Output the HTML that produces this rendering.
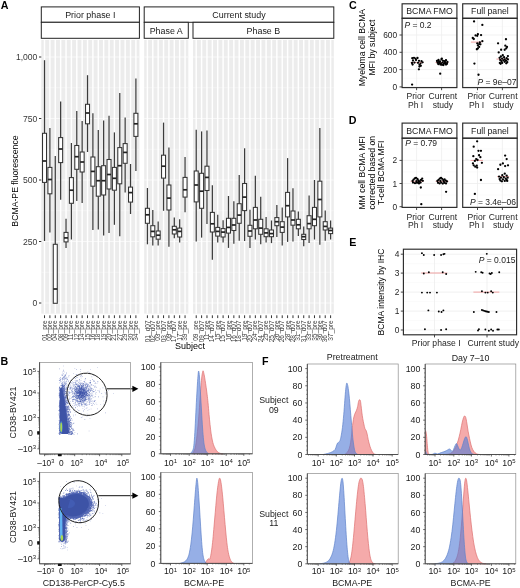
<!DOCTYPE html>
<html lang="en"><head><meta charset="utf-8"><title>Figure</title>
<style>
html,body{margin:0;padding:0;background:#fff;}
svg{display:block;font-family:"Liberation Sans", sans-serif;}
</style></head><body>
<svg width="520" height="588" viewBox="0 0 520 588">
<rect x="0" y="0" width="520" height="588" fill="#fff"/>
<rect x="41.3" y="40" width="98.1" height="273.6" fill="#ececec" stroke="none" stroke-width="1" />
<line x1="41.3" y1="272.25" x2="139.4" y2="272.25" stroke="#f5f5f5" stroke-width="0.8" />
<line x1="41.3" y1="210.75" x2="139.4" y2="210.75" stroke="#f5f5f5" stroke-width="0.8" />
<line x1="41.3" y1="149.25" x2="139.4" y2="149.25" stroke="#f5f5f5" stroke-width="0.8" />
<line x1="41.3" y1="87.75" x2="139.4" y2="87.75" stroke="#f5f5f5" stroke-width="0.8" />
<line x1="41.3" y1="303" x2="139.4" y2="303" stroke="#fafafa" stroke-width="0.85" />
<line x1="41.3" y1="241.5" x2="139.4" y2="241.5" stroke="#fafafa" stroke-width="0.85" />
<line x1="41.3" y1="180" x2="139.4" y2="180" stroke="#fafafa" stroke-width="0.85" />
<line x1="41.3" y1="118.5" x2="139.4" y2="118.5" stroke="#fafafa" stroke-width="0.85" />
<line x1="41.3" y1="57" x2="139.4" y2="57" stroke="#fafafa" stroke-width="0.85" />
<line x1="44.52" y1="40" x2="44.52" y2="313.6" stroke="#ffffff" stroke-width="1.45" />
<line x1="44.52" y1="315.3" x2="44.52" y2="318.1" stroke="#333" stroke-width="1" />
<line x1="49.9" y1="40" x2="49.9" y2="313.6" stroke="#ffffff" stroke-width="1.45" />
<line x1="49.9" y1="315.3" x2="49.9" y2="318.1" stroke="#333" stroke-width="1" />
<line x1="55.27" y1="40" x2="55.27" y2="313.6" stroke="#ffffff" stroke-width="1.45" />
<line x1="55.27" y1="315.3" x2="55.27" y2="318.1" stroke="#333" stroke-width="1" />
<line x1="60.65" y1="40" x2="60.65" y2="313.6" stroke="#ffffff" stroke-width="1.45" />
<line x1="60.65" y1="315.3" x2="60.65" y2="318.1" stroke="#333" stroke-width="1" />
<line x1="66.03" y1="40" x2="66.03" y2="313.6" stroke="#ffffff" stroke-width="1.45" />
<line x1="66.03" y1="315.3" x2="66.03" y2="318.1" stroke="#333" stroke-width="1" />
<line x1="71.4" y1="40" x2="71.4" y2="313.6" stroke="#ffffff" stroke-width="1.45" />
<line x1="71.4" y1="315.3" x2="71.4" y2="318.1" stroke="#333" stroke-width="1" />
<line x1="76.78" y1="40" x2="76.78" y2="313.6" stroke="#ffffff" stroke-width="1.45" />
<line x1="76.78" y1="315.3" x2="76.78" y2="318.1" stroke="#333" stroke-width="1" />
<line x1="82.15" y1="40" x2="82.15" y2="313.6" stroke="#ffffff" stroke-width="1.45" />
<line x1="82.15" y1="315.3" x2="82.15" y2="318.1" stroke="#333" stroke-width="1" />
<line x1="87.53" y1="40" x2="87.53" y2="313.6" stroke="#ffffff" stroke-width="1.45" />
<line x1="87.53" y1="315.3" x2="87.53" y2="318.1" stroke="#333" stroke-width="1" />
<line x1="92.9" y1="40" x2="92.9" y2="313.6" stroke="#ffffff" stroke-width="1.45" />
<line x1="92.9" y1="315.3" x2="92.9" y2="318.1" stroke="#333" stroke-width="1" />
<line x1="98.28" y1="40" x2="98.28" y2="313.6" stroke="#ffffff" stroke-width="1.45" />
<line x1="98.28" y1="315.3" x2="98.28" y2="318.1" stroke="#333" stroke-width="1" />
<line x1="103.65" y1="40" x2="103.65" y2="313.6" stroke="#ffffff" stroke-width="1.45" />
<line x1="103.65" y1="315.3" x2="103.65" y2="318.1" stroke="#333" stroke-width="1" />
<line x1="109.03" y1="40" x2="109.03" y2="313.6" stroke="#ffffff" stroke-width="1.45" />
<line x1="109.03" y1="315.3" x2="109.03" y2="318.1" stroke="#333" stroke-width="1" />
<line x1="114.4" y1="40" x2="114.4" y2="313.6" stroke="#ffffff" stroke-width="1.45" />
<line x1="114.4" y1="315.3" x2="114.4" y2="318.1" stroke="#333" stroke-width="1" />
<line x1="119.78" y1="40" x2="119.78" y2="313.6" stroke="#ffffff" stroke-width="1.45" />
<line x1="119.78" y1="315.3" x2="119.78" y2="318.1" stroke="#333" stroke-width="1" />
<line x1="125.15" y1="40" x2="125.15" y2="313.6" stroke="#ffffff" stroke-width="1.45" />
<line x1="125.15" y1="315.3" x2="125.15" y2="318.1" stroke="#333" stroke-width="1" />
<line x1="130.53" y1="40" x2="130.53" y2="313.6" stroke="#ffffff" stroke-width="1.45" />
<line x1="130.53" y1="315.3" x2="130.53" y2="318.1" stroke="#333" stroke-width="1" />
<line x1="135.9" y1="40" x2="135.9" y2="313.6" stroke="#ffffff" stroke-width="1.45" />
<line x1="135.9" y1="315.3" x2="135.9" y2="318.1" stroke="#333" stroke-width="1" />
<rect x="144.2" y="40" width="44.1" height="273.6" fill="#ececec" stroke="none" stroke-width="1" />
<line x1="144.2" y1="272.25" x2="188.3" y2="272.25" stroke="#f5f5f5" stroke-width="0.8" />
<line x1="144.2" y1="210.75" x2="188.3" y2="210.75" stroke="#f5f5f5" stroke-width="0.8" />
<line x1="144.2" y1="149.25" x2="188.3" y2="149.25" stroke="#f5f5f5" stroke-width="0.8" />
<line x1="144.2" y1="87.75" x2="188.3" y2="87.75" stroke="#f5f5f5" stroke-width="0.8" />
<line x1="144.2" y1="303" x2="188.3" y2="303" stroke="#fafafa" stroke-width="0.85" />
<line x1="144.2" y1="241.5" x2="188.3" y2="241.5" stroke="#fafafa" stroke-width="0.85" />
<line x1="144.2" y1="180" x2="188.3" y2="180" stroke="#fafafa" stroke-width="0.85" />
<line x1="144.2" y1="118.5" x2="188.3" y2="118.5" stroke="#fafafa" stroke-width="0.85" />
<line x1="144.2" y1="57" x2="188.3" y2="57" stroke="#fafafa" stroke-width="0.85" />
<line x1="147.42" y1="40" x2="147.42" y2="313.6" stroke="#ffffff" stroke-width="1.45" />
<line x1="147.42" y1="315.3" x2="147.42" y2="318.1" stroke="#333" stroke-width="1" />
<line x1="152.8" y1="40" x2="152.8" y2="313.6" stroke="#ffffff" stroke-width="1.45" />
<line x1="152.8" y1="315.3" x2="152.8" y2="318.1" stroke="#333" stroke-width="1" />
<line x1="158.17" y1="40" x2="158.17" y2="313.6" stroke="#ffffff" stroke-width="1.45" />
<line x1="158.17" y1="315.3" x2="158.17" y2="318.1" stroke="#333" stroke-width="1" />
<line x1="163.55" y1="40" x2="163.55" y2="313.6" stroke="#ffffff" stroke-width="1.45" />
<line x1="163.55" y1="315.3" x2="163.55" y2="318.1" stroke="#333" stroke-width="1" />
<line x1="168.92" y1="40" x2="168.92" y2="313.6" stroke="#ffffff" stroke-width="1.45" />
<line x1="168.92" y1="315.3" x2="168.92" y2="318.1" stroke="#333" stroke-width="1" />
<line x1="174.3" y1="40" x2="174.3" y2="313.6" stroke="#ffffff" stroke-width="1.45" />
<line x1="174.3" y1="315.3" x2="174.3" y2="318.1" stroke="#333" stroke-width="1" />
<line x1="179.67" y1="40" x2="179.67" y2="313.6" stroke="#ffffff" stroke-width="1.45" />
<line x1="179.67" y1="315.3" x2="179.67" y2="318.1" stroke="#333" stroke-width="1" />
<line x1="185.05" y1="40" x2="185.05" y2="313.6" stroke="#ffffff" stroke-width="1.45" />
<line x1="185.05" y1="315.3" x2="185.05" y2="318.1" stroke="#333" stroke-width="1" />
<rect x="193" y="40" width="140.8" height="273.6" fill="#ececec" stroke="none" stroke-width="1" />
<line x1="193" y1="272.25" x2="333.8" y2="272.25" stroke="#f5f5f5" stroke-width="0.8" />
<line x1="193" y1="210.75" x2="333.8" y2="210.75" stroke="#f5f5f5" stroke-width="0.8" />
<line x1="193" y1="149.25" x2="333.8" y2="149.25" stroke="#f5f5f5" stroke-width="0.8" />
<line x1="193" y1="87.75" x2="333.8" y2="87.75" stroke="#f5f5f5" stroke-width="0.8" />
<line x1="193" y1="303" x2="333.8" y2="303" stroke="#fafafa" stroke-width="0.85" />
<line x1="193" y1="241.5" x2="333.8" y2="241.5" stroke="#fafafa" stroke-width="0.85" />
<line x1="193" y1="180" x2="333.8" y2="180" stroke="#fafafa" stroke-width="0.85" />
<line x1="193" y1="118.5" x2="333.8" y2="118.5" stroke="#fafafa" stroke-width="0.85" />
<line x1="193" y1="57" x2="333.8" y2="57" stroke="#fafafa" stroke-width="0.85" />
<line x1="196.22" y1="40" x2="196.22" y2="313.6" stroke="#ffffff" stroke-width="1.45" />
<line x1="196.22" y1="315.3" x2="196.22" y2="318.1" stroke="#333" stroke-width="1" />
<line x1="201.6" y1="40" x2="201.6" y2="313.6" stroke="#ffffff" stroke-width="1.45" />
<line x1="201.6" y1="315.3" x2="201.6" y2="318.1" stroke="#333" stroke-width="1" />
<line x1="206.97" y1="40" x2="206.97" y2="313.6" stroke="#ffffff" stroke-width="1.45" />
<line x1="206.97" y1="315.3" x2="206.97" y2="318.1" stroke="#333" stroke-width="1" />
<line x1="212.35" y1="40" x2="212.35" y2="313.6" stroke="#ffffff" stroke-width="1.45" />
<line x1="212.35" y1="315.3" x2="212.35" y2="318.1" stroke="#333" stroke-width="1" />
<line x1="217.72" y1="40" x2="217.72" y2="313.6" stroke="#ffffff" stroke-width="1.45" />
<line x1="217.72" y1="315.3" x2="217.72" y2="318.1" stroke="#333" stroke-width="1" />
<line x1="223.1" y1="40" x2="223.1" y2="313.6" stroke="#ffffff" stroke-width="1.45" />
<line x1="223.1" y1="315.3" x2="223.1" y2="318.1" stroke="#333" stroke-width="1" />
<line x1="228.47" y1="40" x2="228.47" y2="313.6" stroke="#ffffff" stroke-width="1.45" />
<line x1="228.47" y1="315.3" x2="228.47" y2="318.1" stroke="#333" stroke-width="1" />
<line x1="233.85" y1="40" x2="233.85" y2="313.6" stroke="#ffffff" stroke-width="1.45" />
<line x1="233.85" y1="315.3" x2="233.85" y2="318.1" stroke="#333" stroke-width="1" />
<line x1="239.22" y1="40" x2="239.22" y2="313.6" stroke="#ffffff" stroke-width="1.45" />
<line x1="239.22" y1="315.3" x2="239.22" y2="318.1" stroke="#333" stroke-width="1" />
<line x1="244.6" y1="40" x2="244.6" y2="313.6" stroke="#ffffff" stroke-width="1.45" />
<line x1="244.6" y1="315.3" x2="244.6" y2="318.1" stroke="#333" stroke-width="1" />
<line x1="249.97" y1="40" x2="249.97" y2="313.6" stroke="#ffffff" stroke-width="1.45" />
<line x1="249.97" y1="315.3" x2="249.97" y2="318.1" stroke="#333" stroke-width="1" />
<line x1="255.35" y1="40" x2="255.35" y2="313.6" stroke="#ffffff" stroke-width="1.45" />
<line x1="255.35" y1="315.3" x2="255.35" y2="318.1" stroke="#333" stroke-width="1" />
<line x1="260.73" y1="40" x2="260.73" y2="313.6" stroke="#ffffff" stroke-width="1.45" />
<line x1="260.73" y1="315.3" x2="260.73" y2="318.1" stroke="#333" stroke-width="1" />
<line x1="266.1" y1="40" x2="266.1" y2="313.6" stroke="#ffffff" stroke-width="1.45" />
<line x1="266.1" y1="315.3" x2="266.1" y2="318.1" stroke="#333" stroke-width="1" />
<line x1="271.48" y1="40" x2="271.48" y2="313.6" stroke="#ffffff" stroke-width="1.45" />
<line x1="271.48" y1="315.3" x2="271.48" y2="318.1" stroke="#333" stroke-width="1" />
<line x1="276.85" y1="40" x2="276.85" y2="313.6" stroke="#ffffff" stroke-width="1.45" />
<line x1="276.85" y1="315.3" x2="276.85" y2="318.1" stroke="#333" stroke-width="1" />
<line x1="282.23" y1="40" x2="282.23" y2="313.6" stroke="#ffffff" stroke-width="1.45" />
<line x1="282.23" y1="315.3" x2="282.23" y2="318.1" stroke="#333" stroke-width="1" />
<line x1="287.6" y1="40" x2="287.6" y2="313.6" stroke="#ffffff" stroke-width="1.45" />
<line x1="287.6" y1="315.3" x2="287.6" y2="318.1" stroke="#333" stroke-width="1" />
<line x1="292.98" y1="40" x2="292.98" y2="313.6" stroke="#ffffff" stroke-width="1.45" />
<line x1="292.98" y1="315.3" x2="292.98" y2="318.1" stroke="#333" stroke-width="1" />
<line x1="298.35" y1="40" x2="298.35" y2="313.6" stroke="#ffffff" stroke-width="1.45" />
<line x1="298.35" y1="315.3" x2="298.35" y2="318.1" stroke="#333" stroke-width="1" />
<line x1="303.73" y1="40" x2="303.73" y2="313.6" stroke="#ffffff" stroke-width="1.45" />
<line x1="303.73" y1="315.3" x2="303.73" y2="318.1" stroke="#333" stroke-width="1" />
<line x1="309.1" y1="40" x2="309.1" y2="313.6" stroke="#ffffff" stroke-width="1.45" />
<line x1="309.1" y1="315.3" x2="309.1" y2="318.1" stroke="#333" stroke-width="1" />
<line x1="314.48" y1="40" x2="314.48" y2="313.6" stroke="#ffffff" stroke-width="1.45" />
<line x1="314.48" y1="315.3" x2="314.48" y2="318.1" stroke="#333" stroke-width="1" />
<line x1="319.85" y1="40" x2="319.85" y2="313.6" stroke="#ffffff" stroke-width="1.45" />
<line x1="319.85" y1="315.3" x2="319.85" y2="318.1" stroke="#333" stroke-width="1" />
<line x1="325.23" y1="40" x2="325.23" y2="313.6" stroke="#ffffff" stroke-width="1.45" />
<line x1="325.23" y1="315.3" x2="325.23" y2="318.1" stroke="#333" stroke-width="1" />
<line x1="330.6" y1="40" x2="330.6" y2="313.6" stroke="#ffffff" stroke-width="1.45" />
<line x1="330.6" y1="315.3" x2="330.6" y2="318.1" stroke="#333" stroke-width="1" />
<rect x="41.3" y="6.9" width="98.1" height="15.4" fill="#fff" stroke="#222" stroke-width="1" />
<rect x="41.3" y="22.3" width="98.1" height="16" fill="#fff" stroke="#222" stroke-width="1" />
<rect x="144.2" y="6.9" width="189.6" height="15.4" fill="#fff" stroke="#222" stroke-width="1" />
<rect x="144.2" y="22.3" width="44.1" height="16" fill="#fff" stroke="#222" stroke-width="1" />
<rect x="193" y="22.3" width="140.8" height="16" fill="#fff" stroke="#222" stroke-width="1" />
<text x="90.3" y="18.2" font-size="8.9" text-anchor="middle" fill="#1a1a1a">Prior phase I</text>
<text x="239" y="18.2" font-size="8.9" text-anchor="middle" fill="#1a1a1a">Current study</text>
<text x="166.2" y="33.8" font-size="8.9" text-anchor="middle" fill="#1a1a1a">Phase A</text>
<text x="263.4" y="33.8" font-size="8.9" text-anchor="middle" fill="#1a1a1a">Phase B</text>
<line x1="39" y1="303" x2="41.3" y2="303" stroke="#333" stroke-width="1" />
<text x="37.4" y="306" font-size="8.6" text-anchor="end" fill="#383838">0</text>
<line x1="39" y1="241.5" x2="41.3" y2="241.5" stroke="#333" stroke-width="1" />
<text x="37.4" y="244.5" font-size="8.6" text-anchor="end" fill="#383838">250</text>
<line x1="39" y1="180" x2="41.3" y2="180" stroke="#333" stroke-width="1" />
<text x="37.4" y="183" font-size="8.6" text-anchor="end" fill="#383838">500</text>
<line x1="39" y1="118.5" x2="41.3" y2="118.5" stroke="#333" stroke-width="1" />
<text x="37.4" y="121.5" font-size="8.6" text-anchor="end" fill="#383838">750</text>
<line x1="39" y1="57" x2="41.3" y2="57" stroke="#333" stroke-width="1" />
<text x="37.4" y="60" font-size="8.6" text-anchor="end" fill="#383838">1,000</text>
<text x="17.8" y="181" font-size="8.7" text-anchor="middle" fill="#000" transform="rotate(-90 17.8 181)">BCMA-PE fluorescence</text>
<text x="190" y="349.2" font-size="9" text-anchor="middle" fill="#000">Subject</text>
<line x1="44.52" y1="60.2" x2="44.52" y2="133.3" stroke="#3c3c3c" stroke-width="1.25" />
<line x1="44.52" y1="182.4" x2="44.52" y2="241" stroke="#3c3c3c" stroke-width="1.25" />
<rect x="42.52" y="133.3" width="4" height="49.1" fill="#fff" stroke="#333" stroke-width="1.05" />
<line x1="42.52" y1="161" x2="46.52" y2="161" stroke="#222" stroke-width="1.7" />
<text x="46.62" y="320.3" font-size="6.6" text-anchor="end" fill="#3a3a3a" transform="rotate(-90 46.62 320.3)">01_pre</text>
<line x1="49.9" y1="128" x2="49.9" y2="167.4" stroke="#3c3c3c" stroke-width="1.25" />
<line x1="49.9" y1="193.8" x2="49.9" y2="232.4" stroke="#3c3c3c" stroke-width="1.25" />
<rect x="47.9" y="167.4" width="4" height="26.4" fill="#fff" stroke="#333" stroke-width="1.05" />
<line x1="47.9" y1="179.5" x2="51.9" y2="179.5" stroke="#222" stroke-width="1.7" />
<text x="52" y="320.3" font-size="6.6" text-anchor="end" fill="#3a3a3a" transform="rotate(-90 52 320.3)">02_pre</text>
<line x1="55.27" y1="156" x2="55.27" y2="244.3" stroke="#3c3c3c" stroke-width="1.25" />
<line x1="55.27" y1="303.3" x2="55.27" y2="303.3" stroke="#3c3c3c" stroke-width="1.25" />
<rect x="53.27" y="244.3" width="4" height="59" fill="#fff" stroke="#333" stroke-width="1.05" />
<line x1="53.27" y1="289" x2="57.27" y2="289" stroke="#222" stroke-width="1.7" />
<text x="57.38" y="320.3" font-size="6.6" text-anchor="end" fill="#3a3a3a" transform="rotate(-90 57.38 320.3)">04_pre</text>
<line x1="60.65" y1="101.4" x2="60.65" y2="137.6" stroke="#3c3c3c" stroke-width="1.25" />
<line x1="60.65" y1="162.6" x2="60.65" y2="199.8" stroke="#3c3c3c" stroke-width="1.25" />
<rect x="58.65" y="137.6" width="4" height="25" fill="#fff" stroke="#333" stroke-width="1.05" />
<line x1="58.65" y1="149" x2="62.65" y2="149" stroke="#222" stroke-width="1.7" />
<text x="62.75" y="320.3" font-size="6.6" text-anchor="end" fill="#3a3a3a" transform="rotate(-90 62.75 320.3)">08_pre</text>
<line x1="66.03" y1="218.8" x2="66.03" y2="232.4" stroke="#3c3c3c" stroke-width="1.25" />
<line x1="66.03" y1="241.9" x2="66.03" y2="248" stroke="#3c3c3c" stroke-width="1.25" />
<rect x="64.03" y="232.4" width="4" height="9.5" fill="#fff" stroke="#333" stroke-width="1.05" />
<line x1="64.03" y1="237.9" x2="68.03" y2="237.9" stroke="#222" stroke-width="1.7" />
<text x="68.12" y="320.3" font-size="6.6" text-anchor="end" fill="#3a3a3a" transform="rotate(-90 68.12 320.3)">09_pre</text>
<line x1="71.4" y1="143" x2="71.4" y2="177.6" stroke="#3c3c3c" stroke-width="1.25" />
<line x1="71.4" y1="203.3" x2="71.4" y2="239.5" stroke="#3c3c3c" stroke-width="1.25" />
<rect x="69.4" y="177.6" width="4" height="25.7" fill="#fff" stroke="#333" stroke-width="1.05" />
<line x1="69.4" y1="190.2" x2="73.4" y2="190.2" stroke="#222" stroke-width="1.7" />
<text x="73.5" y="320.3" font-size="6.6" text-anchor="end" fill="#3a3a3a" transform="rotate(-90 73.5 320.3)">11_pre</text>
<line x1="76.78" y1="111" x2="76.78" y2="145.5" stroke="#3c3c3c" stroke-width="1.25" />
<line x1="76.78" y1="169.3" x2="76.78" y2="201" stroke="#3c3c3c" stroke-width="1.25" />
<rect x="74.78" y="145.5" width="4" height="23.8" fill="#fff" stroke="#333" stroke-width="1.05" />
<line x1="74.78" y1="156.7" x2="78.78" y2="156.7" stroke="#222" stroke-width="1.7" />
<text x="78.88" y="320.3" font-size="6.6" text-anchor="end" fill="#3a3a3a" transform="rotate(-90 78.88 320.3)">12_pre</text>
<line x1="82.15" y1="121" x2="82.15" y2="152" stroke="#3c3c3c" stroke-width="1.25" />
<line x1="82.15" y1="172" x2="82.15" y2="202.9" stroke="#3c3c3c" stroke-width="1.25" />
<rect x="80.15" y="152" width="4" height="20" fill="#fff" stroke="#333" stroke-width="1.05" />
<line x1="80.15" y1="162" x2="84.15" y2="162" stroke="#222" stroke-width="1.7" />
<text x="84.25" y="320.3" font-size="6.6" text-anchor="end" fill="#3a3a3a" transform="rotate(-90 84.25 320.3)">14_pre</text>
<line x1="87.53" y1="75.2" x2="87.53" y2="104.3" stroke="#3c3c3c" stroke-width="1.25" />
<line x1="87.53" y1="123.8" x2="87.53" y2="152" stroke="#3c3c3c" stroke-width="1.25" />
<rect x="85.53" y="104.3" width="4" height="19.5" fill="#fff" stroke="#333" stroke-width="1.05" />
<line x1="85.53" y1="113" x2="89.53" y2="113" stroke="#222" stroke-width="1.7" />
<text x="89.62" y="320.3" font-size="6.6" text-anchor="end" fill="#3a3a3a" transform="rotate(-90 89.62 320.3)">15_pre</text>
<line x1="92.9" y1="113.3" x2="92.9" y2="157" stroke="#3c3c3c" stroke-width="1.25" />
<line x1="92.9" y1="186.2" x2="92.9" y2="230" stroke="#3c3c3c" stroke-width="1.25" />
<rect x="90.9" y="157" width="4" height="29.2" fill="#fff" stroke="#333" stroke-width="1.05" />
<line x1="90.9" y1="171.4" x2="94.9" y2="171.4" stroke="#222" stroke-width="1.7" />
<text x="95" y="320.3" font-size="6.6" text-anchor="end" fill="#3a3a3a" transform="rotate(-90 95 320.3)">16_pre</text>
<line x1="98.28" y1="130" x2="98.28" y2="166.7" stroke="#3c3c3c" stroke-width="1.25" />
<line x1="98.28" y1="196.2" x2="98.28" y2="229.5" stroke="#3c3c3c" stroke-width="1.25" />
<rect x="96.28" y="166.7" width="4" height="29.5" fill="#fff" stroke="#333" stroke-width="1.05" />
<line x1="96.28" y1="180.7" x2="100.28" y2="180.7" stroke="#222" stroke-width="1.7" />
<text x="100.38" y="320.3" font-size="6.6" text-anchor="end" fill="#3a3a3a" transform="rotate(-90 100.38 320.3)">18_pre</text>
<line x1="103.65" y1="120.5" x2="103.65" y2="165.7" stroke="#3c3c3c" stroke-width="1.25" />
<line x1="103.65" y1="195" x2="103.65" y2="235.5" stroke="#3c3c3c" stroke-width="1.25" />
<rect x="101.65" y="165.7" width="4" height="29.3" fill="#fff" stroke="#333" stroke-width="1.05" />
<line x1="101.65" y1="180.7" x2="105.65" y2="180.7" stroke="#222" stroke-width="1.7" />
<text x="105.75" y="320.3" font-size="6.6" text-anchor="end" fill="#3a3a3a" transform="rotate(-90 105.75 320.3)">19_pre</text>
<line x1="109.03" y1="115.7" x2="109.03" y2="159.5" stroke="#3c3c3c" stroke-width="1.25" />
<line x1="109.03" y1="189" x2="109.03" y2="233" stroke="#3c3c3c" stroke-width="1.25" />
<rect x="107.03" y="159.5" width="4" height="29.5" fill="#fff" stroke="#333" stroke-width="1.05" />
<line x1="107.03" y1="174.5" x2="111.03" y2="174.5" stroke="#222" stroke-width="1.7" />
<text x="111.12" y="320.3" font-size="6.6" text-anchor="end" fill="#3a3a3a" transform="rotate(-90 111.12 320.3)">20_pre</text>
<line x1="114.4" y1="132.4" x2="114.4" y2="167.4" stroke="#3c3c3c" stroke-width="1.25" />
<line x1="114.4" y1="190.2" x2="114.4" y2="224.8" stroke="#3c3c3c" stroke-width="1.25" />
<rect x="112.4" y="167.4" width="4" height="22.8" fill="#fff" stroke="#333" stroke-width="1.05" />
<line x1="112.4" y1="178.3" x2="116.4" y2="178.3" stroke="#222" stroke-width="1.7" />
<text x="116.5" y="320.3" font-size="6.6" text-anchor="end" fill="#3a3a3a" transform="rotate(-90 116.5 320.3)">21_pre</text>
<line x1="119.78" y1="92.9" x2="119.78" y2="147.6" stroke="#3c3c3c" stroke-width="1.25" />
<line x1="119.78" y1="183.8" x2="119.78" y2="236.2" stroke="#3c3c3c" stroke-width="1.25" />
<rect x="117.78" y="147.6" width="4" height="36.2" fill="#fff" stroke="#333" stroke-width="1.05" />
<line x1="117.78" y1="165.7" x2="121.78" y2="165.7" stroke="#222" stroke-width="1.7" />
<text x="121.88" y="320.3" font-size="6.6" text-anchor="end" fill="#3a3a3a" transform="rotate(-90 121.88 320.3)">27_pre</text>
<line x1="125.15" y1="117.4" x2="125.15" y2="143.6" stroke="#3c3c3c" stroke-width="1.25" />
<line x1="125.15" y1="163.3" x2="125.15" y2="192.6" stroke="#3c3c3c" stroke-width="1.25" />
<rect x="123.15" y="143.6" width="4" height="19.7" fill="#fff" stroke="#333" stroke-width="1.05" />
<line x1="123.15" y1="152.4" x2="127.15" y2="152.4" stroke="#222" stroke-width="1.7" />
<text x="127.25" y="320.3" font-size="6.6" text-anchor="end" fill="#3a3a3a" transform="rotate(-90 127.25 320.3)">29_pre</text>
<line x1="130.53" y1="164" x2="130.53" y2="187.1" stroke="#3c3c3c" stroke-width="1.25" />
<line x1="130.53" y1="202.1" x2="130.53" y2="214" stroke="#3c3c3c" stroke-width="1.25" />
<rect x="128.53" y="187.1" width="4" height="15" fill="#fff" stroke="#333" stroke-width="1.05" />
<line x1="128.53" y1="192.6" x2="132.53" y2="192.6" stroke="#222" stroke-width="1.7" />
<text x="132.62" y="320.3" font-size="6.6" text-anchor="end" fill="#3a3a3a" transform="rotate(-90 132.62 320.3)">30_pre</text>
<line x1="135.9" y1="78.6" x2="135.9" y2="113.3" stroke="#3c3c3c" stroke-width="1.25" />
<line x1="135.9" y1="136.4" x2="135.9" y2="171" stroke="#3c3c3c" stroke-width="1.25" />
<rect x="133.9" y="113.3" width="4" height="23.1" fill="#fff" stroke="#333" stroke-width="1.05" />
<line x1="133.9" y1="123.8" x2="137.9" y2="123.8" stroke="#222" stroke-width="1.7" />
<text x="138" y="320.3" font-size="6.6" text-anchor="end" fill="#3a3a3a" transform="rotate(-90 138 320.3)">34_pre</text>
<line x1="147.42" y1="188" x2="147.42" y2="208.3" stroke="#3c3c3c" stroke-width="1.25" />
<line x1="147.42" y1="223.3" x2="147.42" y2="244.3" stroke="#3c3c3c" stroke-width="1.25" />
<rect x="145.42" y="208.3" width="4" height="15" fill="#fff" stroke="#333" stroke-width="1.05" />
<line x1="145.42" y1="214.8" x2="149.42" y2="214.8" stroke="#222" stroke-width="1.7" />
<text x="149.52" y="320.3" font-size="6.6" text-anchor="end" fill="#3a3a3a" transform="rotate(-90 149.52 320.3)">01_d07</text>
<line x1="152.8" y1="210" x2="152.8" y2="225.7" stroke="#3c3c3c" stroke-width="1.25" />
<line x1="152.8" y1="236.8" x2="152.8" y2="245.5" stroke="#3c3c3c" stroke-width="1.25" />
<rect x="150.8" y="225.7" width="4" height="11.1" fill="#fff" stroke="#333" stroke-width="1.05" />
<line x1="150.8" y1="231.4" x2="154.8" y2="231.4" stroke="#222" stroke-width="1.7" />
<text x="154.9" y="320.3" font-size="6.6" text-anchor="end" fill="#3a3a3a" transform="rotate(-90 154.9 320.3)">02_d07</text>
<line x1="158.17" y1="221.4" x2="158.17" y2="231" stroke="#3c3c3c" stroke-width="1.25" />
<line x1="158.17" y1="239.2" x2="158.17" y2="245.5" stroke="#3c3c3c" stroke-width="1.25" />
<rect x="156.17" y="231" width="4" height="8.2" fill="#fff" stroke="#333" stroke-width="1.05" />
<line x1="156.17" y1="235.2" x2="160.17" y2="235.2" stroke="#222" stroke-width="1.7" />
<text x="160.27" y="320.3" font-size="6.6" text-anchor="end" fill="#3a3a3a" transform="rotate(-90 160.27 320.3)">03_pre</text>
<line x1="163.55" y1="122.6" x2="163.55" y2="155.2" stroke="#3c3c3c" stroke-width="1.25" />
<line x1="163.55" y1="178.1" x2="163.55" y2="210.8" stroke="#3c3c3c" stroke-width="1.25" />
<rect x="161.55" y="155.2" width="4" height="22.9" fill="#fff" stroke="#333" stroke-width="1.05" />
<line x1="161.55" y1="166.2" x2="165.55" y2="166.2" stroke="#222" stroke-width="1.7" />
<text x="165.65" y="320.3" font-size="6.6" text-anchor="end" fill="#3a3a3a" transform="rotate(-90 165.65 320.3)">03_d07</text>
<line x1="168.92" y1="147.6" x2="168.92" y2="185" stroke="#3c3c3c" stroke-width="1.25" />
<line x1="168.92" y1="210" x2="168.92" y2="246.7" stroke="#3c3c3c" stroke-width="1.25" />
<rect x="166.92" y="185" width="4" height="25" fill="#fff" stroke="#333" stroke-width="1.05" />
<line x1="166.92" y1="198.1" x2="170.92" y2="198.1" stroke="#222" stroke-width="1.7" />
<text x="171.02" y="320.3" font-size="6.6" text-anchor="end" fill="#3a3a3a" transform="rotate(-90 171.02 320.3)">09_pre</text>
<line x1="174.3" y1="217.4" x2="174.3" y2="226.3" stroke="#3c3c3c" stroke-width="1.25" />
<line x1="174.3" y1="234" x2="174.3" y2="238.2" stroke="#3c3c3c" stroke-width="1.25" />
<rect x="172.3" y="226.3" width="4" height="7.7" fill="#fff" stroke="#333" stroke-width="1.05" />
<line x1="172.3" y1="229.8" x2="176.3" y2="229.8" stroke="#222" stroke-width="1.7" />
<text x="176.4" y="320.3" font-size="6.6" text-anchor="end" fill="#3a3a3a" transform="rotate(-90 176.4 320.3)">17_d07</text>
<line x1="179.67" y1="219.2" x2="179.67" y2="228.1" stroke="#3c3c3c" stroke-width="1.25" />
<line x1="179.67" y1="237" x2="179.67" y2="242.4" stroke="#3c3c3c" stroke-width="1.25" />
<rect x="177.67" y="228.1" width="4" height="8.9" fill="#fff" stroke="#333" stroke-width="1.05" />
<line x1="177.67" y1="231.4" x2="181.67" y2="231.4" stroke="#222" stroke-width="1.7" />
<text x="181.77" y="320.3" font-size="6.6" text-anchor="end" fill="#3a3a3a" transform="rotate(-90 181.77 320.3)">17_pre</text>
<line x1="185.05" y1="157.1" x2="185.05" y2="177.4" stroke="#3c3c3c" stroke-width="1.25" />
<line x1="185.05" y1="197.1" x2="185.05" y2="212.2" stroke="#3c3c3c" stroke-width="1.25" />
<rect x="183.05" y="177.4" width="4" height="19.7" fill="#fff" stroke="#333" stroke-width="1.05" />
<line x1="183.05" y1="189.8" x2="187.05" y2="189.8" stroke="#222" stroke-width="1.7" />
<text x="187.15" y="320.3" font-size="6.6" text-anchor="end" fill="#3a3a3a" transform="rotate(-90 187.15 320.3)">39_pre</text>
<line x1="196.22" y1="129.8" x2="196.22" y2="171" stroke="#3c3c3c" stroke-width="1.25" />
<line x1="196.22" y1="201.9" x2="196.22" y2="241.4" stroke="#3c3c3c" stroke-width="1.25" />
<rect x="194.22" y="171" width="4" height="30.9" fill="#fff" stroke="#333" stroke-width="1.05" />
<line x1="194.22" y1="185" x2="198.22" y2="185" stroke="#222" stroke-width="1.7" />
<text x="198.32" y="320.3" font-size="6.6" text-anchor="end" fill="#3a3a3a" transform="rotate(-90 198.32 320.3)">09_pre</text>
<line x1="201.6" y1="131.4" x2="201.6" y2="173.3" stroke="#3c3c3c" stroke-width="1.25" />
<line x1="201.6" y1="208.3" x2="201.6" y2="237.6" stroke="#3c3c3c" stroke-width="1.25" />
<rect x="199.6" y="173.3" width="4" height="35" fill="#fff" stroke="#333" stroke-width="1.05" />
<line x1="199.6" y1="191.2" x2="203.6" y2="191.2" stroke="#222" stroke-width="1.7" />
<text x="203.7" y="320.3" font-size="6.6" text-anchor="end" fill="#3a3a3a" transform="rotate(-90 203.7 320.3)">09_d07</text>
<line x1="206.97" y1="130.5" x2="206.97" y2="166.2" stroke="#3c3c3c" stroke-width="1.25" />
<line x1="206.97" y1="190.5" x2="206.97" y2="224" stroke="#3c3c3c" stroke-width="1.25" />
<rect x="204.97" y="166.2" width="4" height="24.3" fill="#fff" stroke="#333" stroke-width="1.05" />
<line x1="204.97" y1="177.4" x2="208.97" y2="177.4" stroke="#222" stroke-width="1.7" />
<text x="209.07" y="320.3" font-size="6.6" text-anchor="end" fill="#3a3a3a" transform="rotate(-90 209.07 320.3)">11_pre</text>
<line x1="212.35" y1="185.2" x2="212.35" y2="212.4" stroke="#3c3c3c" stroke-width="1.25" />
<line x1="212.35" y1="232" x2="212.35" y2="259.8" stroke="#3c3c3c" stroke-width="1.25" />
<rect x="210.35" y="212.4" width="4" height="19.6" fill="#fff" stroke="#333" stroke-width="1.05" />
<line x1="210.35" y1="223.8" x2="214.35" y2="223.8" stroke="#222" stroke-width="1.7" />
<text x="214.45" y="320.3" font-size="6.6" text-anchor="end" fill="#3a3a3a" transform="rotate(-90 214.45 320.3)">14_d07</text>
<line x1="217.72" y1="214.8" x2="217.72" y2="227.4" stroke="#3c3c3c" stroke-width="1.25" />
<line x1="217.72" y1="236.1" x2="217.72" y2="242.4" stroke="#3c3c3c" stroke-width="1.25" />
<rect x="215.72" y="227.4" width="4" height="8.7" fill="#fff" stroke="#333" stroke-width="1.05" />
<line x1="215.72" y1="231.4" x2="219.72" y2="231.4" stroke="#222" stroke-width="1.7" />
<text x="219.82" y="320.3" font-size="6.6" text-anchor="end" fill="#3a3a3a" transform="rotate(-90 219.82 320.3)">15_pre</text>
<line x1="223.1" y1="220.3" x2="223.1" y2="228.6" stroke="#3c3c3c" stroke-width="1.25" />
<line x1="223.1" y1="237" x2="223.1" y2="242.4" stroke="#3c3c3c" stroke-width="1.25" />
<rect x="221.1" y="228.6" width="4" height="8.4" fill="#fff" stroke="#333" stroke-width="1.05" />
<line x1="221.1" y1="232.1" x2="225.1" y2="232.1" stroke="#222" stroke-width="1.7" />
<text x="225.2" y="320.3" font-size="6.6" text-anchor="end" fill="#3a3a3a" transform="rotate(-90 225.2 320.3)">15_d07</text>
<line x1="228.47" y1="196" x2="228.47" y2="218.3" stroke="#3c3c3c" stroke-width="1.25" />
<line x1="228.47" y1="233.1" x2="228.47" y2="247.9" stroke="#3c3c3c" stroke-width="1.25" />
<rect x="226.47" y="218.3" width="4" height="14.8" fill="#fff" stroke="#333" stroke-width="1.05" />
<line x1="226.47" y1="227.4" x2="230.47" y2="227.4" stroke="#222" stroke-width="1.7" />
<text x="230.57" y="320.3" font-size="6.6" text-anchor="end" fill="#3a3a3a" transform="rotate(-90 230.57 320.3)">16_pre</text>
<line x1="233.85" y1="201.3" x2="233.85" y2="218.3" stroke="#3c3c3c" stroke-width="1.25" />
<line x1="233.85" y1="230.5" x2="233.85" y2="243.8" stroke="#3c3c3c" stroke-width="1.25" />
<rect x="231.85" y="218.3" width="4" height="12.2" fill="#fff" stroke="#333" stroke-width="1.05" />
<line x1="231.85" y1="225" x2="235.85" y2="225" stroke="#222" stroke-width="1.7" />
<text x="235.95" y="320.3" font-size="6.6" text-anchor="end" fill="#3a3a3a" transform="rotate(-90 235.95 320.3)">16_d07</text>
<line x1="239.22" y1="175.1" x2="239.22" y2="203.7" stroke="#3c3c3c" stroke-width="1.25" />
<line x1="239.22" y1="223.3" x2="239.22" y2="240.7" stroke="#3c3c3c" stroke-width="1.25" />
<rect x="237.22" y="203.7" width="4" height="19.6" fill="#fff" stroke="#333" stroke-width="1.05" />
<line x1="237.22" y1="215.1" x2="241.22" y2="215.1" stroke="#222" stroke-width="1.7" />
<text x="241.32" y="320.3" font-size="6.6" text-anchor="end" fill="#3a3a3a" transform="rotate(-90 241.32 320.3)">18_d07</text>
<line x1="244.6" y1="148.3" x2="244.6" y2="183.5" stroke="#3c3c3c" stroke-width="1.25" />
<line x1="244.6" y1="210.6" x2="244.6" y2="241" stroke="#3c3c3c" stroke-width="1.25" />
<rect x="242.6" y="183.5" width="4" height="27.1" fill="#fff" stroke="#333" stroke-width="1.05" />
<line x1="242.6" y1="197.1" x2="246.6" y2="197.1" stroke="#222" stroke-width="1.7" />
<text x="246.7" y="320.3" font-size="6.6" text-anchor="end" fill="#3a3a3a" transform="rotate(-90 246.7 320.3)">19_pre</text>
<line x1="249.97" y1="209.8" x2="249.97" y2="225.3" stroke="#3c3c3c" stroke-width="1.25" />
<line x1="249.97" y1="236.3" x2="249.97" y2="247.9" stroke="#3c3c3c" stroke-width="1.25" />
<rect x="247.97" y="225.3" width="4" height="11" fill="#fff" stroke="#333" stroke-width="1.05" />
<line x1="247.97" y1="231" x2="251.97" y2="231" stroke="#222" stroke-width="1.7" />
<text x="252.07" y="320.3" font-size="6.6" text-anchor="end" fill="#3a3a3a" transform="rotate(-90 252.07 320.3)">20_d07</text>
<line x1="255.35" y1="175.7" x2="255.35" y2="207.4" stroke="#3c3c3c" stroke-width="1.25" />
<line x1="255.35" y1="228.8" x2="255.35" y2="239.5" stroke="#3c3c3c" stroke-width="1.25" />
<rect x="253.35" y="207.4" width="4" height="21.4" fill="#fff" stroke="#333" stroke-width="1.05" />
<line x1="253.35" y1="220" x2="257.35" y2="220" stroke="#222" stroke-width="1.7" />
<text x="257.45" y="320.3" font-size="6.6" text-anchor="end" fill="#3a3a3a" transform="rotate(-90 257.45 320.3)">24_pre</text>
<line x1="260.73" y1="196.7" x2="260.73" y2="219.3" stroke="#3c3c3c" stroke-width="1.25" />
<line x1="260.73" y1="234.3" x2="260.73" y2="244.3" stroke="#3c3c3c" stroke-width="1.25" />
<rect x="258.73" y="219.3" width="4" height="15" fill="#fff" stroke="#333" stroke-width="1.05" />
<line x1="258.73" y1="228.1" x2="262.73" y2="228.1" stroke="#222" stroke-width="1.7" />
<text x="262.83" y="320.3" font-size="6.6" text-anchor="end" fill="#3a3a3a" transform="rotate(-90 262.83 320.3)">24_d07</text>
<line x1="266.1" y1="216.9" x2="266.1" y2="228.8" stroke="#3c3c3c" stroke-width="1.25" />
<line x1="266.1" y1="236.7" x2="266.1" y2="242.4" stroke="#3c3c3c" stroke-width="1.25" />
<rect x="264.1" y="228.8" width="4" height="7.9" fill="#fff" stroke="#333" stroke-width="1.05" />
<line x1="264.1" y1="232.9" x2="268.1" y2="232.9" stroke="#222" stroke-width="1.7" />
<text x="268.2" y="320.3" font-size="6.6" text-anchor="end" fill="#3a3a3a" transform="rotate(-90 268.2 320.3)">25_pre</text>
<line x1="271.48" y1="220.5" x2="271.48" y2="230" stroke="#3c3c3c" stroke-width="1.25" />
<line x1="271.48" y1="236.7" x2="271.48" y2="243.1" stroke="#3c3c3c" stroke-width="1.25" />
<rect x="269.48" y="230" width="4" height="6.7" fill="#fff" stroke="#333" stroke-width="1.05" />
<line x1="269.48" y1="233.6" x2="273.48" y2="233.6" stroke="#222" stroke-width="1.7" />
<text x="273.58" y="320.3" font-size="6.6" text-anchor="end" fill="#3a3a3a" transform="rotate(-90 273.58 320.3)">25_d07</text>
<line x1="276.85" y1="205" x2="276.85" y2="217.6" stroke="#3c3c3c" stroke-width="1.25" />
<line x1="276.85" y1="225.7" x2="276.85" y2="237.1" stroke="#3c3c3c" stroke-width="1.25" />
<rect x="274.85" y="217.6" width="4" height="8.1" fill="#fff" stroke="#333" stroke-width="1.05" />
<line x1="274.85" y1="221.7" x2="278.85" y2="221.7" stroke="#222" stroke-width="1.7" />
<text x="278.95" y="320.3" font-size="6.6" text-anchor="end" fill="#3a3a3a" transform="rotate(-90 278.95 320.3)">26_pre</text>
<line x1="282.23" y1="207.4" x2="282.23" y2="221.7" stroke="#3c3c3c" stroke-width="1.25" />
<line x1="282.23" y1="232.4" x2="282.23" y2="245.5" stroke="#3c3c3c" stroke-width="1.25" />
<rect x="280.23" y="221.7" width="4" height="10.7" fill="#fff" stroke="#333" stroke-width="1.05" />
<line x1="280.23" y1="227.1" x2="284.23" y2="227.1" stroke="#222" stroke-width="1.7" />
<text x="284.33" y="320.3" font-size="6.6" text-anchor="end" fill="#3a3a3a" transform="rotate(-90 284.33 320.3)">26_d07</text>
<line x1="287.6" y1="158.1" x2="287.6" y2="192.4" stroke="#3c3c3c" stroke-width="1.25" />
<line x1="287.6" y1="216.9" x2="287.6" y2="241.9" stroke="#3c3c3c" stroke-width="1.25" />
<rect x="285.6" y="192.4" width="4" height="24.5" fill="#fff" stroke="#333" stroke-width="1.05" />
<line x1="285.6" y1="205.7" x2="289.6" y2="205.7" stroke="#222" stroke-width="1.7" />
<text x="289.7" y="320.3" font-size="6.6" text-anchor="end" fill="#3a3a3a" transform="rotate(-90 289.7 320.3)">28_pre</text>
<line x1="292.98" y1="188.3" x2="292.98" y2="211" stroke="#3c3c3c" stroke-width="1.25" />
<line x1="292.98" y1="225.2" x2="292.98" y2="241.4" stroke="#3c3c3c" stroke-width="1.25" />
<rect x="290.98" y="211" width="4" height="14.2" fill="#fff" stroke="#333" stroke-width="1.05" />
<line x1="290.98" y1="220" x2="294.98" y2="220" stroke="#222" stroke-width="1.7" />
<text x="295.08" y="320.3" font-size="6.6" text-anchor="end" fill="#3a3a3a" transform="rotate(-90 295.08 320.3)">28_d07</text>
<line x1="298.35" y1="211.4" x2="298.35" y2="219.3" stroke="#3c3c3c" stroke-width="1.25" />
<line x1="298.35" y1="228.8" x2="298.35" y2="236" stroke="#3c3c3c" stroke-width="1.25" />
<rect x="296.35" y="219.3" width="4" height="9.5" fill="#fff" stroke="#333" stroke-width="1.05" />
<line x1="296.35" y1="224.8" x2="300.35" y2="224.8" stroke="#222" stroke-width="1.7" />
<text x="300.45" y="320.3" font-size="6.6" text-anchor="end" fill="#3a3a3a" transform="rotate(-90 300.45 320.3)">31_pre</text>
<line x1="303.73" y1="226.4" x2="303.73" y2="234.3" stroke="#3c3c3c" stroke-width="1.25" />
<line x1="303.73" y1="239.5" x2="303.73" y2="246.2" stroke="#3c3c3c" stroke-width="1.25" />
<rect x="301.73" y="234.3" width="4" height="5.2" fill="#fff" stroke="#333" stroke-width="1.05" />
<line x1="301.73" y1="236.7" x2="305.73" y2="236.7" stroke="#222" stroke-width="1.7" />
<text x="305.83" y="320.3" font-size="6.6" text-anchor="end" fill="#3a3a3a" transform="rotate(-90 305.83 320.3)">31_d07</text>
<line x1="309.1" y1="195.5" x2="309.1" y2="215.7" stroke="#3c3c3c" stroke-width="1.25" />
<line x1="309.1" y1="228.8" x2="309.1" y2="243.1" stroke="#3c3c3c" stroke-width="1.25" />
<rect x="307.1" y="215.7" width="4" height="13.1" fill="#fff" stroke="#333" stroke-width="1.05" />
<line x1="307.1" y1="223.6" x2="311.1" y2="223.6" stroke="#222" stroke-width="1.7" />
<text x="311.2" y="320.3" font-size="6.6" text-anchor="end" fill="#3a3a3a" transform="rotate(-90 311.2 320.3)">33_pre</text>
<line x1="314.48" y1="180" x2="314.48" y2="207.4" stroke="#3c3c3c" stroke-width="1.25" />
<line x1="314.48" y1="225.7" x2="314.48" y2="239.5" stroke="#3c3c3c" stroke-width="1.25" />
<rect x="312.48" y="207.4" width="4" height="18.3" fill="#fff" stroke="#333" stroke-width="1.05" />
<line x1="312.48" y1="219.3" x2="316.48" y2="219.3" stroke="#222" stroke-width="1.7" />
<text x="316.58" y="320.3" font-size="6.6" text-anchor="end" fill="#3a3a3a" transform="rotate(-90 316.58 320.3)">35_pre</text>
<line x1="319.85" y1="127.9" x2="319.85" y2="181.2" stroke="#3c3c3c" stroke-width="1.25" />
<line x1="319.85" y1="216.9" x2="319.85" y2="244.8" stroke="#3c3c3c" stroke-width="1.25" />
<rect x="317.85" y="181.2" width="4" height="35.7" fill="#fff" stroke="#333" stroke-width="1.05" />
<line x1="317.85" y1="199.5" x2="321.85" y2="199.5" stroke="#222" stroke-width="1.7" />
<text x="321.95" y="320.3" font-size="6.6" text-anchor="end" fill="#3a3a3a" transform="rotate(-90 321.95 320.3)">36_pre</text>
<line x1="325.23" y1="210.5" x2="325.23" y2="221.7" stroke="#3c3c3c" stroke-width="1.25" />
<line x1="325.23" y1="230" x2="325.23" y2="240.7" stroke="#3c3c3c" stroke-width="1.25" />
<rect x="323.23" y="221.7" width="4" height="8.3" fill="#fff" stroke="#333" stroke-width="1.05" />
<line x1="323.23" y1="226.4" x2="327.23" y2="226.4" stroke="#222" stroke-width="1.7" />
<text x="327.33" y="320.3" font-size="6.6" text-anchor="end" fill="#3a3a3a" transform="rotate(-90 327.33 320.3)">36_d07</text>
<line x1="330.6" y1="220.5" x2="330.6" y2="228.1" stroke="#3c3c3c" stroke-width="1.25" />
<line x1="330.6" y1="233.6" x2="330.6" y2="239.5" stroke="#3c3c3c" stroke-width="1.25" />
<rect x="328.6" y="228.1" width="4" height="5.5" fill="#fff" stroke="#333" stroke-width="1.05" />
<line x1="328.6" y1="230.5" x2="332.6" y2="230.5" stroke="#222" stroke-width="1.7" />
<text x="332.7" y="320.3" font-size="6.6" text-anchor="end" fill="#3a3a3a" transform="rotate(-90 332.7 320.3)">37_pre</text>
<text x="0.8" y="9.4" font-size="10.7" text-anchor="start" fill="#000" font-weight="bold">A</text>
<rect x="402.1" y="18.3" width="54.8" height="69.3" fill="#fff" stroke="none" stroke-width="1" />
<line x1="402.1" y1="26.4" x2="456.9" y2="26.4" stroke="#f6f6f6" stroke-width="0.5" />
<line x1="402.1" y1="43.7" x2="456.9" y2="43.7" stroke="#f6f6f6" stroke-width="0.5" />
<line x1="402.1" y1="61" x2="456.9" y2="61" stroke="#f6f6f6" stroke-width="0.5" />
<line x1="402.1" y1="78.3" x2="456.9" y2="78.3" stroke="#f6f6f6" stroke-width="0.5" />
<line x1="402.1" y1="35" x2="456.9" y2="35" stroke="#eeeeee" stroke-width="0.8" />
<line x1="402.1" y1="52.3" x2="456.9" y2="52.3" stroke="#eeeeee" stroke-width="0.8" />
<line x1="402.1" y1="69.6" x2="456.9" y2="69.6" stroke="#eeeeee" stroke-width="0.8" />
<line x1="402.1" y1="86.9" x2="456.9" y2="86.9" stroke="#eeeeee" stroke-width="0.8" />
<line x1="416.6" y1="18.3" x2="416.6" y2="87.6" stroke="#eeeeee" stroke-width="0.8" />
<line x1="441.6" y1="18.3" x2="441.6" y2="87.6" stroke="#eeeeee" stroke-width="0.8" />
<rect x="402.1" y="3.8" width="54.8" height="14.5" fill="#fff" stroke="#2a2a2a" stroke-width="1.15" />
<text x="429.5" y="14.05" font-size="8.7" text-anchor="middle" fill="#1a1a1a">BCMA FMO</text>
<rect x="462.7" y="18.3" width="54.5" height="69.3" fill="#fff" stroke="none" stroke-width="1" />
<line x1="462.7" y1="26.4" x2="517.2" y2="26.4" stroke="#f6f6f6" stroke-width="0.5" />
<line x1="462.7" y1="43.7" x2="517.2" y2="43.7" stroke="#f6f6f6" stroke-width="0.5" />
<line x1="462.7" y1="61" x2="517.2" y2="61" stroke="#f6f6f6" stroke-width="0.5" />
<line x1="462.7" y1="78.3" x2="517.2" y2="78.3" stroke="#f6f6f6" stroke-width="0.5" />
<line x1="462.7" y1="35" x2="517.2" y2="35" stroke="#eeeeee" stroke-width="0.8" />
<line x1="462.7" y1="52.3" x2="517.2" y2="52.3" stroke="#eeeeee" stroke-width="0.8" />
<line x1="462.7" y1="69.6" x2="517.2" y2="69.6" stroke="#eeeeee" stroke-width="0.8" />
<line x1="462.7" y1="86.9" x2="517.2" y2="86.9" stroke="#eeeeee" stroke-width="0.8" />
<line x1="477.5" y1="18.3" x2="477.5" y2="87.6" stroke="#eeeeee" stroke-width="0.8" />
<line x1="502.4" y1="18.3" x2="502.4" y2="87.6" stroke="#eeeeee" stroke-width="0.8" />
<rect x="462.7" y="3.8" width="54.5" height="14.5" fill="#fff" stroke="#2a2a2a" stroke-width="1.15" />
<text x="489.95" y="14.05" font-size="8.7" text-anchor="middle" fill="#1a1a1a">Full panel</text>
<line x1="410.5" y1="62.5" x2="423.5" y2="62.5" stroke="#ee8585" stroke-width="0.75" />
<line x1="435.5" y1="62.5" x2="448.5" y2="62.5" stroke="#ee8585" stroke-width="0.75" />
<line x1="470.9" y1="42.1" x2="481.7" y2="42.1" stroke="#ee8585" stroke-width="0.75" />
<line x1="496.4" y1="59.1" x2="509.2" y2="59.1" stroke="#ee8585" stroke-width="0.75" />
<circle cx="412.3" cy="58.2" r="1.15" fill="#000"/>
<circle cx="414" cy="57.8" r="1.15" fill="#000"/>
<circle cx="415.5" cy="58.6" r="1.15" fill="#000"/>
<circle cx="417.5" cy="58" r="1.15" fill="#000"/>
<circle cx="413" cy="60.5" r="1.15" fill="#000"/>
<circle cx="416" cy="60" r="1.15" fill="#000"/>
<circle cx="419" cy="60.8" r="1.15" fill="#000"/>
<circle cx="421.5" cy="61.2" r="1.15" fill="#000"/>
<circle cx="422.6" cy="62.3" r="1.15" fill="#000"/>
<circle cx="412" cy="63" r="1.15" fill="#000"/>
<circle cx="414.5" cy="62.6" r="1.15" fill="#000"/>
<circle cx="418" cy="62.8" r="1.15" fill="#000"/>
<circle cx="420.5" cy="63.6" r="1.15" fill="#000"/>
<circle cx="412.6" cy="64.5" r="1.15" fill="#000"/>
<circle cx="419.5" cy="64.8" r="1.15" fill="#000"/>
<circle cx="420.8" cy="65.8" r="1.15" fill="#000"/>
<circle cx="419.4" cy="66.6" r="1.15" fill="#000"/>
<circle cx="418.9" cy="69.3" r="1.15" fill="#000"/>
<circle cx="412.1" cy="84.6" r="1.15" fill="#000"/>
<circle cx="437" cy="61" r="1.15" fill="#000"/>
<circle cx="438.5" cy="60" r="1.15" fill="#000"/>
<circle cx="440" cy="61.5" r="1.15" fill="#000"/>
<circle cx="441.5" cy="59.4" r="1.15" fill="#000"/>
<circle cx="443" cy="60.8" r="1.15" fill="#000"/>
<circle cx="444.5" cy="61.2" r="1.15" fill="#000"/>
<circle cx="446" cy="60.2" r="1.15" fill="#000"/>
<circle cx="447.4" cy="62" r="1.15" fill="#000"/>
<circle cx="437.6" cy="62.8" r="1.15" fill="#000"/>
<circle cx="439.4" cy="63" r="1.15" fill="#000"/>
<circle cx="441" cy="63.4" r="1.15" fill="#000"/>
<circle cx="442.6" cy="62.6" r="1.15" fill="#000"/>
<circle cx="444" cy="63.6" r="1.15" fill="#000"/>
<circle cx="445.6" cy="63" r="1.15" fill="#000"/>
<circle cx="447" cy="63.8" r="1.15" fill="#000"/>
<circle cx="438.4" cy="64.2" r="1.15" fill="#000"/>
<circle cx="440.4" cy="64.6" r="1.15" fill="#000"/>
<circle cx="442" cy="64.8" r="1.15" fill="#000"/>
<circle cx="443.4" cy="65" r="1.15" fill="#000"/>
<circle cx="446" cy="64.6" r="1.15" fill="#000"/>
<circle cx="441.8" cy="58.6" r="1.15" fill="#000"/>
<circle cx="439" cy="61.8" r="1.15" fill="#000"/>
<circle cx="445" cy="62.2" r="1.15" fill="#000"/>
<circle cx="440.2" cy="73.7" r="1.15" fill="#000"/>
<circle cx="474.05" cy="21.39" r="1.15" fill="#000"/>
<circle cx="482.35" cy="24.96" r="1.15" fill="#000"/>
<circle cx="477.88" cy="34.16" r="1.15" fill="#000"/>
<circle cx="481.07" cy="35.05" r="1.15" fill="#000"/>
<circle cx="475.58" cy="35.43" r="1.15" fill="#000"/>
<circle cx="477.24" cy="35.82" r="1.15" fill="#000"/>
<circle cx="472.77" cy="37.99" r="1.15" fill="#000"/>
<circle cx="473.79" cy="39.01" r="1.15" fill="#000"/>
<circle cx="482.35" cy="41.18" r="1.15" fill="#000"/>
<circle cx="479.8" cy="42.46" r="1.15" fill="#000"/>
<circle cx="477.24" cy="43.35" r="1.15" fill="#000"/>
<circle cx="479.16" cy="44.12" r="1.15" fill="#000"/>
<circle cx="480.43" cy="44.37" r="1.15" fill="#000"/>
<circle cx="477.88" cy="45.4" r="1.15" fill="#000"/>
<circle cx="479.16" cy="46.93" r="1.15" fill="#000"/>
<circle cx="477.88" cy="48.46" r="1.15" fill="#000"/>
<circle cx="476.86" cy="49.23" r="1.15" fill="#000"/>
<circle cx="474.43" cy="63.53" r="1.15" fill="#000"/>
<circle cx="478.52" cy="74.77" r="1.15" fill="#000"/>
<circle cx="505.98" cy="39.27" r="1.15" fill="#000"/>
<circle cx="498.06" cy="43.35" r="1.15" fill="#000"/>
<circle cx="505.34" cy="45.65" r="1.15" fill="#000"/>
<circle cx="507" cy="46.93" r="1.15" fill="#000"/>
<circle cx="506.23" cy="48.46" r="1.15" fill="#000"/>
<circle cx="504.7" cy="49.74" r="1.15" fill="#000"/>
<circle cx="501.12" cy="49.74" r="1.15" fill="#000"/>
<circle cx="498.7" cy="52.42" r="1.15" fill="#000"/>
<circle cx="502.78" cy="55.23" r="1.15" fill="#000"/>
<circle cx="507.89" cy="56.12" r="1.15" fill="#000"/>
<circle cx="500.87" cy="56.51" r="1.15" fill="#000"/>
<circle cx="504.06" cy="57.15" r="1.15" fill="#000"/>
<circle cx="499.59" cy="57.78" r="1.15" fill="#000"/>
<circle cx="506.62" cy="58.17" r="1.15" fill="#000"/>
<circle cx="502.15" cy="58.68" r="1.15" fill="#000"/>
<circle cx="504.7" cy="59.44" r="1.15" fill="#000"/>
<circle cx="507.89" cy="59.44" r="1.15" fill="#000"/>
<circle cx="500.23" cy="59.96" r="1.15" fill="#000"/>
<circle cx="503.42" cy="60.34" r="1.15" fill="#000"/>
<circle cx="505.98" cy="60.72" r="1.15" fill="#000"/>
<circle cx="501.51" cy="61.23" r="1.15" fill="#000"/>
<circle cx="504.7" cy="61.74" r="1.15" fill="#000"/>
<circle cx="507.25" cy="62.25" r="1.15" fill="#000"/>
<circle cx="499.85" cy="62.89" r="1.15" fill="#000"/>
<circle cx="502.15" cy="62.89" r="1.15" fill="#000"/>
<circle cx="500.61" cy="63.79" r="1.15" fill="#000"/>
<circle cx="506.23" cy="63.28" r="1.15" fill="#000"/>
<rect x="402.1" y="18.3" width="54.8" height="69.3" fill="none" stroke="#2a2a2a" stroke-width="1.15" />
<rect x="462.7" y="18.3" width="54.5" height="69.3" fill="none" stroke="#2a2a2a" stroke-width="1.15" />
<line x1="399.5" y1="35" x2="402.1" y2="35" stroke="#333" stroke-width="0.9" />
<text x="397.2" y="38" font-size="8.4" text-anchor="end" fill="#262626">600</text>
<line x1="399.5" y1="52.3" x2="402.1" y2="52.3" stroke="#333" stroke-width="0.9" />
<text x="397.2" y="55.3" font-size="8.4" text-anchor="end" fill="#262626">400</text>
<line x1="399.5" y1="69.6" x2="402.1" y2="69.6" stroke="#333" stroke-width="0.9" />
<text x="397.2" y="72.6" font-size="8.4" text-anchor="end" fill="#262626">200</text>
<line x1="399.5" y1="86.9" x2="402.1" y2="86.9" stroke="#333" stroke-width="0.9" />
<text x="397.2" y="89.9" font-size="8.4" text-anchor="end" fill="#262626">0</text>
<line x1="416.6" y1="87.6" x2="416.6" y2="90.2" stroke="#333" stroke-width="0.9" />
<line x1="441.6" y1="87.6" x2="441.6" y2="90.2" stroke="#333" stroke-width="0.9" />
<line x1="477.5" y1="87.6" x2="477.5" y2="90.2" stroke="#333" stroke-width="0.9" />
<line x1="502.4" y1="87.6" x2="502.4" y2="90.2" stroke="#333" stroke-width="0.9" />
<text x="415.6" y="98.5" font-size="8.6" text-anchor="middle" fill="#262626">Prior</text>
<text x="415.6" y="107.6" font-size="8.6" text-anchor="middle" fill="#262626">Ph I</text>
<text x="442.9" y="98.5" font-size="8.6" text-anchor="middle" fill="#262626">Current</text>
<text x="442.9" y="107.6" font-size="8.6" text-anchor="middle" fill="#262626">study</text>
<text x="476.6" y="98.5" font-size="8.6" text-anchor="middle" fill="#262626">Prior</text>
<text x="476.6" y="107.6" font-size="8.6" text-anchor="middle" fill="#262626">Ph I</text>
<text x="503.2" y="98.5" font-size="8.6" text-anchor="middle" fill="#262626">Current</text>
<text x="503.2" y="107.6" font-size="8.6" text-anchor="middle" fill="#262626">study</text>
<text x="404.4" y="28" font-size="8.5" text-anchor="start" fill="#1a1a1a"><tspan font-style="italic">P</tspan> = 0.2</text>
<text x="516.4" y="85.4" font-size="8.5" text-anchor="end" fill="#1a1a1a"><tspan font-style="italic">P</tspan> = 9e–07</text>
<text x="365.2" y="47.6" font-size="8.6" text-anchor="middle" fill="#000" transform="rotate(-90 365.2 47.6)">Myeloma cell BCMA</text>
<text x="375.5" y="47.6" font-size="8.6" text-anchor="middle" fill="#000" transform="rotate(-90 375.5 47.6)">MFI by subject</text>
<text x="349.1" y="9.4" font-size="10.7" text-anchor="start" fill="#000" font-weight="bold">C</text>
<rect x="402.1" y="138.2" width="54.8" height="69.2" fill="#fff" stroke="none" stroke-width="1" />
<line x1="402.1" y1="148.8" x2="456.9" y2="148.8" stroke="#f6f6f6" stroke-width="0.5" />
<line x1="402.1" y1="171.9" x2="456.9" y2="171.9" stroke="#f6f6f6" stroke-width="0.5" />
<line x1="402.1" y1="195.1" x2="456.9" y2="195.1" stroke="#f6f6f6" stroke-width="0.5" />
<line x1="402.1" y1="160.4" x2="456.9" y2="160.4" stroke="#eeeeee" stroke-width="0.8" />
<line x1="402.1" y1="183.5" x2="456.9" y2="183.5" stroke="#eeeeee" stroke-width="0.8" />
<line x1="402.1" y1="206.7" x2="456.9" y2="206.7" stroke="#eeeeee" stroke-width="0.8" />
<line x1="416.6" y1="138.2" x2="416.6" y2="207.4" stroke="#eeeeee" stroke-width="0.8" />
<line x1="441.6" y1="138.2" x2="441.6" y2="207.4" stroke="#eeeeee" stroke-width="0.8" />
<rect x="402.1" y="123.1" width="54.8" height="15.1" fill="#fff" stroke="#2a2a2a" stroke-width="1.15" />
<text x="429.5" y="133.65" font-size="8.7" text-anchor="middle" fill="#1a1a1a">BCMA FMO</text>
<rect x="462.7" y="138.2" width="54.5" height="69.2" fill="#fff" stroke="none" stroke-width="1" />
<line x1="462.7" y1="148.8" x2="517.2" y2="148.8" stroke="#f6f6f6" stroke-width="0.5" />
<line x1="462.7" y1="171.9" x2="517.2" y2="171.9" stroke="#f6f6f6" stroke-width="0.5" />
<line x1="462.7" y1="195.1" x2="517.2" y2="195.1" stroke="#f6f6f6" stroke-width="0.5" />
<line x1="462.7" y1="160.4" x2="517.2" y2="160.4" stroke="#eeeeee" stroke-width="0.8" />
<line x1="462.7" y1="183.5" x2="517.2" y2="183.5" stroke="#eeeeee" stroke-width="0.8" />
<line x1="462.7" y1="206.7" x2="517.2" y2="206.7" stroke="#eeeeee" stroke-width="0.8" />
<line x1="477.5" y1="138.2" x2="477.5" y2="207.4" stroke="#eeeeee" stroke-width="0.8" />
<line x1="502.4" y1="138.2" x2="502.4" y2="207.4" stroke="#eeeeee" stroke-width="0.8" />
<rect x="462.7" y="123.1" width="54.5" height="15.1" fill="#fff" stroke="#2a2a2a" stroke-width="1.15" />
<text x="489.95" y="133.65" font-size="8.7" text-anchor="middle" fill="#1a1a1a">Full panel</text>
<line x1="410.5" y1="181.3" x2="423.5" y2="181.3" stroke="#ee8585" stroke-width="0.75" />
<line x1="435.5" y1="181.3" x2="448.5" y2="181.3" stroke="#ee8585" stroke-width="0.75" />
<line x1="470.5" y1="160.4" x2="482.9" y2="160.4" stroke="#ee8585" stroke-width="0.75" />
<line x1="497.1" y1="176.6" x2="509.1" y2="176.6" stroke="#ee8585" stroke-width="0.75" />
<circle cx="412.6" cy="181" r="1.15" fill="#000"/>
<circle cx="413.6" cy="179.6" r="1.15" fill="#000"/>
<circle cx="414.8" cy="178.4" r="1.15" fill="#000"/>
<circle cx="416" cy="177.8" r="1.15" fill="#000"/>
<circle cx="417.4" cy="179" r="1.15" fill="#000"/>
<circle cx="418.4" cy="180.4" r="1.15" fill="#000"/>
<circle cx="419.6" cy="181.4" r="1.15" fill="#000"/>
<circle cx="421" cy="180" r="1.15" fill="#000"/>
<circle cx="422.2" cy="178.6" r="1.15" fill="#000"/>
<circle cx="422.8" cy="180.8" r="1.15" fill="#000"/>
<circle cx="413" cy="182.6" r="1.15" fill="#000"/>
<circle cx="415" cy="183.2" r="1.15" fill="#000"/>
<circle cx="417" cy="182.8" r="1.15" fill="#000"/>
<circle cx="419" cy="183.4" r="1.15" fill="#000"/>
<circle cx="420.6" cy="182.6" r="1.15" fill="#000"/>
<circle cx="416.4" cy="181.2" r="1.15" fill="#000"/>
<circle cx="418.6" cy="182" r="1.15" fill="#000"/>
<circle cx="420.8" cy="187.5" r="1.15" fill="#000"/>
<circle cx="421.3" cy="204.2" r="1.15" fill="#000"/>
<circle cx="437.4" cy="181" r="1.15" fill="#000"/>
<circle cx="438.6" cy="179.8" r="1.15" fill="#000"/>
<circle cx="439.8" cy="178.6" r="1.15" fill="#000"/>
<circle cx="441" cy="177.8" r="1.15" fill="#000"/>
<circle cx="442.2" cy="178.8" r="1.15" fill="#000"/>
<circle cx="443.4" cy="180.2" r="1.15" fill="#000"/>
<circle cx="444.6" cy="179.4" r="1.15" fill="#000"/>
<circle cx="445.8" cy="180.6" r="1.15" fill="#000"/>
<circle cx="447" cy="181.4" r="1.15" fill="#000"/>
<circle cx="438" cy="182.8" r="1.15" fill="#000"/>
<circle cx="439.6" cy="183.4" r="1.15" fill="#000"/>
<circle cx="441.2" cy="182.6" r="1.15" fill="#000"/>
<circle cx="442.8" cy="183.6" r="1.15" fill="#000"/>
<circle cx="444.4" cy="182.8" r="1.15" fill="#000"/>
<circle cx="446" cy="183.4" r="1.15" fill="#000"/>
<circle cx="440.4" cy="181" r="1.15" fill="#000"/>
<circle cx="443.8" cy="181.6" r="1.15" fill="#000"/>
<circle cx="446.1" cy="191.8" r="1.15" fill="#000"/>
<circle cx="477.14" cy="141.33" r="1.15" fill="#000"/>
<circle cx="473.71" cy="146.67" r="1.15" fill="#000"/>
<circle cx="478.48" cy="150.86" r="1.15" fill="#000"/>
<circle cx="480.95" cy="150.86" r="1.15" fill="#000"/>
<circle cx="479.05" cy="155.24" r="1.15" fill="#000"/>
<circle cx="473.33" cy="156.19" r="1.15" fill="#000"/>
<circle cx="480.38" cy="157.14" r="1.15" fill="#000"/>
<circle cx="476.19" cy="159.05" r="1.15" fill="#000"/>
<circle cx="477.52" cy="160" r="1.15" fill="#000"/>
<circle cx="474.86" cy="160.95" r="1.15" fill="#000"/>
<circle cx="472.95" cy="163.43" r="1.15" fill="#000"/>
<circle cx="481.9" cy="162.86" r="1.15" fill="#000"/>
<circle cx="473.71" cy="165.33" r="1.15" fill="#000"/>
<circle cx="476.76" cy="165.71" r="1.15" fill="#000"/>
<circle cx="475.24" cy="166.67" r="1.15" fill="#000"/>
<circle cx="477.14" cy="167.62" r="1.15" fill="#000"/>
<circle cx="480.95" cy="180" r="1.15" fill="#000"/>
<circle cx="474.86" cy="193.9" r="1.15" fill="#000"/>
<circle cx="505.14" cy="155.62" r="1.15" fill="#000"/>
<circle cx="506.67" cy="159.05" r="1.15" fill="#000"/>
<circle cx="502.86" cy="163.43" r="1.15" fill="#000"/>
<circle cx="500.38" cy="164.76" r="1.15" fill="#000"/>
<circle cx="508" cy="165.33" r="1.15" fill="#000"/>
<circle cx="505.14" cy="166.1" r="1.15" fill="#000"/>
<circle cx="498.1" cy="169.14" r="1.15" fill="#000"/>
<circle cx="504.76" cy="173.71" r="1.15" fill="#000"/>
<circle cx="502.29" cy="175.24" r="1.15" fill="#000"/>
<circle cx="506.67" cy="175.62" r="1.15" fill="#000"/>
<circle cx="499.05" cy="176.57" r="1.15" fill="#000"/>
<circle cx="503.81" cy="177.14" r="1.15" fill="#000"/>
<circle cx="500.95" cy="177.71" r="1.15" fill="#000"/>
<circle cx="507.62" cy="177.71" r="1.15" fill="#000"/>
<circle cx="505.71" cy="178.67" r="1.15" fill="#000"/>
<circle cx="499.62" cy="179.05" r="1.15" fill="#000"/>
<circle cx="502.86" cy="179.43" r="1.15" fill="#000"/>
<circle cx="506.67" cy="180" r="1.15" fill="#000"/>
<circle cx="500.38" cy="180.57" r="1.15" fill="#000"/>
<circle cx="504.76" cy="180.95" r="1.15" fill="#000"/>
<circle cx="501.9" cy="181.33" r="1.15" fill="#000"/>
<circle cx="507.24" cy="180.95" r="1.15" fill="#000"/>
<rect x="402.1" y="138.2" width="54.8" height="69.2" fill="none" stroke="#2a2a2a" stroke-width="1.15" />
<rect x="462.7" y="138.2" width="54.5" height="69.2" fill="none" stroke="#2a2a2a" stroke-width="1.15" />
<line x1="399.5" y1="160.4" x2="402.1" y2="160.4" stroke="#333" stroke-width="0.9" />
<text x="397.2" y="163.4" font-size="8.4" text-anchor="end" fill="#262626">2</text>
<line x1="399.5" y1="183.5" x2="402.1" y2="183.5" stroke="#333" stroke-width="0.9" />
<text x="397.2" y="186.5" font-size="8.4" text-anchor="end" fill="#262626">1</text>
<line x1="399.5" y1="206.7" x2="402.1" y2="206.7" stroke="#333" stroke-width="0.9" />
<text x="397.2" y="209.7" font-size="8.4" text-anchor="end" fill="#262626">0</text>
<line x1="416.6" y1="207.4" x2="416.6" y2="210" stroke="#333" stroke-width="0.9" />
<line x1="441.6" y1="207.4" x2="441.6" y2="210" stroke="#333" stroke-width="0.9" />
<line x1="477.5" y1="207.4" x2="477.5" y2="210" stroke="#333" stroke-width="0.9" />
<line x1="502.4" y1="207.4" x2="502.4" y2="210" stroke="#333" stroke-width="0.9" />
<text x="415.6" y="219.6" font-size="8.6" text-anchor="middle" fill="#262626">Prior</text>
<text x="415.6" y="228.4" font-size="8.6" text-anchor="middle" fill="#262626">Ph I</text>
<text x="442.9" y="219.6" font-size="8.6" text-anchor="middle" fill="#262626">Current</text>
<text x="442.9" y="228.4" font-size="8.6" text-anchor="middle" fill="#262626">study</text>
<text x="476.6" y="219.6" font-size="8.6" text-anchor="middle" fill="#262626">Prior</text>
<text x="476.6" y="228.4" font-size="8.6" text-anchor="middle" fill="#262626">Ph I</text>
<text x="503.2" y="219.6" font-size="8.6" text-anchor="middle" fill="#262626">Current</text>
<text x="503.2" y="228.4" font-size="8.6" text-anchor="middle" fill="#262626">study</text>
<text x="405.2" y="146" font-size="8.5" text-anchor="start" fill="#1a1a1a"><tspan font-style="italic">P</tspan> = 0.79</text>
<text x="516" y="205.2" font-size="8.5" text-anchor="end" fill="#1a1a1a"><tspan font-style="italic">P</tspan> = 3.4e–06</text>
<text x="365.1" y="172.8" font-size="8.6" text-anchor="middle" fill="#000" transform="rotate(-90 365.1 172.8)">MM cell BCMA MFI</text>
<text x="374.7" y="172.8" font-size="8.6" text-anchor="middle" fill="#000" transform="rotate(-90 374.7 172.8)">corrected based on</text>
<text x="384.1" y="172.8" font-size="8.6" text-anchor="middle" fill="#000" transform="rotate(-90 384.1 172.8)">T-cell BCMA MFI</text>
<text x="348.7" y="123.8" font-size="10.7" text-anchor="start" fill="#000" font-weight="bold">D</text>
<rect x="403.4" y="249.2" width="113.2" height="85.6" fill="#fff" stroke="none" stroke-width="1" />
<line x1="403.4" y1="263.7" x2="516.6" y2="263.7" stroke="#f6f6f6" stroke-width="0.5" />
<line x1="403.4" y1="282.6" x2="516.6" y2="282.6" stroke="#f6f6f6" stroke-width="0.5" />
<line x1="403.4" y1="301.6" x2="516.6" y2="301.6" stroke="#f6f6f6" stroke-width="0.5" />
<line x1="403.4" y1="320.6" x2="516.6" y2="320.6" stroke="#f6f6f6" stroke-width="0.5" />
<line x1="403.4" y1="254.2" x2="516.6" y2="254.2" stroke="#eeeeee" stroke-width="0.8" />
<line x1="403.4" y1="273.1" x2="516.6" y2="273.1" stroke="#eeeeee" stroke-width="0.8" />
<line x1="403.4" y1="292.1" x2="516.6" y2="292.1" stroke="#eeeeee" stroke-width="0.8" />
<line x1="403.4" y1="311.1" x2="516.6" y2="311.1" stroke="#eeeeee" stroke-width="0.8" />
<line x1="403.4" y1="330" x2="516.6" y2="330" stroke="#eeeeee" stroke-width="0.8" />
<line x1="434.5" y1="249.2" x2="434.5" y2="334.8" stroke="#eeeeee" stroke-width="0.8" />
<line x1="487" y1="249.2" x2="487" y2="334.8" stroke="#eeeeee" stroke-width="0.8" />
<line x1="421.2" y1="273" x2="447.3" y2="273" stroke="#ee8585" stroke-width="0.75" />
<line x1="473.4" y1="292.1" x2="499.3" y2="292.1" stroke="#ee8585" stroke-width="0.75" />
<circle cx="421.92" cy="253.15" r="0.95" fill="#000"/>
<circle cx="423.77" cy="255" r="0.95" fill="#000"/>
<circle cx="434.16" cy="255" r="0.95" fill="#000"/>
<circle cx="441.08" cy="255" r="0.95" fill="#000"/>
<circle cx="443.39" cy="254.31" r="0.95" fill="#000"/>
<circle cx="444.54" cy="253.85" r="0.95" fill="#000"/>
<circle cx="423.77" cy="273.46" r="0.95" fill="#000"/>
<circle cx="428.85" cy="272.31" r="0.95" fill="#000"/>
<circle cx="442.7" cy="272.31" r="0.95" fill="#000"/>
<circle cx="446.16" cy="273.93" r="0.95" fill="#000"/>
<circle cx="421.92" cy="292.62" r="0.95" fill="#000"/>
<circle cx="427.23" cy="292.62" r="0.95" fill="#000"/>
<circle cx="430" cy="292.62" r="0.95" fill="#000"/>
<circle cx="436.93" cy="292.62" r="0.95" fill="#000"/>
<circle cx="428.39" cy="310.39" r="0.95" fill="#000"/>
<circle cx="438.77" cy="311.54" r="0.95" fill="#000"/>
<circle cx="441.54" cy="312.01" r="0.95" fill="#000"/>
<circle cx="443.39" cy="310.39" r="0.95" fill="#000"/>
<circle cx="424.92" cy="329.31" r="0.95" fill="#000"/>
<circle cx="441.08" cy="330.01" r="0.95" fill="#000"/>
<circle cx="446.16" cy="329.31" r="0.95" fill="#000"/>
<circle cx="486.78" cy="253.85" r="0.95" fill="#000"/>
<circle cx="475.7" cy="271.85" r="0.95" fill="#000"/>
<circle cx="481.24" cy="272.31" r="0.95" fill="#000"/>
<circle cx="482.62" cy="272.77" r="0.95" fill="#000"/>
<circle cx="489.55" cy="273.46" r="0.95" fill="#000"/>
<circle cx="490.7" cy="273.93" r="0.95" fill="#000"/>
<circle cx="491.85" cy="273" r="0.95" fill="#000"/>
<circle cx="499.24" cy="272.31" r="0.95" fill="#000"/>
<circle cx="481.93" cy="291.23" r="0.95" fill="#000"/>
<circle cx="485.39" cy="292.62" r="0.95" fill="#000"/>
<circle cx="487.7" cy="292.62" r="0.95" fill="#000"/>
<circle cx="491.16" cy="291.23" r="0.95" fill="#000"/>
<circle cx="492.78" cy="292.62" r="0.95" fill="#000"/>
<circle cx="473.85" cy="312.01" r="0.95" fill="#000"/>
<circle cx="481.93" cy="309.93" r="0.95" fill="#000"/>
<circle cx="483.08" cy="310.39" r="0.95" fill="#000"/>
<circle cx="484.24" cy="310.85" r="0.95" fill="#000"/>
<circle cx="485.39" cy="311.31" r="0.95" fill="#000"/>
<circle cx="486.55" cy="311.54" r="0.95" fill="#000"/>
<circle cx="487.7" cy="311.77" r="0.95" fill="#000"/>
<circle cx="488.85" cy="312.01" r="0.95" fill="#000"/>
<circle cx="496.47" cy="312.01" r="0.95" fill="#000"/>
<circle cx="478.01" cy="330.47" r="0.95" fill="#000"/>
<circle cx="478.93" cy="329.31" r="0.95" fill="#000"/>
<circle cx="485.39" cy="329.55" r="0.95" fill="#000"/>
<circle cx="488.85" cy="330.7" r="0.95" fill="#000"/>
<circle cx="491.16" cy="329.55" r="0.95" fill="#000"/>
<circle cx="493.01" cy="330.7" r="0.95" fill="#000"/>
<circle cx="497.39" cy="329.55" r="0.95" fill="#000"/>
<circle cx="498.78" cy="329.55" r="0.95" fill="#000"/>
<rect x="403.4" y="249.2" width="113.2" height="85.6" fill="none" stroke="#2a2a2a" stroke-width="1.15" />
<line x1="400.8" y1="254.2" x2="403.4" y2="254.2" stroke="#333" stroke-width="0.9" />
<text x="399.4" y="257.2" font-size="8.4" text-anchor="end" fill="#262626">4</text>
<line x1="400.8" y1="273.1" x2="403.4" y2="273.1" stroke="#333" stroke-width="0.9" />
<text x="399.4" y="276.1" font-size="8.4" text-anchor="end" fill="#262626">3</text>
<line x1="400.8" y1="292.1" x2="403.4" y2="292.1" stroke="#333" stroke-width="0.9" />
<text x="399.4" y="295.1" font-size="8.4" text-anchor="end" fill="#262626">2</text>
<line x1="400.8" y1="311.1" x2="403.4" y2="311.1" stroke="#333" stroke-width="0.9" />
<text x="399.4" y="314.1" font-size="8.4" text-anchor="end" fill="#262626">1</text>
<line x1="400.8" y1="330" x2="403.4" y2="330" stroke="#333" stroke-width="0.9" />
<text x="399.4" y="333" font-size="8.4" text-anchor="end" fill="#262626">0</text>
<line x1="434.5" y1="334.8" x2="434.5" y2="337.4" stroke="#333" stroke-width="0.9" />
<line x1="487" y1="334.8" x2="487" y2="337.4" stroke="#333" stroke-width="0.9" />
<text x="436.2" y="346.4" font-size="8.6" text-anchor="middle" fill="#262626">Prior phase I</text>
<text x="493.3" y="346.4" font-size="8.6" text-anchor="middle" fill="#262626">Current study</text>
<text x="515.4" y="262.6" font-size="8.5" text-anchor="end" fill="#1a1a1a"><tspan font-style="italic">P</tspan> = 0.015</text>
<text x="383.8" y="292" font-size="8.6" text-anchor="middle" fill="#000" transform="rotate(-90 383.8 292)">BCMA intensity by IHC</text>
<text x="349.3" y="246.2" font-size="10.7" text-anchor="start" fill="#000" font-weight="bold">E</text>
<path d="M70.4 398.0h0.55v0.55h-0.55zM91.5 388.6h0.55v0.55h-0.55zM69.4 393.3h0.55v0.55h-0.55zM86.5 405.5h0.55v0.55h-0.55zM70.4 380.4h0.55v0.55h-0.55zM88.7 399.0h0.55v0.55h-0.55zM96.6 404.3h0.55v0.55h-0.55zM81.0 391.1h0.55v0.55h-0.55zM106.4 391.0h0.55v0.55h-0.55zM74.5 382.0h0.55v0.55h-0.55zM82.9 395.5h0.55v0.55h-0.55zM78.7 393.3h0.55v0.55h-0.55zM84.6 401.3h0.55v0.55h-0.55zM92.4 396.2h0.55v0.55h-0.55zM65.0 401.4h0.55v0.55h-0.55zM68.5 392.2h0.55v0.55h-0.55zM68.0 394.0h0.55v0.55h-0.55zM74.6 396.2h0.55v0.55h-0.55zM113.4 393.5h0.55v0.55h-0.55zM90.0 380.1h0.55v0.55h-0.55zM79.3 401.0h0.55v0.55h-0.55zM81.1 397.9h0.55v0.55h-0.55zM83.0 383.4h0.55v0.55h-0.55zM87.4 385.5h0.55v0.55h-0.55zM99.8 388.7h0.55v0.55h-0.55zM88.5 394.0h0.55v0.55h-0.55zM91.0 387.7h0.55v0.55h-0.55zM91.5 392.7h0.55v0.55h-0.55zM94.0 400.6h0.55v0.55h-0.55zM83.3 385.8h0.55v0.55h-0.55zM89.3 398.9h0.55v0.55h-0.55zM97.6 390.0h0.55v0.55h-0.55zM87.3 399.3h0.55v0.55h-0.55zM84.7 396.2h0.55v0.55h-0.55zM83.7 387.7h0.55v0.55h-0.55zM72.4 389.8h0.55v0.55h-0.55zM87.6 409.9h0.55v0.55h-0.55zM91.3 405.1h0.55v0.55h-0.55zM89.4 401.3h0.55v0.55h-0.55zM83.7 402.1h0.55v0.55h-0.55zM98.8 390.6h0.55v0.55h-0.55zM75.4 414.6h0.55v0.55h-0.55zM84.3 404.2h0.55v0.55h-0.55zM90.3 382.1h0.55v0.55h-0.55zM105.1 412.6h0.55v0.55h-0.55zM83.7 401.9h0.55v0.55h-0.55zM83.2 384.7h0.55v0.55h-0.55zM80.9 397.9h0.55v0.55h-0.55zM92.6 401.4h0.55v0.55h-0.55zM82.6 408.2h0.55v0.55h-0.55zM74.8 402.3h0.55v0.55h-0.55zM92.6 390.9h0.55v0.55h-0.55zM65.0 384.5h0.55v0.55h-0.55zM84.3 399.5h0.55v0.55h-0.55zM96.7 383.5h0.55v0.55h-0.55zM82.0 400.8h0.55v0.55h-0.55zM80.5 369.1h0.55v0.55h-0.55zM89.7 418.3h0.55v0.55h-0.55zM91.5 384.4h0.55v0.55h-0.55zM78.1 396.3h0.55v0.55h-0.55zM105.6 400.5h0.55v0.55h-0.55zM83.1 410.4h0.55v0.55h-0.55zM81.2 413.5h0.55v0.55h-0.55zM75.5 389.0h0.55v0.55h-0.55zM88.8 409.0h0.55v0.55h-0.55zM88.2 397.2h0.55v0.55h-0.55zM64.7 386.5h0.55v0.55h-0.55zM76.2 388.4h0.55v0.55h-0.55zM87.6 390.5h0.55v0.55h-0.55zM89.5 394.9h0.55v0.55h-0.55zM78.8 395.2h0.55v0.55h-0.55zM86.1 403.0h0.55v0.55h-0.55zM77.5 391.6h0.55v0.55h-0.55zM69.0 410.8h0.55v0.55h-0.55zM95.8 392.1h0.55v0.55h-0.55zM77.5 381.0h0.55v0.55h-0.55zM83.6 396.2h0.55v0.55h-0.55zM102.7 396.6h0.55v0.55h-0.55zM74.6 368.3h0.55v0.55h-0.55zM95.4 396.0h0.55v0.55h-0.55zM66.7 395.9h0.55v0.55h-0.55zM66.7 430.5h0.55v0.55h-0.55zM92.6 400.0h0.55v0.55h-0.55zM80.3 371.5h0.55v0.55h-0.55zM80.8 377.7h0.55v0.55h-0.55zM87.7 371.5h0.55v0.55h-0.55zM73.4 406.8h0.55v0.55h-0.55zM97.6 381.6h0.55v0.55h-0.55zM67.4 403.2h0.55v0.55h-0.55zM90.1 383.6h0.55v0.55h-0.55zM75.4 386.7h0.55v0.55h-0.55zM70.7 386.9h0.55v0.55h-0.55zM93.9 401.2h0.55v0.55h-0.55zM101.5 393.1h0.55v0.55h-0.55zM80.7 383.7h0.55v0.55h-0.55zM80.8 380.2h0.55v0.55h-0.55zM65.1 401.3h0.55v0.55h-0.55zM95.7 402.8h0.55v0.55h-0.55zM94.7 396.6h0.55v0.55h-0.55zM75.2 394.9h0.55v0.55h-0.55zM78.4 382.3h0.55v0.55h-0.55zM65.9 378.4h0.55v0.55h-0.55zM81.9 395.6h0.55v0.55h-0.55zM77.5 409.0h0.55v0.55h-0.55zM83.7 400.1h0.55v0.55h-0.55zM93.6 385.4h0.55v0.55h-0.55zM63.3 401.9h0.55v0.55h-0.55zM75.5 407.8h0.55v0.55h-0.55zM85.2 404.6h0.55v0.55h-0.55zM89.3 372.2h0.55v0.55h-0.55zM88.8 386.9h0.55v0.55h-0.55zM74.8 389.4h0.55v0.55h-0.55zM89.3 403.3h0.55v0.55h-0.55zM91.6 376.6h0.55v0.55h-0.55zM76.4 369.1h0.55v0.55h-0.55zM81.0 400.3h0.55v0.55h-0.55zM74.7 396.6h0.55v0.55h-0.55zM84.2 404.6h0.55v0.55h-0.55zM74.2 385.3h0.55v0.55h-0.55zM74.7 412.4h0.55v0.55h-0.55zM92.4 392.7h0.55v0.55h-0.55zM84.1 395.2h0.55v0.55h-0.55zM83.9 391.8h0.55v0.55h-0.55zM78.8 380.8h0.55v0.55h-0.55zM75.9 411.3h0.55v0.55h-0.55zM87.1 394.7h0.55v0.55h-0.55zM80.0 394.7h0.55v0.55h-0.55zM85.4 387.2h0.55v0.55h-0.55zM83.9 396.5h0.55v0.55h-0.55zM74.9 385.7h0.55v0.55h-0.55zM72.5 382.8h0.55v0.55h-0.55zM90.5 369.2h0.55v0.55h-0.55zM79.5 387.6h0.55v0.55h-0.55zM76.1 395.0h0.55v0.55h-0.55zM92.7 394.8h0.55v0.55h-0.55zM80.7 387.6h0.55v0.55h-0.55zM80.8 403.6h0.55v0.55h-0.55zM78.3 382.0h0.55v0.55h-0.55zM70.0 382.4h0.55v0.55h-0.55zM68.8 405.5h0.55v0.55h-0.55zM85.4 391.5h0.55v0.55h-0.55zM95.9 387.1h0.55v0.55h-0.55zM89.2 402.4h0.55v0.55h-0.55zM67.3 377.7h0.55v0.55h-0.55zM73.2 403.5h0.55v0.55h-0.55zM94.3 381.1h0.55v0.55h-0.55zM92.0 390.0h0.55v0.55h-0.55zM78.3 388.2h0.55v0.55h-0.55zM78.9 374.9h0.55v0.55h-0.55zM72.5 381.0h0.55v0.55h-0.55zM86.7 415.9h0.55v0.55h-0.55zM108.0 390.5h0.55v0.55h-0.55zM65.6 389.7h0.55v0.55h-0.55zM73.1 414.8h0.55v0.55h-0.55zM87.4 386.3h0.55v0.55h-0.55zM90.9 399.6h0.55v0.55h-0.55zM66.6 388.4h0.55v0.55h-0.55zM79.7 394.2h0.55v0.55h-0.55zM83.3 390.4h0.55v0.55h-0.55zM83.8 387.8h0.55v0.55h-0.55zM73.5 409.9h0.55v0.55h-0.55zM85.4 398.6h0.55v0.55h-0.55zM66.8 392.3h0.55v0.55h-0.55zM89.8 380.4h0.55v0.55h-0.55zM92.4 389.9h0.55v0.55h-0.55zM85.8 392.6h0.55v0.55h-0.55zM84.1 406.6h0.55v0.55h-0.55zM78.2 410.4h0.55v0.55h-0.55zM74.6 384.2h0.55v0.55h-0.55zM88.8 382.8h0.55v0.55h-0.55zM78.5 403.5h0.55v0.55h-0.55zM93.5 375.4h0.55v0.55h-0.55zM86.8 413.8h0.55v0.55h-0.55zM93.4 391.5h0.55v0.55h-0.55zM76.3 390.9h0.55v0.55h-0.55zM71.0 391.2h0.55v0.55h-0.55zM80.2 392.5h0.55v0.55h-0.55zM93.2 391.6h0.55v0.55h-0.55zM68.2 405.0h0.55v0.55h-0.55zM71.8 389.3h0.55v0.55h-0.55zM80.7 390.4h0.55v0.55h-0.55zM72.5 391.4h0.55v0.55h-0.55zM102.7 387.6h0.55v0.55h-0.55zM80.7 405.8h0.55v0.55h-0.55zM89.1 402.0h0.55v0.55h-0.55zM90.2 373.3h0.55v0.55h-0.55zM73.8 395.3h0.55v0.55h-0.55zM86.7 407.6h0.55v0.55h-0.55zM86.5 391.5h0.55v0.55h-0.55zM82.4 391.8h0.55v0.55h-0.55zM84.3 401.1h0.55v0.55h-0.55zM78.8 385.5h0.55v0.55h-0.55zM73.9 405.5h0.55v0.55h-0.55zM94.2 404.4h0.55v0.55h-0.55zM90.1 402.7h0.55v0.55h-0.55zM82.0 401.0h0.55v0.55h-0.55zM72.0 391.9h0.55v0.55h-0.55zM75.0 401.6h0.55v0.55h-0.55zM76.5 392.9h0.55v0.55h-0.55zM85.8 408.2h0.55v0.55h-0.55zM74.5 384.1h0.55v0.55h-0.55zM89.8 382.4h0.55v0.55h-0.55zM86.3 388.0h0.55v0.55h-0.55zM81.0 374.9h0.55v0.55h-0.55zM88.8 388.7h0.55v0.55h-0.55zM73.5 415.8h0.55v0.55h-0.55zM88.8 430.8h0.55v0.55h-0.55zM85.9 390.3h0.55v0.55h-0.55zM83.0 410.9h0.55v0.55h-0.55zM81.7 398.7h0.55v0.55h-0.55zM86.9 384.4h0.55v0.55h-0.55zM83.2 388.7h0.55v0.55h-0.55zM70.2 403.2h0.55v0.55h-0.55zM88.3 394.8h0.55v0.55h-0.55zM73.4 372.9h0.55v0.55h-0.55zM86.6 393.0h0.55v0.55h-0.55zM66.0 393.4h0.55v0.55h-0.55zM67.5 393.7h0.55v0.55h-0.55zM83.4 397.7h0.55v0.55h-0.55zM84.1 395.8h0.55v0.55h-0.55zM71.2 390.0h0.55v0.55h-0.55zM77.1 391.5h0.55v0.55h-0.55zM84.6 400.5h0.55v0.55h-0.55zM97.5 367.0h0.55v0.55h-0.55zM85.8 391.9h0.55v0.55h-0.55zM103.6 403.8h0.55v0.55h-0.55zM66.3 398.2h0.55v0.55h-0.55zM77.1 404.4h0.55v0.55h-0.55zM72.0 392.9h0.55v0.55h-0.55zM80.8 393.0h0.55v0.55h-0.55zM76.5 374.7h0.55v0.55h-0.55zM86.4 404.5h0.55v0.55h-0.55zM81.4 383.3h0.55v0.55h-0.55zM83.9 399.9h0.55v0.55h-0.55zM80.3 393.9h0.55v0.55h-0.55zM95.4 382.3h0.55v0.55h-0.55zM76.7 374.0h0.55v0.55h-0.55zM75.4 386.2h0.55v0.55h-0.55zM72.9 386.7h0.55v0.55h-0.55zM99.1 391.9h0.55v0.55h-0.55zM80.9 417.1h0.55v0.55h-0.55zM81.4 375.8h0.55v0.55h-0.55zM85.8 384.2h0.55v0.55h-0.55zM97.6 380.9h0.55v0.55h-0.55zM76.5 377.1h0.55v0.55h-0.55zM82.9 383.3h0.55v0.55h-0.55zM81.4 390.0h0.55v0.55h-0.55zM76.2 403.9h0.55v0.55h-0.55zM90.9 394.7h0.55v0.55h-0.55zM73.4 382.8h0.55v0.55h-0.55zM84.6 419.1h0.55v0.55h-0.55zM77.7 385.8h0.55v0.55h-0.55zM75.4 382.5h0.55v0.55h-0.55zM72.8 391.8h0.55v0.55h-0.55zM95.6 394.0h0.55v0.55h-0.55zM77.1 377.0h0.55v0.55h-0.55zM84.0 393.7h0.55v0.55h-0.55zM70.3 382.6h0.55v0.55h-0.55zM81.6 404.6h0.55v0.55h-0.55zM88.0 396.2h0.55v0.55h-0.55zM78.9 397.4h0.55v0.55h-0.55zM81.9 416.8h0.55v0.55h-0.55zM71.2 390.1h0.55v0.55h-0.55zM94.0 391.2h0.55v0.55h-0.55zM95.5 393.5h0.55v0.55h-0.55zM83.4 390.1h0.55v0.55h-0.55zM68.9 383.8h0.55v0.55h-0.55zM103.0 400.8h0.55v0.55h-0.55zM87.8 404.0h0.55v0.55h-0.55zM87.4 404.7h0.55v0.55h-0.55zM79.5 391.7h0.55v0.55h-0.55zM91.3 390.3h0.55v0.55h-0.55zM69.4 391.6h0.55v0.55h-0.55zM76.8 400.4h0.55v0.55h-0.55zM75.2 382.9h0.55v0.55h-0.55zM78.8 410.3h0.55v0.55h-0.55zM81.5 395.7h0.55v0.55h-0.55zM82.1 397.1h0.55v0.55h-0.55zM90.8 408.7h0.55v0.55h-0.55zM66.4 408.3h0.55v0.55h-0.55zM82.0 390.6h0.55v0.55h-0.55zM104.8 392.2h0.55v0.55h-0.55zM100.5 404.2h0.55v0.55h-0.55zM72.2 399.1h0.55v0.55h-0.55zM89.0 392.7h0.55v0.55h-0.55zM59.9 390.4h0.55v0.55h-0.55zM80.2 382.4h0.55v0.55h-0.55zM99.3 391.4h0.55v0.55h-0.55zM78.3 390.9h0.55v0.55h-0.55zM74.6 385.8h0.55v0.55h-0.55zM82.9 397.3h0.55v0.55h-0.55zM77.2 393.0h0.55v0.55h-0.55zM68.8 399.5h0.55v0.55h-0.55zM74.9 396.3h0.55v0.55h-0.55zM73.4 388.6h0.55v0.55h-0.55zM84.0 381.3h0.55v0.55h-0.55zM105.5 393.6h0.55v0.55h-0.55zM81.3 386.3h0.55v0.55h-0.55zM97.2 408.6h0.55v0.55h-0.55zM84.8 379.6h0.55v0.55h-0.55zM62.2 384.1h0.55v0.55h-0.55zM62.2 375.1h0.55v0.55h-0.55zM60.4 377.1h0.55v0.55h-0.55zM63.5 377.8h0.55v0.55h-0.55zM63.5 395.0h0.55v0.55h-0.55zM68.1 375.8h0.55v0.55h-0.55zM64.4 381.4h0.55v0.55h-0.55zM63.1 386.2h0.55v0.55h-0.55zM62.6 379.4h0.55v0.55h-0.55zM62.5 380.5h0.55v0.55h-0.55zM66.8 384.9h0.55v0.55h-0.55zM60.0 378.8h0.55v0.55h-0.55zM61.4 385.1h0.55v0.55h-0.55zM64.1 385.4h0.55v0.55h-0.55zM63.3 371.5h0.55v0.55h-0.55zM64.7 382.1h0.55v0.55h-0.55zM64.8 374.5h0.55v0.55h-0.55zM63.7 377.6h0.55v0.55h-0.55zM61.7 382.8h0.55v0.55h-0.55zM64.4 376.5h0.55v0.55h-0.55zM59.0 368.6h0.55v0.55h-0.55zM62.0 386.6h0.55v0.55h-0.55zM63.4 369.7h0.55v0.55h-0.55zM61.3 383.1h0.55v0.55h-0.55zM67.8 386.8h0.55v0.55h-0.55zM64.5 382.0h0.55v0.55h-0.55zM60.7 378.7h0.55v0.55h-0.55zM62.6 377.1h0.55v0.55h-0.55zM63.7 379.0h0.55v0.55h-0.55zM64.4 388.2h0.55v0.55h-0.55zM65.4 383.1h0.55v0.55h-0.55zM62.9 373.4h0.55v0.55h-0.55zM63.2 383.7h0.55v0.55h-0.55zM60.9 387.3h0.55v0.55h-0.55zM62.6 382.9h0.55v0.55h-0.55zM62.6 374.7h0.55v0.55h-0.55zM68.9 375.2h0.55v0.55h-0.55zM65.9 378.2h0.55v0.55h-0.55zM64.2 377.0h0.55v0.55h-0.55zM62.4 385.6h0.55v0.55h-0.55zM68.6 376.8h0.55v0.55h-0.55zM63.5 385.7h0.55v0.55h-0.55zM61.9 384.6h0.55v0.55h-0.55zM61.5 384.0h0.55v0.55h-0.55zM64.6 387.1h0.55v0.55h-0.55zM64.4 375.0h0.55v0.55h-0.55zM65.2 375.5h0.55v0.55h-0.55zM65.5 388.6h0.55v0.55h-0.55zM65.0 378.2h0.55v0.55h-0.55zM66.6 381.8h0.55v0.55h-0.55zM60.3 379.2h0.55v0.55h-0.55zM67.2 379.5h0.55v0.55h-0.55zM63.8 379.3h0.55v0.55h-0.55zM59.1 378.4h0.55v0.55h-0.55zM64.4 382.0h0.55v0.55h-0.55zM63.0 370.3h0.55v0.55h-0.55zM66.7 384.6h0.55v0.55h-0.55zM66.2 387.5h0.55v0.55h-0.55zM62.3 378.0h0.55v0.55h-0.55zM64.3 389.4h0.55v0.55h-0.55zM59.1 379.9h0.55v0.55h-0.55zM61.6 383.8h0.55v0.55h-0.55zM67.3 379.5h0.55v0.55h-0.55zM60.3 381.2h0.55v0.55h-0.55zM62.8 373.3h0.55v0.55h-0.55zM65.8 378.4h0.55v0.55h-0.55zM65.3 374.4h0.55v0.55h-0.55zM66.4 373.8h0.55v0.55h-0.55zM66.2 371.9h0.55v0.55h-0.55zM67.1 379.1h0.55v0.55h-0.55zM59.5 379.8h0.55v0.55h-0.55zM64.4 376.0h0.55v0.55h-0.55zM62.2 382.3h0.55v0.55h-0.55zM63.1 365.7h0.55v0.55h-0.55zM62.4 383.1h0.55v0.55h-0.55zM64.3 386.0h0.55v0.55h-0.55zM61.7 393.8h0.55v0.55h-0.55zM65.6 382.6h0.55v0.55h-0.55zM66.3 385.8h0.55v0.55h-0.55zM63.8 377.9h0.55v0.55h-0.55zM66.2 383.1h0.55v0.55h-0.55zM64.7 381.5h0.55v0.55h-0.55zM64.2 384.2h0.55v0.55h-0.55zM63.9 388.9h0.55v0.55h-0.55zM62.0 379.0h0.55v0.55h-0.55zM64.3 384.7h0.55v0.55h-0.55zM65.5 388.4h0.55v0.55h-0.55zM62.3 386.8h0.55v0.55h-0.55zM64.7 375.8h0.55v0.55h-0.55zM63.1 391.4h0.55v0.55h-0.55zM65.5 378.7h0.55v0.55h-0.55zM61.7 381.4h0.55v0.55h-0.55zM69.5 384.7h0.55v0.55h-0.55zM64.3 376.3h0.55v0.55h-0.55zM60.4 380.0h0.55v0.55h-0.55zM62.3 396.0h0.55v0.55h-0.55zM62.4 377.9h0.55v0.55h-0.55zM66.4 381.4h0.55v0.55h-0.55zM60.3 387.4h0.55v0.55h-0.55zM62.7 374.4h0.55v0.55h-0.55zM64.3 383.4h0.55v0.55h-0.55zM62.6 384.5h0.55v0.55h-0.55zM65.6 376.6h0.55v0.55h-0.55zM63.2 387.2h0.55v0.55h-0.55zM66.1 388.0h0.55v0.55h-0.55zM68.3 381.1h0.55v0.55h-0.55zM66.2 373.4h0.55v0.55h-0.55zM65.3 383.0h0.55v0.55h-0.55zM63.3 378.8h0.55v0.55h-0.55zM60.6 381.7h0.55v0.55h-0.55zM66.8 379.2h0.55v0.55h-0.55zM64.9 377.7h0.55v0.55h-0.55zM64.2 376.0h0.55v0.55h-0.55zM64.5 379.9h0.55v0.55h-0.55zM64.3 378.0h0.55v0.55h-0.55zM60.4 379.4h0.55v0.55h-0.55zM66.2 388.9h0.55v0.55h-0.55zM62.7 385.0h0.55v0.55h-0.55zM65.5 383.0h0.55v0.55h-0.55zM59.5 382.6h0.55v0.55h-0.55zM61.0 386.9h0.55v0.55h-0.55zM65.5 384.1h0.55v0.55h-0.55zM65.3 374.6h0.55v0.55h-0.55zM66.0 381.4h0.55v0.55h-0.55zM63.0 377.4h0.55v0.55h-0.55zM60.9 378.8h0.55v0.55h-0.55zM71.5 382.0h0.55v0.55h-0.55zM64.0 377.8h0.55v0.55h-0.55zM61.9 378.2h0.55v0.55h-0.55zM61.2 385.4h0.55v0.55h-0.55zM62.8 385.3h0.55v0.55h-0.55zM60.5 385.6h0.55v0.55h-0.55zM63.4 384.3h0.55v0.55h-0.55zM63.2 376.6h0.55v0.55h-0.55zM66.6 378.8h0.55v0.55h-0.55zM63.1 376.6h0.55v0.55h-0.55zM64.0 379.1h0.55v0.55h-0.55zM64.2 382.7h0.55v0.55h-0.55zM61.7 373.9h0.55v0.55h-0.55zM64.6 385.6h0.55v0.55h-0.55zM65.3 375.3h0.55v0.55h-0.55zM65.1 382.9h0.55v0.55h-0.55zM64.2 383.1h0.55v0.55h-0.55zM62.7 382.1h0.55v0.55h-0.55zM65.9 378.5h0.55v0.55h-0.55zM59.8 380.5h0.55v0.55h-0.55zM64.0 371.8h0.55v0.55h-0.55zM61.7 383.9h0.55v0.55h-0.55zM63.1 381.5h0.55v0.55h-0.55zM60.2 385.5h0.55v0.55h-0.55zM68.1 380.0h0.55v0.55h-0.55zM61.6 375.2h0.55v0.55h-0.55zM65.8 381.5h0.55v0.55h-0.55zM61.4 387.1h0.55v0.55h-0.55zM65.5 384.0h0.55v0.55h-0.55zM58.9 380.5h0.55v0.55h-0.55zM65.1 374.9h0.55v0.55h-0.55zM65.9 388.2h0.55v0.55h-0.55zM66.2 377.4h0.55v0.55h-0.55zM61.7 385.7h0.55v0.55h-0.55zM66.1 387.1h0.55v0.55h-0.55zM66.6 380.5h0.55v0.55h-0.55zM62.4 371.7h0.55v0.55h-0.55zM65.5 392.4h0.55v0.55h-0.55zM62.3 378.6h0.55v0.55h-0.55zM65.2 382.9h0.55v0.55h-0.55z" fill="#4a60b4" fill-opacity="0.8"/>
<path d="M74.2 388.6h0.6v0.6h-0.6zM75.6 403.9h0.6v0.6h-0.6zM77.6 397.4h0.6v0.6h-0.6zM91.3 403.2h0.6v0.6h-0.6zM88.7 401.7h0.6v0.6h-0.6zM74.9 390.7h0.6v0.6h-0.6zM77.5 391.0h0.6v0.6h-0.6zM94.9 383.2h0.6v0.6h-0.6zM84.2 385.7h0.6v0.6h-0.6zM88.3 399.9h0.6v0.6h-0.6zM78.6 404.2h0.6v0.6h-0.6zM81.7 399.9h0.6v0.6h-0.6zM82.9 389.5h0.6v0.6h-0.6zM79.3 391.9h0.6v0.6h-0.6zM84.5 393.3h0.6v0.6h-0.6zM93.6 391.5h0.6v0.6h-0.6zM78.9 388.6h0.6v0.6h-0.6zM77.3 384.5h0.6v0.6h-0.6zM76.2 397.7h0.6v0.6h-0.6zM81.6 391.6h0.6v0.6h-0.6zM83.1 398.6h0.6v0.6h-0.6zM84.5 396.9h0.6v0.6h-0.6zM78.4 391.1h0.6v0.6h-0.6zM77.3 392.1h0.6v0.6h-0.6zM77.0 390.5h0.6v0.6h-0.6zM80.4 391.4h0.6v0.6h-0.6zM79.9 389.8h0.6v0.6h-0.6zM88.1 390.7h0.6v0.6h-0.6zM76.0 393.7h0.6v0.6h-0.6zM75.6 386.6h0.6v0.6h-0.6zM81.7 383.3h0.6v0.6h-0.6zM64.6 394.2h0.6v0.6h-0.6zM86.7 383.2h0.6v0.6h-0.6zM76.6 395.8h0.6v0.6h-0.6zM71.0 387.7h0.6v0.6h-0.6zM75.0 391.5h0.6v0.6h-0.6zM71.0 397.6h0.6v0.6h-0.6zM80.6 394.3h0.6v0.6h-0.6zM79.6 380.7h0.6v0.6h-0.6zM80.5 385.1h0.6v0.6h-0.6zM81.4 387.8h0.6v0.6h-0.6zM79.7 391.4h0.6v0.6h-0.6zM85.3 396.9h0.6v0.6h-0.6zM76.1 392.5h0.6v0.6h-0.6zM88.9 395.4h0.6v0.6h-0.6zM77.5 391.9h0.6v0.6h-0.6zM79.5 397.9h0.6v0.6h-0.6zM81.5 394.7h0.6v0.6h-0.6zM92.8 384.9h0.6v0.6h-0.6zM76.0 382.9h0.6v0.6h-0.6zM73.0 397.4h0.6v0.6h-0.6zM82.8 401.7h0.6v0.6h-0.6zM71.0 387.7h0.6v0.6h-0.6zM88.8 398.4h0.6v0.6h-0.6zM85.9 397.5h0.6v0.6h-0.6zM81.5 392.5h0.6v0.6h-0.6zM81.5 397.3h0.6v0.6h-0.6zM80.5 394.4h0.6v0.6h-0.6zM88.9 386.3h0.6v0.6h-0.6zM77.4 395.8h0.6v0.6h-0.6zM79.9 391.7h0.6v0.6h-0.6zM92.2 394.9h0.6v0.6h-0.6zM79.1 398.7h0.6v0.6h-0.6zM94.4 386.4h0.6v0.6h-0.6zM77.8 393.3h0.6v0.6h-0.6zM78.0 404.8h0.6v0.6h-0.6zM84.0 390.4h0.6v0.6h-0.6zM83.9 388.1h0.6v0.6h-0.6zM78.2 393.2h0.6v0.6h-0.6zM93.7 380.0h0.6v0.6h-0.6zM83.5 400.2h0.6v0.6h-0.6zM85.1 403.4h0.6v0.6h-0.6zM83.6 393.4h0.6v0.6h-0.6zM80.6 387.8h0.6v0.6h-0.6zM89.8 386.0h0.6v0.6h-0.6zM80.7 389.7h0.6v0.6h-0.6zM77.2 380.2h0.6v0.6h-0.6zM79.3 393.4h0.6v0.6h-0.6zM82.0 397.3h0.6v0.6h-0.6zM80.5 389.0h0.6v0.6h-0.6zM82.9 396.3h0.6v0.6h-0.6zM76.6 384.1h0.6v0.6h-0.6zM76.0 398.5h0.6v0.6h-0.6zM86.5 387.6h0.6v0.6h-0.6zM81.9 397.3h0.6v0.6h-0.6zM88.2 388.9h0.6v0.6h-0.6zM80.1 400.5h0.6v0.6h-0.6zM93.8 401.2h0.6v0.6h-0.6zM75.4 395.1h0.6v0.6h-0.6zM79.7 392.3h0.6v0.6h-0.6zM77.9 389.9h0.6v0.6h-0.6zM81.2 402.7h0.6v0.6h-0.6zM84.9 395.0h0.6v0.6h-0.6zM81.4 388.4h0.6v0.6h-0.6zM80.1 399.5h0.6v0.6h-0.6zM85.6 403.6h0.6v0.6h-0.6zM82.7 392.5h0.6v0.6h-0.6zM72.9 394.8h0.6v0.6h-0.6zM72.3 401.1h0.6v0.6h-0.6zM78.0 392.6h0.6v0.6h-0.6zM74.3 389.8h0.6v0.6h-0.6zM76.5 398.9h0.6v0.6h-0.6zM82.6 386.0h0.6v0.6h-0.6zM71.3 392.2h0.6v0.6h-0.6zM78.8 386.4h0.6v0.6h-0.6zM84.4 391.6h0.6v0.6h-0.6zM81.9 389.3h0.6v0.6h-0.6zM78.3 390.0h0.6v0.6h-0.6zM73.0 396.1h0.6v0.6h-0.6zM83.4 382.9h0.6v0.6h-0.6zM81.8 399.1h0.6v0.6h-0.6zM82.5 399.9h0.6v0.6h-0.6zM79.9 392.6h0.6v0.6h-0.6zM74.5 387.5h0.6v0.6h-0.6zM71.8 387.6h0.6v0.6h-0.6zM82.6 395.5h0.6v0.6h-0.6zM87.4 393.3h0.6v0.6h-0.6zM76.2 395.0h0.6v0.6h-0.6zM80.5 402.6h0.6v0.6h-0.6zM91.5 398.0h0.6v0.6h-0.6zM75.4 389.7h0.6v0.6h-0.6zM82.3 388.6h0.6v0.6h-0.6zM84.0 396.4h0.6v0.6h-0.6zM85.7 393.9h0.6v0.6h-0.6zM76.7 387.9h0.6v0.6h-0.6zM80.7 400.0h0.6v0.6h-0.6zM89.5 398.1h0.6v0.6h-0.6zM83.2 396.4h0.6v0.6h-0.6zM85.6 399.8h0.6v0.6h-0.6zM85.8 384.0h0.6v0.6h-0.6zM86.3 394.8h0.6v0.6h-0.6zM78.9 395.5h0.6v0.6h-0.6zM82.8 392.3h0.6v0.6h-0.6zM72.5 393.2h0.6v0.6h-0.6zM84.2 392.3h0.6v0.6h-0.6zM73.0 395.2h0.6v0.6h-0.6zM85.0 393.6h0.6v0.6h-0.6zM83.5 390.6h0.6v0.6h-0.6zM77.9 395.5h0.6v0.6h-0.6zM79.5 393.6h0.6v0.6h-0.6zM98.2 396.6h0.6v0.6h-0.6zM82.0 383.5h0.6v0.6h-0.6zM81.8 396.8h0.6v0.6h-0.6zM77.6 391.3h0.6v0.6h-0.6zM69.6 395.7h0.6v0.6h-0.6zM78.2 396.4h0.6v0.6h-0.6zM88.4 391.7h0.6v0.6h-0.6zM86.4 394.0h0.6v0.6h-0.6zM80.2 391.0h0.6v0.6h-0.6zM76.9 399.8h0.6v0.6h-0.6zM85.9 387.0h0.6v0.6h-0.6zM85.7 388.5h0.6v0.6h-0.6zM73.5 399.3h0.6v0.6h-0.6zM74.6 399.2h0.6v0.6h-0.6zM82.3 397.7h0.6v0.6h-0.6zM84.0 399.1h0.6v0.6h-0.6zM83.1 395.8h0.6v0.6h-0.6zM82.6 398.7h0.6v0.6h-0.6zM79.3 398.3h0.6v0.6h-0.6zM89.1 392.2h0.6v0.6h-0.6zM83.6 389.7h0.6v0.6h-0.6zM79.8 394.1h0.6v0.6h-0.6zM79.5 387.6h0.6v0.6h-0.6zM81.1 393.7h0.6v0.6h-0.6zM83.0 396.6h0.6v0.6h-0.6zM72.1 400.5h0.6v0.6h-0.6zM80.4 388.3h0.6v0.6h-0.6zM79.4 395.1h0.6v0.6h-0.6zM85.8 390.5h0.6v0.6h-0.6zM82.1 383.7h0.6v0.6h-0.6zM82.2 392.0h0.6v0.6h-0.6zM79.1 397.6h0.6v0.6h-0.6zM90.6 398.4h0.6v0.6h-0.6zM77.2 401.2h0.6v0.6h-0.6zM79.6 392.4h0.6v0.6h-0.6zM78.3 395.2h0.6v0.6h-0.6zM84.2 393.4h0.6v0.6h-0.6zM80.2 391.8h0.6v0.6h-0.6zM79.2 398.0h0.6v0.6h-0.6zM78.6 391.8h0.6v0.6h-0.6zM80.2 388.4h0.6v0.6h-0.6zM80.1 384.4h0.6v0.6h-0.6zM83.4 395.6h0.6v0.6h-0.6zM79.7 401.3h0.6v0.6h-0.6zM77.0 395.7h0.6v0.6h-0.6zM83.8 389.6h0.6v0.6h-0.6zM80.1 397.6h0.6v0.6h-0.6zM81.6 394.2h0.6v0.6h-0.6zM88.5 393.8h0.6v0.6h-0.6zM72.6 388.5h0.6v0.6h-0.6zM85.6 391.9h0.6v0.6h-0.6zM75.7 381.6h0.6v0.6h-0.6zM83.0 401.0h0.6v0.6h-0.6zM74.8 380.5h0.6v0.6h-0.6zM83.9 389.6h0.6v0.6h-0.6zM79.8 390.8h0.6v0.6h-0.6zM76.6 395.1h0.6v0.6h-0.6zM86.1 394.6h0.6v0.6h-0.6zM78.4 398.4h0.6v0.6h-0.6zM80.7 395.8h0.6v0.6h-0.6zM76.5 396.3h0.6v0.6h-0.6zM85.1 399.8h0.6v0.6h-0.6zM81.4 395.1h0.6v0.6h-0.6zM78.3 397.5h0.6v0.6h-0.6zM85.3 398.6h0.6v0.6h-0.6zM79.3 385.8h0.6v0.6h-0.6zM81.0 391.4h0.6v0.6h-0.6zM77.5 396.0h0.6v0.6h-0.6zM86.2 394.8h0.6v0.6h-0.6zM87.0 394.8h0.6v0.6h-0.6zM76.3 389.4h0.6v0.6h-0.6zM79.5 396.4h0.6v0.6h-0.6zM86.0 393.4h0.6v0.6h-0.6zM86.5 388.1h0.6v0.6h-0.6zM80.7 400.9h0.6v0.6h-0.6zM83.6 398.4h0.6v0.6h-0.6zM71.6 383.4h0.6v0.6h-0.6zM76.9 398.2h0.6v0.6h-0.6zM89.7 389.2h0.6v0.6h-0.6zM76.3 387.0h0.6v0.6h-0.6zM76.7 395.7h0.6v0.6h-0.6zM79.7 403.0h0.6v0.6h-0.6zM85.0 388.8h0.6v0.6h-0.6zM82.5 391.8h0.6v0.6h-0.6zM85.4 397.6h0.6v0.6h-0.6zM79.5 397.5h0.6v0.6h-0.6zM84.2 392.1h0.6v0.6h-0.6zM82.6 396.4h0.6v0.6h-0.6zM79.7 388.9h0.6v0.6h-0.6zM87.8 392.6h0.6v0.6h-0.6zM78.3 395.2h0.6v0.6h-0.6zM73.8 392.9h0.6v0.6h-0.6zM74.4 390.3h0.6v0.6h-0.6zM72.2 388.7h0.6v0.6h-0.6zM85.9 391.6h0.6v0.6h-0.6zM75.1 402.2h0.6v0.6h-0.6zM78.1 400.8h0.6v0.6h-0.6zM78.6 384.6h0.6v0.6h-0.6zM90.8 390.3h0.6v0.6h-0.6zM85.2 399.2h0.6v0.6h-0.6zM74.6 393.0h0.6v0.6h-0.6zM78.4 396.0h0.6v0.6h-0.6zM81.3 385.7h0.6v0.6h-0.6zM81.6 396.8h0.6v0.6h-0.6zM79.8 395.7h0.6v0.6h-0.6zM78.6 392.3h0.6v0.6h-0.6zM83.1 393.4h0.6v0.6h-0.6zM87.8 397.8h0.6v0.6h-0.6zM85.6 396.6h0.6v0.6h-0.6zM82.1 386.3h0.6v0.6h-0.6zM86.7 402.2h0.6v0.6h-0.6zM82.5 391.2h0.6v0.6h-0.6zM81.1 399.3h0.6v0.6h-0.6zM82.8 387.2h0.6v0.6h-0.6zM80.5 388.4h0.6v0.6h-0.6zM80.3 387.7h0.6v0.6h-0.6zM76.9 400.8h0.6v0.6h-0.6zM86.7 383.8h0.6v0.6h-0.6zM76.3 390.2h0.6v0.6h-0.6zM79.4 385.1h0.6v0.6h-0.6zM85.9 383.8h0.6v0.6h-0.6zM84.9 396.5h0.6v0.6h-0.6zM79.5 389.1h0.6v0.6h-0.6zM81.6 393.5h0.6v0.6h-0.6zM70.7 385.8h0.6v0.6h-0.6zM84.0 392.0h0.6v0.6h-0.6zM79.2 387.2h0.6v0.6h-0.6zM77.8 388.5h0.6v0.6h-0.6zM95.5 385.8h0.6v0.6h-0.6zM89.1 395.3h0.6v0.6h-0.6zM82.4 393.7h0.6v0.6h-0.6zM79.4 401.4h0.6v0.6h-0.6zM83.9 392.5h0.6v0.6h-0.6zM80.7 393.7h0.6v0.6h-0.6zM75.5 390.9h0.6v0.6h-0.6zM78.2 396.0h0.6v0.6h-0.6zM84.4 382.4h0.6v0.6h-0.6zM80.2 398.1h0.6v0.6h-0.6zM74.8 386.2h0.6v0.6h-0.6zM86.4 391.9h0.6v0.6h-0.6zM79.0 386.0h0.6v0.6h-0.6zM82.2 389.6h0.6v0.6h-0.6zM82.4 395.0h0.6v0.6h-0.6zM84.9 390.9h0.6v0.6h-0.6zM78.7 392.8h0.6v0.6h-0.6zM80.8 393.6h0.6v0.6h-0.6zM78.6 391.3h0.6v0.6h-0.6zM78.4 389.4h0.6v0.6h-0.6zM82.1 399.0h0.6v0.6h-0.6zM78.6 395.8h0.6v0.6h-0.6zM83.1 393.2h0.6v0.6h-0.6zM84.8 389.6h0.6v0.6h-0.6zM84.2 394.3h0.6v0.6h-0.6zM63.6 394.6h0.6v0.6h-0.6zM84.4 403.4h0.6v0.6h-0.6zM75.9 393.2h0.6v0.6h-0.6zM83.1 387.3h0.6v0.6h-0.6zM87.4 395.1h0.6v0.6h-0.6zM77.3 386.1h0.6v0.6h-0.6zM79.2 405.6h0.6v0.6h-0.6zM92.3 379.1h0.6v0.6h-0.6zM72.1 396.3h0.6v0.6h-0.6zM80.8 389.2h0.6v0.6h-0.6zM84.4 393.2h0.6v0.6h-0.6zM82.8 394.1h0.6v0.6h-0.6zM75.8 399.9h0.6v0.6h-0.6zM79.0 398.9h0.6v0.6h-0.6zM84.9 392.9h0.6v0.6h-0.6zM82.0 392.4h0.6v0.6h-0.6zM72.0 390.9h0.6v0.6h-0.6zM83.5 383.8h0.6v0.6h-0.6zM73.7 398.6h0.6v0.6h-0.6zM85.5 384.1h0.6v0.6h-0.6zM83.7 392.4h0.6v0.6h-0.6zM86.3 390.9h0.6v0.6h-0.6zM80.2 388.5h0.6v0.6h-0.6zM82.3 391.9h0.6v0.6h-0.6zM78.0 390.7h0.6v0.6h-0.6zM77.5 396.1h0.6v0.6h-0.6zM76.1 384.1h0.6v0.6h-0.6zM76.4 398.6h0.6v0.6h-0.6zM78.7 396.2h0.6v0.6h-0.6zM85.1 389.8h0.6v0.6h-0.6zM85.2 395.4h0.6v0.6h-0.6zM81.1 388.7h0.6v0.6h-0.6zM81.0 385.6h0.6v0.6h-0.6zM79.9 389.4h0.6v0.6h-0.6zM83.6 394.5h0.6v0.6h-0.6zM78.0 397.4h0.6v0.6h-0.6zM87.4 393.0h0.6v0.6h-0.6zM77.5 395.4h0.6v0.6h-0.6zM68.8 389.4h0.6v0.6h-0.6zM84.3 403.7h0.6v0.6h-0.6zM77.5 401.1h0.6v0.6h-0.6zM93.3 403.0h0.6v0.6h-0.6zM69.2 398.7h0.6v0.6h-0.6zM82.3 398.2h0.6v0.6h-0.6zM80.4 389.2h0.6v0.6h-0.6zM80.2 400.9h0.6v0.6h-0.6zM85.6 391.0h0.6v0.6h-0.6zM83.3 397.4h0.6v0.6h-0.6zM84.2 392.4h0.6v0.6h-0.6zM77.9 388.5h0.6v0.6h-0.6zM79.1 389.6h0.6v0.6h-0.6zM73.2 384.8h0.6v0.6h-0.6zM85.8 386.4h0.6v0.6h-0.6zM74.6 392.4h0.6v0.6h-0.6zM88.8 399.6h0.6v0.6h-0.6zM79.2 386.9h0.6v0.6h-0.6zM78.6 387.6h0.6v0.6h-0.6zM78.5 395.3h0.6v0.6h-0.6zM75.8 388.3h0.6v0.6h-0.6zM80.0 392.5h0.6v0.6h-0.6zM77.4 388.2h0.6v0.6h-0.6zM75.5 388.4h0.6v0.6h-0.6zM84.0 391.3h0.6v0.6h-0.6zM65.3 396.0h0.6v0.6h-0.6zM81.0 387.8h0.6v0.6h-0.6zM80.0 375.8h0.6v0.6h-0.6zM72.8 399.1h0.6v0.6h-0.6zM92.3 404.8h0.6v0.6h-0.6zM77.5 392.8h0.6v0.6h-0.6zM85.3 385.8h0.6v0.6h-0.6zM90.3 388.6h0.6v0.6h-0.6zM83.1 386.2h0.6v0.6h-0.6zM83.2 392.5h0.6v0.6h-0.6zM86.9 386.2h0.6v0.6h-0.6zM81.3 402.8h0.6v0.6h-0.6zM75.1 394.6h0.6v0.6h-0.6zM83.6 389.8h0.6v0.6h-0.6zM79.9 400.5h0.6v0.6h-0.6zM87.2 395.8h0.6v0.6h-0.6zM82.7 386.3h0.6v0.6h-0.6zM81.8 402.6h0.6v0.6h-0.6zM86.8 385.0h0.6v0.6h-0.6zM70.5 388.9h0.6v0.6h-0.6zM82.2 389.5h0.6v0.6h-0.6zM79.7 394.5h0.6v0.6h-0.6zM86.0 393.8h0.6v0.6h-0.6zM87.8 384.6h0.6v0.6h-0.6zM83.7 395.0h0.6v0.6h-0.6zM73.6 399.6h0.6v0.6h-0.6zM73.0 384.5h0.6v0.6h-0.6zM95.2 399.9h0.6v0.6h-0.6zM83.3 400.2h0.6v0.6h-0.6zM87.3 386.3h0.6v0.6h-0.6zM83.8 400.5h0.6v0.6h-0.6zM80.5 393.0h0.6v0.6h-0.6zM78.9 396.7h0.6v0.6h-0.6zM78.4 389.3h0.6v0.6h-0.6zM74.9 387.4h0.6v0.6h-0.6zM82.4 395.3h0.6v0.6h-0.6zM79.3 386.7h0.6v0.6h-0.6zM83.1 394.6h0.6v0.6h-0.6zM88.0 389.8h0.6v0.6h-0.6zM79.2 395.5h0.6v0.6h-0.6zM89.3 392.3h0.6v0.6h-0.6zM80.9 387.3h0.6v0.6h-0.6zM79.3 397.9h0.6v0.6h-0.6zM85.8 398.9h0.6v0.6h-0.6zM72.7 397.3h0.6v0.6h-0.6zM76.5 395.9h0.6v0.6h-0.6zM68.9 392.1h0.6v0.6h-0.6zM76.7 399.8h0.6v0.6h-0.6zM81.9 399.9h0.6v0.6h-0.6zM79.0 403.7h0.6v0.6h-0.6zM79.0 403.3h0.6v0.6h-0.6zM78.8 387.1h0.6v0.6h-0.6zM86.0 390.4h0.6v0.6h-0.6zM81.0 385.0h0.6v0.6h-0.6zM79.5 393.2h0.6v0.6h-0.6zM77.6 394.8h0.6v0.6h-0.6zM69.3 397.7h0.6v0.6h-0.6zM79.2 400.9h0.6v0.6h-0.6zM79.5 388.9h0.6v0.6h-0.6zM78.9 394.2h0.6v0.6h-0.6zM84.4 390.0h0.6v0.6h-0.6zM77.1 395.0h0.6v0.6h-0.6zM85.6 382.7h0.6v0.6h-0.6zM75.8 388.8h0.6v0.6h-0.6zM90.3 399.6h0.6v0.6h-0.6zM85.5 395.4h0.6v0.6h-0.6zM75.4 399.0h0.6v0.6h-0.6zM79.0 388.1h0.6v0.6h-0.6zM91.5 384.4h0.6v0.6h-0.6zM88.6 393.8h0.6v0.6h-0.6zM76.5 393.6h0.6v0.6h-0.6zM76.9 393.7h0.6v0.6h-0.6zM77.9 385.9h0.6v0.6h-0.6zM95.3 389.8h0.6v0.6h-0.6zM86.5 392.3h0.6v0.6h-0.6zM84.9 385.5h0.6v0.6h-0.6zM75.8 374.0h0.6v0.6h-0.6zM86.6 395.1h0.6v0.6h-0.6zM75.1 397.4h0.6v0.6h-0.6zM84.4 409.2h0.6v0.6h-0.6zM82.6 397.8h0.6v0.6h-0.6zM84.5 397.0h0.6v0.6h-0.6zM81.2 390.3h0.6v0.6h-0.6zM85.1 399.6h0.6v0.6h-0.6zM75.2 386.2h0.6v0.6h-0.6zM81.1 402.8h0.6v0.6h-0.6zM80.2 383.0h0.6v0.6h-0.6zM85.6 396.9h0.6v0.6h-0.6zM91.6 393.7h0.6v0.6h-0.6zM91.7 388.5h0.6v0.6h-0.6zM86.1 393.4h0.6v0.6h-0.6zM75.0 391.1h0.6v0.6h-0.6zM88.3 399.0h0.6v0.6h-0.6zM79.3 398.9h0.6v0.6h-0.6zM86.1 397.7h0.6v0.6h-0.6zM82.8 394.4h0.6v0.6h-0.6zM77.0 392.2h0.6v0.6h-0.6zM82.0 388.4h0.6v0.6h-0.6zM79.8 393.6h0.6v0.6h-0.6zM82.5 398.6h0.6v0.6h-0.6zM75.9 390.4h0.6v0.6h-0.6zM82.7 390.5h0.6v0.6h-0.6zM83.1 390.0h0.6v0.6h-0.6zM87.5 391.3h0.6v0.6h-0.6zM75.3 396.9h0.6v0.6h-0.6zM90.1 381.7h0.6v0.6h-0.6zM80.6 393.0h0.6v0.6h-0.6zM86.8 401.1h0.6v0.6h-0.6zM80.5 383.8h0.6v0.6h-0.6zM84.8 398.3h0.6v0.6h-0.6zM83.8 393.1h0.6v0.6h-0.6zM77.1 406.4h0.6v0.6h-0.6zM75.0 384.1h0.6v0.6h-0.6zM86.5 394.3h0.6v0.6h-0.6zM84.9 394.7h0.6v0.6h-0.6zM90.2 400.7h0.6v0.6h-0.6zM78.4 398.3h0.6v0.6h-0.6zM75.1 383.0h0.6v0.6h-0.6zM87.7 390.2h0.6v0.6h-0.6zM70.0 392.5h0.6v0.6h-0.6zM77.8 395.5h0.6v0.6h-0.6zM81.0 388.3h0.6v0.6h-0.6zM77.6 397.0h0.6v0.6h-0.6zM76.5 393.4h0.6v0.6h-0.6zM76.1 395.2h0.6v0.6h-0.6zM90.7 395.9h0.6v0.6h-0.6zM87.2 395.2h0.6v0.6h-0.6zM76.3 390.9h0.6v0.6h-0.6zM81.7 395.1h0.6v0.6h-0.6zM78.2 396.1h0.6v0.6h-0.6zM77.6 393.0h0.6v0.6h-0.6zM81.3 386.1h0.6v0.6h-0.6zM86.6 392.9h0.6v0.6h-0.6zM81.9 392.5h0.6v0.6h-0.6zM70.3 384.7h0.6v0.6h-0.6zM76.6 398.3h0.6v0.6h-0.6zM78.3 396.1h0.6v0.6h-0.6zM75.9 387.9h0.6v0.6h-0.6zM78.9 398.6h0.6v0.6h-0.6zM72.6 391.6h0.6v0.6h-0.6zM83.5 393.4h0.6v0.6h-0.6zM81.2 397.0h0.6v0.6h-0.6zM82.8 386.9h0.6v0.6h-0.6zM84.7 388.2h0.6v0.6h-0.6zM79.6 400.8h0.6v0.6h-0.6zM94.2 400.8h0.6v0.6h-0.6zM83.6 388.2h0.6v0.6h-0.6zM77.3 402.0h0.6v0.6h-0.6zM83.1 384.8h0.6v0.6h-0.6zM89.6 395.9h0.6v0.6h-0.6zM88.3 394.9h0.6v0.6h-0.6zM70.0 388.5h0.6v0.6h-0.6zM80.6 391.7h0.6v0.6h-0.6zM89.3 388.8h0.6v0.6h-0.6zM80.8 392.3h0.6v0.6h-0.6zM80.9 386.8h0.6v0.6h-0.6zM74.9 378.1h0.6v0.6h-0.6zM83.1 391.5h0.6v0.6h-0.6zM82.4 386.7h0.6v0.6h-0.6zM81.3 387.1h0.6v0.6h-0.6zM76.0 394.5h0.6v0.6h-0.6zM84.7 395.9h0.6v0.6h-0.6zM81.1 390.5h0.6v0.6h-0.6zM88.7 399.7h0.6v0.6h-0.6zM78.0 386.5h0.6v0.6h-0.6zM83.3 394.4h0.6v0.6h-0.6zM76.5 405.5h0.6v0.6h-0.6zM70.4 387.9h0.6v0.6h-0.6zM82.6 398.2h0.6v0.6h-0.6zM71.6 390.2h0.6v0.6h-0.6zM88.9 400.6h0.6v0.6h-0.6zM80.0 392.8h0.6v0.6h-0.6zM76.7 394.9h0.6v0.6h-0.6zM75.8 381.2h0.6v0.6h-0.6zM73.4 392.9h0.6v0.6h-0.6zM74.4 398.9h0.6v0.6h-0.6zM88.1 398.3h0.6v0.6h-0.6zM84.8 399.0h0.6v0.6h-0.6zM82.7 397.5h0.6v0.6h-0.6zM83.8 397.1h0.6v0.6h-0.6zM76.0 388.9h0.6v0.6h-0.6zM76.1 397.3h0.6v0.6h-0.6zM84.0 388.2h0.6v0.6h-0.6zM76.2 389.4h0.6v0.6h-0.6zM85.9 392.0h0.6v0.6h-0.6zM80.1 388.7h0.6v0.6h-0.6zM80.7 401.6h0.6v0.6h-0.6zM77.7 390.6h0.6v0.6h-0.6zM90.2 396.7h0.6v0.6h-0.6zM75.4 398.8h0.6v0.6h-0.6zM74.7 395.8h0.6v0.6h-0.6zM68.1 387.0h0.6v0.6h-0.6zM86.1 389.3h0.6v0.6h-0.6zM77.5 392.9h0.6v0.6h-0.6zM81.3 390.0h0.6v0.6h-0.6zM77.8 402.8h0.6v0.6h-0.6zM89.2 394.5h0.6v0.6h-0.6zM75.3 389.7h0.6v0.6h-0.6zM79.8 395.4h0.6v0.6h-0.6zM89.7 389.7h0.6v0.6h-0.6zM82.1 390.2h0.6v0.6h-0.6zM82.1 388.8h0.6v0.6h-0.6zM83.3 399.2h0.6v0.6h-0.6zM79.3 390.8h0.6v0.6h-0.6zM81.9 385.2h0.6v0.6h-0.6zM90.8 385.1h0.6v0.6h-0.6zM79.5 387.7h0.6v0.6h-0.6zM89.2 389.9h0.6v0.6h-0.6zM78.7 403.3h0.6v0.6h-0.6zM80.7 388.3h0.6v0.6h-0.6zM81.3 393.7h0.6v0.6h-0.6zM77.4 391.6h0.6v0.6h-0.6zM80.2 396.7h0.6v0.6h-0.6zM85.4 397.3h0.6v0.6h-0.6zM80.7 397.1h0.6v0.6h-0.6zM80.2 399.2h0.6v0.6h-0.6zM83.5 390.2h0.6v0.6h-0.6zM87.8 384.1h0.6v0.6h-0.6zM76.3 388.1h0.6v0.6h-0.6zM80.7 385.7h0.6v0.6h-0.6zM75.0 382.0h0.6v0.6h-0.6zM81.9 388.3h0.6v0.6h-0.6zM92.8 397.0h0.6v0.6h-0.6zM75.4 400.1h0.6v0.6h-0.6zM81.9 398.7h0.6v0.6h-0.6zM75.5 399.2h0.6v0.6h-0.6zM87.1 390.3h0.6v0.6h-0.6zM76.9 390.5h0.6v0.6h-0.6zM82.7 406.2h0.6v0.6h-0.6zM90.8 401.1h0.6v0.6h-0.6zM80.2 390.8h0.6v0.6h-0.6zM83.3 391.1h0.6v0.6h-0.6zM78.9 391.5h0.6v0.6h-0.6zM85.8 392.3h0.6v0.6h-0.6zM82.6 391.2h0.6v0.6h-0.6zM80.3 390.8h0.6v0.6h-0.6zM87.9 394.0h0.6v0.6h-0.6zM89.2 391.7h0.6v0.6h-0.6zM86.9 384.9h0.6v0.6h-0.6zM79.2 392.3h0.6v0.6h-0.6zM78.0 392.0h0.6v0.6h-0.6zM76.5 391.7h0.6v0.6h-0.6zM77.9 392.6h0.6v0.6h-0.6zM79.8 387.0h0.6v0.6h-0.6zM79.2 392.8h0.6v0.6h-0.6zM74.7 393.2h0.6v0.6h-0.6zM87.9 391.4h0.6v0.6h-0.6zM84.2 396.1h0.6v0.6h-0.6zM77.2 400.1h0.6v0.6h-0.6zM94.5 386.9h0.6v0.6h-0.6zM92.6 388.7h0.6v0.6h-0.6zM89.0 382.4h0.6v0.6h-0.6zM87.3 393.4h0.6v0.6h-0.6zM74.6 388.0h0.6v0.6h-0.6zM75.9 387.6h0.6v0.6h-0.6zM83.3 391.6h0.6v0.6h-0.6zM68.2 390.9h0.6v0.6h-0.6zM83.8 393.1h0.6v0.6h-0.6zM90.2 382.3h0.6v0.6h-0.6zM82.6 392.8h0.6v0.6h-0.6zM85.1 385.1h0.6v0.6h-0.6zM74.5 391.7h0.6v0.6h-0.6zM81.7 382.4h0.6v0.6h-0.6zM83.3 392.6h0.6v0.6h-0.6zM85.2 377.9h0.6v0.6h-0.6zM84.0 387.6h0.6v0.6h-0.6zM78.8 397.0h0.6v0.6h-0.6zM90.2 393.5h0.6v0.6h-0.6zM80.8 400.0h0.6v0.6h-0.6zM76.7 391.8h0.6v0.6h-0.6zM78.7 387.1h0.6v0.6h-0.6zM82.4 404.1h0.6v0.6h-0.6zM82.6 395.5h0.6v0.6h-0.6zM81.2 399.0h0.6v0.6h-0.6zM82.3 387.7h0.6v0.6h-0.6zM81.9 400.7h0.6v0.6h-0.6zM80.9 399.4h0.6v0.6h-0.6zM81.0 404.1h0.6v0.6h-0.6zM82.8 396.3h0.6v0.6h-0.6zM79.8 397.3h0.6v0.6h-0.6zM80.2 384.3h0.6v0.6h-0.6zM82.9 385.8h0.6v0.6h-0.6zM89.1 397.1h0.6v0.6h-0.6zM81.4 396.5h0.6v0.6h-0.6zM67.8 401.3h0.6v0.6h-0.6zM77.9 396.4h0.6v0.6h-0.6zM94.7 383.5h0.6v0.6h-0.6zM79.2 394.6h0.6v0.6h-0.6zM83.5 383.1h0.6v0.6h-0.6zM76.5 401.0h0.6v0.6h-0.6zM78.2 395.8h0.6v0.6h-0.6zM74.2 387.5h0.6v0.6h-0.6zM71.8 394.2h0.6v0.6h-0.6zM87.4 393.2h0.6v0.6h-0.6zM79.9 394.0h0.6v0.6h-0.6zM83.8 391.0h0.6v0.6h-0.6zM84.2 403.6h0.6v0.6h-0.6zM93.0 389.4h0.6v0.6h-0.6zM74.7 403.4h0.6v0.6h-0.6zM86.5 399.5h0.6v0.6h-0.6zM84.5 391.4h0.6v0.6h-0.6zM86.5 399.0h0.6v0.6h-0.6zM87.5 386.5h0.6v0.6h-0.6zM86.7 390.7h0.6v0.6h-0.6zM79.5 394.6h0.6v0.6h-0.6zM79.5 405.7h0.6v0.6h-0.6zM84.3 394.2h0.6v0.6h-0.6zM80.3 394.1h0.6v0.6h-0.6zM80.1 395.9h0.6v0.6h-0.6zM85.9 397.4h0.6v0.6h-0.6zM74.8 390.8h0.6v0.6h-0.6zM81.8 385.8h0.6v0.6h-0.6zM83.3 391.8h0.6v0.6h-0.6zM81.7 394.8h0.6v0.6h-0.6zM78.1 401.4h0.6v0.6h-0.6zM86.8 389.6h0.6v0.6h-0.6zM83.8 396.8h0.6v0.6h-0.6zM77.4 390.7h0.6v0.6h-0.6zM85.0 378.1h0.6v0.6h-0.6zM74.5 394.5h0.6v0.6h-0.6zM84.6 387.4h0.6v0.6h-0.6zM85.8 405.1h0.6v0.6h-0.6zM82.4 392.4h0.6v0.6h-0.6zM81.7 387.0h0.6v0.6h-0.6zM84.2 393.7h0.6v0.6h-0.6zM85.2 400.7h0.6v0.6h-0.6zM81.5 393.7h0.6v0.6h-0.6zM83.1 402.5h0.6v0.6h-0.6zM73.7 392.6h0.6v0.6h-0.6zM78.1 393.4h0.6v0.6h-0.6zM85.7 393.1h0.6v0.6h-0.6zM85.2 393.7h0.6v0.6h-0.6zM77.6 388.9h0.6v0.6h-0.6zM74.1 393.9h0.6v0.6h-0.6zM79.3 397.4h0.6v0.6h-0.6zM86.4 387.7h0.6v0.6h-0.6zM75.7 396.1h0.6v0.6h-0.6zM76.8 393.8h0.6v0.6h-0.6zM84.5 390.5h0.6v0.6h-0.6zM90.7 388.3h0.6v0.6h-0.6zM83.6 390.3h0.6v0.6h-0.6zM66.3 391.7h0.6v0.6h-0.6zM80.5 395.9h0.6v0.6h-0.6zM80.7 388.6h0.6v0.6h-0.6zM78.7 391.0h0.6v0.6h-0.6zM85.3 391.1h0.6v0.6h-0.6zM87.8 397.5h0.6v0.6h-0.6zM77.5 398.5h0.6v0.6h-0.6zM69.5 392.8h0.6v0.6h-0.6zM76.2 392.1h0.6v0.6h-0.6zM87.4 392.7h0.6v0.6h-0.6zM80.5 399.9h0.6v0.6h-0.6zM77.4 388.0h0.6v0.6h-0.6zM86.5 396.1h0.6v0.6h-0.6zM73.9 393.5h0.6v0.6h-0.6zM85.4 391.8h0.6v0.6h-0.6zM79.3 393.4h0.6v0.6h-0.6zM82.5 388.7h0.6v0.6h-0.6zM85.7 383.8h0.6v0.6h-0.6zM81.0 404.7h0.6v0.6h-0.6zM75.8 392.5h0.6v0.6h-0.6zM69.5 388.0h0.6v0.6h-0.6zM75.3 393.0h0.6v0.6h-0.6zM78.8 403.0h0.6v0.6h-0.6zM76.5 392.5h0.6v0.6h-0.6zM82.5 396.3h0.6v0.6h-0.6zM86.0 383.9h0.6v0.6h-0.6zM92.8 390.9h0.6v0.6h-0.6zM77.6 383.4h0.6v0.6h-0.6zM79.0 382.7h0.6v0.6h-0.6zM82.3 389.3h0.6v0.6h-0.6zM83.0 388.2h0.6v0.6h-0.6zM81.7 405.2h0.6v0.6h-0.6zM87.5 393.6h0.6v0.6h-0.6zM76.2 400.9h0.6v0.6h-0.6zM72.5 384.7h0.6v0.6h-0.6zM88.1 389.3h0.6v0.6h-0.6zM88.4 395.9h0.6v0.6h-0.6zM92.7 402.7h0.6v0.6h-0.6zM84.4 389.1h0.6v0.6h-0.6zM84.4 400.5h0.6v0.6h-0.6zM82.1 376.4h0.6v0.6h-0.6zM79.4 390.6h0.6v0.6h-0.6zM81.0 390.7h0.6v0.6h-0.6zM87.3 385.5h0.6v0.6h-0.6zM83.6 381.5h0.6v0.6h-0.6zM70.0 387.0h0.6v0.6h-0.6zM77.4 387.6h0.6v0.6h-0.6zM77.7 396.1h0.6v0.6h-0.6zM84.3 393.1h0.6v0.6h-0.6zM82.4 388.7h0.6v0.6h-0.6zM76.2 384.6h0.6v0.6h-0.6zM79.2 386.3h0.6v0.6h-0.6zM79.6 396.7h0.6v0.6h-0.6zM84.2 400.1h0.6v0.6h-0.6zM76.5 380.3h0.6v0.6h-0.6zM75.5 403.8h0.6v0.6h-0.6zM85.0 390.2h0.6v0.6h-0.6zM88.2 390.3h0.6v0.6h-0.6zM90.0 390.3h0.6v0.6h-0.6zM79.2 396.5h0.6v0.6h-0.6zM75.3 391.7h0.6v0.6h-0.6zM91.4 395.1h0.6v0.6h-0.6zM75.6 391.2h0.6v0.6h-0.6zM81.2 388.4h0.6v0.6h-0.6zM83.5 399.6h0.6v0.6h-0.6zM81.6 397.6h0.6v0.6h-0.6zM82.8 393.4h0.6v0.6h-0.6zM77.4 398.0h0.6v0.6h-0.6zM88.3 390.1h0.6v0.6h-0.6zM76.7 395.5h0.6v0.6h-0.6zM81.8 398.9h0.6v0.6h-0.6zM83.9 391.9h0.6v0.6h-0.6zM74.1 396.1h0.6v0.6h-0.6zM81.8 385.5h0.6v0.6h-0.6zM73.5 382.4h0.6v0.6h-0.6zM84.5 390.2h0.6v0.6h-0.6zM64.0 387.7h0.6v0.6h-0.6zM78.0 392.0h0.6v0.6h-0.6zM81.5 390.7h0.6v0.6h-0.6zM85.2 398.3h0.6v0.6h-0.6zM80.1 401.4h0.6v0.6h-0.6zM80.6 387.7h0.6v0.6h-0.6zM82.1 384.6h0.6v0.6h-0.6zM79.7 386.6h0.6v0.6h-0.6zM79.1 393.7h0.6v0.6h-0.6zM68.5 394.8h0.6v0.6h-0.6zM82.7 391.4h0.6v0.6h-0.6zM85.0 394.5h0.6v0.6h-0.6zM79.4 387.0h0.6v0.6h-0.6zM85.1 396.8h0.6v0.6h-0.6zM73.6 388.5h0.6v0.6h-0.6zM75.1 397.2h0.6v0.6h-0.6zM78.3 385.6h0.6v0.6h-0.6zM89.1 395.1h0.6v0.6h-0.6zM82.5 394.0h0.6v0.6h-0.6zM80.4 392.8h0.6v0.6h-0.6zM85.9 395.1h0.6v0.6h-0.6zM78.9 393.1h0.6v0.6h-0.6zM91.0 389.5h0.6v0.6h-0.6zM74.4 393.2h0.6v0.6h-0.6zM75.3 407.3h0.6v0.6h-0.6zM84.5 395.9h0.6v0.6h-0.6zM83.2 403.6h0.6v0.6h-0.6zM76.0 392.3h0.6v0.6h-0.6zM72.6 399.5h0.6v0.6h-0.6zM80.9 402.5h0.6v0.6h-0.6zM79.8 386.7h0.6v0.6h-0.6zM77.6 397.1h0.6v0.6h-0.6zM77.0 394.0h0.6v0.6h-0.6zM77.5 388.6h0.6v0.6h-0.6zM78.3 401.7h0.6v0.6h-0.6zM75.6 394.4h0.6v0.6h-0.6zM85.5 388.4h0.6v0.6h-0.6zM73.4 401.0h0.6v0.6h-0.6zM90.3 391.1h0.6v0.6h-0.6zM75.0 397.4h0.6v0.6h-0.6zM81.1 387.9h0.6v0.6h-0.6zM79.2 379.1h0.6v0.6h-0.6zM77.0 385.7h0.6v0.6h-0.6zM74.4 395.8h0.6v0.6h-0.6zM82.6 402.1h0.6v0.6h-0.6zM67.2 388.8h0.6v0.6h-0.6zM76.8 400.0h0.6v0.6h-0.6zM86.7 393.2h0.6v0.6h-0.6zM81.7 388.3h0.6v0.6h-0.6zM78.5 390.0h0.6v0.6h-0.6zM68.0 403.2h0.6v0.6h-0.6zM85.1 404.3h0.6v0.6h-0.6zM87.7 395.3h0.6v0.6h-0.6zM85.6 383.0h0.6v0.6h-0.6zM75.9 397.3h0.6v0.6h-0.6zM79.2 383.4h0.6v0.6h-0.6zM81.2 385.2h0.6v0.6h-0.6zM81.2 401.4h0.6v0.6h-0.6zM75.3 390.0h0.6v0.6h-0.6zM84.1 392.4h0.6v0.6h-0.6zM82.2 387.7h0.6v0.6h-0.6zM79.4 379.0h0.6v0.6h-0.6zM80.3 399.8h0.6v0.6h-0.6zM75.3 391.4h0.6v0.6h-0.6zM84.9 399.4h0.6v0.6h-0.6zM87.3 387.5h0.6v0.6h-0.6zM79.0 402.4h0.6v0.6h-0.6zM78.7 394.1h0.6v0.6h-0.6zM76.8 388.8h0.6v0.6h-0.6zM65.6 389.4h0.6v0.6h-0.6zM69.6 386.7h0.6v0.6h-0.6zM76.0 400.1h0.6v0.6h-0.6zM85.2 394.8h0.6v0.6h-0.6zM78.5 384.6h0.6v0.6h-0.6zM83.7 387.8h0.6v0.6h-0.6zM80.6 397.8h0.6v0.6h-0.6zM80.2 392.3h0.6v0.6h-0.6zM75.9 398.4h0.6v0.6h-0.6zM84.0 396.5h0.6v0.6h-0.6zM89.7 383.2h0.6v0.6h-0.6zM81.3 396.1h0.6v0.6h-0.6zM82.9 394.2h0.6v0.6h-0.6zM83.6 383.8h0.6v0.6h-0.6zM80.8 399.1h0.6v0.6h-0.6zM80.9 391.3h0.6v0.6h-0.6zM85.6 382.5h0.6v0.6h-0.6zM83.3 401.1h0.6v0.6h-0.6zM79.8 387.8h0.6v0.6h-0.6zM83.9 389.9h0.6v0.6h-0.6zM76.8 393.4h0.6v0.6h-0.6zM72.4 396.3h0.6v0.6h-0.6zM74.8 389.3h0.6v0.6h-0.6zM85.0 392.3h0.6v0.6h-0.6zM82.5 400.3h0.6v0.6h-0.6zM89.2 404.3h0.6v0.6h-0.6zM78.3 397.7h0.6v0.6h-0.6zM72.4 397.0h0.6v0.6h-0.6zM88.0 388.3h0.6v0.6h-0.6zM83.6 397.2h0.6v0.6h-0.6zM80.3 388.8h0.6v0.6h-0.6zM89.1 385.0h0.6v0.6h-0.6zM82.0 397.9h0.6v0.6h-0.6zM82.4 401.4h0.6v0.6h-0.6zM89.0 395.1h0.6v0.6h-0.6zM90.5 396.7h0.6v0.6h-0.6zM74.7 390.6h0.6v0.6h-0.6zM82.6 393.5h0.6v0.6h-0.6zM72.2 405.5h0.6v0.6h-0.6zM72.9 386.0h0.6v0.6h-0.6zM83.5 393.6h0.6v0.6h-0.6zM89.3 393.7h0.6v0.6h-0.6zM83.2 396.6h0.6v0.6h-0.6zM77.3 385.1h0.6v0.6h-0.6zM78.7 398.2h0.6v0.6h-0.6zM79.7 399.6h0.6v0.6h-0.6zM78.3 396.8h0.6v0.6h-0.6zM81.3 397.3h0.6v0.6h-0.6zM81.2 393.6h0.6v0.6h-0.6zM78.7 399.6h0.6v0.6h-0.6zM81.0 395.3h0.6v0.6h-0.6zM84.6 387.4h0.6v0.6h-0.6zM76.8 392.2h0.6v0.6h-0.6zM87.9 386.5h0.6v0.6h-0.6zM75.8 386.9h0.6v0.6h-0.6zM79.1 386.4h0.6v0.6h-0.6zM76.9 395.5h0.6v0.6h-0.6zM75.5 392.4h0.6v0.6h-0.6zM75.0 391.4h0.6v0.6h-0.6zM83.9 381.1h0.6v0.6h-0.6zM81.5 393.8h0.6v0.6h-0.6zM80.9 394.0h0.6v0.6h-0.6zM83.4 385.1h0.6v0.6h-0.6zM80.5 396.2h0.6v0.6h-0.6zM88.0 384.8h0.6v0.6h-0.6zM78.1 384.7h0.6v0.6h-0.6zM81.1 386.4h0.6v0.6h-0.6zM76.0 396.9h0.6v0.6h-0.6zM93.0 380.8h0.6v0.6h-0.6zM89.9 387.3h0.6v0.6h-0.6zM84.8 394.5h0.6v0.6h-0.6zM87.7 391.3h0.6v0.6h-0.6zM76.8 392.2h0.6v0.6h-0.6zM85.4 387.4h0.6v0.6h-0.6zM83.4 392.5h0.6v0.6h-0.6zM82.2 392.6h0.6v0.6h-0.6zM84.4 397.1h0.6v0.6h-0.6zM79.7 390.5h0.6v0.6h-0.6zM69.9 387.5h0.6v0.6h-0.6zM73.2 396.3h0.6v0.6h-0.6zM75.5 388.6h0.6v0.6h-0.6zM84.0 398.1h0.6v0.6h-0.6zM87.6 387.7h0.6v0.6h-0.6zM82.5 398.6h0.6v0.6h-0.6zM76.8 391.2h0.6v0.6h-0.6zM74.8 388.9h0.6v0.6h-0.6zM84.9 393.0h0.6v0.6h-0.6zM79.3 389.4h0.6v0.6h-0.6zM89.2 396.8h0.6v0.6h-0.6zM74.7 404.8h0.6v0.6h-0.6zM79.1 391.7h0.6v0.6h-0.6zM78.7 389.3h0.6v0.6h-0.6zM84.6 384.3h0.6v0.6h-0.6zM81.4 390.7h0.6v0.6h-0.6zM90.4 394.7h0.6v0.6h-0.6zM83.5 395.5h0.6v0.6h-0.6zM84.4 393.2h0.6v0.6h-0.6zM68.4 394.9h0.6v0.6h-0.6zM79.6 396.5h0.6v0.6h-0.6zM82.9 389.4h0.6v0.6h-0.6zM76.6 386.8h0.6v0.6h-0.6zM82.7 391.9h0.6v0.6h-0.6zM76.6 390.5h0.6v0.6h-0.6zM83.1 388.8h0.6v0.6h-0.6zM80.6 389.1h0.6v0.6h-0.6zM67.6 393.1h0.6v0.6h-0.6zM81.6 397.1h0.6v0.6h-0.6zM88.1 388.4h0.6v0.6h-0.6z" fill="#4158ae" fill-opacity="0.85"/>
<path d="M82.8 393.3h0.6v0.6h-0.6zM81.5 394.9h0.6v0.6h-0.6zM83.6 389.0h0.6v0.6h-0.6zM85.1 392.1h0.6v0.6h-0.6zM79.5 390.6h0.6v0.6h-0.6zM80.7 389.4h0.6v0.6h-0.6zM84.1 393.8h0.6v0.6h-0.6zM78.9 394.9h0.6v0.6h-0.6zM81.9 392.8h0.6v0.6h-0.6zM83.8 392.3h0.6v0.6h-0.6zM80.6 394.0h0.6v0.6h-0.6zM76.5 389.2h0.6v0.6h-0.6zM82.6 395.6h0.6v0.6h-0.6zM76.9 392.6h0.6v0.6h-0.6zM79.5 391.8h0.6v0.6h-0.6zM82.8 396.8h0.6v0.6h-0.6zM85.9 395.2h0.6v0.6h-0.6zM82.9 393.0h0.6v0.6h-0.6zM76.4 393.7h0.6v0.6h-0.6zM78.2 389.4h0.6v0.6h-0.6zM81.6 388.1h0.6v0.6h-0.6zM85.9 394.3h0.6v0.6h-0.6zM82.2 393.9h0.6v0.6h-0.6zM81.9 392.8h0.6v0.6h-0.6zM83.1 390.7h0.6v0.6h-0.6zM82.0 393.0h0.6v0.6h-0.6zM83.3 389.5h0.6v0.6h-0.6zM81.9 392.2h0.6v0.6h-0.6zM82.9 394.1h0.6v0.6h-0.6zM81.8 393.9h0.6v0.6h-0.6zM82.4 396.4h0.6v0.6h-0.6zM82.1 394.1h0.6v0.6h-0.6zM78.8 392.0h0.6v0.6h-0.6zM83.3 395.5h0.6v0.6h-0.6zM78.7 392.5h0.6v0.6h-0.6zM80.6 392.7h0.6v0.6h-0.6zM80.0 391.4h0.6v0.6h-0.6zM81.1 392.9h0.6v0.6h-0.6zM83.9 390.2h0.6v0.6h-0.6zM78.8 394.8h0.6v0.6h-0.6zM82.6 392.1h0.6v0.6h-0.6zM78.3 395.5h0.6v0.6h-0.6zM78.5 395.8h0.6v0.6h-0.6zM81.9 392.2h0.6v0.6h-0.6zM80.8 394.9h0.6v0.6h-0.6zM81.3 387.7h0.6v0.6h-0.6zM79.5 386.5h0.6v0.6h-0.6zM82.3 395.2h0.6v0.6h-0.6zM84.0 388.8h0.6v0.6h-0.6zM86.8 397.7h0.6v0.6h-0.6zM81.0 387.0h0.6v0.6h-0.6zM79.0 395.5h0.6v0.6h-0.6zM86.7 391.1h0.6v0.6h-0.6zM76.5 389.9h0.6v0.6h-0.6zM86.3 392.6h0.6v0.6h-0.6zM77.6 386.7h0.6v0.6h-0.6zM82.9 394.8h0.6v0.6h-0.6zM80.0 392.0h0.6v0.6h-0.6zM81.5 391.6h0.6v0.6h-0.6zM79.8 391.0h0.6v0.6h-0.6zM79.7 396.0h0.6v0.6h-0.6zM82.3 395.4h0.6v0.6h-0.6zM86.1 386.2h0.6v0.6h-0.6zM81.1 395.3h0.6v0.6h-0.6zM80.7 390.9h0.6v0.6h-0.6zM82.3 391.1h0.6v0.6h-0.6zM79.1 391.7h0.6v0.6h-0.6zM81.4 392.6h0.6v0.6h-0.6zM83.6 392.6h0.6v0.6h-0.6zM80.0 401.1h0.6v0.6h-0.6zM80.7 391.8h0.6v0.6h-0.6zM80.9 390.6h0.6v0.6h-0.6zM77.2 393.1h0.6v0.6h-0.6zM85.1 387.5h0.6v0.6h-0.6zM79.3 393.8h0.6v0.6h-0.6zM79.5 394.1h0.6v0.6h-0.6zM81.1 389.5h0.6v0.6h-0.6zM80.7 391.1h0.6v0.6h-0.6zM82.7 385.4h0.6v0.6h-0.6zM82.3 396.3h0.6v0.6h-0.6zM81.7 393.2h0.6v0.6h-0.6zM79.9 393.5h0.6v0.6h-0.6zM80.9 389.0h0.6v0.6h-0.6zM78.2 386.1h0.6v0.6h-0.6zM82.4 393.1h0.6v0.6h-0.6zM84.1 393.3h0.6v0.6h-0.6zM83.1 388.8h0.6v0.6h-0.6zM76.4 391.0h0.6v0.6h-0.6zM80.4 393.6h0.6v0.6h-0.6zM80.9 392.1h0.6v0.6h-0.6zM81.4 393.3h0.6v0.6h-0.6zM81.8 393.5h0.6v0.6h-0.6zM80.0 392.3h0.6v0.6h-0.6zM77.4 389.4h0.6v0.6h-0.6zM80.6 393.8h0.6v0.6h-0.6zM79.3 388.6h0.6v0.6h-0.6zM83.8 390.2h0.6v0.6h-0.6zM76.8 389.8h0.6v0.6h-0.6zM78.2 385.8h0.6v0.6h-0.6zM80.3 397.3h0.6v0.6h-0.6zM79.3 390.3h0.6v0.6h-0.6zM84.3 392.8h0.6v0.6h-0.6zM81.0 396.4h0.6v0.6h-0.6zM78.2 392.4h0.6v0.6h-0.6zM82.6 393.1h0.6v0.6h-0.6zM78.2 390.0h0.6v0.6h-0.6zM85.9 392.3h0.6v0.6h-0.6zM80.6 395.6h0.6v0.6h-0.6zM76.6 392.4h0.6v0.6h-0.6zM76.7 396.5h0.6v0.6h-0.6zM78.7 392.9h0.6v0.6h-0.6zM78.9 392.9h0.6v0.6h-0.6zM82.1 392.6h0.6v0.6h-0.6zM80.4 393.3h0.6v0.6h-0.6zM80.6 391.2h0.6v0.6h-0.6zM82.9 395.0h0.6v0.6h-0.6zM77.8 389.8h0.6v0.6h-0.6zM79.3 393.4h0.6v0.6h-0.6zM77.6 396.9h0.6v0.6h-0.6zM81.4 393.0h0.6v0.6h-0.6zM83.5 390.5h0.6v0.6h-0.6zM82.2 393.7h0.6v0.6h-0.6zM84.6 389.6h0.6v0.6h-0.6zM84.9 394.3h0.6v0.6h-0.6zM81.9 395.6h0.6v0.6h-0.6zM80.6 392.0h0.6v0.6h-0.6zM83.5 391.6h0.6v0.6h-0.6zM84.1 396.4h0.6v0.6h-0.6zM81.9 393.1h0.6v0.6h-0.6zM79.6 390.0h0.6v0.6h-0.6zM85.0 389.7h0.6v0.6h-0.6zM81.5 393.4h0.6v0.6h-0.6zM79.0 390.7h0.6v0.6h-0.6zM79.5 398.5h0.6v0.6h-0.6zM82.3 396.5h0.6v0.6h-0.6zM86.6 395.4h0.6v0.6h-0.6zM84.7 391.4h0.6v0.6h-0.6zM79.5 396.7h0.6v0.6h-0.6zM85.1 389.8h0.6v0.6h-0.6zM84.3 393.4h0.6v0.6h-0.6zM83.4 395.3h0.6v0.6h-0.6zM86.2 390.9h0.6v0.6h-0.6zM81.3 396.1h0.6v0.6h-0.6zM80.7 394.2h0.6v0.6h-0.6zM81.1 387.9h0.6v0.6h-0.6zM79.9 395.1h0.6v0.6h-0.6zM79.9 388.3h0.6v0.6h-0.6zM80.0 392.9h0.6v0.6h-0.6zM82.6 393.6h0.6v0.6h-0.6zM82.7 389.7h0.6v0.6h-0.6zM79.8 390.5h0.6v0.6h-0.6zM80.2 393.9h0.6v0.6h-0.6zM84.8 392.0h0.6v0.6h-0.6zM84.1 395.8h0.6v0.6h-0.6zM78.4 390.4h0.6v0.6h-0.6zM81.7 388.8h0.6v0.6h-0.6zM86.2 387.4h0.6v0.6h-0.6zM78.2 394.8h0.6v0.6h-0.6zM79.4 394.6h0.6v0.6h-0.6zM78.8 395.6h0.6v0.6h-0.6zM79.8 394.7h0.6v0.6h-0.6zM84.0 388.5h0.6v0.6h-0.6zM79.1 387.8h0.6v0.6h-0.6zM78.5 395.2h0.6v0.6h-0.6zM81.3 395.0h0.6v0.6h-0.6zM85.1 395.6h0.6v0.6h-0.6zM83.2 391.5h0.6v0.6h-0.6zM80.4 393.6h0.6v0.6h-0.6zM83.6 395.7h0.6v0.6h-0.6zM82.1 391.9h0.6v0.6h-0.6zM81.2 397.3h0.6v0.6h-0.6zM82.1 398.3h0.6v0.6h-0.6zM79.5 395.1h0.6v0.6h-0.6zM81.9 394.8h0.6v0.6h-0.6zM79.4 393.6h0.6v0.6h-0.6zM81.2 391.9h0.6v0.6h-0.6zM78.3 388.7h0.6v0.6h-0.6zM80.5 394.2h0.6v0.6h-0.6zM82.1 393.4h0.6v0.6h-0.6zM82.2 388.9h0.6v0.6h-0.6zM84.1 392.9h0.6v0.6h-0.6zM79.4 391.2h0.6v0.6h-0.6zM84.0 393.2h0.6v0.6h-0.6zM77.1 398.6h0.6v0.6h-0.6zM77.6 397.5h0.6v0.6h-0.6zM83.6 389.9h0.6v0.6h-0.6zM84.6 396.2h0.6v0.6h-0.6zM84.1 394.5h0.6v0.6h-0.6zM82.2 393.3h0.6v0.6h-0.6zM80.0 393.5h0.6v0.6h-0.6zM84.7 392.4h0.6v0.6h-0.6zM86.5 388.4h0.6v0.6h-0.6zM81.5 388.6h0.6v0.6h-0.6zM76.9 393.4h0.6v0.6h-0.6zM80.6 391.2h0.6v0.6h-0.6zM78.7 392.1h0.6v0.6h-0.6zM77.2 392.2h0.6v0.6h-0.6zM80.0 389.2h0.6v0.6h-0.6zM82.5 387.5h0.6v0.6h-0.6zM82.5 393.5h0.6v0.6h-0.6z" fill="#3a4fa6" fill-opacity="0.9"/>
<path d="M59.7 389 L59.6 431.6 Q59.8 434 62 434.1 L67.8 433.9 Q69.2 433.4 69.0 431.4 L66.6 415 L64.6 400 L62.6 389 Q61.1 386.6 59.7 389Z" fill="#3d53a6"/>
<path d="M63.7 387.3h0.6v0.6h-0.6zM67.4 400.3h0.6v0.6h-0.6zM66.9 406.7h0.6v0.6h-0.6zM63.8 398.8h0.6v0.6h-0.6zM69.0 423.5h0.6v0.6h-0.6zM71.1 424.8h0.6v0.6h-0.6zM62.0 385.1h0.6v0.6h-0.6zM67.8 428.8h0.6v0.6h-0.6zM62.1 388.4h0.6v0.6h-0.6zM69.2 414.2h0.6v0.6h-0.6zM68.3 418.0h0.6v0.6h-0.6zM63.8 395.1h0.6v0.6h-0.6zM64.7 407.9h0.6v0.6h-0.6zM64.5 390.3h0.6v0.6h-0.6zM63.0 391.8h0.6v0.6h-0.6zM67.9 413.8h0.6v0.6h-0.6zM64.1 385.1h0.6v0.6h-0.6zM64.3 403.8h0.6v0.6h-0.6zM64.5 392.9h0.6v0.6h-0.6zM66.6 393.8h0.6v0.6h-0.6zM68.9 422.4h0.6v0.6h-0.6zM66.4 395.3h0.6v0.6h-0.6zM62.8 391.0h0.6v0.6h-0.6zM69.2 429.6h0.6v0.6h-0.6zM69.0 430.0h0.6v0.6h-0.6zM64.0 402.5h0.6v0.6h-0.6zM64.7 396.9h0.6v0.6h-0.6zM69.8 423.4h0.6v0.6h-0.6zM66.5 406.6h0.6v0.6h-0.6zM64.5 403.3h0.6v0.6h-0.6zM65.8 407.5h0.6v0.6h-0.6zM66.3 401.2h0.6v0.6h-0.6zM65.7 413.1h0.6v0.6h-0.6zM64.5 404.2h0.6v0.6h-0.6zM64.6 402.8h0.6v0.6h-0.6zM64.5 406.1h0.6v0.6h-0.6zM68.2 431.6h0.6v0.6h-0.6zM64.0 400.7h0.6v0.6h-0.6zM64.3 403.3h0.6v0.6h-0.6zM66.5 414.2h0.6v0.6h-0.6zM68.3 426.5h0.6v0.6h-0.6zM62.8 390.2h0.6v0.6h-0.6zM61.6 385.8h0.6v0.6h-0.6zM68.1 420.8h0.6v0.6h-0.6zM68.2 424.1h0.6v0.6h-0.6zM64.1 400.6h0.6v0.6h-0.6zM66.8 423.1h0.6v0.6h-0.6zM66.2 407.4h0.6v0.6h-0.6zM67.1 402.6h0.6v0.6h-0.6zM63.7 398.0h0.6v0.6h-0.6zM69.9 425.1h0.6v0.6h-0.6zM69.7 432.5h0.6v0.6h-0.6zM71.7 431.4h0.6v0.6h-0.6zM67.3 394.9h0.6v0.6h-0.6zM68.4 424.8h0.6v0.6h-0.6zM65.6 406.9h0.6v0.6h-0.6zM67.9 426.5h0.6v0.6h-0.6zM69.1 429.4h0.6v0.6h-0.6zM68.2 427.8h0.6v0.6h-0.6zM63.4 399.1h0.6v0.6h-0.6zM67.2 399.5h0.6v0.6h-0.6zM68.0 414.5h0.6v0.6h-0.6zM68.7 425.6h0.6v0.6h-0.6zM67.2 421.2h0.6v0.6h-0.6zM63.8 401.9h0.6v0.6h-0.6zM62.3 387.5h0.6v0.6h-0.6zM66.1 405.4h0.6v0.6h-0.6zM65.9 413.0h0.6v0.6h-0.6zM66.1 399.4h0.6v0.6h-0.6zM64.0 401.6h0.6v0.6h-0.6zM65.9 409.3h0.6v0.6h-0.6zM62.6 387.6h0.6v0.6h-0.6zM63.7 399.7h0.6v0.6h-0.6zM62.3 386.5h0.6v0.6h-0.6zM68.9 408.8h0.6v0.6h-0.6zM64.3 402.8h0.6v0.6h-0.6zM64.9 407.0h0.6v0.6h-0.6zM62.1 390.0h0.6v0.6h-0.6zM69.5 423.9h0.6v0.6h-0.6zM64.5 402.0h0.6v0.6h-0.6zM70.8 422.2h0.6v0.6h-0.6zM67.2 426.4h0.6v0.6h-0.6zM68.1 429.2h0.6v0.6h-0.6zM67.5 407.8h0.6v0.6h-0.6zM67.3 411.4h0.6v0.6h-0.6zM68.5 425.5h0.6v0.6h-0.6zM71.3 427.5h0.6v0.6h-0.6zM66.8 415.5h0.6v0.6h-0.6zM66.1 414.6h0.6v0.6h-0.6zM65.0 408.5h0.6v0.6h-0.6zM65.1 403.6h0.6v0.6h-0.6zM65.7 412.9h0.6v0.6h-0.6zM62.4 392.1h0.6v0.6h-0.6zM69.2 421.4h0.6v0.6h-0.6zM63.7 400.2h0.6v0.6h-0.6zM63.1 396.1h0.6v0.6h-0.6zM69.4 421.3h0.6v0.6h-0.6zM65.4 398.6h0.6v0.6h-0.6zM62.6 389.0h0.6v0.6h-0.6zM64.2 388.0h0.6v0.6h-0.6zM68.5 431.3h0.6v0.6h-0.6zM64.8 408.7h0.6v0.6h-0.6zM66.8 401.7h0.6v0.6h-0.6zM71.2 431.3h0.6v0.6h-0.6zM63.4 391.1h0.6v0.6h-0.6zM66.6 418.3h0.6v0.6h-0.6zM62.9 390.4h0.6v0.6h-0.6zM66.4 408.4h0.6v0.6h-0.6zM68.3 406.5h0.6v0.6h-0.6zM71.3 431.1h0.6v0.6h-0.6zM68.5 429.9h0.6v0.6h-0.6zM64.2 397.1h0.6v0.6h-0.6zM66.3 407.8h0.6v0.6h-0.6zM65.8 402.3h0.6v0.6h-0.6zM68.4 434.1h0.6v0.6h-0.6zM62.3 389.5h0.6v0.6h-0.6zM63.2 395.4h0.6v0.6h-0.6zM64.5 387.1h0.6v0.6h-0.6zM63.2 396.7h0.6v0.6h-0.6zM72.1 429.4h0.6v0.6h-0.6zM66.9 398.0h0.6v0.6h-0.6zM72.3 433.1h0.6v0.6h-0.6zM70.2 420.5h0.6v0.6h-0.6zM67.4 423.0h0.6v0.6h-0.6zM65.2 410.2h0.6v0.6h-0.6zM68.7 417.8h0.6v0.6h-0.6zM64.3 401.1h0.6v0.6h-0.6zM69.2 433.1h0.6v0.6h-0.6zM63.5 395.5h0.6v0.6h-0.6zM74.6 432.0h0.6v0.6h-0.6zM70.5 430.8h0.6v0.6h-0.6zM71.1 425.6h0.6v0.6h-0.6zM68.4 413.1h0.6v0.6h-0.6zM69.0 426.4h0.6v0.6h-0.6zM68.0 426.5h0.6v0.6h-0.6zM66.6 421.2h0.6v0.6h-0.6zM69.7 409.2h0.6v0.6h-0.6zM68.2 407.1h0.6v0.6h-0.6zM67.8 418.4h0.6v0.6h-0.6zM66.4 403.2h0.6v0.6h-0.6zM70.2 416.7h0.6v0.6h-0.6zM68.5 420.8h0.6v0.6h-0.6zM68.5 424.7h0.6v0.6h-0.6zM64.8 407.3h0.6v0.6h-0.6zM67.1 418.7h0.6v0.6h-0.6zM61.6 385.2h0.6v0.6h-0.6zM64.2 404.7h0.6v0.6h-0.6zM64.1 396.0h0.6v0.6h-0.6zM65.7 405.6h0.6v0.6h-0.6zM70.8 418.5h0.6v0.6h-0.6zM62.9 386.0h0.6v0.6h-0.6zM68.8 421.2h0.6v0.6h-0.6zM66.8 415.4h0.6v0.6h-0.6zM63.0 388.5h0.6v0.6h-0.6zM69.2 417.9h0.6v0.6h-0.6zM69.0 430.1h0.6v0.6h-0.6zM69.2 418.1h0.6v0.6h-0.6zM71.0 432.5h0.6v0.6h-0.6zM69.7 425.2h0.6v0.6h-0.6zM61.6 385.7h0.6v0.6h-0.6zM68.5 415.4h0.6v0.6h-0.6zM69.0 415.3h0.6v0.6h-0.6zM67.4 403.0h0.6v0.6h-0.6zM65.8 415.9h0.6v0.6h-0.6zM72.6 433.8h0.6v0.6h-0.6zM69.3 423.2h0.6v0.6h-0.6zM73.8 434.0h0.6v0.6h-0.6zM65.1 404.6h0.6v0.6h-0.6zM62.1 385.6h0.6v0.6h-0.6zM70.5 434.1h0.6v0.6h-0.6zM64.6 404.5h0.6v0.6h-0.6zM64.4 389.8h0.6v0.6h-0.6zM64.2 400.1h0.6v0.6h-0.6zM66.2 414.6h0.6v0.6h-0.6zM64.9 405.9h0.6v0.6h-0.6zM70.4 433.4h0.6v0.6h-0.6zM63.9 394.7h0.6v0.6h-0.6zM61.7 385.7h0.6v0.6h-0.6zM64.7 399.9h0.6v0.6h-0.6zM65.8 409.2h0.6v0.6h-0.6zM65.3 410.9h0.6v0.6h-0.6zM63.7 388.2h0.6v0.6h-0.6zM64.5 402.3h0.6v0.6h-0.6zM71.0 423.1h0.6v0.6h-0.6zM70.1 419.7h0.6v0.6h-0.6zM69.2 421.7h0.6v0.6h-0.6zM63.5 387.7h0.6v0.6h-0.6zM70.2 426.6h0.6v0.6h-0.6zM68.4 434.0h0.6v0.6h-0.6zM66.5 413.1h0.6v0.6h-0.6zM66.6 415.9h0.6v0.6h-0.6zM68.9 432.9h0.6v0.6h-0.6zM65.6 410.3h0.6v0.6h-0.6zM69.4 404.0h0.6v0.6h-0.6zM62.4 388.5h0.6v0.6h-0.6zM64.0 395.8h0.6v0.6h-0.6zM64.7 400.0h0.6v0.6h-0.6zM67.2 417.9h0.6v0.6h-0.6zM73.0 429.8h0.6v0.6h-0.6zM68.0 430.6h0.6v0.6h-0.6zM63.5 397.5h0.6v0.6h-0.6zM66.2 413.8h0.6v0.6h-0.6zM64.9 388.7h0.6v0.6h-0.6zM64.5 391.3h0.6v0.6h-0.6zM66.4 420.5h0.6v0.6h-0.6zM66.9 424.3h0.6v0.6h-0.6zM63.9 388.0h0.6v0.6h-0.6zM67.3 409.6h0.6v0.6h-0.6zM67.5 407.1h0.6v0.6h-0.6zM62.0 386.9h0.6v0.6h-0.6zM67.8 411.0h0.6v0.6h-0.6zM63.3 390.8h0.6v0.6h-0.6zM67.0 420.7h0.6v0.6h-0.6zM68.8 423.2h0.6v0.6h-0.6zM67.6 413.6h0.6v0.6h-0.6zM64.4 398.6h0.6v0.6h-0.6zM64.6 399.2h0.6v0.6h-0.6zM68.1 423.2h0.6v0.6h-0.6zM63.9 403.2h0.6v0.6h-0.6zM68.1 432.7h0.6v0.6h-0.6zM69.7 422.2h0.6v0.6h-0.6zM62.0 388.1h0.6v0.6h-0.6zM64.6 393.1h0.6v0.6h-0.6zM66.6 415.8h0.6v0.6h-0.6zM68.5 432.3h0.6v0.6h-0.6zM64.1 395.9h0.6v0.6h-0.6zM64.2 392.3h0.6v0.6h-0.6zM64.7 405.8h0.6v0.6h-0.6zM65.5 403.2h0.6v0.6h-0.6zM67.7 425.9h0.6v0.6h-0.6zM65.5 411.4h0.6v0.6h-0.6zM65.9 415.2h0.6v0.6h-0.6zM71.2 428.3h0.6v0.6h-0.6zM63.8 396.5h0.6v0.6h-0.6zM68.0 419.0h0.6v0.6h-0.6zM65.5 397.1h0.6v0.6h-0.6zM66.0 392.7h0.6v0.6h-0.6zM68.9 430.7h0.6v0.6h-0.6zM67.0 411.8h0.6v0.6h-0.6zM68.4 430.0h0.6v0.6h-0.6zM62.0 388.3h0.6v0.6h-0.6zM68.2 428.6h0.6v0.6h-0.6zM65.4 402.5h0.6v0.6h-0.6zM63.6 395.1h0.6v0.6h-0.6zM66.5 406.5h0.6v0.6h-0.6zM63.6 389.8h0.6v0.6h-0.6zM67.2 411.5h0.6v0.6h-0.6zM67.9 425.0h0.6v0.6h-0.6zM63.8 398.0h0.6v0.6h-0.6zM65.4 404.5h0.6v0.6h-0.6zM69.9 424.2h0.6v0.6h-0.6zM65.1 411.6h0.6v0.6h-0.6zM69.7 420.4h0.6v0.6h-0.6zM63.8 396.1h0.6v0.6h-0.6zM64.1 394.9h0.6v0.6h-0.6zM65.4 412.4h0.6v0.6h-0.6zM62.6 389.4h0.6v0.6h-0.6zM63.2 387.5h0.6v0.6h-0.6zM65.0 391.0h0.6v0.6h-0.6zM69.4 428.6h0.6v0.6h-0.6zM65.2 404.3h0.6v0.6h-0.6zM66.5 420.9h0.6v0.6h-0.6zM67.9 431.6h0.6v0.6h-0.6zM62.4 391.3h0.6v0.6h-0.6zM62.6 389.1h0.6v0.6h-0.6zM67.3 408.6h0.6v0.6h-0.6zM62.7 390.7h0.6v0.6h-0.6zM63.0 391.6h0.6v0.6h-0.6zM67.9 414.4h0.6v0.6h-0.6zM70.6 425.9h0.6v0.6h-0.6zM62.6 391.8h0.6v0.6h-0.6zM65.8 409.3h0.6v0.6h-0.6zM63.1 386.4h0.6v0.6h-0.6zM69.7 425.0h0.6v0.6h-0.6zM68.1 409.2h0.6v0.6h-0.6zM69.6 426.0h0.6v0.6h-0.6zM67.4 424.9h0.6v0.6h-0.6zM63.1 387.8h0.6v0.6h-0.6zM73.6 422.8h0.6v0.6h-0.6zM64.3 399.3h0.6v0.6h-0.6zM67.8 406.3h0.6v0.6h-0.6zM71.3 422.5h0.6v0.6h-0.6zM69.3 428.7h0.6v0.6h-0.6zM66.4 415.5h0.6v0.6h-0.6zM63.5 388.1h0.6v0.6h-0.6zM69.5 410.0h0.6v0.6h-0.6zM62.9 392.2h0.6v0.6h-0.6zM64.9 407.8h0.6v0.6h-0.6zM64.4 389.0h0.6v0.6h-0.6zM68.6 421.6h0.6v0.6h-0.6zM69.9 427.2h0.6v0.6h-0.6zM62.2 387.7h0.6v0.6h-0.6zM69.1 424.1h0.6v0.6h-0.6zM63.1 392.2h0.6v0.6h-0.6zM65.5 407.7h0.6v0.6h-0.6zM62.2 388.9h0.6v0.6h-0.6zM66.7 406.0h0.6v0.6h-0.6zM68.7 415.2h0.6v0.6h-0.6zM68.8 427.9h0.6v0.6h-0.6zM63.6 398.7h0.6v0.6h-0.6zM70.3 426.6h0.6v0.6h-0.6zM67.4 416.3h0.6v0.6h-0.6zM62.2 387.4h0.6v0.6h-0.6zM69.7 426.8h0.6v0.6h-0.6zM69.6 431.7h0.6v0.6h-0.6zM62.3 387.3h0.6v0.6h-0.6zM69.4 412.7h0.6v0.6h-0.6zM64.9 395.2h0.6v0.6h-0.6zM63.2 395.1h0.6v0.6h-0.6zM67.0 425.0h0.6v0.6h-0.6zM67.6 428.1h0.6v0.6h-0.6zM65.7 413.5h0.6v0.6h-0.6zM66.0 397.2h0.6v0.6h-0.6zM70.0 422.0h0.6v0.6h-0.6zM64.5 398.9h0.6v0.6h-0.6zM67.8 422.6h0.6v0.6h-0.6zM65.0 397.8h0.6v0.6h-0.6zM70.4 429.1h0.6v0.6h-0.6zM66.1 402.1h0.6v0.6h-0.6zM63.8 397.7h0.6v0.6h-0.6zM66.2 417.0h0.6v0.6h-0.6zM62.3 387.0h0.6v0.6h-0.6zM65.6 415.2h0.6v0.6h-0.6zM67.8 423.4h0.6v0.6h-0.6zM62.4 392.0h0.6v0.6h-0.6zM65.4 403.0h0.6v0.6h-0.6zM70.2 431.2h0.6v0.6h-0.6zM72.6 433.5h0.6v0.6h-0.6zM68.4 414.9h0.6v0.6h-0.6zM66.6 413.8h0.6v0.6h-0.6zM65.3 401.0h0.6v0.6h-0.6zM64.6 397.2h0.6v0.6h-0.6zM68.2 416.8h0.6v0.6h-0.6zM65.0 396.1h0.6v0.6h-0.6zM62.6 386.4h0.6v0.6h-0.6zM69.2 426.9h0.6v0.6h-0.6zM68.0 412.1h0.6v0.6h-0.6zM65.5 412.4h0.6v0.6h-0.6zM68.8 418.6h0.6v0.6h-0.6zM63.8 396.7h0.6v0.6h-0.6zM65.3 391.1h0.6v0.6h-0.6zM69.9 431.9h0.6v0.6h-0.6zM65.3 399.5h0.6v0.6h-0.6zM65.6 407.5h0.6v0.6h-0.6zM62.8 393.8h0.6v0.6h-0.6zM63.7 396.3h0.6v0.6h-0.6zM63.6 398.8h0.6v0.6h-0.6zM62.9 388.9h0.6v0.6h-0.6zM66.4 410.9h0.6v0.6h-0.6zM68.3 414.7h0.6v0.6h-0.6zM68.7 415.9h0.6v0.6h-0.6zM63.7 399.6h0.6v0.6h-0.6zM65.1 408.0h0.6v0.6h-0.6zM68.0 421.3h0.6v0.6h-0.6zM68.4 414.0h0.6v0.6h-0.6zM65.6 412.2h0.6v0.6h-0.6zM67.2 423.0h0.6v0.6h-0.6zM66.2 406.4h0.6v0.6h-0.6zM66.7 421.4h0.6v0.6h-0.6zM69.6 432.2h0.6v0.6h-0.6zM77.0 433.6h0.6v0.6h-0.6zM65.9 415.8h0.6v0.6h-0.6zM64.3 404.0h0.6v0.6h-0.6zM65.7 414.3h0.6v0.6h-0.6zM69.4 420.6h0.6v0.6h-0.6zM66.7 406.6h0.6v0.6h-0.6zM69.2 421.7h0.6v0.6h-0.6zM67.0 412.1h0.6v0.6h-0.6zM66.9 418.0h0.6v0.6h-0.6zM66.4 418.4h0.6v0.6h-0.6zM71.8 419.8h0.6v0.6h-0.6zM67.1 408.8h0.6v0.6h-0.6zM64.1 393.2h0.6v0.6h-0.6zM62.6 393.2h0.6v0.6h-0.6zM69.3 429.0h0.6v0.6h-0.6zM64.9 393.4h0.6v0.6h-0.6zM65.8 410.6h0.6v0.6h-0.6zM67.3 427.5h0.6v0.6h-0.6zM64.5 385.3h0.6v0.6h-0.6zM65.1 407.2h0.6v0.6h-0.6zM67.1 416.6h0.6v0.6h-0.6zM64.1 402.6h0.6v0.6h-0.6zM65.1 406.8h0.6v0.6h-0.6zM65.9 411.7h0.6v0.6h-0.6zM68.0 408.3h0.6v0.6h-0.6zM66.8 414.7h0.6v0.6h-0.6zM66.0 401.0h0.6v0.6h-0.6zM63.9 398.4h0.6v0.6h-0.6zM65.6 412.1h0.6v0.6h-0.6zM66.4 417.1h0.6v0.6h-0.6zM65.0 409.1h0.6v0.6h-0.6zM64.0 396.5h0.6v0.6h-0.6zM66.8 406.7h0.6v0.6h-0.6zM64.4 398.4h0.6v0.6h-0.6zM69.6 415.7h0.6v0.6h-0.6zM67.7 424.8h0.6v0.6h-0.6zM65.2 396.7h0.6v0.6h-0.6zM64.0 401.6h0.6v0.6h-0.6zM63.6 397.6h0.6v0.6h-0.6zM68.5 418.8h0.6v0.6h-0.6zM64.0 397.7h0.6v0.6h-0.6zM68.9 428.1h0.6v0.6h-0.6zM66.5 406.7h0.6v0.6h-0.6zM66.6 410.9h0.6v0.6h-0.6zM70.0 412.1h0.6v0.6h-0.6zM68.7 421.8h0.6v0.6h-0.6zM62.3 389.6h0.6v0.6h-0.6zM61.8 387.6h0.6v0.6h-0.6zM67.1 425.5h0.6v0.6h-0.6zM63.0 393.7h0.6v0.6h-0.6zM65.0 409.5h0.6v0.6h-0.6zM62.8 393.2h0.6v0.6h-0.6zM62.7 385.6h0.6v0.6h-0.6zM65.4 409.3h0.6v0.6h-0.6zM71.2 432.9h0.6v0.6h-0.6zM68.9 414.2h0.6v0.6h-0.6zM68.5 430.1h0.6v0.6h-0.6zM65.2 403.4h0.6v0.6h-0.6zM68.3 408.7h0.6v0.6h-0.6zM67.7 408.9h0.6v0.6h-0.6zM65.8 394.9h0.6v0.6h-0.6zM63.4 398.5h0.6v0.6h-0.6zM66.8 414.1h0.6v0.6h-0.6zM63.3 394.3h0.6v0.6h-0.6zM65.4 410.0h0.6v0.6h-0.6zM67.7 419.1h0.6v0.6h-0.6zM65.5 414.0h0.6v0.6h-0.6zM69.8 401.5h0.6v0.6h-0.6zM71.4 434.3h0.6v0.6h-0.6zM63.2 393.8h0.6v0.6h-0.6zM62.4 389.2h0.6v0.6h-0.6zM62.2 386.7h0.6v0.6h-0.6zM62.9 389.2h0.6v0.6h-0.6zM63.5 398.0h0.6v0.6h-0.6zM68.0 423.0h0.6v0.6h-0.6zM66.5 418.6h0.6v0.6h-0.6zM70.3 434.2h0.6v0.6h-0.6zM66.7 411.6h0.6v0.6h-0.6zM68.4 419.8h0.6v0.6h-0.6zM65.7 397.3h0.6v0.6h-0.6zM67.8 423.6h0.6v0.6h-0.6zM65.5 410.1h0.6v0.6h-0.6zM63.9 394.1h0.6v0.6h-0.6zM68.7 431.7h0.6v0.6h-0.6zM66.3 406.4h0.6v0.6h-0.6zM68.9 407.4h0.6v0.6h-0.6zM69.1 423.0h0.6v0.6h-0.6zM62.3 391.2h0.6v0.6h-0.6zM69.0 417.6h0.6v0.6h-0.6zM64.9 400.7h0.6v0.6h-0.6zM66.3 411.0h0.6v0.6h-0.6zM68.6 423.3h0.6v0.6h-0.6zM63.1 385.3h0.6v0.6h-0.6zM62.6 392.3h0.6v0.6h-0.6zM66.5 421.2h0.6v0.6h-0.6zM64.9 397.3h0.6v0.6h-0.6zM68.5 414.6h0.6v0.6h-0.6zM65.6 406.0h0.6v0.6h-0.6zM67.9 423.8h0.6v0.6h-0.6zM65.1 409.4h0.6v0.6h-0.6zM64.4 397.5h0.6v0.6h-0.6zM69.4 408.8h0.6v0.6h-0.6zM68.3 421.6h0.6v0.6h-0.6zM64.0 390.9h0.6v0.6h-0.6zM63.2 396.0h0.6v0.6h-0.6zM68.0 429.9h0.6v0.6h-0.6zM68.3 432.7h0.6v0.6h-0.6zM66.7 421.3h0.6v0.6h-0.6zM69.7 417.8h0.6v0.6h-0.6zM62.6 388.3h0.6v0.6h-0.6zM63.5 396.5h0.6v0.6h-0.6zM65.9 396.6h0.6v0.6h-0.6zM65.8 410.2h0.6v0.6h-0.6zM67.7 411.0h0.6v0.6h-0.6zM63.6 394.2h0.6v0.6h-0.6zM65.6 411.0h0.6v0.6h-0.6zM68.5 414.5h0.6v0.6h-0.6zM66.0 412.9h0.6v0.6h-0.6zM69.5 417.0h0.6v0.6h-0.6zM67.2 411.3h0.6v0.6h-0.6zM72.2 428.6h0.6v0.6h-0.6zM67.1 423.2h0.6v0.6h-0.6zM67.8 419.2h0.6v0.6h-0.6zM62.5 390.1h0.6v0.6h-0.6zM66.0 417.7h0.6v0.6h-0.6zM68.1 412.2h0.6v0.6h-0.6zM67.0 415.1h0.6v0.6h-0.6zM64.1 400.0h0.6v0.6h-0.6zM67.7 419.5h0.6v0.6h-0.6zM64.6 400.5h0.6v0.6h-0.6zM67.0 407.2h0.6v0.6h-0.6zM68.0 422.4h0.6v0.6h-0.6zM68.1 423.0h0.6v0.6h-0.6zM72.1 433.1h0.6v0.6h-0.6zM67.2 407.2h0.6v0.6h-0.6zM64.4 400.5h0.6v0.6h-0.6zM69.9 426.1h0.6v0.6h-0.6zM66.3 410.7h0.6v0.6h-0.6zM65.4 403.0h0.6v0.6h-0.6zM64.8 408.6h0.6v0.6h-0.6zM71.7 432.1h0.6v0.6h-0.6zM72.5 433.1h0.6v0.6h-0.6zM66.9 424.2h0.6v0.6h-0.6zM67.9 428.6h0.6v0.6h-0.6zM62.9 388.4h0.6v0.6h-0.6zM71.2 418.3h0.6v0.6h-0.6zM67.8 425.8h0.6v0.6h-0.6zM66.0 410.0h0.6v0.6h-0.6zM63.3 389.7h0.6v0.6h-0.6zM69.0 425.5h0.6v0.6h-0.6zM63.9 399.3h0.6v0.6h-0.6zM64.0 397.7h0.6v0.6h-0.6zM63.5 387.9h0.6v0.6h-0.6zM67.8 420.3h0.6v0.6h-0.6zM67.2 405.8h0.6v0.6h-0.6zM66.6 413.1h0.6v0.6h-0.6zM68.3 428.2h0.6v0.6h-0.6zM66.8 412.3h0.6v0.6h-0.6zM68.7 414.7h0.6v0.6h-0.6zM62.3 387.3h0.6v0.6h-0.6zM69.6 431.7h0.6v0.6h-0.6zM67.0 422.7h0.6v0.6h-0.6zM67.4 416.1h0.6v0.6h-0.6zM64.9 397.6h0.6v0.6h-0.6zM66.5 408.3h0.6v0.6h-0.6zM65.8 413.7h0.6v0.6h-0.6zM62.4 392.4h0.6v0.6h-0.6zM62.3 386.3h0.6v0.6h-0.6zM65.2 411.0h0.6v0.6h-0.6zM70.2 429.7h0.6v0.6h-0.6zM66.6 415.1h0.6v0.6h-0.6zM69.4 429.5h0.6v0.6h-0.6zM64.6 402.2h0.6v0.6h-0.6zM69.6 432.1h0.6v0.6h-0.6zM67.7 418.8h0.6v0.6h-0.6zM64.8 392.7h0.6v0.6h-0.6zM65.3 404.1h0.6v0.6h-0.6zM65.1 402.9h0.6v0.6h-0.6zM63.1 393.0h0.6v0.6h-0.6zM67.5 424.4h0.6v0.6h-0.6zM64.3 402.5h0.6v0.6h-0.6zM70.8 433.2h0.6v0.6h-0.6zM68.8 428.5h0.6v0.6h-0.6zM72.5 430.2h0.6v0.6h-0.6zM70.8 431.1h0.6v0.6h-0.6zM62.9 388.4h0.6v0.6h-0.6zM65.1 403.0h0.6v0.6h-0.6zM63.2 385.4h0.6v0.6h-0.6zM68.8 422.3h0.6v0.6h-0.6zM65.7 409.0h0.6v0.6h-0.6zM68.1 426.7h0.6v0.6h-0.6zM66.9 418.0h0.6v0.6h-0.6zM64.3 396.6h0.6v0.6h-0.6zM69.8 432.3h0.6v0.6h-0.6zM64.7 407.2h0.6v0.6h-0.6zM70.2 432.4h0.6v0.6h-0.6zM63.9 402.2h0.6v0.6h-0.6zM68.8 418.2h0.6v0.6h-0.6zM69.9 431.6h0.6v0.6h-0.6zM67.4 420.8h0.6v0.6h-0.6zM65.9 409.5h0.6v0.6h-0.6zM64.2 389.6h0.6v0.6h-0.6zM62.3 387.5h0.6v0.6h-0.6zM63.9 394.0h0.6v0.6h-0.6zM63.7 399.2h0.6v0.6h-0.6zM65.3 411.0h0.6v0.6h-0.6zM67.2 422.5h0.6v0.6h-0.6zM67.3 421.0h0.6v0.6h-0.6zM63.1 388.9h0.6v0.6h-0.6zM65.0 399.7h0.6v0.6h-0.6zM69.8 423.9h0.6v0.6h-0.6zM64.1 403.5h0.6v0.6h-0.6zM62.2 386.4h0.6v0.6h-0.6zM69.3 425.9h0.6v0.6h-0.6zM63.9 390.2h0.6v0.6h-0.6zM63.3 392.7h0.6v0.6h-0.6zM65.2 388.7h0.6v0.6h-0.6zM70.8 434.5h0.6v0.6h-0.6zM65.4 411.9h0.6v0.6h-0.6zM67.4 408.6h0.6v0.6h-0.6zM63.7 393.5h0.6v0.6h-0.6zM68.0 418.6h0.6v0.6h-0.6zM61.9 387.1h0.6v0.6h-0.6zM67.8 422.8h0.6v0.6h-0.6zM65.5 408.7h0.6v0.6h-0.6zM68.5 410.8h0.6v0.6h-0.6zM63.5 399.4h0.6v0.6h-0.6zM61.9 388.0h0.6v0.6h-0.6zM64.6 386.8h0.6v0.6h-0.6zM66.2 411.9h0.6v0.6h-0.6zM71.7 431.6h0.6v0.6h-0.6zM62.7 390.2h0.6v0.6h-0.6zM65.9 406.6h0.6v0.6h-0.6zM67.4 417.3h0.6v0.6h-0.6zM64.5 402.0h0.6v0.6h-0.6zM65.9 409.2h0.6v0.6h-0.6zM65.0 406.2h0.6v0.6h-0.6zM63.1 397.0h0.6v0.6h-0.6zM67.7 420.4h0.6v0.6h-0.6zM70.9 434.2h0.6v0.6h-0.6zM66.0 415.2h0.6v0.6h-0.6zM72.6 432.9h0.6v0.6h-0.6zM66.6 404.2h0.6v0.6h-0.6zM63.0 386.3h0.6v0.6h-0.6zM65.0 408.2h0.6v0.6h-0.6zM69.4 421.3h0.6v0.6h-0.6zM71.2 427.6h0.6v0.6h-0.6zM62.0 388.9h0.6v0.6h-0.6zM68.8 417.7h0.6v0.6h-0.6zM66.0 409.3h0.6v0.6h-0.6zM66.0 410.3h0.6v0.6h-0.6zM63.3 394.8h0.6v0.6h-0.6zM67.5 424.3h0.6v0.6h-0.6zM65.7 415.4h0.6v0.6h-0.6zM68.0 426.1h0.6v0.6h-0.6zM69.3 432.1h0.6v0.6h-0.6zM64.5 394.0h0.6v0.6h-0.6zM62.6 393.2h0.6v0.6h-0.6zM63.6 398.2h0.6v0.6h-0.6zM62.5 387.0h0.6v0.6h-0.6zM66.7 417.0h0.6v0.6h-0.6zM69.7 432.1h0.6v0.6h-0.6zM68.6 406.0h0.6v0.6h-0.6zM67.3 417.1h0.6v0.6h-0.6zM64.7 408.1h0.6v0.6h-0.6zM66.5 400.3h0.6v0.6h-0.6zM62.1 388.5h0.6v0.6h-0.6zM69.1 414.7h0.6v0.6h-0.6zM62.2 390.8h0.6v0.6h-0.6zM68.4 424.5h0.6v0.6h-0.6zM66.2 415.8h0.6v0.6h-0.6zM64.5 403.1h0.6v0.6h-0.6zM66.9 421.3h0.6v0.6h-0.6zM64.6 405.5h0.6v0.6h-0.6zM68.5 427.2h0.6v0.6h-0.6zM62.7 389.0h0.6v0.6h-0.6zM69.3 426.4h0.6v0.6h-0.6zM65.0 395.2h0.6v0.6h-0.6zM68.0 422.2h0.6v0.6h-0.6zM63.7 400.8h0.6v0.6h-0.6zM69.5 432.4h0.6v0.6h-0.6zM66.7 421.3h0.6v0.6h-0.6zM66.7 422.7h0.6v0.6h-0.6zM68.3 427.3h0.6v0.6h-0.6zM71.0 433.0h0.6v0.6h-0.6zM63.0 389.2h0.6v0.6h-0.6zM69.1 421.6h0.6v0.6h-0.6zM70.3 422.6h0.6v0.6h-0.6zM67.1 409.9h0.6v0.6h-0.6zM64.8 407.1h0.6v0.6h-0.6zM66.5 416.5h0.6v0.6h-0.6zM71.3 431.6h0.6v0.6h-0.6zM66.1 398.4h0.6v0.6h-0.6zM66.1 402.1h0.6v0.6h-0.6zM63.2 386.4h0.6v0.6h-0.6zM70.2 432.5h0.6v0.6h-0.6zM65.8 412.6h0.6v0.6h-0.6zM65.3 393.3h0.6v0.6h-0.6zM67.5 418.0h0.6v0.6h-0.6zM63.7 398.6h0.6v0.6h-0.6zM64.1 403.0h0.6v0.6h-0.6zM65.9 400.9h0.6v0.6h-0.6zM62.3 387.7h0.6v0.6h-0.6zM71.2 426.4h0.6v0.6h-0.6zM68.6 423.9h0.6v0.6h-0.6zM65.2 407.9h0.6v0.6h-0.6zM64.0 399.7h0.6v0.6h-0.6zM62.4 385.7h0.6v0.6h-0.6zM64.9 407.3h0.6v0.6h-0.6zM65.7 415.0h0.6v0.6h-0.6zM66.4 414.9h0.6v0.6h-0.6zM65.5 412.8h0.6v0.6h-0.6zM65.5 410.9h0.6v0.6h-0.6zM63.5 392.7h0.6v0.6h-0.6zM66.5 408.9h0.6v0.6h-0.6zM68.3 418.4h0.6v0.6h-0.6zM64.4 398.7h0.6v0.6h-0.6zM67.7 421.9h0.6v0.6h-0.6zM65.1 395.1h0.6v0.6h-0.6zM69.1 424.6h0.6v0.6h-0.6zM70.3 411.3h0.6v0.6h-0.6zM70.6 424.2h0.6v0.6h-0.6zM64.1 402.8h0.6v0.6h-0.6zM64.5 391.4h0.6v0.6h-0.6zM64.6 393.8h0.6v0.6h-0.6zM65.6 404.2h0.6v0.6h-0.6zM68.8 430.6h0.6v0.6h-0.6zM65.9 401.9h0.6v0.6h-0.6zM64.4 400.9h0.6v0.6h-0.6zM67.8 428.2h0.6v0.6h-0.6zM68.5 399.8h0.6v0.6h-0.6zM64.3 403.8h0.6v0.6h-0.6zM72.8 423.3h0.6v0.6h-0.6zM63.1 389.0h0.6v0.6h-0.6zM64.9 408.4h0.6v0.6h-0.6zM68.2 430.4h0.6v0.6h-0.6zM64.0 401.7h0.6v0.6h-0.6zM62.5 388.9h0.6v0.6h-0.6zM62.9 389.3h0.6v0.6h-0.6zM73.7 430.3h0.6v0.6h-0.6zM68.1 411.3h0.6v0.6h-0.6zM66.8 410.1h0.6v0.6h-0.6zM68.9 423.7h0.6v0.6h-0.6zM64.1 393.5h0.6v0.6h-0.6zM63.9 392.1h0.6v0.6h-0.6zM64.3 399.3h0.6v0.6h-0.6zM72.2 432.2h0.6v0.6h-0.6zM63.0 390.9h0.6v0.6h-0.6zM63.1 390.1h0.6v0.6h-0.6zM66.2 414.5h0.6v0.6h-0.6zM67.0 413.9h0.6v0.6h-0.6zM63.2 392.0h0.6v0.6h-0.6zM68.4 419.4h0.6v0.6h-0.6zM69.4 425.5h0.6v0.6h-0.6zM63.2 388.8h0.6v0.6h-0.6zM68.9 431.1h0.6v0.6h-0.6zM66.5 415.7h0.6v0.6h-0.6zM63.0 385.7h0.6v0.6h-0.6zM66.0 410.5h0.6v0.6h-0.6zM65.4 410.2h0.6v0.6h-0.6zM65.7 411.6h0.6v0.6h-0.6zM65.9 400.4h0.6v0.6h-0.6zM70.5 419.8h0.6v0.6h-0.6zM65.7 407.2h0.6v0.6h-0.6zM63.2 393.6h0.6v0.6h-0.6zM64.1 389.7h0.6v0.6h-0.6zM68.1 430.2h0.6v0.6h-0.6zM63.4 388.6h0.6v0.6h-0.6zM65.8 407.6h0.6v0.6h-0.6zM62.9 393.8h0.6v0.6h-0.6zM65.9 412.1h0.6v0.6h-0.6zM63.6 395.8h0.6v0.6h-0.6zM65.6 414.9h0.6v0.6h-0.6zM66.7 419.4h0.6v0.6h-0.6zM69.1 428.0h0.6v0.6h-0.6zM66.0 395.5h0.6v0.6h-0.6zM65.6 400.3h0.6v0.6h-0.6zM67.5 416.0h0.6v0.6h-0.6zM65.4 412.4h0.6v0.6h-0.6zM63.1 389.2h0.6v0.6h-0.6zM62.3 387.8h0.6v0.6h-0.6zM67.9 428.4h0.6v0.6h-0.6zM72.2 432.5h0.6v0.6h-0.6zM70.3 415.9h0.6v0.6h-0.6zM62.4 385.3h0.6v0.6h-0.6zM64.7 400.3h0.6v0.6h-0.6zM61.9 388.3h0.6v0.6h-0.6zM64.8 407.2h0.6v0.6h-0.6zM65.2 408.8h0.6v0.6h-0.6zM73.3 428.8h0.6v0.6h-0.6zM65.4 409.7h0.6v0.6h-0.6zM68.7 422.3h0.6v0.6h-0.6zM69.1 423.5h0.6v0.6h-0.6zM66.3 402.4h0.6v0.6h-0.6zM63.3 393.6h0.6v0.6h-0.6zM66.9 420.5h0.6v0.6h-0.6zM66.3 397.5h0.6v0.6h-0.6zM65.6 414.6h0.6v0.6h-0.6zM68.2 430.0h0.6v0.6h-0.6zM70.1 421.7h0.6v0.6h-0.6zM68.9 419.2h0.6v0.6h-0.6zM67.4 417.7h0.6v0.6h-0.6zM70.1 412.2h0.6v0.6h-0.6zM64.4 399.9h0.6v0.6h-0.6zM64.1 394.4h0.6v0.6h-0.6zM66.3 420.3h0.6v0.6h-0.6zM67.3 416.5h0.6v0.6h-0.6zM65.7 415.6h0.6v0.6h-0.6zM65.0 404.6h0.6v0.6h-0.6zM63.7 390.5h0.6v0.6h-0.6zM67.1 419.1h0.6v0.6h-0.6zM65.8 415.5h0.6v0.6h-0.6zM67.6 415.4h0.6v0.6h-0.6zM66.5 410.1h0.6v0.6h-0.6zM70.2 434.0h0.6v0.6h-0.6zM68.9 425.3h0.6v0.6h-0.6zM68.7 418.0h0.6v0.6h-0.6zM66.9 388.5h0.6v0.6h-0.6zM63.2 395.5h0.6v0.6h-0.6zM72.5 430.7h0.6v0.6h-0.6zM66.5 396.2h0.6v0.6h-0.6zM66.8 420.8h0.6v0.6h-0.6zM69.3 414.1h0.6v0.6h-0.6zM64.2 389.5h0.6v0.6h-0.6zM69.0 432.8h0.6v0.6h-0.6zM69.8 422.3h0.6v0.6h-0.6zM64.8 399.5h0.6v0.6h-0.6zM71.8 424.2h0.6v0.6h-0.6zM71.2 433.3h0.6v0.6h-0.6zM68.3 421.6h0.6v0.6h-0.6zM68.3 432.3h0.6v0.6h-0.6zM63.3 390.0h0.6v0.6h-0.6zM62.7 393.6h0.6v0.6h-0.6zM66.0 401.0h0.6v0.6h-0.6zM64.5 392.4h0.6v0.6h-0.6zM68.9 425.3h0.6v0.6h-0.6zM66.6 391.1h0.6v0.6h-0.6zM64.3 402.9h0.6v0.6h-0.6zM65.2 411.5h0.6v0.6h-0.6zM67.9 428.2h0.6v0.6h-0.6zM66.9 423.3h0.6v0.6h-0.6zM66.6 409.3h0.6v0.6h-0.6zM68.9 431.6h0.6v0.6h-0.6zM66.1 416.7h0.6v0.6h-0.6zM69.0 432.1h0.6v0.6h-0.6zM65.6 407.8h0.6v0.6h-0.6zM70.1 424.1h0.6v0.6h-0.6zM62.6 387.6h0.6v0.6h-0.6zM65.1 394.9h0.6v0.6h-0.6zM63.3 389.5h0.6v0.6h-0.6zM62.6 389.5h0.6v0.6h-0.6zM65.4 401.5h0.6v0.6h-0.6zM64.7 393.4h0.6v0.6h-0.6zM69.7 432.2h0.6v0.6h-0.6zM66.8 416.4h0.6v0.6h-0.6zM66.2 415.5h0.6v0.6h-0.6zM65.4 403.1h0.6v0.6h-0.6zM68.1 415.4h0.6v0.6h-0.6zM69.0 430.3h0.6v0.6h-0.6zM64.7 406.7h0.6v0.6h-0.6zM63.0 389.2h0.6v0.6h-0.6zM66.8 419.6h0.6v0.6h-0.6zM67.8 402.6h0.6v0.6h-0.6zM62.4 391.3h0.6v0.6h-0.6zM63.8 398.3h0.6v0.6h-0.6zM66.8 423.2h0.6v0.6h-0.6zM68.7 420.5h0.6v0.6h-0.6zM63.8 391.4h0.6v0.6h-0.6zM66.5 411.3h0.6v0.6h-0.6zM65.4 407.3h0.6v0.6h-0.6zM67.9 412.0h0.6v0.6h-0.6zM67.2 401.6h0.6v0.6h-0.6zM64.6 402.3h0.6v0.6h-0.6zM66.9 403.2h0.6v0.6h-0.6zM63.5 395.5h0.6v0.6h-0.6zM69.6 426.4h0.6v0.6h-0.6zM65.3 406.7h0.6v0.6h-0.6zM67.6 413.8h0.6v0.6h-0.6zM65.5 397.6h0.6v0.6h-0.6zM63.3 389.2h0.6v0.6h-0.6zM64.5 407.5h0.6v0.6h-0.6zM65.3 401.7h0.6v0.6h-0.6zM63.2 394.8h0.6v0.6h-0.6zM63.3 396.8h0.6v0.6h-0.6zM64.6 398.1h0.6v0.6h-0.6zM70.1 419.0h0.6v0.6h-0.6zM68.6 428.9h0.6v0.6h-0.6zM64.4 400.5h0.6v0.6h-0.6zM66.9 410.2h0.6v0.6h-0.6zM71.5 427.6h0.6v0.6h-0.6zM62.8 385.9h0.6v0.6h-0.6zM64.6 406.2h0.6v0.6h-0.6zM61.9 385.3h0.6v0.6h-0.6zM68.5 428.3h0.6v0.6h-0.6zM63.3 395.4h0.6v0.6h-0.6zM68.6 427.0h0.6v0.6h-0.6zM63.2 390.6h0.6v0.6h-0.6zM63.5 397.2h0.6v0.6h-0.6zM69.2 434.2h0.6v0.6h-0.6zM66.8 402.6h0.6v0.6h-0.6zM71.8 433.4h0.6v0.6h-0.6zM63.5 396.2h0.6v0.6h-0.6zM63.4 387.4h0.6v0.6h-0.6zM68.1 427.7h0.6v0.6h-0.6zM69.1 434.4h0.6v0.6h-0.6zM70.0 433.7h0.6v0.6h-0.6zM67.1 415.3h0.6v0.6h-0.6zM68.4 432.5h0.6v0.6h-0.6zM67.1 424.4h0.6v0.6h-0.6zM63.7 386.1h0.6v0.6h-0.6zM69.2 431.4h0.6v0.6h-0.6zM68.6 411.7h0.6v0.6h-0.6zM69.3 409.2h0.6v0.6h-0.6zM68.1 426.3h0.6v0.6h-0.6zM64.8 404.5h0.6v0.6h-0.6zM64.7 402.3h0.6v0.6h-0.6zM65.4 400.9h0.6v0.6h-0.6zM61.8 385.1h0.6v0.6h-0.6zM69.3 433.0h0.6v0.6h-0.6zM63.4 388.1h0.6v0.6h-0.6zM63.4 398.0h0.6v0.6h-0.6zM63.3 389.7h0.6v0.6h-0.6zM65.2 406.1h0.6v0.6h-0.6zM64.4 403.7h0.6v0.6h-0.6zM65.3 412.6h0.6v0.6h-0.6zM71.0 434.1h0.6v0.6h-0.6zM63.1 397.7h0.6v0.6h-0.6zM68.7 430.3h0.6v0.6h-0.6zM66.9 412.0h0.6v0.6h-0.6zM71.6 428.7h0.6v0.6h-0.6zM65.2 391.4h0.6v0.6h-0.6zM67.0 402.6h0.6v0.6h-0.6zM67.4 424.1h0.6v0.6h-0.6zM66.5 404.2h0.6v0.6h-0.6zM64.8 400.5h0.6v0.6h-0.6zM72.1 431.8h0.6v0.6h-0.6zM64.0 388.4h0.6v0.6h-0.6zM64.0 395.8h0.6v0.6h-0.6zM63.5 386.0h0.6v0.6h-0.6zM68.8 420.3h0.6v0.6h-0.6zM59.2 425.4h0.6v0.6h-0.6zM59.7 390.5h0.6v0.6h-0.6zM59.3 408.5h0.6v0.6h-0.6zM58.9 432.2h0.6v0.6h-0.6zM58.9 395.4h0.6v0.6h-0.6zM58.9 405.8h0.6v0.6h-0.6zM59.3 422.6h0.6v0.6h-0.6zM59.8 434.1h0.6v0.6h-0.6zM60.0 433.3h0.6v0.6h-0.6zM59.0 421.6h0.6v0.6h-0.6zM59.4 405.8h0.6v0.6h-0.6zM59.2 409.7h0.6v0.6h-0.6zM60.0 404.1h0.6v0.6h-0.6zM59.9 397.8h0.6v0.6h-0.6zM59.8 402.3h0.6v0.6h-0.6zM59.6 432.0h0.6v0.6h-0.6zM59.2 393.6h0.6v0.6h-0.6zM59.1 388.4h0.6v0.6h-0.6zM59.2 410.0h0.6v0.6h-0.6zM59.0 410.6h0.6v0.6h-0.6zM58.8 388.7h0.6v0.6h-0.6zM59.8 397.2h0.6v0.6h-0.6zM59.5 402.1h0.6v0.6h-0.6zM59.1 407.0h0.6v0.6h-0.6zM59.2 390.6h0.6v0.6h-0.6zM60.0 412.9h0.6v0.6h-0.6zM59.3 421.4h0.6v0.6h-0.6zM59.1 403.2h0.6v0.6h-0.6zM59.3 401.4h0.6v0.6h-0.6zM59.3 413.2h0.6v0.6h-0.6zM59.1 387.8h0.6v0.6h-0.6zM59.1 412.2h0.6v0.6h-0.6zM59.6 396.1h0.6v0.6h-0.6zM59.2 416.1h0.6v0.6h-0.6zM59.4 389.6h0.6v0.6h-0.6zM59.6 416.3h0.6v0.6h-0.6zM59.8 414.6h0.6v0.6h-0.6zM59.0 428.4h0.6v0.6h-0.6zM59.6 404.5h0.6v0.6h-0.6zM59.2 433.2h0.6v0.6h-0.6zM59.9 416.6h0.6v0.6h-0.6zM59.2 402.6h0.6v0.6h-0.6zM59.7 397.2h0.6v0.6h-0.6zM59.6 416.6h0.6v0.6h-0.6zM59.1 430.2h0.6v0.6h-0.6zM59.0 386.0h0.6v0.6h-0.6zM59.4 403.9h0.6v0.6h-0.6zM59.6 430.3h0.6v0.6h-0.6zM58.8 394.9h0.6v0.6h-0.6zM59.5 403.2h0.6v0.6h-0.6zM59.5 421.4h0.6v0.6h-0.6zM59.1 415.1h0.6v0.6h-0.6zM59.4 403.5h0.6v0.6h-0.6zM59.3 433.8h0.6v0.6h-0.6zM59.2 434.5h0.6v0.6h-0.6zM59.6 414.6h0.6v0.6h-0.6zM59.3 416.2h0.6v0.6h-0.6zM59.0 404.9h0.6v0.6h-0.6zM59.4 397.0h0.6v0.6h-0.6zM59.7 419.7h0.6v0.6h-0.6zM59.5 410.6h0.6v0.6h-0.6zM59.5 434.0h0.6v0.6h-0.6zM59.5 422.0h0.6v0.6h-0.6zM58.9 396.0h0.6v0.6h-0.6zM59.3 411.2h0.6v0.6h-0.6zM59.4 387.6h0.6v0.6h-0.6zM59.5 402.8h0.6v0.6h-0.6zM59.5 409.0h0.6v0.6h-0.6zM59.4 391.9h0.6v0.6h-0.6zM59.5 432.1h0.6v0.6h-0.6zM60.2 392.6h0.6v0.6h-0.6zM59.3 395.8h0.6v0.6h-0.6zM59.4 393.2h0.6v0.6h-0.6zM59.4 417.5h0.6v0.6h-0.6zM60.2 427.0h0.6v0.6h-0.6zM59.2 401.4h0.6v0.6h-0.6zM59.3 429.6h0.6v0.6h-0.6zM58.6 433.1h0.6v0.6h-0.6zM59.4 420.0h0.6v0.6h-0.6zM58.8 406.5h0.6v0.6h-0.6zM58.7 413.7h0.6v0.6h-0.6zM59.0 387.2h0.6v0.6h-0.6zM58.7 420.4h0.6v0.6h-0.6zM59.6 409.4h0.6v0.6h-0.6zM59.9 396.9h0.6v0.6h-0.6zM59.2 420.0h0.6v0.6h-0.6zM59.4 431.4h0.6v0.6h-0.6zM59.4 406.9h0.6v0.6h-0.6zM59.4 401.5h0.6v0.6h-0.6zM59.4 400.7h0.6v0.6h-0.6zM59.5 424.6h0.6v0.6h-0.6zM59.9 417.5h0.6v0.6h-0.6zM59.5 399.9h0.6v0.6h-0.6zM59.3 405.5h0.6v0.6h-0.6zM59.6 434.1h0.6v0.6h-0.6zM58.8 428.3h0.6v0.6h-0.6zM58.8 425.7h0.6v0.6h-0.6zM59.3 411.2h0.6v0.6h-0.6zM59.1 426.3h0.6v0.6h-0.6zM58.8 393.6h0.6v0.6h-0.6zM59.9 425.6h0.6v0.6h-0.6zM59.5 395.2h0.6v0.6h-0.6zM59.7 394.0h0.6v0.6h-0.6zM58.9 393.5h0.6v0.6h-0.6zM59.1 393.8h0.6v0.6h-0.6zM59.0 430.0h0.6v0.6h-0.6zM59.5 431.9h0.6v0.6h-0.6zM60.0 391.9h0.6v0.6h-0.6zM59.3 430.4h0.6v0.6h-0.6zM59.0 407.5h0.6v0.6h-0.6zM59.2 427.1h0.6v0.6h-0.6zM59.5 401.5h0.6v0.6h-0.6zM59.5 429.1h0.6v0.6h-0.6zM59.4 386.9h0.6v0.6h-0.6zM59.3 401.6h0.6v0.6h-0.6zM58.6 414.7h0.6v0.6h-0.6zM59.3 426.7h0.6v0.6h-0.6zM59.5 409.9h0.6v0.6h-0.6zM59.4 393.9h0.6v0.6h-0.6zM59.3 397.2h0.6v0.6h-0.6zM59.4 387.1h0.6v0.6h-0.6zM59.3 404.3h0.6v0.6h-0.6zM58.9 427.7h0.6v0.6h-0.6zM59.8 397.6h0.6v0.6h-0.6zM59.4 423.2h0.6v0.6h-0.6zM59.1 418.0h0.6v0.6h-0.6zM59.8 406.5h0.6v0.6h-0.6zM59.6 408.3h0.6v0.6h-0.6zM58.9 405.5h0.6v0.6h-0.6zM59.2 411.2h0.6v0.6h-0.6zM59.6 395.4h0.6v0.6h-0.6zM58.9 392.7h0.6v0.6h-0.6zM59.3 404.8h0.6v0.6h-0.6zM60.3 428.6h0.6v0.6h-0.6zM59.9 403.9h0.6v0.6h-0.6zM59.3 422.1h0.6v0.6h-0.6zM58.5 410.3h0.6v0.6h-0.6zM59.4 416.9h0.6v0.6h-0.6zM59.2 394.6h0.6v0.6h-0.6zM58.9 413.6h0.6v0.6h-0.6zM58.9 423.6h0.6v0.6h-0.6zM59.6 396.0h0.6v0.6h-0.6zM59.2 432.6h0.6v0.6h-0.6zM59.6 409.8h0.6v0.6h-0.6zM58.5 424.0h0.6v0.6h-0.6zM59.7 427.7h0.6v0.6h-0.6zM59.2 404.0h0.6v0.6h-0.6zM59.4 390.1h0.6v0.6h-0.6zM59.1 409.3h0.6v0.6h-0.6zM59.6 433.4h0.6v0.6h-0.6z" fill="#4055aa" fill-opacity="0.85"/>
<ellipse cx="61.2" cy="427.2" rx="1.5" ry="6.2" fill="#4b8fd8" opacity="0.7"/>
<ellipse cx="61.2" cy="427.3" rx="0.95" ry="4.7" fill="#a8d852"/>
<ellipse cx="87" cy="394.3" rx="19.9" ry="21.3" fill="none" stroke="#222" stroke-width="0.9" transform="rotate(-20 87 394.3)"/>
<line x1="106.9" y1="388.8" x2="133" y2="388.8" stroke="#111" stroke-width="1" />
<path d="M132.4 385.7 L138.4 388.8 L132.4 391.9Z" fill="#000"/>
<rect x="39.6" y="362.4" width="91" height="91.6" fill="none" stroke="#8c8c8c" stroke-width="0.7" />
<path d="M39.6 362.4V454H130.6" fill="none" stroke="#444" stroke-width="0.9"/>
<line x1="37.4" y1="371.4" x2="39.6" y2="371.4" stroke="#444" stroke-width="0.8" />
<text x="36" y="374.8" font-size="8.8" text-anchor="end" fill="#1a1a1a">10<tspan dy="-2.8" font-size="6">5</tspan></text>
<line x1="37.4" y1="393" x2="39.6" y2="393" stroke="#444" stroke-width="0.8" />
<text x="36" y="396.4" font-size="8.8" text-anchor="end" fill="#1a1a1a">10<tspan dy="-2.8" font-size="6">4</tspan></text>
<line x1="37.4" y1="417.5" x2="39.6" y2="417.5" stroke="#444" stroke-width="0.8" />
<text x="36" y="420.9" font-size="8.8" text-anchor="end" fill="#1a1a1a">10<tspan dy="-2.8" font-size="6">3</tspan></text>
<line x1="37.4" y1="432.5" x2="39.6" y2="432.5" stroke="#444" stroke-width="0.8" />
<text x="32.9" y="435.6" font-size="8.8" text-anchor="end" fill="#1a1a1a">0</text>
<line x1="37.4" y1="448.8" x2="39.6" y2="448.8" stroke="#444" stroke-width="0.8" />
<text x="36" y="452.2" font-size="8.8" text-anchor="end" fill="#1a1a1a">–10<tspan dy="-2.8" font-size="6">3</tspan></text>
<line x1="38.4" y1="386.5" x2="39.6" y2="386.5" stroke="#444" stroke-width="0.5" />
<line x1="38.4" y1="382.69" x2="39.6" y2="382.69" stroke="#444" stroke-width="0.5" />
<line x1="38.4" y1="380" x2="39.6" y2="380" stroke="#444" stroke-width="0.5" />
<line x1="38.4" y1="377.9" x2="39.6" y2="377.9" stroke="#444" stroke-width="0.5" />
<line x1="38.4" y1="376.19" x2="39.6" y2="376.19" stroke="#444" stroke-width="0.5" />
<line x1="38.4" y1="374.75" x2="39.6" y2="374.75" stroke="#444" stroke-width="0.5" />
<line x1="38.4" y1="373.49" x2="39.6" y2="373.49" stroke="#444" stroke-width="0.5" />
<line x1="38.4" y1="372.39" x2="39.6" y2="372.39" stroke="#444" stroke-width="0.5" />
<line x1="38.4" y1="410.12" x2="39.6" y2="410.12" stroke="#444" stroke-width="0.5" />
<line x1="38.4" y1="405.81" x2="39.6" y2="405.81" stroke="#444" stroke-width="0.5" />
<line x1="38.4" y1="402.75" x2="39.6" y2="402.75" stroke="#444" stroke-width="0.5" />
<line x1="38.4" y1="400.38" x2="39.6" y2="400.38" stroke="#444" stroke-width="0.5" />
<line x1="38.4" y1="398.44" x2="39.6" y2="398.44" stroke="#444" stroke-width="0.5" />
<line x1="38.4" y1="396.8" x2="39.6" y2="396.8" stroke="#444" stroke-width="0.5" />
<line x1="38.4" y1="395.37" x2="39.6" y2="395.37" stroke="#444" stroke-width="0.5" />
<line x1="38.4" y1="394.12" x2="39.6" y2="394.12" stroke="#444" stroke-width="0.5" />
<line x1="38.4" y1="427.46" x2="39.6" y2="427.46" stroke="#444" stroke-width="0.5" />
<line x1="38.4" y1="437.98" x2="39.6" y2="437.98" stroke="#444" stroke-width="0.5" />
<line x1="38.4" y1="424.95" x2="39.6" y2="424.95" stroke="#444" stroke-width="0.5" />
<line x1="38.4" y1="440.7" x2="39.6" y2="440.7" stroke="#444" stroke-width="0.5" />
<line x1="38.4" y1="423.17" x2="39.6" y2="423.17" stroke="#444" stroke-width="0.5" />
<line x1="38.4" y1="442.64" x2="39.6" y2="442.64" stroke="#444" stroke-width="0.5" />
<line x1="38.4" y1="421.79" x2="39.6" y2="421.79" stroke="#444" stroke-width="0.5" />
<line x1="38.4" y1="444.14" x2="39.6" y2="444.14" stroke="#444" stroke-width="0.5" />
<line x1="38.4" y1="420.66" x2="39.6" y2="420.66" stroke="#444" stroke-width="0.5" />
<line x1="38.4" y1="445.36" x2="39.6" y2="445.36" stroke="#444" stroke-width="0.5" />
<line x1="38.4" y1="419.71" x2="39.6" y2="419.71" stroke="#444" stroke-width="0.5" />
<line x1="38.4" y1="446.4" x2="39.6" y2="446.4" stroke="#444" stroke-width="0.5" />
<line x1="38.4" y1="418.88" x2="39.6" y2="418.88" stroke="#444" stroke-width="0.5" />
<line x1="38.4" y1="447.3" x2="39.6" y2="447.3" stroke="#444" stroke-width="0.5" />
<line x1="38.4" y1="418.15" x2="39.6" y2="418.15" stroke="#444" stroke-width="0.5" />
<line x1="38.4" y1="448.09" x2="39.6" y2="448.09" stroke="#444" stroke-width="0.5" />
<line x1="37.2" y1="432.9" x2="39.6" y2="432.9" stroke="#111" stroke-width="3.4" />
<line x1="44.6" y1="454" x2="44.6" y2="456.2" stroke="#444" stroke-width="0.8" />
<text x="45.8" y="466" font-size="8.3" text-anchor="middle" fill="#1a1a1a">–10<tspan dy="-2.8" font-size="5.64">3</tspan></text>
<line x1="59.8" y1="454" x2="59.8" y2="456.2" stroke="#444" stroke-width="0.8" />
<text x="61.3" y="466" font-size="8.3" text-anchor="middle" fill="#1a1a1a">0</text>
<line x1="74.7" y1="454" x2="74.7" y2="456.2" stroke="#444" stroke-width="0.8" />
<text x="76.6" y="466" font-size="8.3" text-anchor="middle" fill="#1a1a1a">10<tspan dy="-2.8" font-size="5.64">3</tspan></text>
<line x1="99.6" y1="454" x2="99.6" y2="456.2" stroke="#444" stroke-width="0.8" />
<text x="101" y="466" font-size="8.3" text-anchor="middle" fill="#1a1a1a">10<tspan dy="-2.8" font-size="5.64">4</tspan></text>
<line x1="121.8" y1="454" x2="121.8" y2="456.2" stroke="#444" stroke-width="0.8" />
<text x="123" y="466" font-size="8.3" text-anchor="middle" fill="#1a1a1a">10<tspan dy="-2.8" font-size="5.64">5</tspan></text>
<line x1="82.2" y1="454" x2="82.2" y2="455.2" stroke="#444" stroke-width="0.5" />
<line x1="86.58" y1="454" x2="86.58" y2="455.2" stroke="#444" stroke-width="0.5" />
<line x1="89.69" y1="454" x2="89.69" y2="455.2" stroke="#444" stroke-width="0.5" />
<line x1="92.1" y1="454" x2="92.1" y2="455.2" stroke="#444" stroke-width="0.5" />
<line x1="94.08" y1="454" x2="94.08" y2="455.2" stroke="#444" stroke-width="0.5" />
<line x1="95.74" y1="454" x2="95.74" y2="455.2" stroke="#444" stroke-width="0.5" />
<line x1="97.19" y1="454" x2="97.19" y2="455.2" stroke="#444" stroke-width="0.5" />
<line x1="98.46" y1="454" x2="98.46" y2="455.2" stroke="#444" stroke-width="0.5" />
<line x1="106.28" y1="454" x2="106.28" y2="455.2" stroke="#444" stroke-width="0.5" />
<line x1="110.19" y1="454" x2="110.19" y2="455.2" stroke="#444" stroke-width="0.5" />
<line x1="112.97" y1="454" x2="112.97" y2="455.2" stroke="#444" stroke-width="0.5" />
<line x1="115.12" y1="454" x2="115.12" y2="455.2" stroke="#444" stroke-width="0.5" />
<line x1="116.87" y1="454" x2="116.87" y2="455.2" stroke="#444" stroke-width="0.5" />
<line x1="118.36" y1="454" x2="118.36" y2="455.2" stroke="#444" stroke-width="0.5" />
<line x1="119.65" y1="454" x2="119.65" y2="455.2" stroke="#444" stroke-width="0.5" />
<line x1="120.78" y1="454" x2="120.78" y2="455.2" stroke="#444" stroke-width="0.5" />
<line x1="64.81" y1="454" x2="64.81" y2="455.2" stroke="#444" stroke-width="0.5" />
<line x1="54.69" y1="454" x2="54.69" y2="455.2" stroke="#444" stroke-width="0.5" />
<line x1="67.3" y1="454" x2="67.3" y2="455.2" stroke="#444" stroke-width="0.5" />
<line x1="52.15" y1="454" x2="52.15" y2="455.2" stroke="#444" stroke-width="0.5" />
<line x1="69.07" y1="454" x2="69.07" y2="455.2" stroke="#444" stroke-width="0.5" />
<line x1="50.35" y1="454" x2="50.35" y2="455.2" stroke="#444" stroke-width="0.5" />
<line x1="70.44" y1="454" x2="70.44" y2="455.2" stroke="#444" stroke-width="0.5" />
<line x1="48.95" y1="454" x2="48.95" y2="455.2" stroke="#444" stroke-width="0.5" />
<line x1="71.56" y1="454" x2="71.56" y2="455.2" stroke="#444" stroke-width="0.5" />
<line x1="47.8" y1="454" x2="47.8" y2="455.2" stroke="#444" stroke-width="0.5" />
<line x1="72.51" y1="454" x2="72.51" y2="455.2" stroke="#444" stroke-width="0.5" />
<line x1="46.84" y1="454" x2="46.84" y2="455.2" stroke="#444" stroke-width="0.5" />
<line x1="73.33" y1="454" x2="73.33" y2="455.2" stroke="#444" stroke-width="0.5" />
<line x1="46" y1="454" x2="46" y2="455.2" stroke="#444" stroke-width="0.5" />
<line x1="74.05" y1="454" x2="74.05" y2="455.2" stroke="#444" stroke-width="0.5" />
<line x1="45.26" y1="454" x2="45.26" y2="455.2" stroke="#444" stroke-width="0.5" />
<line x1="59.8" y1="454" x2="59.8" y2="456.2" stroke="#111" stroke-width="3.8" />
<text x="16" y="412.5" font-size="8.8" text-anchor="middle" fill="#1a1a1a" transform="rotate(-90 16 412.5)">CD38-BV421</text>
<path d="M70.4 504.9h0.55v0.55h-0.55zM82.2 518.2h0.55v0.55h-0.55zM66.3 505.1h0.55v0.55h-0.55zM66.3 506.4h0.55v0.55h-0.55zM70.4 495.2h0.55v0.55h-0.55zM86.6 509.2h0.55v0.55h-0.55zM76.0 517.9h0.55v0.55h-0.55zM60.4 509.5h0.55v0.55h-0.55zM91.3 502.7h0.55v0.55h-0.55zM67.7 498.8h0.55v0.55h-0.55zM87.7 515.5h0.55v0.55h-0.55zM79.0 514.3h0.55v0.55h-0.55zM69.6 502.4h0.55v0.55h-0.55zM83.8 497.4h0.55v0.55h-0.55zM78.0 505.7h0.55v0.55h-0.55zM67.8 507.8h0.55v0.55h-0.55zM63.8 500.1h0.55v0.55h-0.55zM67.5 509.1h0.55v0.55h-0.55zM76.0 494.6h0.55v0.55h-0.55zM73.5 526.2h0.55v0.55h-0.55zM76.6 509.5h0.55v0.55h-0.55zM86.7 492.9h0.55v0.55h-0.55zM67.3 499.1h0.55v0.55h-0.55zM74.6 511.2h0.55v0.55h-0.55zM59.2 512.0h0.55v0.55h-0.55zM79.7 495.3h0.55v0.55h-0.55zM67.7 500.9h0.55v0.55h-0.55zM91.0 496.6h0.55v0.55h-0.55zM84.9 523.5h0.55v0.55h-0.55zM72.0 498.4h0.55v0.55h-0.55zM75.7 496.6h0.55v0.55h-0.55zM72.1 496.0h0.55v0.55h-0.55zM61.4 491.1h0.55v0.55h-0.55zM84.4 499.5h0.55v0.55h-0.55zM64.6 515.3h0.55v0.55h-0.55zM73.9 502.5h0.55v0.55h-0.55zM68.3 505.6h0.55v0.55h-0.55zM72.6 501.6h0.55v0.55h-0.55zM73.9 512.5h0.55v0.55h-0.55zM73.7 517.4h0.55v0.55h-0.55zM84.9 496.2h0.55v0.55h-0.55zM66.3 493.9h0.55v0.55h-0.55zM68.2 512.0h0.55v0.55h-0.55zM72.2 501.0h0.55v0.55h-0.55zM76.4 485.7h0.55v0.55h-0.55zM78.6 503.8h0.55v0.55h-0.55zM81.8 502.8h0.55v0.55h-0.55zM85.0 515.1h0.55v0.55h-0.55zM72.6 510.6h0.55v0.55h-0.55zM66.8 499.0h0.55v0.55h-0.55zM64.9 503.5h0.55v0.55h-0.55zM63.8 495.6h0.55v0.55h-0.55zM73.3 492.2h0.55v0.55h-0.55zM81.0 497.0h0.55v0.55h-0.55zM73.0 502.6h0.55v0.55h-0.55zM85.1 510.9h0.55v0.55h-0.55zM73.1 500.0h0.55v0.55h-0.55zM83.6 504.1h0.55v0.55h-0.55zM65.3 506.6h0.55v0.55h-0.55zM81.4 505.1h0.55v0.55h-0.55zM75.9 518.8h0.55v0.55h-0.55zM70.4 512.3h0.55v0.55h-0.55zM90.3 520.8h0.55v0.55h-0.55zM64.3 510.2h0.55v0.55h-0.55zM76.7 527.1h0.55v0.55h-0.55zM87.6 514.6h0.55v0.55h-0.55zM86.7 510.4h0.55v0.55h-0.55zM65.4 525.7h0.55v0.55h-0.55zM59.2 512.4h0.55v0.55h-0.55zM82.9 507.2h0.55v0.55h-0.55zM85.1 505.3h0.55v0.55h-0.55zM83.2 507.7h0.55v0.55h-0.55zM68.4 514.4h0.55v0.55h-0.55zM70.0 511.2h0.55v0.55h-0.55zM65.4 507.6h0.55v0.55h-0.55zM80.7 515.9h0.55v0.55h-0.55zM65.0 500.5h0.55v0.55h-0.55zM75.3 496.1h0.55v0.55h-0.55zM81.2 527.0h0.55v0.55h-0.55zM82.0 511.2h0.55v0.55h-0.55zM67.5 510.6h0.55v0.55h-0.55zM80.6 523.3h0.55v0.55h-0.55zM72.1 516.7h0.55v0.55h-0.55zM72.1 503.0h0.55v0.55h-0.55zM71.4 508.0h0.55v0.55h-0.55zM61.2 502.2h0.55v0.55h-0.55zM89.7 489.1h0.55v0.55h-0.55zM84.0 512.5h0.55v0.55h-0.55zM71.4 498.5h0.55v0.55h-0.55zM86.4 502.4h0.55v0.55h-0.55zM78.4 503.5h0.55v0.55h-0.55zM64.8 514.9h0.55v0.55h-0.55zM81.8 497.0h0.55v0.55h-0.55zM86.1 494.2h0.55v0.55h-0.55zM63.2 513.3h0.55v0.55h-0.55zM71.4 505.5h0.55v0.55h-0.55zM90.8 495.7h0.55v0.55h-0.55zM81.4 501.9h0.55v0.55h-0.55zM76.4 503.5h0.55v0.55h-0.55zM67.9 506.0h0.55v0.55h-0.55zM66.7 505.7h0.55v0.55h-0.55zM66.4 503.0h0.55v0.55h-0.55zM76.8 492.8h0.55v0.55h-0.55zM74.9 511.9h0.55v0.55h-0.55zM76.7 514.0h0.55v0.55h-0.55zM66.0 510.9h0.55v0.55h-0.55zM78.5 480.6h0.55v0.55h-0.55zM75.4 513.5h0.55v0.55h-0.55zM74.9 505.9h0.55v0.55h-0.55zM74.3 504.1h0.55v0.55h-0.55zM65.5 499.3h0.55v0.55h-0.55zM75.3 507.6h0.55v0.55h-0.55zM81.5 510.2h0.55v0.55h-0.55zM74.8 491.3h0.55v0.55h-0.55zM64.1 520.8h0.55v0.55h-0.55zM79.6 511.5h0.55v0.55h-0.55zM65.4 501.2h0.55v0.55h-0.55zM78.1 498.5h0.55v0.55h-0.55zM86.9 498.6h0.55v0.55h-0.55zM71.4 495.1h0.55v0.55h-0.55zM78.9 517.3h0.55v0.55h-0.55zM77.5 505.5h0.55v0.55h-0.55zM72.1 512.8h0.55v0.55h-0.55zM75.5 521.5h0.55v0.55h-0.55zM73.0 502.1h0.55v0.55h-0.55zM70.5 488.3h0.55v0.55h-0.55zM77.7 506.7h0.55v0.55h-0.55zM60.3 494.9h0.55v0.55h-0.55zM65.3 502.7h0.55v0.55h-0.55zM65.8 512.4h0.55v0.55h-0.55zM86.9 499.6h0.55v0.55h-0.55zM75.7 495.9h0.55v0.55h-0.55zM88.1 495.7h0.55v0.55h-0.55zM68.0 505.6h0.55v0.55h-0.55zM67.8 529.8h0.55v0.55h-0.55zM73.7 503.3h0.55v0.55h-0.55zM66.1 504.8h0.55v0.55h-0.55zM69.7 501.7h0.55v0.55h-0.55zM85.0 500.2h0.55v0.55h-0.55zM79.5 499.9h0.55v0.55h-0.55zM85.1 498.7h0.55v0.55h-0.55zM66.3 503.3h0.55v0.55h-0.55zM87.4 501.9h0.55v0.55h-0.55zM67.2 504.2h0.55v0.55h-0.55zM68.7 507.9h0.55v0.55h-0.55zM69.0 508.4h0.55v0.55h-0.55zM84.0 510.0h0.55v0.55h-0.55zM89.8 508.3h0.55v0.55h-0.55zM93.1 517.0h0.55v0.55h-0.55zM72.9 512.5h0.55v0.55h-0.55zM68.5 503.7h0.55v0.55h-0.55zM74.7 498.4h0.55v0.55h-0.55zM78.4 504.8h0.55v0.55h-0.55zM94.4 512.5h0.55v0.55h-0.55zM73.2 499.5h0.55v0.55h-0.55zM70.4 499.3h0.55v0.55h-0.55zM68.4 505.6h0.55v0.55h-0.55zM62.7 502.8h0.55v0.55h-0.55zM80.2 500.3h0.55v0.55h-0.55zM64.9 501.0h0.55v0.55h-0.55zM83.6 498.7h0.55v0.55h-0.55zM90.2 490.6h0.55v0.55h-0.55zM67.9 511.0h0.55v0.55h-0.55zM88.3 503.7h0.55v0.55h-0.55zM59.8 503.0h0.55v0.55h-0.55zM66.9 499.4h0.55v0.55h-0.55zM72.0 500.1h0.55v0.55h-0.55zM75.1 506.8h0.55v0.55h-0.55zM72.8 489.5h0.55v0.55h-0.55zM73.8 482.1h0.55v0.55h-0.55zM76.2 501.7h0.55v0.55h-0.55zM66.7 524.3h0.55v0.55h-0.55zM91.2 517.5h0.55v0.55h-0.55zM77.6 501.1h0.55v0.55h-0.55zM79.9 520.1h0.55v0.55h-0.55zM74.7 504.2h0.55v0.55h-0.55zM70.0 504.9h0.55v0.55h-0.55zM83.4 497.3h0.55v0.55h-0.55zM85.5 506.8h0.55v0.55h-0.55zM96.6 507.3h0.55v0.55h-0.55zM87.5 496.7h0.55v0.55h-0.55zM98.4 506.3h0.55v0.55h-0.55zM74.8 519.0h0.55v0.55h-0.55zM77.0 494.5h0.55v0.55h-0.55zM81.3 510.5h0.55v0.55h-0.55zM75.4 501.4h0.55v0.55h-0.55zM60.3 520.6h0.55v0.55h-0.55zM71.4 508.8h0.55v0.55h-0.55zM70.8 499.2h0.55v0.55h-0.55zM78.2 497.7h0.55v0.55h-0.55zM84.4 491.2h0.55v0.55h-0.55zM81.2 516.2h0.55v0.55h-0.55zM71.4 507.5h0.55v0.55h-0.55zM83.4 501.7h0.55v0.55h-0.55zM73.4 504.0h0.55v0.55h-0.55zM101.4 498.3h0.55v0.55h-0.55zM74.0 501.6h0.55v0.55h-0.55zM70.4 497.4h0.55v0.55h-0.55zM69.4 507.1h0.55v0.55h-0.55zM86.6 520.2h0.55v0.55h-0.55zM63.5 496.9h0.55v0.55h-0.55zM75.3 496.9h0.55v0.55h-0.55zM68.3 503.6h0.55v0.55h-0.55zM70.3 498.1h0.55v0.55h-0.55zM77.7 498.7h0.55v0.55h-0.55zM73.1 508.5h0.55v0.55h-0.55zM82.4 507.5h0.55v0.55h-0.55zM85.9 507.0h0.55v0.55h-0.55zM61.7 518.8h0.55v0.55h-0.55zM102.6 512.9h0.55v0.55h-0.55zM90.8 515.5h0.55v0.55h-0.55zM71.5 511.3h0.55v0.55h-0.55zM69.2 500.6h0.55v0.55h-0.55zM81.0 506.5h0.55v0.55h-0.55zM69.5 493.0h0.55v0.55h-0.55zM83.3 505.7h0.55v0.55h-0.55zM77.0 497.8h0.55v0.55h-0.55zM68.4 505.3h0.55v0.55h-0.55zM75.9 515.5h0.55v0.55h-0.55zM84.7 500.6h0.55v0.55h-0.55zM80.5 495.7h0.55v0.55h-0.55zM67.1 517.6h0.55v0.55h-0.55zM70.7 498.8h0.55v0.55h-0.55zM80.2 505.9h0.55v0.55h-0.55zM84.9 494.4h0.55v0.55h-0.55zM73.3 496.1h0.55v0.55h-0.55zM76.0 503.3h0.55v0.55h-0.55zM66.9 490.2h0.55v0.55h-0.55zM62.9 514.1h0.55v0.55h-0.55zM72.2 496.0h0.55v0.55h-0.55zM77.4 495.7h0.55v0.55h-0.55zM84.4 513.5h0.55v0.55h-0.55zM76.1 500.6h0.55v0.55h-0.55zM94.9 507.5h0.55v0.55h-0.55zM70.6 512.9h0.55v0.55h-0.55zM72.1 494.9h0.55v0.55h-0.55zM74.7 511.1h0.55v0.55h-0.55zM91.1 505.5h0.55v0.55h-0.55zM71.2 493.1h0.55v0.55h-0.55zM80.8 503.3h0.55v0.55h-0.55zM87.2 519.7h0.55v0.55h-0.55zM87.5 507.4h0.55v0.55h-0.55zM71.2 501.5h0.55v0.55h-0.55zM85.9 510.0h0.55v0.55h-0.55zM65.9 502.8h0.55v0.55h-0.55zM73.0 504.4h0.55v0.55h-0.55zM64.6 519.1h0.55v0.55h-0.55zM74.5 511.6h0.55v0.55h-0.55zM85.7 525.2h0.55v0.55h-0.55zM82.6 499.3h0.55v0.55h-0.55zM71.6 513.6h0.55v0.55h-0.55zM91.4 492.7h0.55v0.55h-0.55zM93.9 500.8h0.55v0.55h-0.55zM74.0 501.9h0.55v0.55h-0.55zM81.4 504.1h0.55v0.55h-0.55zM75.4 497.6h0.55v0.55h-0.55zM89.6 509.0h0.55v0.55h-0.55zM75.4 524.8h0.55v0.55h-0.55zM81.9 518.1h0.55v0.55h-0.55zM73.3 507.1h0.55v0.55h-0.55zM74.4 513.6h0.55v0.55h-0.55zM78.5 490.7h0.55v0.55h-0.55zM81.3 503.9h0.55v0.55h-0.55zM78.2 514.4h0.55v0.55h-0.55zM73.2 511.5h0.55v0.55h-0.55zM76.0 505.1h0.55v0.55h-0.55zM71.1 504.9h0.55v0.55h-0.55zM72.9 512.9h0.55v0.55h-0.55zM75.1 496.5h0.55v0.55h-0.55zM83.2 505.6h0.55v0.55h-0.55zM81.1 517.8h0.55v0.55h-0.55zM77.9 491.7h0.55v0.55h-0.55zM60.8 505.4h0.55v0.55h-0.55zM64.5 525.0h0.55v0.55h-0.55zM75.0 489.9h0.55v0.55h-0.55zM71.3 515.9h0.55v0.55h-0.55zM64.9 501.8h0.55v0.55h-0.55zM86.2 491.5h0.55v0.55h-0.55zM82.2 518.8h0.55v0.55h-0.55zM66.5 504.5h0.55v0.55h-0.55zM91.5 519.1h0.55v0.55h-0.55zM91.2 505.0h0.55v0.55h-0.55zM72.4 504.4h0.55v0.55h-0.55zM72.3 513.3h0.55v0.55h-0.55zM83.9 510.5h0.55v0.55h-0.55zM69.4 512.9h0.55v0.55h-0.55zM80.6 508.0h0.55v0.55h-0.55zM87.5 502.6h0.55v0.55h-0.55zM77.1 515.8h0.55v0.55h-0.55zM68.9 513.9h0.55v0.55h-0.55zM82.9 519.3h0.55v0.55h-0.55zM88.2 500.8h0.55v0.55h-0.55zM92.9 501.8h0.55v0.55h-0.55zM64.8 503.5h0.55v0.55h-0.55zM72.7 498.0h0.55v0.55h-0.55zM85.2 510.6h0.55v0.55h-0.55zM81.8 493.7h0.55v0.55h-0.55zM93.2 510.2h0.55v0.55h-0.55zM87.0 509.2h0.55v0.55h-0.55zM79.5 512.8h0.55v0.55h-0.55zM77.6 518.3h0.55v0.55h-0.55zM71.2 487.9h0.55v0.55h-0.55zM72.7 505.9h0.55v0.55h-0.55zM79.9 506.9h0.55v0.55h-0.55zM80.1 510.0h0.55v0.55h-0.55zM74.5 510.9h0.55v0.55h-0.55zM81.3 499.1h0.55v0.55h-0.55zM59.5 508.0h0.55v0.55h-0.55zM80.7 515.6h0.55v0.55h-0.55zM86.6 508.7h0.55v0.55h-0.55zM87.1 500.9h0.55v0.55h-0.55zM71.7 518.1h0.55v0.55h-0.55zM64.9 505.9h0.55v0.55h-0.55zM66.2 495.3h0.55v0.55h-0.55zM96.1 490.3h0.55v0.55h-0.55zM92.8 502.1h0.55v0.55h-0.55zM69.0 491.3h0.55v0.55h-0.55zM78.2 511.6h0.55v0.55h-0.55zM81.6 498.0h0.55v0.55h-0.55zM91.6 507.9h0.55v0.55h-0.55zM81.0 511.4h0.55v0.55h-0.55zM81.4 503.2h0.55v0.55h-0.55zM79.5 499.7h0.55v0.55h-0.55zM78.5 497.5h0.55v0.55h-0.55zM62.7 500.8h0.55v0.55h-0.55zM74.7 500.0h0.55v0.55h-0.55zM73.3 501.2h0.55v0.55h-0.55zM76.5 521.6h0.55v0.55h-0.55zM81.6 513.6h0.55v0.55h-0.55zM85.5 513.8h0.55v0.55h-0.55zM80.1 513.6h0.55v0.55h-0.55zM86.2 504.7h0.55v0.55h-0.55zM73.6 506.0h0.55v0.55h-0.55zM75.6 510.2h0.55v0.55h-0.55zM72.0 502.4h0.55v0.55h-0.55zM78.3 510.5h0.55v0.55h-0.55zM75.2 492.9h0.55v0.55h-0.55zM73.8 513.6h0.55v0.55h-0.55zM74.0 517.2h0.55v0.55h-0.55zM71.4 504.0h0.55v0.55h-0.55zM83.6 516.4h0.55v0.55h-0.55zM73.4 519.1h0.55v0.55h-0.55zM77.9 509.7h0.55v0.55h-0.55zM93.0 513.5h0.55v0.55h-0.55zM74.2 505.6h0.55v0.55h-0.55zM67.7 516.0h0.55v0.55h-0.55zM79.5 522.7h0.55v0.55h-0.55zM87.6 506.3h0.55v0.55h-0.55zM70.5 503.4h0.55v0.55h-0.55zM87.9 505.1h0.55v0.55h-0.55zM86.8 517.1h0.55v0.55h-0.55zM90.2 508.4h0.55v0.55h-0.55zM82.9 494.9h0.55v0.55h-0.55zM79.4 506.5h0.55v0.55h-0.55zM84.9 490.7h0.55v0.55h-0.55zM73.3 526.5h0.55v0.55h-0.55zM77.8 502.1h0.55v0.55h-0.55zM77.2 505.0h0.55v0.55h-0.55zM73.1 511.5h0.55v0.55h-0.55zM78.8 516.3h0.55v0.55h-0.55zM99.6 512.6h0.55v0.55h-0.55zM79.6 519.2h0.55v0.55h-0.55zM63.3 522.1h0.55v0.55h-0.55zM65.7 502.1h0.55v0.55h-0.55zM76.8 494.5h0.55v0.55h-0.55zM70.4 507.7h0.55v0.55h-0.55zM80.1 493.9h0.55v0.55h-0.55zM60.8 509.3h0.55v0.55h-0.55zM80.6 513.3h0.55v0.55h-0.55zM71.0 500.9h0.55v0.55h-0.55zM105.0 505.4h0.55v0.55h-0.55zM66.7 494.7h0.55v0.55h-0.55zM73.8 521.3h0.55v0.55h-0.55zM82.7 498.3h0.55v0.55h-0.55zM63.3 500.8h0.55v0.55h-0.55zM76.0 508.8h0.55v0.55h-0.55zM80.8 516.0h0.55v0.55h-0.55zM63.8 492.6h0.55v0.55h-0.55zM75.4 511.4h0.55v0.55h-0.55zM71.0 508.6h0.55v0.55h-0.55zM75.4 516.4h0.55v0.55h-0.55zM74.2 502.1h0.55v0.55h-0.55zM80.9 515.0h0.55v0.55h-0.55zM70.1 505.3h0.55v0.55h-0.55zM69.4 496.2h0.55v0.55h-0.55zM98.9 500.9h0.55v0.55h-0.55zM73.2 503.2h0.55v0.55h-0.55zM68.5 505.0h0.55v0.55h-0.55zM75.3 509.5h0.55v0.55h-0.55zM71.0 493.7h0.55v0.55h-0.55zM74.9 512.4h0.55v0.55h-0.55zM88.0 505.5h0.55v0.55h-0.55zM73.7 499.6h0.55v0.55h-0.55zM90.1 500.9h0.55v0.55h-0.55zM71.4 505.8h0.55v0.55h-0.55zM74.0 506.8h0.55v0.55h-0.55zM80.1 521.2h0.55v0.55h-0.55zM80.9 509.9h0.55v0.55h-0.55zM62.5 525.8h0.55v0.55h-0.55zM81.0 514.0h0.55v0.55h-0.55zM73.2 505.4h0.55v0.55h-0.55zM72.7 504.7h0.55v0.55h-0.55zM72.4 513.2h0.55v0.55h-0.55zM86.2 505.8h0.55v0.55h-0.55zM73.4 513.7h0.55v0.55h-0.55zM74.3 511.1h0.55v0.55h-0.55zM70.1 518.6h0.55v0.55h-0.55zM71.9 511.2h0.55v0.55h-0.55zM92.2 509.8h0.55v0.55h-0.55zM73.7 512.8h0.55v0.55h-0.55zM90.5 486.6h0.55v0.55h-0.55zM72.6 504.9h0.55v0.55h-0.55zM84.3 492.9h0.55v0.55h-0.55zM83.8 506.8h0.55v0.55h-0.55zM81.5 497.2h0.55v0.55h-0.55zM88.2 529.3h0.55v0.55h-0.55zM77.4 511.5h0.55v0.55h-0.55zM66.4 481.1h0.55v0.55h-0.55zM75.5 504.3h0.55v0.55h-0.55zM82.5 506.8h0.55v0.55h-0.55zM63.8 486.4h0.55v0.55h-0.55zM86.6 514.9h0.55v0.55h-0.55zM74.9 504.0h0.55v0.55h-0.55zM82.7 501.5h0.55v0.55h-0.55zM64.1 517.3h0.55v0.55h-0.55zM63.2 502.6h0.55v0.55h-0.55zM88.4 510.5h0.55v0.55h-0.55zM86.5 519.5h0.55v0.55h-0.55zM78.1 493.1h0.55v0.55h-0.55zM60.1 486.5h0.55v0.55h-0.55zM83.2 493.5h0.55v0.55h-0.55zM75.0 507.1h0.55v0.55h-0.55zM79.5 506.0h0.55v0.55h-0.55zM88.3 509.2h0.55v0.55h-0.55zM86.3 505.5h0.55v0.55h-0.55zM76.5 507.7h0.55v0.55h-0.55zM80.8 513.2h0.55v0.55h-0.55zM61.9 537.8h0.55v0.55h-0.55zM69.7 508.2h0.55v0.55h-0.55zM64.6 531.2h0.55v0.55h-0.55zM62.5 526.9h0.55v0.55h-0.55zM60.3 534.5h0.55v0.55h-0.55zM61.3 546.5h0.55v0.55h-0.55zM63.8 547.9h0.55v0.55h-0.55zM63.3 519.4h0.55v0.55h-0.55zM64.1 534.1h0.55v0.55h-0.55zM65.1 510.7h0.55v0.55h-0.55zM63.2 545.3h0.55v0.55h-0.55zM63.2 513.9h0.55v0.55h-0.55zM64.1 536.6h0.55v0.55h-0.55zM66.4 537.3h0.55v0.55h-0.55zM60.7 542.8h0.55v0.55h-0.55zM64.7 543.0h0.55v0.55h-0.55zM62.6 541.6h0.55v0.55h-0.55zM64.5 546.7h0.55v0.55h-0.55zM64.4 533.7h0.55v0.55h-0.55zM62.7 528.5h0.55v0.55h-0.55zM65.7 516.1h0.55v0.55h-0.55zM63.7 545.8h0.55v0.55h-0.55zM59.1 512.0h0.55v0.55h-0.55zM60.7 532.2h0.55v0.55h-0.55zM64.4 527.1h0.55v0.55h-0.55zM64.9 527.6h0.55v0.55h-0.55zM59.2 541.4h0.55v0.55h-0.55zM63.1 526.3h0.55v0.55h-0.55zM59.1 509.4h0.55v0.55h-0.55zM60.5 538.7h0.55v0.55h-0.55zM60.9 520.1h0.55v0.55h-0.55zM61.2 537.6h0.55v0.55h-0.55zM64.5 543.3h0.55v0.55h-0.55zM61.0 545.9h0.55v0.55h-0.55zM66.9 536.2h0.55v0.55h-0.55zM65.6 547.3h0.55v0.55h-0.55zM64.0 524.4h0.55v0.55h-0.55zM64.3 535.6h0.55v0.55h-0.55zM63.2 530.1h0.55v0.55h-0.55zM66.1 532.6h0.55v0.55h-0.55zM60.1 535.2h0.55v0.55h-0.55zM65.5 517.6h0.55v0.55h-0.55zM67.2 549.7h0.55v0.55h-0.55zM60.4 534.6h0.55v0.55h-0.55zM64.0 537.4h0.55v0.55h-0.55zM63.8 538.7h0.55v0.55h-0.55zM61.2 530.1h0.55v0.55h-0.55zM62.9 536.3h0.55v0.55h-0.55zM67.8 540.3h0.55v0.55h-0.55zM60.6 535.7h0.55v0.55h-0.55zM67.2 533.3h0.55v0.55h-0.55zM64.9 534.0h0.55v0.55h-0.55zM60.4 532.9h0.55v0.55h-0.55zM62.1 520.8h0.55v0.55h-0.55zM62.7 528.8h0.55v0.55h-0.55zM62.5 538.9h0.55v0.55h-0.55zM60.5 533.1h0.55v0.55h-0.55zM64.0 535.0h0.55v0.55h-0.55zM63.7 533.1h0.55v0.55h-0.55zM59.3 513.5h0.55v0.55h-0.55zM61.7 528.7h0.55v0.55h-0.55zM60.8 525.3h0.55v0.55h-0.55zM62.1 547.9h0.55v0.55h-0.55zM62.8 539.7h0.55v0.55h-0.55zM64.7 533.9h0.55v0.55h-0.55zM65.4 527.2h0.55v0.55h-0.55zM62.6 521.6h0.55v0.55h-0.55zM62.8 540.4h0.55v0.55h-0.55zM60.9 531.6h0.55v0.55h-0.55zM62.5 531.8h0.55v0.55h-0.55zM62.1 534.9h0.55v0.55h-0.55zM60.1 533.5h0.55v0.55h-0.55zM67.1 522.3h0.55v0.55h-0.55zM65.0 525.9h0.55v0.55h-0.55zM61.7 548.8h0.55v0.55h-0.55zM64.7 538.0h0.55v0.55h-0.55zM67.1 538.2h0.55v0.55h-0.55zM62.8 511.5h0.55v0.55h-0.55zM64.8 547.8h0.55v0.55h-0.55zM62.0 521.3h0.55v0.55h-0.55zM58.9 537.7h0.55v0.55h-0.55zM65.0 528.1h0.55v0.55h-0.55zM60.5 529.7h0.55v0.55h-0.55zM66.8 521.7h0.55v0.55h-0.55zM61.1 537.0h0.55v0.55h-0.55zM61.5 544.1h0.55v0.55h-0.55zM61.3 521.2h0.55v0.55h-0.55zM59.5 530.2h0.55v0.55h-0.55zM65.7 532.4h0.55v0.55h-0.55zM61.7 518.4h0.55v0.55h-0.55zM63.7 526.1h0.55v0.55h-0.55zM68.7 521.4h0.55v0.55h-0.55zM59.8 520.5h0.55v0.55h-0.55zM63.5 537.5h0.55v0.55h-0.55zM63.6 542.9h0.55v0.55h-0.55zM64.7 526.8h0.55v0.55h-0.55zM67.1 525.1h0.55v0.55h-0.55zM63.6 532.6h0.55v0.55h-0.55zM65.8 531.9h0.55v0.55h-0.55zM63.9 514.4h0.55v0.55h-0.55zM62.9 533.5h0.55v0.55h-0.55zM66.7 516.5h0.55v0.55h-0.55zM60.2 539.8h0.55v0.55h-0.55zM68.7 533.5h0.55v0.55h-0.55zM62.1 524.1h0.55v0.55h-0.55zM64.2 541.8h0.55v0.55h-0.55zM65.0 523.6h0.55v0.55h-0.55zM61.4 530.5h0.55v0.55h-0.55zM64.1 537.3h0.55v0.55h-0.55zM62.1 541.6h0.55v0.55h-0.55zM64.8 529.4h0.55v0.55h-0.55zM63.5 546.7h0.55v0.55h-0.55zM64.6 529.5h0.55v0.55h-0.55zM62.3 540.9h0.55v0.55h-0.55zM64.0 533.5h0.55v0.55h-0.55zM61.3 529.8h0.55v0.55h-0.55zM63.5 548.2h0.55v0.55h-0.55zM59.9 533.3h0.55v0.55h-0.55zM60.8 519.7h0.55v0.55h-0.55zM68.6 520.6h0.55v0.55h-0.55zM66.0 541.6h0.55v0.55h-0.55zM64.2 532.7h0.55v0.55h-0.55zM63.0 536.7h0.55v0.55h-0.55zM64.0 537.4h0.55v0.55h-0.55zM64.6 517.4h0.55v0.55h-0.55zM60.0 531.9h0.55v0.55h-0.55zM63.0 520.0h0.55v0.55h-0.55zM65.4 536.7h0.55v0.55h-0.55zM63.8 541.7h0.55v0.55h-0.55zM64.6 531.2h0.55v0.55h-0.55zM61.6 542.7h0.55v0.55h-0.55zM61.9 525.5h0.55v0.55h-0.55zM60.8 538.5h0.55v0.55h-0.55zM63.7 530.8h0.55v0.55h-0.55zM65.4 524.7h0.55v0.55h-0.55zM65.1 527.5h0.55v0.55h-0.55zM62.7 530.4h0.55v0.55h-0.55zM63.6 544.8h0.55v0.55h-0.55zM61.6 541.5h0.55v0.55h-0.55zM66.1 530.8h0.55v0.55h-0.55zM61.5 521.9h0.55v0.55h-0.55zM62.6 533.4h0.55v0.55h-0.55zM60.8 536.2h0.55v0.55h-0.55zM63.7 541.2h0.55v0.55h-0.55zM68.1 541.4h0.55v0.55h-0.55zM61.0 531.0h0.55v0.55h-0.55zM59.9 528.4h0.55v0.55h-0.55zM59.6 542.5h0.55v0.55h-0.55zM63.4 518.2h0.55v0.55h-0.55zM65.0 544.0h0.55v0.55h-0.55zM67.4 529.9h0.55v0.55h-0.55zM64.9 534.0h0.55v0.55h-0.55zM66.5 532.2h0.55v0.55h-0.55zM65.8 523.0h0.55v0.55h-0.55zM61.5 522.4h0.55v0.55h-0.55zM62.6 520.8h0.55v0.55h-0.55zM63.4 527.0h0.55v0.55h-0.55zM59.7 534.3h0.55v0.55h-0.55zM65.8 536.8h0.55v0.55h-0.55zM63.9 530.0h0.55v0.55h-0.55zM62.6 517.7h0.55v0.55h-0.55zM67.8 517.0h0.55v0.55h-0.55zM60.9 522.8h0.55v0.55h-0.55zM60.4 533.5h0.55v0.55h-0.55zM61.3 527.1h0.55v0.55h-0.55zM63.9 521.2h0.55v0.55h-0.55zM60.4 536.3h0.55v0.55h-0.55zM61.8 515.4h0.55v0.55h-0.55zM64.5 519.0h0.55v0.55h-0.55zM63.0 532.2h0.55v0.55h-0.55zM63.7 534.6h0.55v0.55h-0.55zM62.0 531.8h0.55v0.55h-0.55zM59.0 534.5h0.55v0.55h-0.55zM61.2 540.0h0.55v0.55h-0.55zM62.9 536.7h0.55v0.55h-0.55zM61.9 529.8h0.55v0.55h-0.55zM64.2 538.0h0.55v0.55h-0.55zM62.1 507.2h0.55v0.55h-0.55zM63.4 538.5h0.55v0.55h-0.55zM66.1 529.7h0.55v0.55h-0.55zM65.6 499.6h0.55v0.55h-0.55zM62.0 526.3h0.55v0.55h-0.55zM68.0 529.8h0.55v0.55h-0.55zM69.3 532.4h0.55v0.55h-0.55zM62.0 526.7h0.55v0.55h-0.55zM61.0 533.2h0.55v0.55h-0.55zM63.4 523.0h0.55v0.55h-0.55zM67.3 541.7h0.55v0.55h-0.55zM62.3 536.9h0.55v0.55h-0.55zM62.6 527.5h0.55v0.55h-0.55zM60.9 526.0h0.55v0.55h-0.55zM67.3 547.5h0.55v0.55h-0.55zM62.7 529.1h0.55v0.55h-0.55zM65.8 524.4h0.55v0.55h-0.55zM64.8 518.1h0.55v0.55h-0.55zM64.0 538.9h0.55v0.55h-0.55zM65.1 546.5h0.55v0.55h-0.55zM66.0 528.2h0.55v0.55h-0.55zM59.7 510.7h0.55v0.55h-0.55zM60.4 530.7h0.55v0.55h-0.55zM64.1 536.1h0.55v0.55h-0.55zM63.3 530.3h0.55v0.55h-0.55zM63.9 542.5h0.55v0.55h-0.55zM63.2 540.8h0.55v0.55h-0.55zM66.5 534.1h0.55v0.55h-0.55zM64.8 535.4h0.55v0.55h-0.55zM66.0 540.3h0.55v0.55h-0.55zM63.6 543.2h0.55v0.55h-0.55zM66.0 534.4h0.55v0.55h-0.55zM60.1 548.4h0.55v0.55h-0.55zM63.7 539.1h0.55v0.55h-0.55z" fill="#4a60b4" fill-opacity="0.75"/>
<path d="M83.1 494.5h0.7v0.7h-0.7zM60.9 509.1h0.7v0.7h-0.7zM73.2 516.5h0.7v0.7h-0.7zM89.8 504.2h0.7v0.7h-0.7zM88.3 502.9h0.7v0.7h-0.7zM76.3 516.8h0.7v0.7h-0.7zM68.4 494.6h0.7v0.7h-0.7zM61.2 501.9h0.7v0.7h-0.7zM68.4 494.6h0.7v0.7h-0.7zM67.6 496.1h0.7v0.7h-0.7zM59.6 506.2h0.7v0.7h-0.7zM88.0 505.0h0.7v0.7h-0.7zM88.3 498.3h0.7v0.7h-0.7zM61.2 514.8h0.7v0.7h-0.7zM86.1 497.9h0.7v0.7h-0.7zM74.1 493.4h0.7v0.7h-0.7zM71.1 494.9h0.7v0.7h-0.7zM85.8 495.1h0.7v0.7h-0.7zM60.9 503.9h0.7v0.7h-0.7zM61.1 504.6h0.7v0.7h-0.7zM76.5 516.5h0.7v0.7h-0.7zM88.7 501.0h0.7v0.7h-0.7zM80.5 514.2h0.7v0.7h-0.7zM78.1 494.3h0.7v0.7h-0.7zM87.5 509.7h0.7v0.7h-0.7zM66.6 497.5h0.7v0.7h-0.7zM68.6 494.1h0.7v0.7h-0.7zM59.7 500.8h0.7v0.7h-0.7zM82.4 495.5h0.7v0.7h-0.7zM85.5 514.8h0.7v0.7h-0.7zM90.7 499.8h0.7v0.7h-0.7zM78.2 494.4h0.7v0.7h-0.7zM82.9 495.5h0.7v0.7h-0.7zM78.8 493.9h0.7v0.7h-0.7zM78.7 491.8h0.7v0.7h-0.7zM85.4 497.3h0.7v0.7h-0.7zM83.1 512.9h0.7v0.7h-0.7zM77.3 494.1h0.7v0.7h-0.7zM75.8 493.5h0.7v0.7h-0.7zM79.6 493.8h0.7v0.7h-0.7zM67.6 495.9h0.7v0.7h-0.7zM88.9 501.9h0.7v0.7h-0.7zM77.8 516.0h0.7v0.7h-0.7zM82.8 514.8h0.7v0.7h-0.7zM79.6 516.0h0.7v0.7h-0.7zM71.6 493.8h0.7v0.7h-0.7zM59.8 506.4h0.7v0.7h-0.7zM62.8 514.2h0.7v0.7h-0.7zM65.7 498.0h0.7v0.7h-0.7zM84.9 494.8h0.7v0.7h-0.7zM83.7 512.5h0.7v0.7h-0.7zM83.3 492.6h0.7v0.7h-0.7zM88.4 498.0h0.7v0.7h-0.7zM87.4 508.4h0.7v0.7h-0.7zM66.6 497.4h0.7v0.7h-0.7zM60.4 508.8h0.7v0.7h-0.7zM61.4 501.7h0.7v0.7h-0.7zM87.4 508.8h0.7v0.7h-0.7zM79.3 516.9h0.7v0.7h-0.7zM88.6 510.8h0.7v0.7h-0.7zM89.5 496.5h0.7v0.7h-0.7zM82.9 496.3h0.7v0.7h-0.7zM83.9 512.1h0.7v0.7h-0.7zM58.8 502.0h0.7v0.7h-0.7zM88.6 504.3h0.7v0.7h-0.7zM61.5 498.9h0.7v0.7h-0.7zM88.1 508.5h0.7v0.7h-0.7zM61.0 509.0h0.7v0.7h-0.7zM77.1 490.5h0.7v0.7h-0.7zM75.2 494.1h0.7v0.7h-0.7zM58.8 505.3h0.7v0.7h-0.7zM59.9 508.7h0.7v0.7h-0.7zM65.9 515.0h0.7v0.7h-0.7zM73.3 492.5h0.7v0.7h-0.7zM88.7 496.1h0.7v0.7h-0.7zM77.0 493.4h0.7v0.7h-0.7zM60.1 508.5h0.7v0.7h-0.7zM75.9 493.9h0.7v0.7h-0.7zM88.5 503.0h0.7v0.7h-0.7zM83.0 494.8h0.7v0.7h-0.7zM62.5 501.4h0.7v0.7h-0.7zM64.9 515.3h0.7v0.7h-0.7zM67.0 495.7h0.7v0.7h-0.7zM85.1 496.2h0.7v0.7h-0.7zM61.3 511.6h0.7v0.7h-0.7zM91.6 500.4h0.7v0.7h-0.7zM87.5 500.3h0.7v0.7h-0.7zM88.0 504.3h0.7v0.7h-0.7zM60.6 508.3h0.7v0.7h-0.7zM62.3 498.9h0.7v0.7h-0.7zM67.3 496.0h0.7v0.7h-0.7zM67.9 516.4h0.7v0.7h-0.7zM84.2 512.1h0.7v0.7h-0.7zM76.6 517.3h0.7v0.7h-0.7zM60.4 505.3h0.7v0.7h-0.7zM77.4 493.5h0.7v0.7h-0.7zM63.3 515.0h0.7v0.7h-0.7zM61.0 505.4h0.7v0.7h-0.7zM85.8 497.8h0.7v0.7h-0.7zM89.5 508.1h0.7v0.7h-0.7zM71.2 517.7h0.7v0.7h-0.7zM85.4 496.9h0.7v0.7h-0.7zM62.7 511.2h0.7v0.7h-0.7zM63.5 499.0h0.7v0.7h-0.7zM79.3 491.9h0.7v0.7h-0.7zM82.1 513.7h0.7v0.7h-0.7zM62.2 510.0h0.7v0.7h-0.7zM68.1 515.9h0.7v0.7h-0.7zM87.8 502.0h0.7v0.7h-0.7zM91.3 499.0h0.7v0.7h-0.7zM70.0 490.4h0.7v0.7h-0.7zM88.9 504.5h0.7v0.7h-0.7zM74.4 516.2h0.7v0.7h-0.7zM69.7 495.6h0.7v0.7h-0.7zM89.5 502.5h0.7v0.7h-0.7zM70.8 515.7h0.7v0.7h-0.7zM87.4 508.9h0.7v0.7h-0.7zM62.0 515.4h0.7v0.7h-0.7zM76.3 517.1h0.7v0.7h-0.7zM65.6 516.8h0.7v0.7h-0.7zM82.2 514.3h0.7v0.7h-0.7zM90.0 507.8h0.7v0.7h-0.7zM87.3 496.1h0.7v0.7h-0.7zM61.6 510.3h0.7v0.7h-0.7zM84.4 496.9h0.7v0.7h-0.7zM72.8 495.0h0.7v0.7h-0.7zM85.8 514.1h0.7v0.7h-0.7zM61.2 509.2h0.7v0.7h-0.7zM77.0 517.1h0.7v0.7h-0.7zM61.4 505.2h0.7v0.7h-0.7zM86.2 509.8h0.7v0.7h-0.7zM75.9 493.1h0.7v0.7h-0.7zM65.3 497.8h0.7v0.7h-0.7zM76.4 515.9h0.7v0.7h-0.7zM72.3 493.7h0.7v0.7h-0.7zM70.3 493.7h0.7v0.7h-0.7zM76.4 515.9h0.7v0.7h-0.7zM88.3 498.4h0.7v0.7h-0.7zM65.8 516.3h0.7v0.7h-0.7zM61.5 502.8h0.7v0.7h-0.7zM73.1 493.2h0.7v0.7h-0.7zM74.9 515.8h0.7v0.7h-0.7zM59.7 507.2h0.7v0.7h-0.7zM86.8 512.9h0.7v0.7h-0.7zM90.1 504.2h0.7v0.7h-0.7zM82.9 515.1h0.7v0.7h-0.7zM67.2 496.5h0.7v0.7h-0.7zM67.3 496.7h0.7v0.7h-0.7zM85.6 513.2h0.7v0.7h-0.7zM61.3 505.1h0.7v0.7h-0.7zM61.2 507.6h0.7v0.7h-0.7zM90.2 499.8h0.7v0.7h-0.7zM63.2 499.9h0.7v0.7h-0.7zM93.2 504.7h0.7v0.7h-0.7zM64.2 497.6h0.7v0.7h-0.7zM72.5 517.5h0.7v0.7h-0.7zM87.0 497.7h0.7v0.7h-0.7zM81.3 494.0h0.7v0.7h-0.7zM60.2 506.1h0.7v0.7h-0.7zM70.8 516.0h0.7v0.7h-0.7zM88.3 501.5h0.7v0.7h-0.7zM68.5 517.0h0.7v0.7h-0.7zM71.5 516.3h0.7v0.7h-0.7zM59.9 499.9h0.7v0.7h-0.7zM87.4 509.6h0.7v0.7h-0.7zM83.5 494.6h0.7v0.7h-0.7zM72.1 493.2h0.7v0.7h-0.7zM82.0 513.8h0.7v0.7h-0.7zM72.0 495.0h0.7v0.7h-0.7zM75.7 494.4h0.7v0.7h-0.7zM88.6 508.8h0.7v0.7h-0.7zM66.1 497.7h0.7v0.7h-0.7zM62.7 500.6h0.7v0.7h-0.7zM83.7 495.0h0.7v0.7h-0.7zM74.9 518.5h0.7v0.7h-0.7zM90.6 503.1h0.7v0.7h-0.7zM82.0 514.7h0.7v0.7h-0.7zM81.7 495.1h0.7v0.7h-0.7zM78.1 494.6h0.7v0.7h-0.7zM70.3 515.5h0.7v0.7h-0.7zM72.4 515.7h0.7v0.7h-0.7zM60.1 511.3h0.7v0.7h-0.7zM87.2 507.7h0.7v0.7h-0.7zM89.3 502.3h0.7v0.7h-0.7zM69.9 494.8h0.7v0.7h-0.7zM85.4 495.2h0.7v0.7h-0.7zM79.7 515.8h0.7v0.7h-0.7zM82.0 518.1h0.7v0.7h-0.7zM87.6 500.5h0.7v0.7h-0.7zM78.5 515.6h0.7v0.7h-0.7zM67.3 515.6h0.7v0.7h-0.7zM74.1 517.1h0.7v0.7h-0.7zM62.2 510.2h0.7v0.7h-0.7zM87.4 508.1h0.7v0.7h-0.7zM79.2 494.5h0.7v0.7h-0.7zM77.6 515.1h0.7v0.7h-0.7zM68.1 515.3h0.7v0.7h-0.7zM87.6 499.3h0.7v0.7h-0.7zM71.7 494.3h0.7v0.7h-0.7zM78.4 515.0h0.7v0.7h-0.7zM83.4 492.0h0.7v0.7h-0.7zM88.5 505.0h0.7v0.7h-0.7zM76.5 492.2h0.7v0.7h-0.7zM59.9 502.5h0.7v0.7h-0.7zM60.4 502.4h0.7v0.7h-0.7zM61.6 508.9h0.7v0.7h-0.7zM66.1 515.1h0.7v0.7h-0.7zM60.5 497.8h0.7v0.7h-0.7zM85.4 494.2h0.7v0.7h-0.7zM75.9 517.0h0.7v0.7h-0.7zM61.4 510.8h0.7v0.7h-0.7zM89.9 508.1h0.7v0.7h-0.7zM64.9 516.5h0.7v0.7h-0.7zM83.7 495.1h0.7v0.7h-0.7zM86.0 496.9h0.7v0.7h-0.7zM89.7 500.1h0.7v0.7h-0.7zM86.7 499.6h0.7v0.7h-0.7zM71.6 516.1h0.7v0.7h-0.7zM83.3 495.8h0.7v0.7h-0.7zM59.6 503.6h0.7v0.7h-0.7zM84.8 496.0h0.7v0.7h-0.7zM59.4 507.2h0.7v0.7h-0.7zM69.5 515.8h0.7v0.7h-0.7zM88.3 500.1h0.7v0.7h-0.7zM88.5 508.6h0.7v0.7h-0.7zM63.0 498.3h0.7v0.7h-0.7zM80.1 514.7h0.7v0.7h-0.7zM65.6 513.9h0.7v0.7h-0.7zM62.2 512.3h0.7v0.7h-0.7zM85.7 510.1h0.7v0.7h-0.7zM89.1 509.8h0.7v0.7h-0.7zM80.8 494.5h0.7v0.7h-0.7zM74.3 494.3h0.7v0.7h-0.7zM66.7 514.3h0.7v0.7h-0.7zM82.3 513.1h0.7v0.7h-0.7zM87.6 497.8h0.7v0.7h-0.7zM62.3 502.2h0.7v0.7h-0.7zM88.9 508.7h0.7v0.7h-0.7zM61.7 498.4h0.7v0.7h-0.7zM70.8 516.3h0.7v0.7h-0.7zM61.9 511.7h0.7v0.7h-0.7zM75.4 494.0h0.7v0.7h-0.7zM88.6 500.9h0.7v0.7h-0.7zM80.0 514.4h0.7v0.7h-0.7zM59.4 503.7h0.7v0.7h-0.7zM76.7 515.8h0.7v0.7h-0.7zM61.9 512.6h0.7v0.7h-0.7zM76.8 518.0h0.7v0.7h-0.7zM67.5 515.9h0.7v0.7h-0.7zM61.1 507.3h0.7v0.7h-0.7zM86.3 498.7h0.7v0.7h-0.7zM85.6 494.3h0.7v0.7h-0.7zM61.1 508.8h0.7v0.7h-0.7zM60.7 504.8h0.7v0.7h-0.7zM80.6 494.5h0.7v0.7h-0.7zM79.3 494.3h0.7v0.7h-0.7zM85.6 513.6h0.7v0.7h-0.7zM60.1 507.5h0.7v0.7h-0.7zM73.0 516.7h0.7v0.7h-0.7zM65.7 497.2h0.7v0.7h-0.7zM76.4 493.9h0.7v0.7h-0.7zM88.0 511.5h0.7v0.7h-0.7zM75.1 516.6h0.7v0.7h-0.7zM85.1 495.3h0.7v0.7h-0.7zM62.6 511.8h0.7v0.7h-0.7zM88.0 505.6h0.7v0.7h-0.7zM61.1 505.5h0.7v0.7h-0.7zM84.8 497.1h0.7v0.7h-0.7zM89.3 506.8h0.7v0.7h-0.7zM65.9 495.5h0.7v0.7h-0.7zM80.0 515.9h0.7v0.7h-0.7zM78.6 494.6h0.7v0.7h-0.7zM61.8 513.9h0.7v0.7h-0.7zM91.3 506.5h0.7v0.7h-0.7zM60.4 500.7h0.7v0.7h-0.7zM75.9 516.6h0.7v0.7h-0.7zM84.3 513.5h0.7v0.7h-0.7zM68.0 515.8h0.7v0.7h-0.7zM80.5 514.3h0.7v0.7h-0.7zM63.8 495.4h0.7v0.7h-0.7zM70.3 515.5h0.7v0.7h-0.7zM72.6 491.0h0.7v0.7h-0.7zM87.4 496.1h0.7v0.7h-0.7zM81.9 514.6h0.7v0.7h-0.7zM60.6 510.3h0.7v0.7h-0.7zM62.1 502.0h0.7v0.7h-0.7zM64.4 498.2h0.7v0.7h-0.7zM78.9 494.0h0.7v0.7h-0.7zM76.7 515.9h0.7v0.7h-0.7zM62.2 500.8h0.7v0.7h-0.7zM72.3 516.3h0.7v0.7h-0.7zM67.6 496.8h0.7v0.7h-0.7zM85.8 512.8h0.7v0.7h-0.7zM65.6 519.2h0.7v0.7h-0.7zM60.2 511.3h0.7v0.7h-0.7zM79.7 495.1h0.7v0.7h-0.7zM85.5 512.1h0.7v0.7h-0.7zM65.4 514.5h0.7v0.7h-0.7zM70.1 517.2h0.7v0.7h-0.7zM85.6 510.7h0.7v0.7h-0.7zM84.2 514.9h0.7v0.7h-0.7zM88.2 501.7h0.7v0.7h-0.7zM88.7 502.4h0.7v0.7h-0.7zM79.4 492.9h0.7v0.7h-0.7zM60.7 508.0h0.7v0.7h-0.7zM64.3 513.0h0.7v0.7h-0.7zM72.4 495.0h0.7v0.7h-0.7zM80.5 494.1h0.7v0.7h-0.7zM80.0 494.9h0.7v0.7h-0.7zM81.9 515.1h0.7v0.7h-0.7zM90.2 501.1h0.7v0.7h-0.7zM87.9 501.6h0.7v0.7h-0.7zM88.8 502.9h0.7v0.7h-0.7zM87.6 510.8h0.7v0.7h-0.7zM72.4 491.8h0.7v0.7h-0.7zM83.1 514.3h0.7v0.7h-0.7zM84.6 512.9h0.7v0.7h-0.7zM88.2 506.2h0.7v0.7h-0.7zM89.4 504.8h0.7v0.7h-0.7zM89.2 500.2h0.7v0.7h-0.7zM63.2 512.0h0.7v0.7h-0.7zM60.5 504.4h0.7v0.7h-0.7zM86.4 497.0h0.7v0.7h-0.7zM87.1 499.6h0.7v0.7h-0.7zM88.9 498.8h0.7v0.7h-0.7zM71.8 517.4h0.7v0.7h-0.7zM66.4 497.6h0.7v0.7h-0.7zM88.6 509.1h0.7v0.7h-0.7zM81.0 515.2h0.7v0.7h-0.7zM88.9 499.9h0.7v0.7h-0.7zM74.9 493.6h0.7v0.7h-0.7zM71.3 516.3h0.7v0.7h-0.7zM74.6 492.5h0.7v0.7h-0.7zM70.8 516.6h0.7v0.7h-0.7zM61.0 512.1h0.7v0.7h-0.7zM59.3 510.7h0.7v0.7h-0.7zM85.4 512.0h0.7v0.7h-0.7zM80.4 515.4h0.7v0.7h-0.7zM80.9 515.2h0.7v0.7h-0.7zM86.1 498.1h0.7v0.7h-0.7zM73.8 493.3h0.7v0.7h-0.7zM73.9 516.6h0.7v0.7h-0.7zM68.6 495.9h0.7v0.7h-0.7zM68.2 515.8h0.7v0.7h-0.7zM72.2 515.9h0.7v0.7h-0.7zM60.8 508.5h0.7v0.7h-0.7zM87.6 509.5h0.7v0.7h-0.7zM61.4 507.6h0.7v0.7h-0.7zM89.2 500.9h0.7v0.7h-0.7zM62.7 499.8h0.7v0.7h-0.7zM74.4 516.7h0.7v0.7h-0.7zM88.7 509.1h0.7v0.7h-0.7zM76.3 494.4h0.7v0.7h-0.7zM91.0 508.2h0.7v0.7h-0.7zM67.5 515.3h0.7v0.7h-0.7zM70.1 494.9h0.7v0.7h-0.7zM82.9 513.7h0.7v0.7h-0.7zM75.0 494.2h0.7v0.7h-0.7zM89.8 502.0h0.7v0.7h-0.7zM61.0 502.4h0.7v0.7h-0.7zM81.5 513.9h0.7v0.7h-0.7zM86.5 497.5h0.7v0.7h-0.7zM70.9 516.3h0.7v0.7h-0.7zM69.0 516.0h0.7v0.7h-0.7zM88.2 499.4h0.7v0.7h-0.7zM89.4 503.3h0.7v0.7h-0.7zM61.6 500.3h0.7v0.7h-0.7zM69.8 515.6h0.7v0.7h-0.7zM85.4 512.7h0.7v0.7h-0.7zM85.2 497.0h0.7v0.7h-0.7zM87.9 496.9h0.7v0.7h-0.7zM82.9 512.7h0.7v0.7h-0.7zM67.5 517.5h0.7v0.7h-0.7zM86.0 496.9h0.7v0.7h-0.7zM89.0 500.6h0.7v0.7h-0.7zM59.9 506.5h0.7v0.7h-0.7zM64.1 498.1h0.7v0.7h-0.7zM61.0 509.1h0.7v0.7h-0.7zM68.9 493.8h0.7v0.7h-0.7zM73.2 494.5h0.7v0.7h-0.7zM76.5 492.6h0.7v0.7h-0.7zM72.0 494.4h0.7v0.7h-0.7zM90.0 503.0h0.7v0.7h-0.7zM87.9 500.3h0.7v0.7h-0.7zM61.8 501.1h0.7v0.7h-0.7zM70.8 518.0h0.7v0.7h-0.7zM81.8 494.8h0.7v0.7h-0.7zM88.6 500.9h0.7v0.7h-0.7zM59.4 507.3h0.7v0.7h-0.7zM86.7 513.7h0.7v0.7h-0.7zM88.0 500.5h0.7v0.7h-0.7zM79.3 494.3h0.7v0.7h-0.7zM82.2 515.3h0.7v0.7h-0.7zM70.4 516.3h0.7v0.7h-0.7zM92.1 502.6h0.7v0.7h-0.7zM74.9 494.2h0.7v0.7h-0.7zM86.2 512.9h0.7v0.7h-0.7zM68.6 515.0h0.7v0.7h-0.7zM83.6 513.4h0.7v0.7h-0.7zM61.2 509.5h0.7v0.7h-0.7zM84.5 512.7h0.7v0.7h-0.7zM80.4 515.4h0.7v0.7h-0.7zM69.1 516.1h0.7v0.7h-0.7zM85.3 511.6h0.7v0.7h-0.7zM89.0 507.3h0.7v0.7h-0.7zM72.4 518.0h0.7v0.7h-0.7zM86.2 510.5h0.7v0.7h-0.7zM60.4 510.5h0.7v0.7h-0.7zM89.2 500.1h0.7v0.7h-0.7zM68.4 495.6h0.7v0.7h-0.7zM83.5 512.8h0.7v0.7h-0.7zM84.8 494.6h0.7v0.7h-0.7zM74.1 493.6h0.7v0.7h-0.7zM80.0 493.8h0.7v0.7h-0.7zM68.1 515.6h0.7v0.7h-0.7zM63.3 497.1h0.7v0.7h-0.7zM63.0 511.8h0.7v0.7h-0.7zM80.5 494.3h0.7v0.7h-0.7zM63.3 512.9h0.7v0.7h-0.7zM78.3 515.3h0.7v0.7h-0.7zM64.9 513.5h0.7v0.7h-0.7zM63.1 512.4h0.7v0.7h-0.7zM66.2 497.3h0.7v0.7h-0.7zM85.2 510.9h0.7v0.7h-0.7zM88.8 507.5h0.7v0.7h-0.7zM91.4 501.5h0.7v0.7h-0.7zM66.7 496.1h0.7v0.7h-0.7zM87.2 497.3h0.7v0.7h-0.7zM61.8 511.8h0.7v0.7h-0.7zM60.9 504.8h0.7v0.7h-0.7zM61.3 502.2h0.7v0.7h-0.7zM76.6 491.5h0.7v0.7h-0.7zM62.4 501.1h0.7v0.7h-0.7zM80.8 514.8h0.7v0.7h-0.7zM81.5 495.4h0.7v0.7h-0.7zM72.8 494.1h0.7v0.7h-0.7zM84.1 495.8h0.7v0.7h-0.7zM61.3 512.9h0.7v0.7h-0.7zM63.0 513.1h0.7v0.7h-0.7zM86.4 510.2h0.7v0.7h-0.7zM81.9 514.2h0.7v0.7h-0.7zM61.3 506.1h0.7v0.7h-0.7zM61.2 511.7h0.7v0.7h-0.7zM87.0 497.5h0.7v0.7h-0.7zM79.5 494.2h0.7v0.7h-0.7zM85.7 498.0h0.7v0.7h-0.7zM77.1 494.6h0.7v0.7h-0.7zM74.6 494.2h0.7v0.7h-0.7zM63.7 496.7h0.7v0.7h-0.7zM81.4 516.2h0.7v0.7h-0.7zM77.8 516.1h0.7v0.7h-0.7zM60.8 505.9h0.7v0.7h-0.7zM62.8 499.5h0.7v0.7h-0.7zM86.6 512.4h0.7v0.7h-0.7zM63.2 500.5h0.7v0.7h-0.7zM85.6 496.4h0.7v0.7h-0.7zM85.9 510.2h0.7v0.7h-0.7zM85.1 497.4h0.7v0.7h-0.7zM61.1 510.1h0.7v0.7h-0.7zM66.9 495.9h0.7v0.7h-0.7zM59.9 505.4h0.7v0.7h-0.7zM80.3 515.0h0.7v0.7h-0.7zM61.0 507.5h0.7v0.7h-0.7zM85.3 511.9h0.7v0.7h-0.7zM88.9 503.1h0.7v0.7h-0.7zM63.8 498.1h0.7v0.7h-0.7zM60.6 512.4h0.7v0.7h-0.7zM86.3 496.6h0.7v0.7h-0.7zM76.7 491.7h0.7v0.7h-0.7zM74.8 516.5h0.7v0.7h-0.7zM63.7 499.4h0.7v0.7h-0.7zM64.8 515.0h0.7v0.7h-0.7zM82.6 513.2h0.7v0.7h-0.7zM62.1 502.1h0.7v0.7h-0.7zM86.6 511.3h0.7v0.7h-0.7zM61.9 500.1h0.7v0.7h-0.7zM79.5 493.7h0.7v0.7h-0.7zM86.3 498.9h0.7v0.7h-0.7zM88.1 497.6h0.7v0.7h-0.7zM60.4 503.7h0.7v0.7h-0.7zM70.7 515.6h0.7v0.7h-0.7zM67.5 514.7h0.7v0.7h-0.7zM82.7 514.2h0.7v0.7h-0.7zM88.0 509.6h0.7v0.7h-0.7zM77.0 494.2h0.7v0.7h-0.7zM69.3 493.0h0.7v0.7h-0.7zM87.6 510.0h0.7v0.7h-0.7zM65.2 497.9h0.7v0.7h-0.7zM85.0 511.2h0.7v0.7h-0.7zM89.9 503.5h0.7v0.7h-0.7zM85.2 493.5h0.7v0.7h-0.7zM85.1 511.7h0.7v0.7h-0.7zM81.7 495.8h0.7v0.7h-0.7zM70.2 516.7h0.7v0.7h-0.7zM63.5 512.9h0.7v0.7h-0.7zM63.8 499.2h0.7v0.7h-0.7zM63.9 512.6h0.7v0.7h-0.7zM69.3 495.6h0.7v0.7h-0.7zM74.1 517.6h0.7v0.7h-0.7zM88.2 504.1h0.7v0.7h-0.7zM85.3 495.3h0.7v0.7h-0.7zM60.9 501.9h0.7v0.7h-0.7zM72.3 494.3h0.7v0.7h-0.7zM89.6 499.6h0.7v0.7h-0.7zM60.9 506.0h0.7v0.7h-0.7zM76.5 515.8h0.7v0.7h-0.7zM63.8 512.7h0.7v0.7h-0.7zM86.6 497.2h0.7v0.7h-0.7zM80.4 514.8h0.7v0.7h-0.7zM67.0 514.4h0.7v0.7h-0.7zM61.2 499.3h0.7v0.7h-0.7zM87.4 499.0h0.7v0.7h-0.7zM62.7 499.8h0.7v0.7h-0.7zM86.4 497.9h0.7v0.7h-0.7zM80.1 492.3h0.7v0.7h-0.7zM88.8 503.7h0.7v0.7h-0.7zM66.5 496.6h0.7v0.7h-0.7zM75.6 494.4h0.7v0.7h-0.7zM66.4 515.2h0.7v0.7h-0.7zM84.5 512.8h0.7v0.7h-0.7zM59.0 504.0h0.7v0.7h-0.7zM61.3 504.8h0.7v0.7h-0.7zM83.3 514.4h0.7v0.7h-0.7zM86.9 499.5h0.7v0.7h-0.7zM59.5 503.7h0.7v0.7h-0.7zM80.2 514.2h0.7v0.7h-0.7zM65.6 497.7h0.7v0.7h-0.7zM77.7 494.8h0.7v0.7h-0.7zM62.5 512.5h0.7v0.7h-0.7zM73.9 515.7h0.7v0.7h-0.7zM76.1 516.5h0.7v0.7h-0.7zM63.6 514.3h0.7v0.7h-0.7zM87.7 510.7h0.7v0.7h-0.7zM86.6 512.4h0.7v0.7h-0.7zM64.8 498.0h0.7v0.7h-0.7zM83.5 512.9h0.7v0.7h-0.7zM91.3 505.7h0.7v0.7h-0.7zM70.6 494.6h0.7v0.7h-0.7zM70.4 517.4h0.7v0.7h-0.7zM71.1 493.7h0.7v0.7h-0.7zM62.7 499.8h0.7v0.7h-0.7zM64.6 496.8h0.7v0.7h-0.7zM60.2 509.2h0.7v0.7h-0.7zM62.7 513.2h0.7v0.7h-0.7zM66.2 496.5h0.7v0.7h-0.7zM80.8 514.0h0.7v0.7h-0.7zM71.9 492.9h0.7v0.7h-0.7zM81.9 514.5h0.7v0.7h-0.7zM62.2 511.6h0.7v0.7h-0.7zM68.3 515.6h0.7v0.7h-0.7zM74.7 516.3h0.7v0.7h-0.7zM61.1 507.2h0.7v0.7h-0.7zM87.4 508.6h0.7v0.7h-0.7zM81.3 495.1h0.7v0.7h-0.7zM71.2 516.0h0.7v0.7h-0.7zM63.3 499.7h0.7v0.7h-0.7zM88.4 507.3h0.7v0.7h-0.7zM74.7 517.2h0.7v0.7h-0.7zM65.0 498.6h0.7v0.7h-0.7zM85.2 497.2h0.7v0.7h-0.7zM83.2 495.2h0.7v0.7h-0.7zM67.5 518.2h0.7v0.7h-0.7zM88.2 512.1h0.7v0.7h-0.7zM66.0 496.3h0.7v0.7h-0.7zM86.1 509.4h0.7v0.7h-0.7zM59.2 511.7h0.7v0.7h-0.7zM64.1 498.1h0.7v0.7h-0.7zM75.8 493.6h0.7v0.7h-0.7zM61.0 503.3h0.7v0.7h-0.7zM86.8 513.3h0.7v0.7h-0.7zM82.3 514.4h0.7v0.7h-0.7zM72.7 516.4h0.7v0.7h-0.7zM93.8 501.1h0.7v0.7h-0.7zM63.0 514.4h0.7v0.7h-0.7zM80.2 515.7h0.7v0.7h-0.7zM89.7 504.0h0.7v0.7h-0.7zM83.9 513.7h0.7v0.7h-0.7zM68.0 496.5h0.7v0.7h-0.7zM88.2 512.2h0.7v0.7h-0.7zM72.3 493.9h0.7v0.7h-0.7zM64.0 498.6h0.7v0.7h-0.7zM84.6 512.0h0.7v0.7h-0.7zM62.2 511.6h0.7v0.7h-0.7zM59.6 508.4h0.7v0.7h-0.7zM88.4 507.8h0.7v0.7h-0.7zM65.6 514.1h0.7v0.7h-0.7zM77.4 493.4h0.7v0.7h-0.7zM62.2 511.2h0.7v0.7h-0.7zM80.2 494.5h0.7v0.7h-0.7zM79.4 514.5h0.7v0.7h-0.7zM69.3 515.8h0.7v0.7h-0.7zM83.6 496.8h0.7v0.7h-0.7zM79.6 494.5h0.7v0.7h-0.7zM68.1 516.1h0.7v0.7h-0.7zM87.6 497.9h0.7v0.7h-0.7zM67.3 515.1h0.7v0.7h-0.7zM71.5 493.5h0.7v0.7h-0.7zM92.1 498.3h0.7v0.7h-0.7zM61.1 500.4h0.7v0.7h-0.7zM80.8 515.0h0.7v0.7h-0.7zM60.9 507.5h0.7v0.7h-0.7zM77.4 491.5h0.7v0.7h-0.7zM87.8 509.5h0.7v0.7h-0.7zM74.1 493.1h0.7v0.7h-0.7zM84.8 511.9h0.7v0.7h-0.7zM63.4 512.4h0.7v0.7h-0.7zM67.2 515.6h0.7v0.7h-0.7zM59.8 507.3h0.7v0.7h-0.7zM86.7 509.8h0.7v0.7h-0.7zM68.5 496.4h0.7v0.7h-0.7zM88.0 504.7h0.7v0.7h-0.7zM75.1 494.8h0.7v0.7h-0.7zM86.2 499.0h0.7v0.7h-0.7zM60.4 511.1h0.7v0.7h-0.7zM72.7 493.8h0.7v0.7h-0.7zM61.0 509.5h0.7v0.7h-0.7zM83.6 513.8h0.7v0.7h-0.7zM85.0 511.3h0.7v0.7h-0.7zM61.5 502.0h0.7v0.7h-0.7zM60.9 505.8h0.7v0.7h-0.7zM79.2 515.8h0.7v0.7h-0.7zM69.6 495.4h0.7v0.7h-0.7zM61.1 501.2h0.7v0.7h-0.7zM73.2 495.0h0.7v0.7h-0.7zM69.4 515.6h0.7v0.7h-0.7zM88.4 496.2h0.7v0.7h-0.7zM72.3 493.6h0.7v0.7h-0.7zM87.9 508.2h0.7v0.7h-0.7zM73.0 515.9h0.7v0.7h-0.7zM75.6 492.1h0.7v0.7h-0.7zM63.9 499.7h0.7v0.7h-0.7zM63.1 498.3h0.7v0.7h-0.7zM67.0 516.5h0.7v0.7h-0.7zM82.7 496.0h0.7v0.7h-0.7zM60.0 508.5h0.7v0.7h-0.7zM76.6 516.2h0.7v0.7h-0.7zM84.5 512.9h0.7v0.7h-0.7zM86.7 509.7h0.7v0.7h-0.7zM70.8 518.0h0.7v0.7h-0.7zM63.3 513.0h0.7v0.7h-0.7zM78.4 516.2h0.7v0.7h-0.7zM63.5 500.4h0.7v0.7h-0.7zM74.1 517.4h0.7v0.7h-0.7zM74.2 517.4h0.7v0.7h-0.7zM79.8 516.2h0.7v0.7h-0.7zM83.4 495.6h0.7v0.7h-0.7zM78.2 493.2h0.7v0.7h-0.7zM75.6 494.3h0.7v0.7h-0.7zM60.7 502.9h0.7v0.7h-0.7zM86.9 510.2h0.7v0.7h-0.7zM66.1 497.4h0.7v0.7h-0.7zM90.3 506.1h0.7v0.7h-0.7zM62.9 514.9h0.7v0.7h-0.7zM72.6 494.8h0.7v0.7h-0.7zM80.7 514.0h0.7v0.7h-0.7zM84.8 511.7h0.7v0.7h-0.7zM85.9 497.9h0.7v0.7h-0.7zM88.0 497.3h0.7v0.7h-0.7zM73.7 493.4h0.7v0.7h-0.7zM64.7 513.6h0.7v0.7h-0.7zM84.1 512.2h0.7v0.7h-0.7zM73.4 493.2h0.7v0.7h-0.7zM61.7 509.3h0.7v0.7h-0.7zM86.9 510.5h0.7v0.7h-0.7zM69.3 494.5h0.7v0.7h-0.7zM87.3 500.9h0.7v0.7h-0.7zM67.1 515.2h0.7v0.7h-0.7zM74.4 516.4h0.7v0.7h-0.7zM77.2 516.7h0.7v0.7h-0.7zM62.0 509.9h0.7v0.7h-0.7zM80.0 494.0h0.7v0.7h-0.7zM59.3 507.6h0.7v0.7h-0.7zM89.5 497.7h0.7v0.7h-0.7zM66.5 516.5h0.7v0.7h-0.7zM81.6 514.3h0.7v0.7h-0.7zM88.8 510.9h0.7v0.7h-0.7zM73.3 516.0h0.7v0.7h-0.7zM68.5 496.0h0.7v0.7h-0.7zM65.1 514.2h0.7v0.7h-0.7zM83.5 492.4h0.7v0.7h-0.7zM80.4 515.5h0.7v0.7h-0.7zM89.0 507.4h0.7v0.7h-0.7zM86.9 498.9h0.7v0.7h-0.7zM89.1 506.1h0.7v0.7h-0.7zM60.8 509.0h0.7v0.7h-0.7zM68.4 496.2h0.7v0.7h-0.7zM59.5 507.4h0.7v0.7h-0.7zM84.2 493.3h0.7v0.7h-0.7zM61.9 512.3h0.7v0.7h-0.7zM63.2 514.4h0.7v0.7h-0.7zM62.6 510.7h0.7v0.7h-0.7zM87.3 509.3h0.7v0.7h-0.7zM60.7 497.6h0.7v0.7h-0.7zM75.5 517.7h0.7v0.7h-0.7zM80.7 514.6h0.7v0.7h-0.7zM78.5 494.5h0.7v0.7h-0.7zM68.5 515.7h0.7v0.7h-0.7zM68.1 495.9h0.7v0.7h-0.7zM81.5 513.8h0.7v0.7h-0.7zM85.5 498.2h0.7v0.7h-0.7zM63.1 514.2h0.7v0.7h-0.7zM77.9 515.6h0.7v0.7h-0.7zM86.7 496.4h0.7v0.7h-0.7zM82.3 495.8h0.7v0.7h-0.7zM65.5 497.9h0.7v0.7h-0.7zM72.5 516.3h0.7v0.7h-0.7zM80.3 515.3h0.7v0.7h-0.7zM83.9 496.8h0.7v0.7h-0.7zM80.6 515.2h0.7v0.7h-0.7zM70.8 516.5h0.7v0.7h-0.7zM67.8 493.9h0.7v0.7h-0.7zM68.4 515.1h0.7v0.7h-0.7zM79.9 494.4h0.7v0.7h-0.7zM87.3 497.9h0.7v0.7h-0.7zM85.8 498.1h0.7v0.7h-0.7zM83.4 494.3h0.7v0.7h-0.7zM78.8 515.6h0.7v0.7h-0.7zM78.6 494.0h0.7v0.7h-0.7zM64.5 516.7h0.7v0.7h-0.7zM65.7 515.0h0.7v0.7h-0.7zM89.6 502.9h0.7v0.7h-0.7zM72.7 517.0h0.7v0.7h-0.7zM86.4 496.6h0.7v0.7h-0.7zM79.1 515.5h0.7v0.7h-0.7zM70.6 494.8h0.7v0.7h-0.7zM86.2 498.8h0.7v0.7h-0.7zM74.4 517.1h0.7v0.7h-0.7zM62.3 513.8h0.7v0.7h-0.7zM77.5 493.1h0.7v0.7h-0.7zM69.6 495.1h0.7v0.7h-0.7zM82.6 495.7h0.7v0.7h-0.7zM61.1 509.5h0.7v0.7h-0.7zM84.2 512.1h0.7v0.7h-0.7zM67.3 516.0h0.7v0.7h-0.7zM87.2 508.0h0.7v0.7h-0.7zM75.6 516.9h0.7v0.7h-0.7zM80.1 514.7h0.7v0.7h-0.7zM87.9 511.3h0.7v0.7h-0.7zM61.2 507.7h0.7v0.7h-0.7zM78.3 494.6h0.7v0.7h-0.7zM73.1 495.0h0.7v0.7h-0.7zM88.0 507.2h0.7v0.7h-0.7zM83.7 494.4h0.7v0.7h-0.7zM61.6 502.3h0.7v0.7h-0.7zM64.3 497.3h0.7v0.7h-0.7zM61.7 510.4h0.7v0.7h-0.7zM72.9 494.1h0.7v0.7h-0.7zM60.7 508.6h0.7v0.7h-0.7zM63.2 513.5h0.7v0.7h-0.7zM88.2 500.0h0.7v0.7h-0.7zM79.7 514.6h0.7v0.7h-0.7zM77.8 494.7h0.7v0.7h-0.7zM86.8 509.1h0.7v0.7h-0.7zM86.0 496.3h0.7v0.7h-0.7zM87.6 512.2h0.7v0.7h-0.7zM61.5 508.8h0.7v0.7h-0.7zM69.1 493.4h0.7v0.7h-0.7zM76.7 515.3h0.7v0.7h-0.7zM69.6 517.7h0.7v0.7h-0.7zM88.3 500.9h0.7v0.7h-0.7zM80.6 495.0h0.7v0.7h-0.7zM68.4 494.3h0.7v0.7h-0.7zM82.3 495.7h0.7v0.7h-0.7zM79.0 515.5h0.7v0.7h-0.7zM63.7 514.0h0.7v0.7h-0.7zM77.8 494.5h0.7v0.7h-0.7zM72.9 516.4h0.7v0.7h-0.7zM91.2 500.8h0.7v0.7h-0.7zM60.9 503.2h0.7v0.7h-0.7zM80.9 494.9h0.7v0.7h-0.7zM80.9 516.1h0.7v0.7h-0.7zM60.9 510.9h0.7v0.7h-0.7zM65.4 494.5h0.7v0.7h-0.7zM82.5 494.6h0.7v0.7h-0.7zM60.0 507.5h0.7v0.7h-0.7zM89.1 509.0h0.7v0.7h-0.7zM67.8 515.0h0.7v0.7h-0.7zM80.1 495.1h0.7v0.7h-0.7zM59.3 502.7h0.7v0.7h-0.7zM78.0 516.9h0.7v0.7h-0.7zM76.3 516.4h0.7v0.7h-0.7zM59.9 511.1h0.7v0.7h-0.7zM62.5 512.5h0.7v0.7h-0.7zM79.6 515.1h0.7v0.7h-0.7zM80.5 516.8h0.7v0.7h-0.7zM91.8 502.2h0.7v0.7h-0.7zM89.1 508.6h0.7v0.7h-0.7zM77.2 492.9h0.7v0.7h-0.7zM89.7 503.0h0.7v0.7h-0.7zM62.4 516.3h0.7v0.7h-0.7zM88.7 501.3h0.7v0.7h-0.7zM68.4 494.2h0.7v0.7h-0.7zM86.5 511.4h0.7v0.7h-0.7zM88.9 501.0h0.7v0.7h-0.7zM89.2 503.0h0.7v0.7h-0.7zM88.2 507.9h0.7v0.7h-0.7zM60.9 507.9h0.7v0.7h-0.7zM70.4 495.5h0.7v0.7h-0.7zM66.9 495.5h0.7v0.7h-0.7zM79.6 494.7h0.7v0.7h-0.7zM60.3 502.7h0.7v0.7h-0.7zM67.7 496.5h0.7v0.7h-0.7zM77.3 515.3h0.7v0.7h-0.7zM67.2 516.1h0.7v0.7h-0.7zM75.0 517.1h0.7v0.7h-0.7zM60.4 503.5h0.7v0.7h-0.7zM65.8 493.7h0.7v0.7h-0.7zM83.1 495.7h0.7v0.7h-0.7zM75.7 494.3h0.7v0.7h-0.7zM83.2 514.3h0.7v0.7h-0.7zM83.0 493.9h0.7v0.7h-0.7zM61.6 503.3h0.7v0.7h-0.7zM74.3 515.9h0.7v0.7h-0.7zM87.4 510.9h0.7v0.7h-0.7zM88.4 506.6h0.7v0.7h-0.7zM60.9 508.5h0.7v0.7h-0.7zM76.9 494.0h0.7v0.7h-0.7zM89.2 501.1h0.7v0.7h-0.7zM83.3 514.2h0.7v0.7h-0.7zM63.4 512.6h0.7v0.7h-0.7zM66.3 514.5h0.7v0.7h-0.7zM77.4 515.3h0.7v0.7h-0.7zM70.8 494.7h0.7v0.7h-0.7zM68.8 516.5h0.7v0.7h-0.7zM69.0 496.1h0.7v0.7h-0.7zM67.5 514.7h0.7v0.7h-0.7zM88.1 501.2h0.7v0.7h-0.7zM76.9 515.3h0.7v0.7h-0.7zM89.5 503.3h0.7v0.7h-0.7zM59.0 505.5h0.7v0.7h-0.7zM80.4 516.0h0.7v0.7h-0.7zM90.2 505.7h0.7v0.7h-0.7zM64.2 498.9h0.7v0.7h-0.7zM68.1 493.3h0.7v0.7h-0.7zM77.5 493.8h0.7v0.7h-0.7zM71.9 494.0h0.7v0.7h-0.7zM80.4 514.1h0.7v0.7h-0.7zM83.0 496.2h0.7v0.7h-0.7zM80.8 515.5h0.7v0.7h-0.7zM70.5 494.4h0.7v0.7h-0.7zM72.6 494.0h0.7v0.7h-0.7zM67.6 514.9h0.7v0.7h-0.7zM82.6 514.9h0.7v0.7h-0.7zM70.5 495.2h0.7v0.7h-0.7zM89.0 505.7h0.7v0.7h-0.7zM64.9 516.9h0.7v0.7h-0.7zM86.8 499.5h0.7v0.7h-0.7zM60.2 501.4h0.7v0.7h-0.7zM67.6 515.0h0.7v0.7h-0.7zM72.6 517.5h0.7v0.7h-0.7zM84.6 511.8h0.7v0.7h-0.7zM71.6 515.7h0.7v0.7h-0.7zM59.8 507.6h0.7v0.7h-0.7zM89.4 501.1h0.7v0.7h-0.7zM75.6 491.7h0.7v0.7h-0.7zM70.1 515.7h0.7v0.7h-0.7zM82.7 513.7h0.7v0.7h-0.7zM62.7 514.8h0.7v0.7h-0.7zM78.9 493.2h0.7v0.7h-0.7zM90.5 502.0h0.7v0.7h-0.7zM80.2 494.4h0.7v0.7h-0.7zM80.2 494.5h0.7v0.7h-0.7zM75.8 517.1h0.7v0.7h-0.7zM80.0 492.8h0.7v0.7h-0.7zM87.4 508.8h0.7v0.7h-0.7zM78.2 516.7h0.7v0.7h-0.7zM64.0 516.8h0.7v0.7h-0.7zM84.0 512.9h0.7v0.7h-0.7zM83.2 512.8h0.7v0.7h-0.7zM90.2 502.6h0.7v0.7h-0.7zM87.1 499.9h0.7v0.7h-0.7zM83.5 496.0h0.7v0.7h-0.7zM79.4 493.4h0.7v0.7h-0.7zM87.4 498.4h0.7v0.7h-0.7zM90.6 501.5h0.7v0.7h-0.7zM87.5 497.8h0.7v0.7h-0.7zM64.7 514.0h0.7v0.7h-0.7zM79.3 492.1h0.7v0.7h-0.7zM61.1 501.3h0.7v0.7h-0.7zM87.3 496.6h0.7v0.7h-0.7zM85.0 496.8h0.7v0.7h-0.7zM69.0 515.9h0.7v0.7h-0.7zM60.0 508.7h0.7v0.7h-0.7zM82.2 496.0h0.7v0.7h-0.7zM89.4 500.2h0.7v0.7h-0.7zM86.1 509.6h0.7v0.7h-0.7zM59.9 505.6h0.7v0.7h-0.7zM65.1 498.0h0.7v0.7h-0.7zM78.5 493.4h0.7v0.7h-0.7zM69.3 495.6h0.7v0.7h-0.7zM82.7 513.4h0.7v0.7h-0.7zM88.7 506.7h0.7v0.7h-0.7zM77.6 516.3h0.7v0.7h-0.7zM63.1 514.9h0.7v0.7h-0.7zM87.2 510.2h0.7v0.7h-0.7zM63.9 499.7h0.7v0.7h-0.7zM81.6 494.8h0.7v0.7h-0.7zM79.2 494.0h0.7v0.7h-0.7zM81.4 495.1h0.7v0.7h-0.7zM86.7 497.4h0.7v0.7h-0.7zM90.5 506.9h0.7v0.7h-0.7zM87.8 506.4h0.7v0.7h-0.7zM83.6 513.4h0.7v0.7h-0.7zM90.3 509.9h0.7v0.7h-0.7zM62.1 499.8h0.7v0.7h-0.7zM87.3 497.2h0.7v0.7h-0.7zM82.8 496.0h0.7v0.7h-0.7zM84.0 496.3h0.7v0.7h-0.7zM77.6 517.7h0.7v0.7h-0.7zM63.9 516.1h0.7v0.7h-0.7zM73.8 494.5h0.7v0.7h-0.7zM87.3 511.1h0.7v0.7h-0.7zM62.9 499.5h0.7v0.7h-0.7zM89.5 503.8h0.7v0.7h-0.7zM88.5 500.6h0.7v0.7h-0.7zM79.1 515.5h0.7v0.7h-0.7zM75.4 492.9h0.7v0.7h-0.7zM88.0 505.1h0.7v0.7h-0.7zM65.6 517.1h0.7v0.7h-0.7zM80.7 514.6h0.7v0.7h-0.7zM89.0 505.7h0.7v0.7h-0.7zM88.2 504.9h0.7v0.7h-0.7zM87.9 510.0h0.7v0.7h-0.7zM75.5 515.7h0.7v0.7h-0.7zM68.2 495.3h0.7v0.7h-0.7zM61.1 508.4h0.7v0.7h-0.7zM77.5 516.4h0.7v0.7h-0.7zM62.2 510.8h0.7v0.7h-0.7zM87.7 498.9h0.7v0.7h-0.7zM61.8 509.5h0.7v0.7h-0.7zM88.4 501.7h0.7v0.7h-0.7zM88.7 507.4h0.7v0.7h-0.7zM85.5 498.0h0.7v0.7h-0.7zM63.5 512.9h0.7v0.7h-0.7zM73.4 493.1h0.7v0.7h-0.7zM88.0 497.6h0.7v0.7h-0.7zM65.4 496.6h0.7v0.7h-0.7zM88.6 508.3h0.7v0.7h-0.7zM66.8 497.3h0.7v0.7h-0.7zM86.2 494.8h0.7v0.7h-0.7zM62.1 510.1h0.7v0.7h-0.7zM61.4 503.0h0.7v0.7h-0.7zM65.3 497.9h0.7v0.7h-0.7zM81.1 514.0h0.7v0.7h-0.7zM73.2 493.8h0.7v0.7h-0.7zM88.4 500.2h0.7v0.7h-0.7zM88.0 507.1h0.7v0.7h-0.7zM77.5 515.6h0.7v0.7h-0.7zM63.6 496.7h0.7v0.7h-0.7zM71.7 516.4h0.7v0.7h-0.7zM76.4 493.8h0.7v0.7h-0.7zM76.0 494.1h0.7v0.7h-0.7zM85.2 497.7h0.7v0.7h-0.7zM62.4 511.8h0.7v0.7h-0.7zM88.9 507.0h0.7v0.7h-0.7zM60.8 506.1h0.7v0.7h-0.7zM81.9 495.8h0.7v0.7h-0.7zM91.0 506.3h0.7v0.7h-0.7zM59.2 509.6h0.7v0.7h-0.7zM84.1 495.5h0.7v0.7h-0.7zM88.9 502.7h0.7v0.7h-0.7zM89.2 504.5h0.7v0.7h-0.7zM59.6 498.7h0.7v0.7h-0.7zM77.1 493.9h0.7v0.7h-0.7zM61.4 510.2h0.7v0.7h-0.7zM70.6 517.2h0.7v0.7h-0.7zM68.2 494.0h0.7v0.7h-0.7zM62.2 499.9h0.7v0.7h-0.7zM60.4 500.9h0.7v0.7h-0.7zM70.1 495.4h0.7v0.7h-0.7zM76.4 515.5h0.7v0.7h-0.7zM61.6 501.8h0.7v0.7h-0.7zM63.7 513.8h0.7v0.7h-0.7zM84.8 511.5h0.7v0.7h-0.7zM86.2 496.4h0.7v0.7h-0.7zM69.4 494.8h0.7v0.7h-0.7zM77.6 493.9h0.7v0.7h-0.7zM88.5 502.2h0.7v0.7h-0.7zM77.1 517.5h0.7v0.7h-0.7zM88.5 503.2h0.7v0.7h-0.7zM65.0 497.1h0.7v0.7h-0.7zM88.7 507.6h0.7v0.7h-0.7zM90.5 504.9h0.7v0.7h-0.7zM61.5 501.6h0.7v0.7h-0.7zM63.8 513.7h0.7v0.7h-0.7zM68.9 516.1h0.7v0.7h-0.7zM67.1 496.8h0.7v0.7h-0.7zM61.4 510.2h0.7v0.7h-0.7zM88.1 504.1h0.7v0.7h-0.7zM87.9 512.7h0.7v0.7h-0.7zM62.6 513.3h0.7v0.7h-0.7zM89.3 506.0h0.7v0.7h-0.7zM63.7 513.8h0.7v0.7h-0.7zM85.0 495.4h0.7v0.7h-0.7zM89.1 507.9h0.7v0.7h-0.7zM65.7 514.2h0.7v0.7h-0.7zM81.7 514.2h0.7v0.7h-0.7zM66.5 497.4h0.7v0.7h-0.7zM72.9 516.4h0.7v0.7h-0.7zM80.2 515.0h0.7v0.7h-0.7zM81.8 513.8h0.7v0.7h-0.7zM83.9 493.4h0.7v0.7h-0.7zM60.2 507.1h0.7v0.7h-0.7zM60.0 505.7h0.7v0.7h-0.7zM87.1 510.1h0.7v0.7h-0.7zM60.5 509.6h0.7v0.7h-0.7zM87.5 509.4h0.7v0.7h-0.7zM87.6 501.4h0.7v0.7h-0.7zM87.7 507.3h0.7v0.7h-0.7zM80.8 514.4h0.7v0.7h-0.7zM59.0 508.4h0.7v0.7h-0.7zM61.7 501.3h0.7v0.7h-0.7zM73.7 493.8h0.7v0.7h-0.7zM68.7 516.9h0.7v0.7h-0.7zM67.0 496.2h0.7v0.7h-0.7zM67.1 497.2h0.7v0.7h-0.7zM76.4 494.7h0.7v0.7h-0.7zM60.7 507.3h0.7v0.7h-0.7zM58.9 507.7h0.7v0.7h-0.7zM69.1 516.9h0.7v0.7h-0.7zM77.2 494.5h0.7v0.7h-0.7zM78.6 515.9h0.7v0.7h-0.7zM60.5 511.8h0.7v0.7h-0.7zM88.0 503.8h0.7v0.7h-0.7zM68.1 494.6h0.7v0.7h-0.7zM81.1 495.3h0.7v0.7h-0.7zM90.2 510.8h0.7v0.7h-0.7zM77.2 515.4h0.7v0.7h-0.7zM62.9 500.4h0.7v0.7h-0.7zM62.1 497.9h0.7v0.7h-0.7zM85.5 511.6h0.7v0.7h-0.7zM61.8 511.9h0.7v0.7h-0.7zM76.7 493.0h0.7v0.7h-0.7zM87.6 508.4h0.7v0.7h-0.7zM61.8 510.8h0.7v0.7h-0.7zM62.9 511.5h0.7v0.7h-0.7zM75.4 516.1h0.7v0.7h-0.7zM88.8 505.3h0.7v0.7h-0.7zM82.7 514.6h0.7v0.7h-0.7zM80.2 495.0h0.7v0.7h-0.7zM80.7 516.1h0.7v0.7h-0.7zM91.4 503.8h0.7v0.7h-0.7zM61.1 508.7h0.7v0.7h-0.7zM76.2 516.8h0.7v0.7h-0.7zM73.1 494.8h0.7v0.7h-0.7zM82.4 517.8h0.7v0.7h-0.7zM72.9 516.1h0.7v0.7h-0.7zM83.1 513.2h0.7v0.7h-0.7zM69.2 516.7h0.7v0.7h-0.7zM59.6 501.5h0.7v0.7h-0.7zM73.4 519.5h0.7v0.7h-0.7zM66.1 515.9h0.7v0.7h-0.7zM87.6 510.4h0.7v0.7h-0.7zM86.8 499.2h0.7v0.7h-0.7zM86.5 498.7h0.7v0.7h-0.7zM65.9 515.1h0.7v0.7h-0.7zM80.9 516.4h0.7v0.7h-0.7zM89.1 504.3h0.7v0.7h-0.7zM60.7 506.7h0.7v0.7h-0.7zM76.0 492.7h0.7v0.7h-0.7zM73.6 493.1h0.7v0.7h-0.7zM91.2 502.8h0.7v0.7h-0.7zM72.8 517.0h0.7v0.7h-0.7zM59.6 509.7h0.7v0.7h-0.7zM62.1 501.1h0.7v0.7h-0.7zM72.4 494.9h0.7v0.7h-0.7zM63.8 497.9h0.7v0.7h-0.7zM61.7 501.5h0.7v0.7h-0.7zM62.8 512.7h0.7v0.7h-0.7zM60.5 508.8h0.7v0.7h-0.7zM75.7 493.6h0.7v0.7h-0.7zM87.8 509.2h0.7v0.7h-0.7zM88.8 499.3h0.7v0.7h-0.7zM83.1 512.5h0.7v0.7h-0.7zM64.1 513.4h0.7v0.7h-0.7zM67.2 515.4h0.7v0.7h-0.7zM68.1 515.2h0.7v0.7h-0.7zM88.2 501.8h0.7v0.7h-0.7zM81.0 493.7h0.7v0.7h-0.7zM71.1 495.4h0.7v0.7h-0.7zM91.7 505.0h0.7v0.7h-0.7zM90.4 507.3h0.7v0.7h-0.7zM70.3 516.6h0.7v0.7h-0.7zM71.3 495.2h0.7v0.7h-0.7zM77.1 493.1h0.7v0.7h-0.7zM70.1 515.4h0.7v0.7h-0.7zM79.3 493.0h0.7v0.7h-0.7zM89.2 503.9h0.7v0.7h-0.7zM59.3 499.8h0.7v0.7h-0.7zM88.2 501.4h0.7v0.7h-0.7zM78.6 494.5h0.7v0.7h-0.7zM60.8 501.7h0.7v0.7h-0.7zM63.7 512.4h0.7v0.7h-0.7zM62.2 495.6h0.7v0.7h-0.7zM85.8 512.6h0.7v0.7h-0.7zM84.3 496.4h0.7v0.7h-0.7zM70.2 517.3h0.7v0.7h-0.7zM61.3 500.7h0.7v0.7h-0.7zM60.5 508.7h0.7v0.7h-0.7zM87.6 508.4h0.7v0.7h-0.7zM60.8 513.2h0.7v0.7h-0.7zM65.0 513.9h0.7v0.7h-0.7zM68.3 518.3h0.7v0.7h-0.7zM80.4 515.0h0.7v0.7h-0.7zM81.1 495.3h0.7v0.7h-0.7zM76.4 494.3h0.7v0.7h-0.7zM59.5 506.4h0.7v0.7h-0.7zM88.7 505.1h0.7v0.7h-0.7zM65.4 514.0h0.7v0.7h-0.7zM64.8 497.6h0.7v0.7h-0.7zM78.6 514.9h0.7v0.7h-0.7zM69.0 496.0h0.7v0.7h-0.7zM82.0 516.6h0.7v0.7h-0.7zM89.1 510.1h0.7v0.7h-0.7zM90.5 507.9h0.7v0.7h-0.7zM61.1 503.5h0.7v0.7h-0.7zM78.2 494.3h0.7v0.7h-0.7zM85.9 511.6h0.7v0.7h-0.7zM84.7 513.0h0.7v0.7h-0.7zM89.1 510.4h0.7v0.7h-0.7zM78.8 491.5h0.7v0.7h-0.7zM70.4 517.8h0.7v0.7h-0.7zM79.7 491.2h0.7v0.7h-0.7zM61.8 501.6h0.7v0.7h-0.7zM72.3 494.8h0.7v0.7h-0.7zM67.0 514.9h0.7v0.7h-0.7zM66.9 496.5h0.7v0.7h-0.7zM60.6 507.2h0.7v0.7h-0.7zM76.9 515.7h0.7v0.7h-0.7zM62.7 516.4h0.7v0.7h-0.7zM82.1 514.2h0.7v0.7h-0.7zM81.8 514.5h0.7v0.7h-0.7zM88.1 502.7h0.7v0.7h-0.7zM59.1 508.0h0.7v0.7h-0.7zM59.9 507.6h0.7v0.7h-0.7zM88.0 507.3h0.7v0.7h-0.7zM87.5 507.4h0.7v0.7h-0.7zM83.2 492.8h0.7v0.7h-0.7zM70.4 493.6h0.7v0.7h-0.7zM61.3 500.0h0.7v0.7h-0.7zM71.1 515.6h0.7v0.7h-0.7zM84.5 493.2h0.7v0.7h-0.7zM67.3 515.4h0.7v0.7h-0.7zM77.1 516.7h0.7v0.7h-0.7zM59.5 509.5h0.7v0.7h-0.7zM80.0 516.2h0.7v0.7h-0.7zM86.0 511.5h0.7v0.7h-0.7zM81.5 493.1h0.7v0.7h-0.7zM75.1 516.1h0.7v0.7h-0.7zM84.6 497.1h0.7v0.7h-0.7zM93.2 507.2h0.7v0.7h-0.7zM71.1 494.4h0.7v0.7h-0.7zM59.1 500.0h0.7v0.7h-0.7zM70.3 493.2h0.7v0.7h-0.7zM73.9 516.4h0.7v0.7h-0.7zM66.4 514.4h0.7v0.7h-0.7zM73.5 516.1h0.7v0.7h-0.7zM81.2 514.2h0.7v0.7h-0.7zM89.2 503.9h0.7v0.7h-0.7zM58.9 504.1h0.7v0.7h-0.7zM88.2 499.4h0.7v0.7h-0.7zM60.6 501.1h0.7v0.7h-0.7zM90.0 498.9h0.7v0.7h-0.7zM61.9 511.9h0.7v0.7h-0.7zM61.0 511.0h0.7v0.7h-0.7zM76.4 515.4h0.7v0.7h-0.7zM70.9 516.7h0.7v0.7h-0.7zM60.0 512.9h0.7v0.7h-0.7zM88.1 502.4h0.7v0.7h-0.7zM87.0 511.9h0.7v0.7h-0.7zM89.9 503.6h0.7v0.7h-0.7zM79.3 514.8h0.7v0.7h-0.7zM78.1 515.1h0.7v0.7h-0.7zM68.7 515.6h0.7v0.7h-0.7zM68.4 496.5h0.7v0.7h-0.7zM79.9 514.5h0.7v0.7h-0.7zM72.7 494.9h0.7v0.7h-0.7zM89.0 495.6h0.7v0.7h-0.7zM82.3 494.3h0.7v0.7h-0.7zM71.8 515.8h0.7v0.7h-0.7zM82.0 513.2h0.7v0.7h-0.7zM88.4 506.2h0.7v0.7h-0.7zM88.6 507.1h0.7v0.7h-0.7zM87.8 506.5h0.7v0.7h-0.7zM85.3 511.2h0.7v0.7h-0.7zM79.9 494.6h0.7v0.7h-0.7zM82.0 495.6h0.7v0.7h-0.7zM82.7 512.8h0.7v0.7h-0.7zM79.8 494.7h0.7v0.7h-0.7zM61.1 512.0h0.7v0.7h-0.7zM81.3 494.7h0.7v0.7h-0.7zM84.6 496.6h0.7v0.7h-0.7zM67.2 495.2h0.7v0.7h-0.7zM80.0 515.5h0.7v0.7h-0.7zM89.6 503.9h0.7v0.7h-0.7zM69.6 516.5h0.7v0.7h-0.7zM86.1 510.2h0.7v0.7h-0.7zM89.6 500.9h0.7v0.7h-0.7zM67.2 515.5h0.7v0.7h-0.7zM76.1 516.9h0.7v0.7h-0.7zM69.0 495.3h0.7v0.7h-0.7zM85.0 496.7h0.7v0.7h-0.7zM85.2 497.6h0.7v0.7h-0.7zM70.3 495.3h0.7v0.7h-0.7zM85.1 512.5h0.7v0.7h-0.7zM59.7 507.2h0.7v0.7h-0.7zM74.6 516.8h0.7v0.7h-0.7zM88.4 503.4h0.7v0.7h-0.7zM59.4 505.8h0.7v0.7h-0.7zM60.4 510.8h0.7v0.7h-0.7zM81.1 494.5h0.7v0.7h-0.7zM67.1 514.8h0.7v0.7h-0.7zM90.8 503.6h0.7v0.7h-0.7zM60.4 510.4h0.7v0.7h-0.7zM64.3 497.6h0.7v0.7h-0.7zM88.2 495.9h0.7v0.7h-0.7zM69.3 515.7h0.7v0.7h-0.7zM73.8 516.9h0.7v0.7h-0.7zM65.5 514.9h0.7v0.7h-0.7zM86.0 495.2h0.7v0.7h-0.7zM62.3 500.2h0.7v0.7h-0.7zM89.5 508.0h0.7v0.7h-0.7zM82.7 512.9h0.7v0.7h-0.7zM76.0 516.1h0.7v0.7h-0.7zM66.3 497.7h0.7v0.7h-0.7zM59.4 505.0h0.7v0.7h-0.7zM64.1 498.8h0.7v0.7h-0.7zM66.7 516.0h0.7v0.7h-0.7zM60.4 506.7h0.7v0.7h-0.7zM62.0 510.6h0.7v0.7h-0.7zM61.3 507.9h0.7v0.7h-0.7zM88.2 499.3h0.7v0.7h-0.7zM69.7 494.6h0.7v0.7h-0.7zM83.7 513.6h0.7v0.7h-0.7zM69.0 515.8h0.7v0.7h-0.7zM89.2 507.5h0.7v0.7h-0.7zM88.1 503.7h0.7v0.7h-0.7zM72.6 515.7h0.7v0.7h-0.7zM63.8 514.3h0.7v0.7h-0.7zM73.5 515.8h0.7v0.7h-0.7zM59.1 509.7h0.7v0.7h-0.7zM66.3 495.2h0.7v0.7h-0.7zM90.4 507.9h0.7v0.7h-0.7zM88.4 509.8h0.7v0.7h-0.7zM79.1 492.5h0.7v0.7h-0.7zM87.2 497.5h0.7v0.7h-0.7zM71.6 517.3h0.7v0.7h-0.7zM80.1 493.2h0.7v0.7h-0.7zM61.0 500.7h0.7v0.7h-0.7zM65.2 515.3h0.7v0.7h-0.7zM86.9 498.9h0.7v0.7h-0.7zM85.1 497.3h0.7v0.7h-0.7zM66.5 515.2h0.7v0.7h-0.7zM75.2 491.8h0.7v0.7h-0.7zM67.2 496.3h0.7v0.7h-0.7zM64.2 514.9h0.7v0.7h-0.7zM77.5 494.2h0.7v0.7h-0.7zM74.5 493.4h0.7v0.7h-0.7zM86.4 509.9h0.7v0.7h-0.7zM65.6 496.0h0.7v0.7h-0.7zM67.0 497.2h0.7v0.7h-0.7zM60.3 498.9h0.7v0.7h-0.7zM67.6 515.6h0.7v0.7h-0.7zM88.7 504.6h0.7v0.7h-0.7zM73.3 515.9h0.7v0.7h-0.7zM88.1 505.9h0.7v0.7h-0.7zM86.5 509.1h0.7v0.7h-0.7zM71.7 516.3h0.7v0.7h-0.7zM87.4 509.7h0.7v0.7h-0.7zM65.6 515.7h0.7v0.7h-0.7zM67.2 496.9h0.7v0.7h-0.7zM74.0 517.8h0.7v0.7h-0.7zM63.7 512.1h0.7v0.7h-0.7zM88.5 502.1h0.7v0.7h-0.7zM76.3 517.4h0.7v0.7h-0.7zM87.7 506.1h0.7v0.7h-0.7zM86.6 509.1h0.7v0.7h-0.7zM66.2 515.2h0.7v0.7h-0.7zM69.3 516.2h0.7v0.7h-0.7zM64.5 516.1h0.7v0.7h-0.7zM84.8 496.3h0.7v0.7h-0.7zM60.4 513.8h0.7v0.7h-0.7zM67.3 519.8h0.7v0.7h-0.7zM90.3 508.1h0.7v0.7h-0.7zM66.6 496.6h0.7v0.7h-0.7zM87.2 511.1h0.7v0.7h-0.7zM89.7 501.9h0.7v0.7h-0.7zM87.0 510.5h0.7v0.7h-0.7zM71.8 515.9h0.7v0.7h-0.7zM84.7 495.4h0.7v0.7h-0.7zM64.5 497.6h0.7v0.7h-0.7zM64.1 496.3h0.7v0.7h-0.7zM62.1 500.8h0.7v0.7h-0.7zM88.9 501.6h0.7v0.7h-0.7zM91.6 504.7h0.7v0.7h-0.7zM61.3 510.3h0.7v0.7h-0.7zM88.6 507.4h0.7v0.7h-0.7zM83.2 494.3h0.7v0.7h-0.7zM79.0 494.5h0.7v0.7h-0.7zM74.1 494.6h0.7v0.7h-0.7zM86.8 509.0h0.7v0.7h-0.7zM67.3 517.0h0.7v0.7h-0.7zM84.8 511.1h0.7v0.7h-0.7zM72.1 494.4h0.7v0.7h-0.7zM61.4 505.0h0.7v0.7h-0.7zM64.3 516.1h0.7v0.7h-0.7zM82.3 515.7h0.7v0.7h-0.7zM79.5 493.9h0.7v0.7h-0.7zM67.4 492.9h0.7v0.7h-0.7zM89.0 502.5h0.7v0.7h-0.7zM86.7 511.8h0.7v0.7h-0.7zM68.3 514.9h0.7v0.7h-0.7zM79.6 514.8h0.7v0.7h-0.7zM63.9 512.6h0.7v0.7h-0.7zM77.1 492.4h0.7v0.7h-0.7zM75.3 494.4h0.7v0.7h-0.7zM60.1 508.1h0.7v0.7h-0.7zM71.4 495.0h0.7v0.7h-0.7zM88.9 511.6h0.7v0.7h-0.7zM78.4 515.6h0.7v0.7h-0.7zM85.7 511.1h0.7v0.7h-0.7zM71.0 517.6h0.7v0.7h-0.7zM61.3 504.8h0.7v0.7h-0.7zM84.5 511.4h0.7v0.7h-0.7zM59.5 504.9h0.7v0.7h-0.7zM83.6 495.8h0.7v0.7h-0.7zM69.9 515.3h0.7v0.7h-0.7zM84.6 512.4h0.7v0.7h-0.7zM88.2 507.2h0.7v0.7h-0.7zM61.2 511.6h0.7v0.7h-0.7zM90.7 503.5h0.7v0.7h-0.7zM79.0 514.9h0.7v0.7h-0.7zM60.5 507.3h0.7v0.7h-0.7zM85.1 495.4h0.7v0.7h-0.7zM89.0 502.9h0.7v0.7h-0.7zM63.4 498.7h0.7v0.7h-0.7zM62.0 499.6h0.7v0.7h-0.7zM87.4 498.6h0.7v0.7h-0.7zM87.5 508.1h0.7v0.7h-0.7zM72.5 494.3h0.7v0.7h-0.7zM60.1 505.2h0.7v0.7h-0.7zM66.3 497.5h0.7v0.7h-0.7zM79.7 495.0h0.7v0.7h-0.7zM64.6 497.1h0.7v0.7h-0.7zM64.2 497.2h0.7v0.7h-0.7zM75.1 517.5h0.7v0.7h-0.7zM70.5 518.4h0.7v0.7h-0.7zM84.7 497.4h0.7v0.7h-0.7zM88.9 499.5h0.7v0.7h-0.7zM64.4 499.1h0.7v0.7h-0.7zM65.5 513.6h0.7v0.7h-0.7zM88.8 512.7h0.7v0.7h-0.7zM76.1 517.0h0.7v0.7h-0.7zM86.4 497.8h0.7v0.7h-0.7zM83.4 496.1h0.7v0.7h-0.7zM69.1 495.7h0.7v0.7h-0.7zM62.5 500.4h0.7v0.7h-0.7zM82.7 495.3h0.7v0.7h-0.7zM62.3 497.8h0.7v0.7h-0.7zM85.7 510.6h0.7v0.7h-0.7zM83.7 513.5h0.7v0.7h-0.7zM59.1 512.0h0.7v0.7h-0.7zM88.7 504.7h0.7v0.7h-0.7zM91.3 500.3h0.7v0.7h-0.7zM62.3 501.7h0.7v0.7h-0.7zM89.2 501.1h0.7v0.7h-0.7zM61.5 509.7h0.7v0.7h-0.7zM84.2 513.0h0.7v0.7h-0.7zM60.1 512.6h0.7v0.7h-0.7zM89.5 506.1h0.7v0.7h-0.7zM90.7 500.7h0.7v0.7h-0.7zM63.8 516.5h0.7v0.7h-0.7zM68.7 496.1h0.7v0.7h-0.7zM89.6 505.0h0.7v0.7h-0.7zM87.6 501.8h0.7v0.7h-0.7zM60.1 503.1h0.7v0.7h-0.7zM68.5 515.7h0.7v0.7h-0.7zM59.7 506.2h0.7v0.7h-0.7zM71.1 516.4h0.7v0.7h-0.7zM83.1 513.7h0.7v0.7h-0.7zM69.3 494.4h0.7v0.7h-0.7zM62.7 501.1h0.7v0.7h-0.7zM82.6 514.3h0.7v0.7h-0.7zM63.7 499.7h0.7v0.7h-0.7zM78.6 494.2h0.7v0.7h-0.7zM86.5 511.3h0.7v0.7h-0.7zM66.5 497.4h0.7v0.7h-0.7zM87.6 501.4h0.7v0.7h-0.7zM68.7 518.3h0.7v0.7h-0.7zM59.1 505.8h0.7v0.7h-0.7zM67.0 496.7h0.7v0.7h-0.7zM73.8 493.2h0.7v0.7h-0.7zM83.6 494.8h0.7v0.7h-0.7zM59.3 507.7h0.7v0.7h-0.7zM82.1 513.5h0.7v0.7h-0.7zM62.9 501.0h0.7v0.7h-0.7zM87.1 497.4h0.7v0.7h-0.7zM73.4 516.7h0.7v0.7h-0.7zM60.7 500.6h0.7v0.7h-0.7zM81.0 494.6h0.7v0.7h-0.7zM83.0 513.5h0.7v0.7h-0.7zM86.4 512.5h0.7v0.7h-0.7zM79.9 493.5h0.7v0.7h-0.7zM81.0 514.0h0.7v0.7h-0.7zM61.6 511.3h0.7v0.7h-0.7zM85.5 510.6h0.7v0.7h-0.7zM68.6 493.5h0.7v0.7h-0.7zM60.9 508.5h0.7v0.7h-0.7zM72.8 516.1h0.7v0.7h-0.7zM65.9 496.7h0.7v0.7h-0.7zM62.5 512.9h0.7v0.7h-0.7zM82.5 513.1h0.7v0.7h-0.7zM59.9 505.2h0.7v0.7h-0.7zM68.9 516.4h0.7v0.7h-0.7zM69.9 495.3h0.7v0.7h-0.7zM84.2 494.4h0.7v0.7h-0.7zM60.1 511.0h0.7v0.7h-0.7zM87.9 508.1h0.7v0.7h-0.7zM88.0 507.4h0.7v0.7h-0.7zM71.8 493.8h0.7v0.7h-0.7zM62.7 512.8h0.7v0.7h-0.7zM88.6 505.8h0.7v0.7h-0.7zM68.4 496.3h0.7v0.7h-0.7zM80.9 493.7h0.7v0.7h-0.7zM64.9 514.4h0.7v0.7h-0.7zM61.4 501.3h0.7v0.7h-0.7zM62.3 501.7h0.7v0.7h-0.7zM88.4 503.2h0.7v0.7h-0.7zM63.5 512.3h0.7v0.7h-0.7zM66.7 515.5h0.7v0.7h-0.7zM82.3 513.4h0.7v0.7h-0.7zM59.3 506.4h0.7v0.7h-0.7zM61.0 515.4h0.7v0.7h-0.7zM77.3 515.5h0.7v0.7h-0.7zM82.8 495.5h0.7v0.7h-0.7zM77.3 492.7h0.7v0.7h-0.7zM60.5 501.4h0.7v0.7h-0.7zM80.6 515.9h0.7v0.7h-0.7zM67.0 516.7h0.7v0.7h-0.7zM70.0 495.2h0.7v0.7h-0.7zM79.0 515.4h0.7v0.7h-0.7zM61.7 513.7h0.7v0.7h-0.7zM91.6 499.4h0.7v0.7h-0.7zM88.6 500.8h0.7v0.7h-0.7zM83.2 496.3h0.7v0.7h-0.7zM76.5 494.3h0.7v0.7h-0.7zM80.0 494.9h0.7v0.7h-0.7zM84.7 496.6h0.7v0.7h-0.7zM83.6 513.8h0.7v0.7h-0.7zM68.4 515.4h0.7v0.7h-0.7zM72.2 516.3h0.7v0.7h-0.7zM80.9 493.8h0.7v0.7h-0.7zM92.3 504.5h0.7v0.7h-0.7zM77.5 494.3h0.7v0.7h-0.7zM89.0 504.1h0.7v0.7h-0.7zM84.2 512.2h0.7v0.7h-0.7zM84.7 492.0h0.7v0.7h-0.7zM91.1 503.0h0.7v0.7h-0.7zM88.8 503.3h0.7v0.7h-0.7zM87.5 509.8h0.7v0.7h-0.7zM88.9 494.6h0.7v0.7h-0.7zM89.0 505.4h0.7v0.7h-0.7zM85.9 495.0h0.7v0.7h-0.7zM88.4 510.9h0.7v0.7h-0.7zM58.9 500.9h0.7v0.7h-0.7zM64.1 514.4h0.7v0.7h-0.7zM80.7 494.3h0.7v0.7h-0.7zM90.2 509.2h0.7v0.7h-0.7zM89.8 504.2h0.7v0.7h-0.7zM71.3 517.3h0.7v0.7h-0.7zM79.7 494.1h0.7v0.7h-0.7zM83.0 514.8h0.7v0.7h-0.7zM77.3 494.3h0.7v0.7h-0.7zM65.7 497.6h0.7v0.7h-0.7zM65.0 513.6h0.7v0.7h-0.7zM86.7 509.4h0.7v0.7h-0.7zM88.1 508.0h0.7v0.7h-0.7zM83.5 512.5h0.7v0.7h-0.7zM62.1 511.0h0.7v0.7h-0.7zM62.9 515.4h0.7v0.7h-0.7zM68.7 515.2h0.7v0.7h-0.7zM65.4 516.4h0.7v0.7h-0.7zM68.4 495.6h0.7v0.7h-0.7zM60.5 504.9h0.7v0.7h-0.7zM90.7 502.2h0.7v0.7h-0.7zM61.5 512.8h0.7v0.7h-0.7zM87.6 509.2h0.7v0.7h-0.7zM67.7 515.8h0.7v0.7h-0.7zM63.0 511.9h0.7v0.7h-0.7zM87.7 507.5h0.7v0.7h-0.7zM85.0 511.6h0.7v0.7h-0.7zM85.7 512.4h0.7v0.7h-0.7zM85.8 512.5h0.7v0.7h-0.7zM74.4 516.5h0.7v0.7h-0.7zM68.4 495.4h0.7v0.7h-0.7zM81.6 495.5h0.7v0.7h-0.7zM60.4 503.3h0.7v0.7h-0.7zM89.5 505.5h0.7v0.7h-0.7zM71.6 516.7h0.7v0.7h-0.7zM60.3 508.3h0.7v0.7h-0.7zM91.5 504.3h0.7v0.7h-0.7zM85.6 496.6h0.7v0.7h-0.7zM86.4 509.7h0.7v0.7h-0.7zM78.3 494.9h0.7v0.7h-0.7zM59.5 510.2h0.7v0.7h-0.7zM79.6 515.9h0.7v0.7h-0.7zM84.9 492.3h0.7v0.7h-0.7zM63.6 513.6h0.7v0.7h-0.7zM65.2 516.1h0.7v0.7h-0.7zM78.2 494.1h0.7v0.7h-0.7zM86.0 496.9h0.7v0.7h-0.7zM67.7 515.4h0.7v0.7h-0.7zM76.9 491.7h0.7v0.7h-0.7zM79.5 515.4h0.7v0.7h-0.7zM74.2 494.7h0.7v0.7h-0.7zM89.7 510.6h0.7v0.7h-0.7zM67.6 514.7h0.7v0.7h-0.7zM86.5 496.1h0.7v0.7h-0.7zM84.9 496.9h0.7v0.7h-0.7zM89.5 503.7h0.7v0.7h-0.7zM61.3 505.5h0.7v0.7h-0.7zM71.3 495.2h0.7v0.7h-0.7zM88.4 502.4h0.7v0.7h-0.7zM89.0 502.5h0.7v0.7h-0.7zM60.7 514.9h0.7v0.7h-0.7zM75.5 516.1h0.7v0.7h-0.7zM77.6 516.5h0.7v0.7h-0.7zM80.5 515.6h0.7v0.7h-0.7zM87.7 500.6h0.7v0.7h-0.7zM63.5 512.7h0.7v0.7h-0.7zM69.6 495.9h0.7v0.7h-0.7zM72.5 517.7h0.7v0.7h-0.7zM84.5 515.4h0.7v0.7h-0.7zM85.2 495.2h0.7v0.7h-0.7zM61.6 503.7h0.7v0.7h-0.7zM61.0 511.2h0.7v0.7h-0.7zM80.9 516.1h0.7v0.7h-0.7zM59.7 503.9h0.7v0.7h-0.7zM81.3 495.4h0.7v0.7h-0.7zM67.7 494.0h0.7v0.7h-0.7zM82.5 494.7h0.7v0.7h-0.7zM65.9 514.3h0.7v0.7h-0.7zM69.5 494.9h0.7v0.7h-0.7zM66.4 493.2h0.7v0.7h-0.7zM89.6 501.8h0.7v0.7h-0.7zM74.4 494.0h0.7v0.7h-0.7zM90.1 499.5h0.7v0.7h-0.7zM87.8 497.5h0.7v0.7h-0.7zM66.8 514.8h0.7v0.7h-0.7zM66.3 497.1h0.7v0.7h-0.7zM62.8 512.4h0.7v0.7h-0.7zM80.5 494.6h0.7v0.7h-0.7zM88.8 504.9h0.7v0.7h-0.7zM62.8 511.8h0.7v0.7h-0.7zM75.5 516.0h0.7v0.7h-0.7zM86.1 509.8h0.7v0.7h-0.7zM88.0 503.6h0.7v0.7h-0.7zM59.9 504.2h0.7v0.7h-0.7zM87.2 495.1h0.7v0.7h-0.7zM64.5 513.1h0.7v0.7h-0.7zM79.8 495.1h0.7v0.7h-0.7zM79.2 516.1h0.7v0.7h-0.7zM63.5 517.9h0.7v0.7h-0.7zM72.7 494.8h0.7v0.7h-0.7zM64.4 513.5h0.7v0.7h-0.7zM62.0 498.2h0.7v0.7h-0.7zM87.7 500.4h0.7v0.7h-0.7zM83.8 496.5h0.7v0.7h-0.7zM87.5 508.3h0.7v0.7h-0.7zM78.3 516.1h0.7v0.7h-0.7zM65.9 514.3h0.7v0.7h-0.7zM74.9 517.2h0.7v0.7h-0.7zM60.7 506.3h0.7v0.7h-0.7zM86.5 509.0h0.7v0.7h-0.7zM84.2 512.8h0.7v0.7h-0.7zM79.0 491.2h0.7v0.7h-0.7zM61.4 509.8h0.7v0.7h-0.7zM87.9 505.1h0.7v0.7h-0.7zM82.9 513.7h0.7v0.7h-0.7zM68.1 517.7h0.7v0.7h-0.7zM85.1 495.6h0.7v0.7h-0.7zM74.8 493.6h0.7v0.7h-0.7zM73.0 493.8h0.7v0.7h-0.7zM83.4 512.9h0.7v0.7h-0.7zM59.9 515.9h0.7v0.7h-0.7zM83.4 495.2h0.7v0.7h-0.7zM69.7 494.2h0.7v0.7h-0.7zM87.7 501.4h0.7v0.7h-0.7zM59.8 507.6h0.7v0.7h-0.7zM59.6 503.8h0.7v0.7h-0.7zM64.0 497.5h0.7v0.7h-0.7zM86.5 499.4h0.7v0.7h-0.7zM64.3 516.3h0.7v0.7h-0.7zM72.8 518.2h0.7v0.7h-0.7zM85.8 511.1h0.7v0.7h-0.7zM78.4 514.9h0.7v0.7h-0.7zM61.2 503.4h0.7v0.7h-0.7zM63.6 498.4h0.7v0.7h-0.7zM63.8 512.7h0.7v0.7h-0.7zM89.4 499.0h0.7v0.7h-0.7zM74.0 517.1h0.7v0.7h-0.7zM84.6 496.4h0.7v0.7h-0.7zM61.3 505.1h0.7v0.7h-0.7zM91.7 505.2h0.7v0.7h-0.7zM67.2 517.6h0.7v0.7h-0.7zM85.5 511.2h0.7v0.7h-0.7zM80.7 494.7h0.7v0.7h-0.7zM66.5 514.4h0.7v0.7h-0.7zM79.1 517.4h0.7v0.7h-0.7zM87.4 499.9h0.7v0.7h-0.7zM84.7 511.5h0.7v0.7h-0.7zM86.5 499.3h0.7v0.7h-0.7zM66.8 515.6h0.7v0.7h-0.7zM89.5 504.0h0.7v0.7h-0.7zM80.5 494.4h0.7v0.7h-0.7zM81.4 493.4h0.7v0.7h-0.7zM86.4 499.1h0.7v0.7h-0.7zM66.6 516.2h0.7v0.7h-0.7zM88.1 507.4h0.7v0.7h-0.7zM82.9 513.1h0.7v0.7h-0.7zM93.8 503.1h0.7v0.7h-0.7zM84.9 511.6h0.7v0.7h-0.7zM86.6 513.5h0.7v0.7h-0.7zM65.0 515.4h0.7v0.7h-0.7zM63.7 513.9h0.7v0.7h-0.7zM73.2 516.8h0.7v0.7h-0.7zM87.7 501.2h0.7v0.7h-0.7zM61.8 512.4h0.7v0.7h-0.7zM81.9 492.3h0.7v0.7h-0.7zM76.5 493.8h0.7v0.7h-0.7zM58.8 509.5h0.7v0.7h-0.7zM76.4 493.8h0.7v0.7h-0.7zM61.1 500.8h0.7v0.7h-0.7zM71.7 516.1h0.7v0.7h-0.7zM61.4 510.5h0.7v0.7h-0.7zM87.3 499.5h0.7v0.7h-0.7zM65.2 514.0h0.7v0.7h-0.7zM74.0 492.7h0.7v0.7h-0.7zM72.8 495.0h0.7v0.7h-0.7zM66.1 516.6h0.7v0.7h-0.7zM87.4 499.9h0.7v0.7h-0.7zM85.6 510.9h0.7v0.7h-0.7zM89.4 504.4h0.7v0.7h-0.7zM61.6 501.2h0.7v0.7h-0.7zM62.0 511.4h0.7v0.7h-0.7zM88.3 504.4h0.7v0.7h-0.7zM62.7 500.6h0.7v0.7h-0.7zM68.4 516.9h0.7v0.7h-0.7zM82.5 494.9h0.7v0.7h-0.7zM76.1 494.5h0.7v0.7h-0.7zM89.9 507.6h0.7v0.7h-0.7zM68.7 515.8h0.7v0.7h-0.7zM89.1 505.1h0.7v0.7h-0.7zM67.6 514.8h0.7v0.7h-0.7zM83.7 491.7h0.7v0.7h-0.7zM82.2 495.8h0.7v0.7h-0.7zM61.8 502.0h0.7v0.7h-0.7zM89.1 500.0h0.7v0.7h-0.7zM67.0 514.8h0.7v0.7h-0.7zM75.5 494.0h0.7v0.7h-0.7zM76.4 492.3h0.7v0.7h-0.7zM88.9 503.4h0.7v0.7h-0.7zM70.2 518.3h0.7v0.7h-0.7zM89.9 504.7h0.7v0.7h-0.7zM91.4 503.1h0.7v0.7h-0.7zM60.7 504.0h0.7v0.7h-0.7zM58.9 509.4h0.7v0.7h-0.7zM81.1 495.1h0.7v0.7h-0.7zM61.9 501.0h0.7v0.7h-0.7zM85.6 512.8h0.7v0.7h-0.7zM62.9 513.8h0.7v0.7h-0.7zM85.7 494.9h0.7v0.7h-0.7zM60.4 510.2h0.7v0.7h-0.7zM84.9 511.1h0.7v0.7h-0.7zM61.1 507.4h0.7v0.7h-0.7zM76.8 491.1h0.7v0.7h-0.7zM88.8 502.4h0.7v0.7h-0.7zM87.7 500.6h0.7v0.7h-0.7zM86.6 497.5h0.7v0.7h-0.7zM88.1 500.8h0.7v0.7h-0.7zM88.3 504.1h0.7v0.7h-0.7zM61.1 503.4h0.7v0.7h-0.7zM64.8 513.4h0.7v0.7h-0.7zM63.1 497.2h0.7v0.7h-0.7zM79.5 493.8h0.7v0.7h-0.7zM88.0 506.7h0.7v0.7h-0.7zM64.3 512.7h0.7v0.7h-0.7zM74.1 516.0h0.7v0.7h-0.7zM90.6 501.2h0.7v0.7h-0.7zM68.1 493.5h0.7v0.7h-0.7zM80.9 514.0h0.7v0.7h-0.7zM67.0 494.2h0.7v0.7h-0.7zM73.7 517.9h0.7v0.7h-0.7zM66.0 497.7h0.7v0.7h-0.7zM80.0 492.2h0.7v0.7h-0.7zM62.3 498.7h0.7v0.7h-0.7zM59.6 502.8h0.7v0.7h-0.7zM60.8 506.8h0.7v0.7h-0.7zM91.4 505.7h0.7v0.7h-0.7zM59.9 507.2h0.7v0.7h-0.7zM65.8 514.3h0.7v0.7h-0.7zM65.2 514.4h0.7v0.7h-0.7zM61.4 509.6h0.7v0.7h-0.7zM79.7 515.1h0.7v0.7h-0.7zM65.5 515.8h0.7v0.7h-0.7zM80.3 494.4h0.7v0.7h-0.7zM84.7 496.5h0.7v0.7h-0.7zM85.3 496.9h0.7v0.7h-0.7zM61.8 502.2h0.7v0.7h-0.7zM88.7 506.4h0.7v0.7h-0.7zM87.0 511.5h0.7v0.7h-0.7zM60.9 507.2h0.7v0.7h-0.7zM83.0 495.0h0.7v0.7h-0.7zM89.6 503.2h0.7v0.7h-0.7zM84.5 496.8h0.7v0.7h-0.7zM62.8 501.2h0.7v0.7h-0.7zM86.2 495.7h0.7v0.7h-0.7zM60.8 503.4h0.7v0.7h-0.7zM87.8 502.4h0.7v0.7h-0.7zM61.2 510.1h0.7v0.7h-0.7zM61.1 509.9h0.7v0.7h-0.7zM80.7 493.1h0.7v0.7h-0.7zM88.9 503.5h0.7v0.7h-0.7zM60.4 506.5h0.7v0.7h-0.7zM66.9 514.7h0.7v0.7h-0.7zM84.7 513.2h0.7v0.7h-0.7zM74.0 494.6h0.7v0.7h-0.7zM75.0 493.3h0.7v0.7h-0.7zM66.2 515.2h0.7v0.7h-0.7zM87.1 510.4h0.7v0.7h-0.7zM60.3 504.8h0.7v0.7h-0.7zM78.0 494.8h0.7v0.7h-0.7zM86.7 510.5h0.7v0.7h-0.7zM75.8 515.7h0.7v0.7h-0.7zM64.1 516.0h0.7v0.7h-0.7zM88.2 504.6h0.7v0.7h-0.7zM86.2 510.1h0.7v0.7h-0.7zM64.0 514.1h0.7v0.7h-0.7zM61.7 501.5h0.7v0.7h-0.7zM82.0 513.2h0.7v0.7h-0.7zM84.9 511.2h0.7v0.7h-0.7zM73.6 517.0h0.7v0.7h-0.7zM79.1 515.3h0.7v0.7h-0.7zM66.6 516.5h0.7v0.7h-0.7zM63.5 499.5h0.7v0.7h-0.7zM81.7 514.8h0.7v0.7h-0.7zM79.0 494.8h0.7v0.7h-0.7zM86.6 511.0h0.7v0.7h-0.7zM61.3 503.7h0.7v0.7h-0.7zM63.8 515.4h0.7v0.7h-0.7zM59.0 500.3h0.7v0.7h-0.7zM77.0 515.8h0.7v0.7h-0.7zM81.2 494.8h0.7v0.7h-0.7zM66.1 495.8h0.7v0.7h-0.7zM88.6 503.7h0.7v0.7h-0.7zM85.0 512.9h0.7v0.7h-0.7zM72.3 494.0h0.7v0.7h-0.7zM82.0 514.4h0.7v0.7h-0.7zM68.7 495.4h0.7v0.7h-0.7zM61.5 500.7h0.7v0.7h-0.7zM87.3 498.8h0.7v0.7h-0.7zM73.1 518.3h0.7v0.7h-0.7zM88.6 508.8h0.7v0.7h-0.7zM62.6 511.4h0.7v0.7h-0.7zM90.4 503.9h0.7v0.7h-0.7zM66.2 514.9h0.7v0.7h-0.7zM69.8 516.8h0.7v0.7h-0.7zM76.8 515.3h0.7v0.7h-0.7zM73.1 494.5h0.7v0.7h-0.7zM73.8 518.4h0.7v0.7h-0.7zM76.8 494.4h0.7v0.7h-0.7zM74.0 494.5h0.7v0.7h-0.7zM82.7 495.4h0.7v0.7h-0.7zM61.2 503.9h0.7v0.7h-0.7zM64.9 515.1h0.7v0.7h-0.7zM79.9 495.1h0.7v0.7h-0.7zM72.1 493.6h0.7v0.7h-0.7zM76.9 494.6h0.7v0.7h-0.7zM60.1 507.0h0.7v0.7h-0.7zM87.9 506.1h0.7v0.7h-0.7zM63.1 513.7h0.7v0.7h-0.7zM83.1 496.4h0.7v0.7h-0.7zM83.4 495.7h0.7v0.7h-0.7zM90.0 502.8h0.7v0.7h-0.7zM89.0 505.8h0.7v0.7h-0.7zM74.8 494.6h0.7v0.7h-0.7zM85.7 496.3h0.7v0.7h-0.7zM89.1 508.5h0.7v0.7h-0.7zM63.2 498.7h0.7v0.7h-0.7zM81.9 495.2h0.7v0.7h-0.7zM75.3 516.1h0.7v0.7h-0.7zM75.1 491.6h0.7v0.7h-0.7zM84.1 495.5h0.7v0.7h-0.7zM66.4 516.0h0.7v0.7h-0.7zM60.3 503.0h0.7v0.7h-0.7zM83.0 513.3h0.7v0.7h-0.7zM87.9 501.6h0.7v0.7h-0.7zM80.6 515.2h0.7v0.7h-0.7zM60.0 509.4h0.7v0.7h-0.7zM66.0 515.2h0.7v0.7h-0.7zM85.0 512.6h0.7v0.7h-0.7zM64.7 514.6h0.7v0.7h-0.7zM76.2 516.0h0.7v0.7h-0.7zM89.4 498.5h0.7v0.7h-0.7zM88.7 503.7h0.7v0.7h-0.7zM70.9 516.1h0.7v0.7h-0.7zM89.2 499.1h0.7v0.7h-0.7zM65.0 514.1h0.7v0.7h-0.7zM60.6 505.1h0.7v0.7h-0.7zM87.3 498.6h0.7v0.7h-0.7zM61.2 501.4h0.7v0.7h-0.7zM68.9 515.6h0.7v0.7h-0.7zM89.4 500.4h0.7v0.7h-0.7zM92.3 507.4h0.7v0.7h-0.7zM73.0 517.7h0.7v0.7h-0.7zM90.7 503.3h0.7v0.7h-0.7zM81.2 514.7h0.7v0.7h-0.7zM61.1 506.8h0.7v0.7h-0.7zM78.4 516.5h0.7v0.7h-0.7zM86.0 512.1h0.7v0.7h-0.7zM89.5 499.7h0.7v0.7h-0.7zM87.6 496.3h0.7v0.7h-0.7zM85.6 497.0h0.7v0.7h-0.7zM88.9 502.8h0.7v0.7h-0.7zM88.4 508.7h0.7v0.7h-0.7zM63.5 512.0h0.7v0.7h-0.7zM69.1 495.6h0.7v0.7h-0.7zM64.6 513.4h0.7v0.7h-0.7zM66.7 497.2h0.7v0.7h-0.7zM63.9 512.6h0.7v0.7h-0.7zM69.7 495.3h0.7v0.7h-0.7zM75.8 493.5h0.7v0.7h-0.7zM80.2 495.1h0.7v0.7h-0.7zM78.4 515.4h0.7v0.7h-0.7zM74.1 494.8h0.7v0.7h-0.7zM69.4 516.1h0.7v0.7h-0.7zM62.7 513.4h0.7v0.7h-0.7zM87.9 505.2h0.7v0.7h-0.7zM63.2 516.4h0.7v0.7h-0.7zM88.9 502.3h0.7v0.7h-0.7zM77.2 493.9h0.7v0.7h-0.7zM76.7 494.2h0.7v0.7h-0.7zM88.3 502.7h0.7v0.7h-0.7zM71.0 517.1h0.7v0.7h-0.7zM72.2 493.4h0.7v0.7h-0.7zM86.9 509.0h0.7v0.7h-0.7zM88.1 504.1h0.7v0.7h-0.7zM86.2 510.5h0.7v0.7h-0.7zM63.8 518.0h0.7v0.7h-0.7zM76.5 515.4h0.7v0.7h-0.7zM77.7 515.8h0.7v0.7h-0.7zM71.8 494.7h0.7v0.7h-0.7zM60.5 509.8h0.7v0.7h-0.7zM79.9 515.4h0.7v0.7h-0.7zM85.5 511.6h0.7v0.7h-0.7zM60.2 509.5h0.7v0.7h-0.7zM89.1 504.5h0.7v0.7h-0.7zM67.3 496.5h0.7v0.7h-0.7zM86.5 498.5h0.7v0.7h-0.7zM61.6 503.2h0.7v0.7h-0.7zM60.5 501.6h0.7v0.7h-0.7zM79.9 494.2h0.7v0.7h-0.7zM78.2 516.5h0.7v0.7h-0.7zM89.8 507.0h0.7v0.7h-0.7zM67.2 496.5h0.7v0.7h-0.7zM77.4 493.7h0.7v0.7h-0.7zM74.2 492.8h0.7v0.7h-0.7zM83.3 513.9h0.7v0.7h-0.7zM59.4 499.9h0.7v0.7h-0.7zM82.3 494.5h0.7v0.7h-0.7zM61.2 506.6h0.7v0.7h-0.7zM87.5 498.9h0.7v0.7h-0.7zM86.6 509.2h0.7v0.7h-0.7zM90.1 505.8h0.7v0.7h-0.7zM86.9 497.9h0.7v0.7h-0.7zM59.6 512.3h0.7v0.7h-0.7zM63.9 495.9h0.7v0.7h-0.7zM81.1 495.4h0.7v0.7h-0.7zM60.8 508.5h0.7v0.7h-0.7zM73.2 516.5h0.7v0.7h-0.7zM65.0 513.7h0.7v0.7h-0.7zM84.6 516.1h0.7v0.7h-0.7zM86.7 498.9h0.7v0.7h-0.7zM75.8 494.0h0.7v0.7h-0.7zM73.0 517.1h0.7v0.7h-0.7zM86.6 509.3h0.7v0.7h-0.7zM84.2 496.6h0.7v0.7h-0.7zM88.5 507.5h0.7v0.7h-0.7zM60.5 509.5h0.7v0.7h-0.7zM69.4 496.0h0.7v0.7h-0.7zM86.1 497.9h0.7v0.7h-0.7zM81.4 514.7h0.7v0.7h-0.7zM62.9 513.4h0.7v0.7h-0.7zM60.8 504.4h0.7v0.7h-0.7zM85.1 496.8h0.7v0.7h-0.7zM61.0 508.0h0.7v0.7h-0.7zM59.9 505.7h0.7v0.7h-0.7zM66.4 514.1h0.7v0.7h-0.7zM69.0 519.2h0.7v0.7h-0.7zM60.5 512.7h0.7v0.7h-0.7zM68.0 515.6h0.7v0.7h-0.7zM77.0 515.5h0.7v0.7h-0.7zM60.3 504.3h0.7v0.7h-0.7zM78.8 493.8h0.7v0.7h-0.7zM89.7 500.8h0.7v0.7h-0.7zM78.5 515.9h0.7v0.7h-0.7zM65.9 496.5h0.7v0.7h-0.7zM65.4 515.1h0.7v0.7h-0.7zM90.4 505.3h0.7v0.7h-0.7zM65.9 516.0h0.7v0.7h-0.7zM87.4 511.5h0.7v0.7h-0.7zM63.8 497.5h0.7v0.7h-0.7zM87.8 500.5h0.7v0.7h-0.7zM70.5 517.2h0.7v0.7h-0.7zM75.4 515.6h0.7v0.7h-0.7zM88.4 501.6h0.7v0.7h-0.7zM79.1 494.6h0.7v0.7h-0.7zM87.1 498.9h0.7v0.7h-0.7zM60.4 507.0h0.7v0.7h-0.7zM85.4 497.1h0.7v0.7h-0.7zM89.6 504.8h0.7v0.7h-0.7zM87.3 498.8h0.7v0.7h-0.7zM59.8 503.6h0.7v0.7h-0.7zM65.7 497.6h0.7v0.7h-0.7zM90.7 503.6h0.7v0.7h-0.7zM59.5 511.3h0.7v0.7h-0.7zM60.6 512.0h0.7v0.7h-0.7zM76.9 494.5h0.7v0.7h-0.7zM74.4 494.2h0.7v0.7h-0.7zM86.7 498.1h0.7v0.7h-0.7zM83.4 512.3h0.7v0.7h-0.7zM76.6 517.1h0.7v0.7h-0.7zM77.1 516.4h0.7v0.7h-0.7zM59.4 505.1h0.7v0.7h-0.7zM87.6 508.6h0.7v0.7h-0.7zM86.7 499.3h0.7v0.7h-0.7zM81.1 495.4h0.7v0.7h-0.7zM61.5 513.6h0.7v0.7h-0.7zM87.4 512.4h0.7v0.7h-0.7zM67.5 494.1h0.7v0.7h-0.7zM88.4 497.9h0.7v0.7h-0.7zM87.4 510.8h0.7v0.7h-0.7zM89.3 507.3h0.7v0.7h-0.7zM85.4 495.3h0.7v0.7h-0.7zM84.3 515.2h0.7v0.7h-0.7zM66.5 496.5h0.7v0.7h-0.7zM62.7 515.0h0.7v0.7h-0.7zM88.8 505.9h0.7v0.7h-0.7zM60.1 501.5h0.7v0.7h-0.7zM61.2 504.2h0.7v0.7h-0.7zM76.1 494.6h0.7v0.7h-0.7zM84.7 496.5h0.7v0.7h-0.7zM61.7 509.4h0.7v0.7h-0.7zM66.7 515.5h0.7v0.7h-0.7zM59.5 513.9h0.7v0.7h-0.7zM69.6 495.9h0.7v0.7h-0.7zM71.5 516.5h0.7v0.7h-0.7zM77.2 494.3h0.7v0.7h-0.7zM63.9 499.8h0.7v0.7h-0.7zM89.8 503.4h0.7v0.7h-0.7zM68.3 515.2h0.7v0.7h-0.7zM70.6 516.9h0.7v0.7h-0.7zM68.8 515.4h0.7v0.7h-0.7zM69.4 515.5h0.7v0.7h-0.7zM60.8 504.1h0.7v0.7h-0.7zM71.5 493.3h0.7v0.7h-0.7zM67.8 515.2h0.7v0.7h-0.7zM62.4 512.8h0.7v0.7h-0.7zM77.9 493.4h0.7v0.7h-0.7zM60.0 508.3h0.7v0.7h-0.7zM73.5 494.6h0.7v0.7h-0.7zM83.4 494.2h0.7v0.7h-0.7zM59.0 505.3h0.7v0.7h-0.7zM74.1 516.3h0.7v0.7h-0.7zM70.7 516.9h0.7v0.7h-0.7zM69.3 515.9h0.7v0.7h-0.7zM81.9 495.3h0.7v0.7h-0.7zM66.8 497.2h0.7v0.7h-0.7zM81.2 493.3h0.7v0.7h-0.7zM90.8 504.8h0.7v0.7h-0.7zM73.2 515.9h0.7v0.7h-0.7zM85.8 496.7h0.7v0.7h-0.7zM84.2 513.0h0.7v0.7h-0.7zM64.9 498.5h0.7v0.7h-0.7zM83.5 495.6h0.7v0.7h-0.7zM61.0 511.3h0.7v0.7h-0.7zM71.1 494.1h0.7v0.7h-0.7zM71.2 516.8h0.7v0.7h-0.7zM86.1 497.5h0.7v0.7h-0.7zM76.6 515.4h0.7v0.7h-0.7zM88.2 497.2h0.7v0.7h-0.7zM80.7 495.1h0.7v0.7h-0.7zM86.8 499.7h0.7v0.7h-0.7zM82.8 495.4h0.7v0.7h-0.7zM89.4 504.5h0.7v0.7h-0.7zM61.8 501.1h0.7v0.7h-0.7zM85.1 511.4h0.7v0.7h-0.7zM73.3 517.8h0.7v0.7h-0.7zM88.4 498.0h0.7v0.7h-0.7zM65.2 496.5h0.7v0.7h-0.7zM60.0 506.2h0.7v0.7h-0.7zM61.4 509.9h0.7v0.7h-0.7zM78.7 494.4h0.7v0.7h-0.7zM61.2 509.8h0.7v0.7h-0.7zM82.8 516.2h0.7v0.7h-0.7zM87.8 506.3h0.7v0.7h-0.7zM61.6 503.1h0.7v0.7h-0.7zM86.1 512.5h0.7v0.7h-0.7zM82.3 494.6h0.7v0.7h-0.7zM72.4 492.8h0.7v0.7h-0.7zM62.8 498.3h0.7v0.7h-0.7zM77.1 494.6h0.7v0.7h-0.7zM81.9 495.6h0.7v0.7h-0.7zM87.2 499.4h0.7v0.7h-0.7zM60.4 511.7h0.7v0.7h-0.7zM66.9 514.7h0.7v0.7h-0.7zM86.5 509.8h0.7v0.7h-0.7zM87.3 509.3h0.7v0.7h-0.7zM87.9 504.8h0.7v0.7h-0.7zM67.7 495.0h0.7v0.7h-0.7zM61.0 502.0h0.7v0.7h-0.7zM90.9 501.9h0.7v0.7h-0.7zM74.6 515.7h0.7v0.7h-0.7zM89.4 506.6h0.7v0.7h-0.7zM84.9 496.5h0.7v0.7h-0.7zM89.3 508.4h0.7v0.7h-0.7zM62.3 501.6h0.7v0.7h-0.7zM87.1 508.5h0.7v0.7h-0.7zM63.7 512.1h0.7v0.7h-0.7zM60.4 508.0h0.7v0.7h-0.7zM92.4 502.9h0.7v0.7h-0.7zM83.8 512.9h0.7v0.7h-0.7zM60.6 507.3h0.7v0.7h-0.7zM86.0 510.1h0.7v0.7h-0.7zM62.6 499.1h0.7v0.7h-0.7zM76.4 516.7h0.7v0.7h-0.7zM68.9 516.2h0.7v0.7h-0.7zM86.8 496.0h0.7v0.7h-0.7zM84.6 497.1h0.7v0.7h-0.7zM88.0 500.4h0.7v0.7h-0.7zM89.3 499.4h0.7v0.7h-0.7zM63.8 497.9h0.7v0.7h-0.7zM86.7 499.3h0.7v0.7h-0.7zM62.9 512.1h0.7v0.7h-0.7zM89.5 503.2h0.7v0.7h-0.7zM88.2 510.6h0.7v0.7h-0.7zM62.0 510.6h0.7v0.7h-0.7zM59.6 505.5h0.7v0.7h-0.7zM88.3 504.8h0.7v0.7h-0.7zM85.8 498.5h0.7v0.7h-0.7zM86.3 493.0h0.7v0.7h-0.7zM80.7 515.2h0.7v0.7h-0.7zM88.8 501.8h0.7v0.7h-0.7zM87.7 498.4h0.7v0.7h-0.7zM82.1 496.0h0.7v0.7h-0.7zM88.5 507.9h0.7v0.7h-0.7zM82.8 494.0h0.7v0.7h-0.7zM67.1 514.8h0.7v0.7h-0.7zM64.3 499.3h0.7v0.7h-0.7zM60.6 499.5h0.7v0.7h-0.7zM78.1 493.0h0.7v0.7h-0.7zM71.9 516.7h0.7v0.7h-0.7zM88.2 504.6h0.7v0.7h-0.7zM81.5 515.2h0.7v0.7h-0.7zM61.7 510.3h0.7v0.7h-0.7zM88.1 503.4h0.7v0.7h-0.7zM61.9 510.8h0.7v0.7h-0.7zM80.8 514.3h0.7v0.7h-0.7zM70.7 516.1h0.7v0.7h-0.7zM84.5 497.3h0.7v0.7h-0.7zM78.9 514.9h0.7v0.7h-0.7zM80.3 492.9h0.7v0.7h-0.7zM60.8 500.7h0.7v0.7h-0.7zM81.6 514.0h0.7v0.7h-0.7zM83.5 494.7h0.7v0.7h-0.7zM61.8 511.7h0.7v0.7h-0.7zM78.9 493.2h0.7v0.7h-0.7zM67.6 496.2h0.7v0.7h-0.7zM75.5 518.2h0.7v0.7h-0.7zM81.6 513.5h0.7v0.7h-0.7zM66.3 497.6h0.7v0.7h-0.7zM86.5 497.6h0.7v0.7h-0.7zM81.1 495.3h0.7v0.7h-0.7zM88.4 500.1h0.7v0.7h-0.7zM60.3 501.1h0.7v0.7h-0.7zM81.0 514.3h0.7v0.7h-0.7zM60.2 503.6h0.7v0.7h-0.7zM73.3 515.9h0.7v0.7h-0.7zM63.3 499.2h0.7v0.7h-0.7zM60.9 499.9h0.7v0.7h-0.7zM59.4 508.6h0.7v0.7h-0.7zM87.0 512.4h0.7v0.7h-0.7zM85.7 512.1h0.7v0.7h-0.7zM74.4 519.0h0.7v0.7h-0.7zM81.7 495.8h0.7v0.7h-0.7zM71.3 516.6h0.7v0.7h-0.7zM88.5 504.9h0.7v0.7h-0.7zM78.5 516.9h0.7v0.7h-0.7zM62.8 514.7h0.7v0.7h-0.7zM62.4 497.7h0.7v0.7h-0.7zM59.5 504.5h0.7v0.7h-0.7zM81.0 494.1h0.7v0.7h-0.7zM81.0 495.3h0.7v0.7h-0.7zM80.7 514.6h0.7v0.7h-0.7zM86.9 497.4h0.7v0.7h-0.7zM63.1 495.7h0.7v0.7h-0.7zM77.3 517.3h0.7v0.7h-0.7zM60.3 505.5h0.7v0.7h-0.7zM85.7 498.4h0.7v0.7h-0.7zM83.6 494.9h0.7v0.7h-0.7zM65.9 516.5h0.7v0.7h-0.7zM75.4 516.6h0.7v0.7h-0.7zM73.1 492.6h0.7v0.7h-0.7zM64.8 496.4h0.7v0.7h-0.7zM77.3 516.8h0.7v0.7h-0.7zM88.6 504.5h0.7v0.7h-0.7zM67.2 515.1h0.7v0.7h-0.7zM88.4 505.5h0.7v0.7h-0.7zM60.2 505.3h0.7v0.7h-0.7zM88.8 509.7h0.7v0.7h-0.7zM68.0 495.4h0.7v0.7h-0.7zM86.8 498.8h0.7v0.7h-0.7zM82.1 514.0h0.7v0.7h-0.7zM76.1 493.5h0.7v0.7h-0.7zM61.0 501.5h0.7v0.7h-0.7zM91.5 503.4h0.7v0.7h-0.7zM80.5 492.7h0.7v0.7h-0.7zM60.8 508.1h0.7v0.7h-0.7zM85.1 496.8h0.7v0.7h-0.7zM77.5 494.7h0.7v0.7h-0.7zM61.0 501.7h0.7v0.7h-0.7zM86.1 510.1h0.7v0.7h-0.7zM86.2 509.4h0.7v0.7h-0.7zM73.7 516.2h0.7v0.7h-0.7zM63.1 514.8h0.7v0.7h-0.7zM60.3 506.6h0.7v0.7h-0.7zM85.9 496.4h0.7v0.7h-0.7zM88.2 500.7h0.7v0.7h-0.7zM76.8 516.8h0.7v0.7h-0.7zM61.0 502.2h0.7v0.7h-0.7zM59.8 507.0h0.7v0.7h-0.7zM62.5 497.0h0.7v0.7h-0.7zM62.0 499.5h0.7v0.7h-0.7zM69.8 493.8h0.7v0.7h-0.7zM82.8 496.0h0.7v0.7h-0.7zM77.7 494.2h0.7v0.7h-0.7zM66.3 497.4h0.7v0.7h-0.7zM72.0 517.8h0.7v0.7h-0.7zM83.5 514.2h0.7v0.7h-0.7zM66.4 496.3h0.7v0.7h-0.7zM85.0 514.5h0.7v0.7h-0.7zM61.8 502.0h0.7v0.7h-0.7zM87.0 497.8h0.7v0.7h-0.7zM84.1 515.9h0.7v0.7h-0.7zM64.5 513.0h0.7v0.7h-0.7zM83.7 514.9h0.7v0.7h-0.7zM60.8 505.0h0.7v0.7h-0.7zM73.4 494.3h0.7v0.7h-0.7zM83.7 496.3h0.7v0.7h-0.7zM88.9 504.5h0.7v0.7h-0.7zM61.8 502.3h0.7v0.7h-0.7zM65.0 516.6h0.7v0.7h-0.7zM68.3 494.4h0.7v0.7h-0.7zM73.0 515.9h0.7v0.7h-0.7zM84.1 512.4h0.7v0.7h-0.7zM78.6 516.4h0.7v0.7h-0.7zM81.3 493.0h0.7v0.7h-0.7zM66.0 497.3h0.7v0.7h-0.7zM88.4 506.3h0.7v0.7h-0.7zM84.1 512.1h0.7v0.7h-0.7zM63.8 514.3h0.7v0.7h-0.7zM89.4 506.2h0.7v0.7h-0.7zM60.4 508.7h0.7v0.7h-0.7zM87.4 497.1h0.7v0.7h-0.7zM88.2 501.1h0.7v0.7h-0.7zM87.5 500.6h0.7v0.7h-0.7zM80.0 495.0h0.7v0.7h-0.7zM72.0 495.2h0.7v0.7h-0.7zM73.0 516.3h0.7v0.7h-0.7zM60.8 507.3h0.7v0.7h-0.7zM82.2 513.9h0.7v0.7h-0.7zM59.9 509.4h0.7v0.7h-0.7zM90.1 505.7h0.7v0.7h-0.7zM80.1 493.7h0.7v0.7h-0.7zM86.7 495.3h0.7v0.7h-0.7zM64.8 513.8h0.7v0.7h-0.7zM79.1 494.3h0.7v0.7h-0.7zM82.1 494.9h0.7v0.7h-0.7zM65.1 517.6h0.7v0.7h-0.7zM86.8 508.7h0.7v0.7h-0.7zM67.5 516.7h0.7v0.7h-0.7zM74.2 493.0h0.7v0.7h-0.7zM69.7 495.7h0.7v0.7h-0.7zM82.6 513.0h0.7v0.7h-0.7zM86.3 510.2h0.7v0.7h-0.7zM72.5 516.7h0.7v0.7h-0.7zM65.6 496.7h0.7v0.7h-0.7zM84.7 511.8h0.7v0.7h-0.7zM59.0 503.9h0.7v0.7h-0.7zM70.0 517.3h0.7v0.7h-0.7zM91.1 510.0h0.7v0.7h-0.7zM88.4 501.8h0.7v0.7h-0.7zM74.3 493.8h0.7v0.7h-0.7zM64.7 514.6h0.7v0.7h-0.7zM70.6 516.5h0.7v0.7h-0.7zM66.9 515.7h0.7v0.7h-0.7zM89.7 504.1h0.7v0.7h-0.7zM92.0 505.3h0.7v0.7h-0.7zM63.8 514.0h0.7v0.7h-0.7zM71.4 515.8h0.7v0.7h-0.7zM67.5 515.2h0.7v0.7h-0.7zM79.2 494.0h0.7v0.7h-0.7zM61.5 509.6h0.7v0.7h-0.7zM83.9 513.6h0.7v0.7h-0.7zM62.0 511.7h0.7v0.7h-0.7zM66.6 497.4h0.7v0.7h-0.7zM79.4 494.6h0.7v0.7h-0.7zM85.9 498.6h0.7v0.7h-0.7zM81.0 516.4h0.7v0.7h-0.7zM87.4 497.6h0.7v0.7h-0.7zM79.7 515.6h0.7v0.7h-0.7zM64.3 498.6h0.7v0.7h-0.7zM86.7 494.4h0.7v0.7h-0.7zM65.2 498.0h0.7v0.7h-0.7zM62.7 496.4h0.7v0.7h-0.7zM82.7 512.9h0.7v0.7h-0.7zM79.6 494.1h0.7v0.7h-0.7zM73.4 518.4h0.7v0.7h-0.7zM72.9 494.4h0.7v0.7h-0.7zM85.2 497.3h0.7v0.7h-0.7zM82.5 492.6h0.7v0.7h-0.7zM80.2 494.5h0.7v0.7h-0.7zM77.1 492.2h0.7v0.7h-0.7zM60.4 510.3h0.7v0.7h-0.7zM73.5 494.6h0.7v0.7h-0.7zM74.4 494.5h0.7v0.7h-0.7zM84.8 496.4h0.7v0.7h-0.7zM65.3 497.8h0.7v0.7h-0.7zM65.9 494.3h0.7v0.7h-0.7zM80.0 494.4h0.7v0.7h-0.7zM86.6 509.4h0.7v0.7h-0.7zM90.0 506.1h0.7v0.7h-0.7zM69.1 515.9h0.7v0.7h-0.7zM84.1 513.6h0.7v0.7h-0.7zM60.8 508.4h0.7v0.7h-0.7zM76.1 515.8h0.7v0.7h-0.7zM91.0 502.1h0.7v0.7h-0.7zM73.0 494.3h0.7v0.7h-0.7zM68.5 493.6h0.7v0.7h-0.7zM68.4 519.9h0.7v0.7h-0.7zM61.1 503.3h0.7v0.7h-0.7zM66.1 496.9h0.7v0.7h-0.7zM64.4 513.4h0.7v0.7h-0.7zM88.7 500.2h0.7v0.7h-0.7zM63.4 514.2h0.7v0.7h-0.7zM73.9 517.5h0.7v0.7h-0.7zM83.5 512.4h0.7v0.7h-0.7zM66.1 514.0h0.7v0.7h-0.7zM87.0 496.0h0.7v0.7h-0.7zM61.1 506.5h0.7v0.7h-0.7zM60.6 501.2h0.7v0.7h-0.7zM75.7 517.4h0.7v0.7h-0.7zM69.6 495.3h0.7v0.7h-0.7zM76.6 494.6h0.7v0.7h-0.7zM91.8 505.6h0.7v0.7h-0.7zM78.4 491.3h0.7v0.7h-0.7zM63.0 497.5h0.7v0.7h-0.7zM80.2 520.6h0.7v0.7h-0.7zM78.2 515.8h0.7v0.7h-0.7zM73.2 516.7h0.7v0.7h-0.7zM70.4 522.7h0.7v0.7h-0.7zM95.0 504.6h0.7v0.7h-0.7zM61.1 501.6h0.7v0.7h-0.7zM59.6 508.0h0.7v0.7h-0.7zM88.2 492.6h0.7v0.7h-0.7zM87.9 502.2h0.7v0.7h-0.7zM63.0 518.9h0.7v0.7h-0.7zM61.2 508.0h0.7v0.7h-0.7zM77.2 493.1h0.7v0.7h-0.7zM77.7 517.4h0.7v0.7h-0.7zM74.9 515.6h0.7v0.7h-0.7zM88.6 510.2h0.7v0.7h-0.7zM63.8 514.5h0.7v0.7h-0.7zM59.9 502.2h0.7v0.7h-0.7zM69.3 516.2h0.7v0.7h-0.7zM64.8 518.8h0.7v0.7h-0.7zM89.0 505.3h0.7v0.7h-0.7zM67.3 490.3h0.7v0.7h-0.7zM64.4 517.5h0.7v0.7h-0.7zM59.1 509.1h0.7v0.7h-0.7zM59.7 506.4h0.7v0.7h-0.7zM70.2 491.5h0.7v0.7h-0.7zM61.0 509.5h0.7v0.7h-0.7zM59.3 517.4h0.7v0.7h-0.7zM61.8 502.3h0.7v0.7h-0.7zM73.9 491.8h0.7v0.7h-0.7zM82.9 495.1h0.7v0.7h-0.7zM75.1 516.1h0.7v0.7h-0.7zM61.6 496.5h0.7v0.7h-0.7zM65.5 494.2h0.7v0.7h-0.7zM80.5 491.7h0.7v0.7h-0.7zM90.2 498.3h0.7v0.7h-0.7zM65.5 516.3h0.7v0.7h-0.7zM92.9 498.6h0.7v0.7h-0.7zM61.6 514.9h0.7v0.7h-0.7zM88.3 508.5h0.7v0.7h-0.7zM61.1 497.6h0.7v0.7h-0.7zM69.3 488.7h0.7v0.7h-0.7zM86.8 493.6h0.7v0.7h-0.7zM85.0 496.4h0.7v0.7h-0.7zM70.4 490.5h0.7v0.7h-0.7zM94.2 508.0h0.7v0.7h-0.7zM81.7 489.9h0.7v0.7h-0.7zM89.0 496.9h0.7v0.7h-0.7zM59.6 501.1h0.7v0.7h-0.7zM87.4 498.5h0.7v0.7h-0.7zM84.2 495.0h0.7v0.7h-0.7zM89.0 503.6h0.7v0.7h-0.7zM80.2 492.2h0.7v0.7h-0.7zM81.3 492.7h0.7v0.7h-0.7zM90.3 505.3h0.7v0.7h-0.7zM64.5 517.2h0.7v0.7h-0.7zM64.3 517.9h0.7v0.7h-0.7zM93.1 496.4h0.7v0.7h-0.7zM83.1 490.5h0.7v0.7h-0.7zM91.2 510.5h0.7v0.7h-0.7zM68.5 515.3h0.7v0.7h-0.7zM89.0 514.3h0.7v0.7h-0.7zM94.2 510.8h0.7v0.7h-0.7zM70.9 515.5h0.7v0.7h-0.7zM70.8 495.2h0.7v0.7h-0.7zM67.6 518.3h0.7v0.7h-0.7zM59.3 511.6h0.7v0.7h-0.7zM63.6 495.3h0.7v0.7h-0.7zM89.7 501.4h0.7v0.7h-0.7zM76.4 491.7h0.7v0.7h-0.7zM76.0 490.5h0.7v0.7h-0.7zM68.3 496.2h0.7v0.7h-0.7zM89.2 503.7h0.7v0.7h-0.7zM83.5 493.6h0.7v0.7h-0.7zM92.2 497.4h0.7v0.7h-0.7zM62.4 500.3h0.7v0.7h-0.7zM68.5 495.3h0.7v0.7h-0.7zM81.3 495.0h0.7v0.7h-0.7zM84.3 492.8h0.7v0.7h-0.7zM61.2 510.1h0.7v0.7h-0.7zM84.2 512.2h0.7v0.7h-0.7zM92.8 508.7h0.7v0.7h-0.7zM91.8 501.6h0.7v0.7h-0.7zM89.4 501.8h0.7v0.7h-0.7zM60.6 509.2h0.7v0.7h-0.7zM64.4 515.2h0.7v0.7h-0.7zM97.6 499.2h0.7v0.7h-0.7zM79.1 490.5h0.7v0.7h-0.7zM87.5 512.2h0.7v0.7h-0.7zM92.0 505.3h0.7v0.7h-0.7zM78.4 491.4h0.7v0.7h-0.7zM70.1 495.2h0.7v0.7h-0.7zM92.4 504.7h0.7v0.7h-0.7zM76.6 516.6h0.7v0.7h-0.7zM88.1 509.1h0.7v0.7h-0.7zM69.6 515.4h0.7v0.7h-0.7zM61.3 510.1h0.7v0.7h-0.7zM70.4 516.9h0.7v0.7h-0.7zM65.4 497.2h0.7v0.7h-0.7zM65.3 519.7h0.7v0.7h-0.7zM79.8 516.8h0.7v0.7h-0.7zM70.7 517.5h0.7v0.7h-0.7zM81.8 486.3h0.7v0.7h-0.7zM59.6 498.4h0.7v0.7h-0.7zM84.2 495.9h0.7v0.7h-0.7zM92.4 506.5h0.7v0.7h-0.7zM72.7 515.7h0.7v0.7h-0.7zM74.4 490.0h0.7v0.7h-0.7zM89.0 496.0h0.7v0.7h-0.7zM61.8 501.0h0.7v0.7h-0.7zM74.3 494.8h0.7v0.7h-0.7zM86.8 512.4h0.7v0.7h-0.7zM84.6 492.5h0.7v0.7h-0.7zM91.1 504.1h0.7v0.7h-0.7zM81.3 492.3h0.7v0.7h-0.7zM92.5 508.4h0.7v0.7h-0.7zM69.8 495.3h0.7v0.7h-0.7zM64.2 515.7h0.7v0.7h-0.7zM87.9 501.4h0.7v0.7h-0.7zM87.9 506.2h0.7v0.7h-0.7zM77.4 491.4h0.7v0.7h-0.7zM85.2 497.5h0.7v0.7h-0.7zM87.8 499.2h0.7v0.7h-0.7zM68.3 515.1h0.7v0.7h-0.7zM83.5 496.5h0.7v0.7h-0.7zM84.1 493.9h0.7v0.7h-0.7zM91.2 494.4h0.7v0.7h-0.7zM89.9 505.6h0.7v0.7h-0.7zM91.0 506.9h0.7v0.7h-0.7zM67.5 517.0h0.7v0.7h-0.7zM70.5 493.1h0.7v0.7h-0.7zM64.0 514.9h0.7v0.7h-0.7zM63.6 514.8h0.7v0.7h-0.7zM62.0 510.8h0.7v0.7h-0.7zM76.5 491.0h0.7v0.7h-0.7zM62.1 511.6h0.7v0.7h-0.7zM90.0 499.2h0.7v0.7h-0.7zM84.9 511.6h0.7v0.7h-0.7zM77.8 516.0h0.7v0.7h-0.7zM78.5 520.1h0.7v0.7h-0.7zM59.7 507.3h0.7v0.7h-0.7zM92.8 499.4h0.7v0.7h-0.7zM60.6 506.1h0.7v0.7h-0.7zM89.5 511.3h0.7v0.7h-0.7zM92.4 504.9h0.7v0.7h-0.7zM89.4 515.7h0.7v0.7h-0.7zM81.7 518.2h0.7v0.7h-0.7zM60.2 521.5h0.7v0.7h-0.7zM86.1 514.8h0.7v0.7h-0.7zM79.0 494.5h0.7v0.7h-0.7zM60.0 500.3h0.7v0.7h-0.7zM62.8 515.5h0.7v0.7h-0.7zM88.9 508.4h0.7v0.7h-0.7zM65.1 498.2h0.7v0.7h-0.7zM64.1 514.4h0.7v0.7h-0.7zM86.9 491.0h0.7v0.7h-0.7zM93.2 505.2h0.7v0.7h-0.7zM59.8 501.3h0.7v0.7h-0.7zM73.9 494.3h0.7v0.7h-0.7zM72.7 516.2h0.7v0.7h-0.7zM65.0 490.2h0.7v0.7h-0.7zM61.8 511.5h0.7v0.7h-0.7zM85.5 515.4h0.7v0.7h-0.7zM64.1 516.8h0.7v0.7h-0.7zM62.2 500.1h0.7v0.7h-0.7zM79.4 495.0h0.7v0.7h-0.7zM60.2 510.7h0.7v0.7h-0.7zM93.3 503.8h0.7v0.7h-0.7zM90.4 508.4h0.7v0.7h-0.7zM73.2 516.7h0.7v0.7h-0.7zM90.6 508.3h0.7v0.7h-0.7zM70.1 495.3h0.7v0.7h-0.7zM85.2 497.7h0.7v0.7h-0.7zM59.6 509.3h0.7v0.7h-0.7zM86.1 513.0h0.7v0.7h-0.7zM93.2 506.0h0.7v0.7h-0.7zM89.0 511.4h0.7v0.7h-0.7zM87.0 500.3h0.7v0.7h-0.7zM87.9 503.4h0.7v0.7h-0.7zM71.4 493.4h0.7v0.7h-0.7zM83.2 518.9h0.7v0.7h-0.7zM72.0 490.2h0.7v0.7h-0.7zM59.2 512.9h0.7v0.7h-0.7zM66.1 488.7h0.7v0.7h-0.7zM84.1 493.9h0.7v0.7h-0.7zM94.0 501.8h0.7v0.7h-0.7zM88.2 492.8h0.7v0.7h-0.7zM64.6 498.0h0.7v0.7h-0.7zM80.3 518.2h0.7v0.7h-0.7zM91.7 501.4h0.7v0.7h-0.7zM88.9 499.9h0.7v0.7h-0.7zM91.9 502.0h0.7v0.7h-0.7zM71.3 491.7h0.7v0.7h-0.7zM88.5 508.3h0.7v0.7h-0.7zM62.4 501.2h0.7v0.7h-0.7zM66.3 516.2h0.7v0.7h-0.7zM86.0 511.5h0.7v0.7h-0.7zM80.1 492.9h0.7v0.7h-0.7zM90.1 506.9h0.7v0.7h-0.7zM89.3 497.3h0.7v0.7h-0.7zM90.4 497.8h0.7v0.7h-0.7zM69.6 493.4h0.7v0.7h-0.7zM94.0 505.5h0.7v0.7h-0.7zM86.7 497.4h0.7v0.7h-0.7zM81.6 492.8h0.7v0.7h-0.7zM60.0 508.2h0.7v0.7h-0.7zM78.5 493.0h0.7v0.7h-0.7zM82.5 513.6h0.7v0.7h-0.7zM60.9 513.7h0.7v0.7h-0.7zM60.7 513.4h0.7v0.7h-0.7zM89.5 498.6h0.7v0.7h-0.7zM62.8 501.1h0.7v0.7h-0.7zM83.0 496.4h0.7v0.7h-0.7zM60.1 513.4h0.7v0.7h-0.7zM60.4 499.8h0.7v0.7h-0.7zM84.8 520.0h0.7v0.7h-0.7zM78.8 487.4h0.7v0.7h-0.7zM63.3 513.3h0.7v0.7h-0.7zM77.8 519.8h0.7v0.7h-0.7zM91.4 502.5h0.7v0.7h-0.7zM74.9 522.6h0.7v0.7h-0.7zM86.5 510.7h0.7v0.7h-0.7zM62.6 514.6h0.7v0.7h-0.7zM84.6 494.0h0.7v0.7h-0.7zM84.6 511.7h0.7v0.7h-0.7zM76.8 515.8h0.7v0.7h-0.7zM65.2 513.8h0.7v0.7h-0.7zM67.2 519.8h0.7v0.7h-0.7zM68.4 515.1h0.7v0.7h-0.7zM62.7 517.5h0.7v0.7h-0.7zM83.7 513.6h0.7v0.7h-0.7zM81.3 518.9h0.7v0.7h-0.7zM61.1 509.6h0.7v0.7h-0.7zM59.0 506.1h0.7v0.7h-0.7zM84.0 513.7h0.7v0.7h-0.7zM66.6 494.1h0.7v0.7h-0.7zM68.9 494.4h0.7v0.7h-0.7zM85.2 511.3h0.7v0.7h-0.7zM67.4 514.9h0.7v0.7h-0.7zM62.9 492.7h0.7v0.7h-0.7zM87.9 505.0h0.7v0.7h-0.7zM62.6 499.0h0.7v0.7h-0.7zM79.5 519.6h0.7v0.7h-0.7zM92.4 504.3h0.7v0.7h-0.7zM88.4 506.5h0.7v0.7h-0.7zM86.9 493.5h0.7v0.7h-0.7zM61.7 499.3h0.7v0.7h-0.7zM68.1 493.7h0.7v0.7h-0.7zM87.5 499.8h0.7v0.7h-0.7zM65.1 515.8h0.7v0.7h-0.7zM80.1 517.5h0.7v0.7h-0.7zM87.3 514.9h0.7v0.7h-0.7zM61.6 501.8h0.7v0.7h-0.7zM84.6 490.4h0.7v0.7h-0.7zM81.0 492.2h0.7v0.7h-0.7zM64.1 495.3h0.7v0.7h-0.7zM62.1 500.1h0.7v0.7h-0.7zM76.8 492.2h0.7v0.7h-0.7zM68.9 515.9h0.7v0.7h-0.7zM79.6 491.9h0.7v0.7h-0.7zM64.5 518.6h0.7v0.7h-0.7zM65.9 496.6h0.7v0.7h-0.7zM72.1 494.2h0.7v0.7h-0.7zM87.1 509.9h0.7v0.7h-0.7zM61.3 503.3h0.7v0.7h-0.7zM79.5 514.7h0.7v0.7h-0.7zM94.2 502.1h0.7v0.7h-0.7zM89.0 504.6h0.7v0.7h-0.7zM72.6 487.7h0.7v0.7h-0.7zM72.9 517.0h0.7v0.7h-0.7zM61.1 511.9h0.7v0.7h-0.7zM89.8 497.6h0.7v0.7h-0.7zM90.3 510.6h0.7v0.7h-0.7zM88.2 512.8h0.7v0.7h-0.7zM72.0 516.5h0.7v0.7h-0.7zM66.0 497.2h0.7v0.7h-0.7zM64.9 516.4h0.7v0.7h-0.7zM66.9 495.8h0.7v0.7h-0.7zM89.3 501.3h0.7v0.7h-0.7zM59.5 503.1h0.7v0.7h-0.7zM91.0 501.9h0.7v0.7h-0.7zM64.2 496.5h0.7v0.7h-0.7zM70.6 515.8h0.7v0.7h-0.7zM64.8 496.8h0.7v0.7h-0.7zM73.4 492.0h0.7v0.7h-0.7zM68.7 496.1h0.7v0.7h-0.7zM90.8 509.8h0.7v0.7h-0.7zM67.7 515.8h0.7v0.7h-0.7zM60.5 506.9h0.7v0.7h-0.7zM61.3 499.7h0.7v0.7h-0.7zM60.2 516.7h0.7v0.7h-0.7zM86.2 490.4h0.7v0.7h-0.7zM77.6 516.9h0.7v0.7h-0.7zM69.2 517.3h0.7v0.7h-0.7zM78.3 515.0h0.7v0.7h-0.7zM89.2 501.5h0.7v0.7h-0.7zM69.7 496.0h0.7v0.7h-0.7zM92.5 510.7h0.7v0.7h-0.7zM74.9 494.1h0.7v0.7h-0.7zM62.8 512.1h0.7v0.7h-0.7zM69.0 493.1h0.7v0.7h-0.7zM91.9 509.5h0.7v0.7h-0.7zM70.1 495.3h0.7v0.7h-0.7zM81.7 514.0h0.7v0.7h-0.7zM90.1 508.8h0.7v0.7h-0.7zM66.4 493.5h0.7v0.7h-0.7zM91.3 510.1h0.7v0.7h-0.7zM95.5 502.7h0.7v0.7h-0.7zM84.7 515.3h0.7v0.7h-0.7zM63.4 498.8h0.7v0.7h-0.7zM90.5 513.7h0.7v0.7h-0.7zM92.8 507.0h0.7v0.7h-0.7zM75.3 518.9h0.7v0.7h-0.7zM88.6 510.6h0.7v0.7h-0.7zM60.6 502.7h0.7v0.7h-0.7zM89.2 502.6h0.7v0.7h-0.7zM82.3 514.7h0.7v0.7h-0.7zM67.1 515.5h0.7v0.7h-0.7zM62.8 523.5h0.7v0.7h-0.7zM85.0 496.7h0.7v0.7h-0.7zM61.6 500.1h0.7v0.7h-0.7zM64.3 499.3h0.7v0.7h-0.7zM79.5 486.6h0.7v0.7h-0.7zM66.5 496.6h0.7v0.7h-0.7zM86.5 499.1h0.7v0.7h-0.7zM65.4 495.9h0.7v0.7h-0.7zM85.7 513.9h0.7v0.7h-0.7zM85.0 512.9h0.7v0.7h-0.7zM81.9 515.0h0.7v0.7h-0.7zM88.2 509.0h0.7v0.7h-0.7zM64.6 514.1h0.7v0.7h-0.7zM70.1 491.5h0.7v0.7h-0.7zM87.1 497.6h0.7v0.7h-0.7zM76.0 518.0h0.7v0.7h-0.7zM62.2 512.4h0.7v0.7h-0.7zM82.7 495.3h0.7v0.7h-0.7zM92.0 497.3h0.7v0.7h-0.7zM84.6 496.0h0.7v0.7h-0.7zM90.4 492.1h0.7v0.7h-0.7zM74.3 493.9h0.7v0.7h-0.7zM86.6 498.4h0.7v0.7h-0.7zM63.6 497.0h0.7v0.7h-0.7zM87.6 492.3h0.7v0.7h-0.7zM60.3 502.0h0.7v0.7h-0.7zM82.8 489.2h0.7v0.7h-0.7zM59.8 504.8h0.7v0.7h-0.7zM67.7 496.8h0.7v0.7h-0.7zM88.5 510.4h0.7v0.7h-0.7zM66.3 515.2h0.7v0.7h-0.7zM78.0 489.8h0.7v0.7h-0.7zM73.6 518.4h0.7v0.7h-0.7zM92.3 513.1h0.7v0.7h-0.7zM84.9 495.8h0.7v0.7h-0.7zM79.4 492.2h0.7v0.7h-0.7zM91.9 496.0h0.7v0.7h-0.7zM87.5 512.6h0.7v0.7h-0.7zM91.8 496.9h0.7v0.7h-0.7zM72.6 493.8h0.7v0.7h-0.7zM70.5 495.5h0.7v0.7h-0.7zM82.9 518.1h0.7v0.7h-0.7zM75.6 515.6h0.7v0.7h-0.7zM82.7 520.0h0.7v0.7h-0.7zM77.3 491.4h0.7v0.7h-0.7zM65.5 515.8h0.7v0.7h-0.7zM62.6 498.8h0.7v0.7h-0.7zM86.4 497.6h0.7v0.7h-0.7zM83.0 493.2h0.7v0.7h-0.7zM82.5 492.0h0.7v0.7h-0.7zM61.0 501.6h0.7v0.7h-0.7zM87.1 513.6h0.7v0.7h-0.7zM91.2 495.3h0.7v0.7h-0.7zM70.0 493.9h0.7v0.7h-0.7zM87.8 508.5h0.7v0.7h-0.7zM68.5 521.6h0.7v0.7h-0.7zM68.0 519.0h0.7v0.7h-0.7zM86.7 497.3h0.7v0.7h-0.7zM81.7 487.3h0.7v0.7h-0.7zM61.2 502.0h0.7v0.7h-0.7zM87.5 515.8h0.7v0.7h-0.7zM59.0 499.0h0.7v0.7h-0.7zM83.6 513.8h0.7v0.7h-0.7zM78.4 515.3h0.7v0.7h-0.7zM82.9 494.3h0.7v0.7h-0.7zM75.8 492.8h0.7v0.7h-0.7zM93.7 507.7h0.7v0.7h-0.7zM88.6 507.6h0.7v0.7h-0.7zM80.9 490.4h0.7v0.7h-0.7zM74.1 490.6h0.7v0.7h-0.7zM88.9 498.3h0.7v0.7h-0.7zM91.7 505.3h0.7v0.7h-0.7zM64.2 497.4h0.7v0.7h-0.7zM71.1 494.4h0.7v0.7h-0.7zM93.6 495.1h0.7v0.7h-0.7zM80.4 494.5h0.7v0.7h-0.7zM58.9 504.0h0.7v0.7h-0.7zM65.3 516.4h0.7v0.7h-0.7zM59.3 509.2h0.7v0.7h-0.7zM87.0 509.0h0.7v0.7h-0.7zM61.9 500.7h0.7v0.7h-0.7zM67.1 519.0h0.7v0.7h-0.7zM59.9 516.4h0.7v0.7h-0.7zM95.4 504.7h0.7v0.7h-0.7zM87.7 510.9h0.7v0.7h-0.7zM63.0 500.8h0.7v0.7h-0.7zM63.0 514.6h0.7v0.7h-0.7zM67.4 515.7h0.7v0.7h-0.7zM89.6 496.9h0.7v0.7h-0.7zM61.7 503.3h0.7v0.7h-0.7zM88.5 498.8h0.7v0.7h-0.7zM81.0 492.1h0.7v0.7h-0.7zM89.3 500.1h0.7v0.7h-0.7zM86.3 495.0h0.7v0.7h-0.7zM62.3 515.1h0.7v0.7h-0.7zM69.5 494.6h0.7v0.7h-0.7zM80.8 515.5h0.7v0.7h-0.7zM62.6 512.0h0.7v0.7h-0.7zM62.6 495.4h0.7v0.7h-0.7zM78.7 516.9h0.7v0.7h-0.7zM63.0 511.8h0.7v0.7h-0.7zM62.4 511.5h0.7v0.7h-0.7zM83.1 495.9h0.7v0.7h-0.7zM85.1 494.0h0.7v0.7h-0.7zM87.0 513.4h0.7v0.7h-0.7zM74.3 516.7h0.7v0.7h-0.7zM62.4 511.9h0.7v0.7h-0.7zM68.8 494.6h0.7v0.7h-0.7zM84.0 518.6h0.7v0.7h-0.7zM88.6 513.2h0.7v0.7h-0.7zM73.0 516.4h0.7v0.7h-0.7zM72.0 495.1h0.7v0.7h-0.7zM76.2 518.4h0.7v0.7h-0.7zM69.5 490.3h0.7v0.7h-0.7zM69.1 495.8h0.7v0.7h-0.7zM68.1 495.9h0.7v0.7h-0.7zM91.0 502.8h0.7v0.7h-0.7zM72.7 515.9h0.7v0.7h-0.7zM73.7 494.2h0.7v0.7h-0.7zM90.0 499.9h0.7v0.7h-0.7zM95.9 503.0h0.7v0.7h-0.7zM87.1 510.1h0.7v0.7h-0.7zM63.8 498.9h0.7v0.7h-0.7zM93.3 503.6h0.7v0.7h-0.7zM71.0 492.3h0.7v0.7h-0.7zM85.1 513.4h0.7v0.7h-0.7zM87.8 511.7h0.7v0.7h-0.7zM67.5 517.2h0.7v0.7h-0.7zM77.8 517.9h0.7v0.7h-0.7zM66.1 497.0h0.7v0.7h-0.7zM64.7 515.6h0.7v0.7h-0.7zM88.1 502.8h0.7v0.7h-0.7zM62.3 515.4h0.7v0.7h-0.7zM60.8 504.1h0.7v0.7h-0.7zM69.4 491.5h0.7v0.7h-0.7zM85.7 496.8h0.7v0.7h-0.7zM87.9 502.6h0.7v0.7h-0.7zM59.5 504.4h0.7v0.7h-0.7zM80.4 490.4h0.7v0.7h-0.7zM62.0 516.0h0.7v0.7h-0.7zM88.9 497.4h0.7v0.7h-0.7zM89.9 515.1h0.7v0.7h-0.7zM80.2 514.9h0.7v0.7h-0.7zM68.7 493.9h0.7v0.7h-0.7zM60.5 506.5h0.7v0.7h-0.7zM68.3 516.8h0.7v0.7h-0.7zM88.1 509.4h0.7v0.7h-0.7zM89.8 497.8h0.7v0.7h-0.7zM83.7 512.9h0.7v0.7h-0.7zM65.0 513.9h0.7v0.7h-0.7zM61.4 496.6h0.7v0.7h-0.7zM59.9 513.3h0.7v0.7h-0.7zM67.8 495.4h0.7v0.7h-0.7zM64.4 513.7h0.7v0.7h-0.7zM63.0 496.1h0.7v0.7h-0.7zM61.5 504.5h0.7v0.7h-0.7zM83.2 513.5h0.7v0.7h-0.7zM78.2 517.4h0.7v0.7h-0.7zM78.3 517.4h0.7v0.7h-0.7zM85.8 489.4h0.7v0.7h-0.7zM81.3 492.0h0.7v0.7h-0.7zM66.1 517.6h0.7v0.7h-0.7zM92.0 501.5h0.7v0.7h-0.7zM90.7 507.0h0.7v0.7h-0.7zM81.2 516.4h0.7v0.7h-0.7zM90.2 501.9h0.7v0.7h-0.7zM65.5 494.5h0.7v0.7h-0.7zM88.3 501.3h0.7v0.7h-0.7zM68.1 518.5h0.7v0.7h-0.7zM72.6 516.7h0.7v0.7h-0.7zM87.8 508.9h0.7v0.7h-0.7zM69.5 518.7h0.7v0.7h-0.7zM88.2 515.4h0.7v0.7h-0.7zM80.8 495.3h0.7v0.7h-0.7zM61.2 503.0h0.7v0.7h-0.7zM75.1 516.4h0.7v0.7h-0.7zM80.1 519.0h0.7v0.7h-0.7zM83.3 513.6h0.7v0.7h-0.7zM86.5 490.6h0.7v0.7h-0.7zM76.0 518.3h0.7v0.7h-0.7zM73.8 518.1h0.7v0.7h-0.7zM73.7 517.3h0.7v0.7h-0.7zM61.3 507.0h0.7v0.7h-0.7zM62.9 516.3h0.7v0.7h-0.7zM88.3 503.7h0.7v0.7h-0.7zM60.0 496.1h0.7v0.7h-0.7zM80.2 515.4h0.7v0.7h-0.7zM68.9 493.6h0.7v0.7h-0.7zM72.2 492.3h0.7v0.7h-0.7zM64.0 514.1h0.7v0.7h-0.7zM65.6 516.0h0.7v0.7h-0.7zM70.0 515.6h0.7v0.7h-0.7zM60.6 503.3h0.7v0.7h-0.7zM89.1 497.3h0.7v0.7h-0.7zM63.7 516.6h0.7v0.7h-0.7zM71.2 520.1h0.7v0.7h-0.7zM79.4 516.5h0.7v0.7h-0.7zM59.5 507.2h0.7v0.7h-0.7zM72.2 495.1h0.7v0.7h-0.7zM64.2 512.9h0.7v0.7h-0.7zM86.9 509.4h0.7v0.7h-0.7zM88.0 508.8h0.7v0.7h-0.7zM69.2 491.2h0.7v0.7h-0.7zM89.3 507.0h0.7v0.7h-0.7zM71.0 517.4h0.7v0.7h-0.7zM66.1 519.7h0.7v0.7h-0.7zM81.0 494.3h0.7v0.7h-0.7zM66.8 514.9h0.7v0.7h-0.7zM83.1 512.9h0.7v0.7h-0.7zM67.5 495.7h0.7v0.7h-0.7zM76.9 516.6h0.7v0.7h-0.7zM89.2 505.6h0.7v0.7h-0.7zM65.4 497.2h0.7v0.7h-0.7zM79.1 493.4h0.7v0.7h-0.7zM82.4 493.5h0.7v0.7h-0.7zM70.4 489.6h0.7v0.7h-0.7zM65.2 515.9h0.7v0.7h-0.7zM82.9 494.5h0.7v0.7h-0.7zM85.3 494.0h0.7v0.7h-0.7zM87.9 498.2h0.7v0.7h-0.7zM59.6 505.0h0.7v0.7h-0.7zM60.5 501.6h0.7v0.7h-0.7zM80.0 494.1h0.7v0.7h-0.7zM89.6 502.4h0.7v0.7h-0.7zM86.9 498.8h0.7v0.7h-0.7zM75.6 493.1h0.7v0.7h-0.7zM72.3 493.3h0.7v0.7h-0.7zM84.8 497.1h0.7v0.7h-0.7zM64.0 496.7h0.7v0.7h-0.7zM84.2 513.7h0.7v0.7h-0.7zM69.5 495.3h0.7v0.7h-0.7zM62.3 515.9h0.7v0.7h-0.7zM64.2 517.8h0.7v0.7h-0.7zM96.8 504.8h0.7v0.7h-0.7z" fill="#3f55ac" fill-opacity="0.9"/>
<ellipse cx="74.6" cy="505.2" rx="14.4" ry="11.0" fill="#3d53a6" transform="rotate(-12 74.6 505.2)"/>
<ellipse cx="69" cy="503.6" rx="6" ry="4.4" fill="#4866bf" opacity="0.5"/>
<path d="M59.0 497 L59.2 540 Q61.5 543.6 64.9 540.6 L65.4 524 L66.6 512 L70 500Z" fill="#3d53a6"/>
<path d="M65.7 531.3h0.6v0.6h-0.6zM65.1 515.0h0.6v0.6h-0.6zM65.3 517.6h0.6v0.6h-0.6zM66.8 512.2h0.6v0.6h-0.6zM65.3 518.3h0.6v0.6h-0.6zM65.7 532.7h0.6v0.6h-0.6zM65.7 536.9h0.6v0.6h-0.6zM65.0 538.0h0.6v0.6h-0.6zM65.7 519.4h0.6v0.6h-0.6zM65.3 515.4h0.6v0.6h-0.6zM66.3 524.4h0.6v0.6h-0.6zM65.3 536.9h0.6v0.6h-0.6zM65.1 523.1h0.6v0.6h-0.6zM65.3 526.5h0.6v0.6h-0.6zM65.8 538.4h0.6v0.6h-0.6zM65.4 520.5h0.6v0.6h-0.6zM65.7 532.6h0.6v0.6h-0.6zM65.8 541.8h0.6v0.6h-0.6zM65.7 523.3h0.6v0.6h-0.6zM65.0 533.4h0.6v0.6h-0.6zM65.1 530.5h0.6v0.6h-0.6zM65.8 540.2h0.6v0.6h-0.6zM66.0 531.3h0.6v0.6h-0.6zM66.3 516.9h0.6v0.6h-0.6zM65.8 512.9h0.6v0.6h-0.6zM65.0 533.4h0.6v0.6h-0.6zM66.8 530.8h0.6v0.6h-0.6zM65.8 537.3h0.6v0.6h-0.6zM65.1 531.0h0.6v0.6h-0.6zM65.2 537.9h0.6v0.6h-0.6zM65.9 518.0h0.6v0.6h-0.6zM65.3 531.8h0.6v0.6h-0.6zM66.3 536.1h0.6v0.6h-0.6zM65.5 534.0h0.6v0.6h-0.6zM65.1 514.9h0.6v0.6h-0.6zM65.4 534.0h0.6v0.6h-0.6zM66.1 531.6h0.6v0.6h-0.6zM65.4 524.0h0.6v0.6h-0.6zM66.5 530.5h0.6v0.6h-0.6zM65.7 528.1h0.6v0.6h-0.6zM66.1 518.8h0.6v0.6h-0.6zM65.0 537.4h0.6v0.6h-0.6zM65.4 541.9h0.6v0.6h-0.6zM65.2 513.3h0.6v0.6h-0.6zM65.6 536.5h0.6v0.6h-0.6zM66.5 522.6h0.6v0.6h-0.6zM65.4 533.4h0.6v0.6h-0.6zM66.5 530.4h0.6v0.6h-0.6zM65.1 540.8h0.6v0.6h-0.6zM66.0 529.0h0.6v0.6h-0.6zM67.6 541.5h0.6v0.6h-0.6zM65.9 515.2h0.6v0.6h-0.6zM65.3 524.8h0.6v0.6h-0.6zM65.1 519.5h0.6v0.6h-0.6zM65.4 535.3h0.6v0.6h-0.6zM65.3 537.1h0.6v0.6h-0.6zM66.7 526.7h0.6v0.6h-0.6zM67.1 522.5h0.6v0.6h-0.6zM65.7 519.6h0.6v0.6h-0.6zM66.6 527.7h0.6v0.6h-0.6zM65.7 532.6h0.6v0.6h-0.6zM65.7 513.4h0.6v0.6h-0.6zM66.2 538.8h0.6v0.6h-0.6zM65.6 534.4h0.6v0.6h-0.6zM65.4 542.9h0.6v0.6h-0.6zM66.5 512.7h0.6v0.6h-0.6zM65.1 542.6h0.6v0.6h-0.6zM67.1 517.8h0.6v0.6h-0.6zM65.5 538.4h0.6v0.6h-0.6zM65.2 519.4h0.6v0.6h-0.6zM65.6 531.2h0.6v0.6h-0.6zM65.3 540.8h0.6v0.6h-0.6zM66.1 542.7h0.6v0.6h-0.6zM66.8 538.2h0.6v0.6h-0.6zM65.8 518.9h0.6v0.6h-0.6zM65.3 517.4h0.6v0.6h-0.6zM66.7 541.7h0.6v0.6h-0.6zM65.7 541.7h0.6v0.6h-0.6zM66.4 520.9h0.6v0.6h-0.6zM65.5 528.1h0.6v0.6h-0.6zM65.7 524.9h0.6v0.6h-0.6zM65.1 512.1h0.6v0.6h-0.6zM65.5 528.2h0.6v0.6h-0.6zM65.0 518.5h0.6v0.6h-0.6zM67.8 516.3h0.6v0.6h-0.6zM66.4 539.5h0.6v0.6h-0.6zM66.7 512.8h0.6v0.6h-0.6zM65.0 528.1h0.6v0.6h-0.6zM65.3 519.9h0.6v0.6h-0.6zM65.0 538.0h0.6v0.6h-0.6zM66.3 523.7h0.6v0.6h-0.6zM65.5 536.1h0.6v0.6h-0.6zM65.6 541.3h0.6v0.6h-0.6zM67.2 535.5h0.6v0.6h-0.6zM65.6 536.5h0.6v0.6h-0.6zM65.0 536.6h0.6v0.6h-0.6zM66.3 536.1h0.6v0.6h-0.6zM65.5 536.8h0.6v0.6h-0.6zM65.7 541.1h0.6v0.6h-0.6zM65.7 530.0h0.6v0.6h-0.6zM66.0 522.6h0.6v0.6h-0.6zM65.5 527.8h0.6v0.6h-0.6zM65.1 527.1h0.6v0.6h-0.6zM65.8 518.0h0.6v0.6h-0.6zM65.3 527.1h0.6v0.6h-0.6zM65.1 543.0h0.6v0.6h-0.6zM67.2 530.8h0.6v0.6h-0.6zM66.0 528.4h0.6v0.6h-0.6zM65.7 521.2h0.6v0.6h-0.6zM65.3 519.5h0.6v0.6h-0.6zM67.1 524.7h0.6v0.6h-0.6zM65.5 537.2h0.6v0.6h-0.6zM67.1 531.0h0.6v0.6h-0.6zM65.0 541.1h0.6v0.6h-0.6zM65.5 534.0h0.6v0.6h-0.6zM65.5 519.4h0.6v0.6h-0.6zM65.4 539.5h0.6v0.6h-0.6zM65.8 535.0h0.6v0.6h-0.6zM66.2 516.0h0.6v0.6h-0.6zM65.4 539.6h0.6v0.6h-0.6zM65.6 527.7h0.6v0.6h-0.6zM65.1 517.5h0.6v0.6h-0.6zM67.3 520.2h0.6v0.6h-0.6zM66.6 528.1h0.6v0.6h-0.6zM65.3 517.5h0.6v0.6h-0.6zM67.1 541.9h0.6v0.6h-0.6zM65.2 517.2h0.6v0.6h-0.6zM67.0 531.3h0.6v0.6h-0.6zM67.6 512.3h0.6v0.6h-0.6zM65.8 512.5h0.6v0.6h-0.6zM65.6 528.2h0.6v0.6h-0.6zM65.2 521.9h0.6v0.6h-0.6zM66.9 512.5h0.6v0.6h-0.6zM65.0 519.1h0.6v0.6h-0.6zM66.0 520.7h0.6v0.6h-0.6zM65.0 535.8h0.6v0.6h-0.6zM65.1 521.9h0.6v0.6h-0.6zM65.1 532.6h0.6v0.6h-0.6zM66.2 513.2h0.6v0.6h-0.6zM66.2 538.8h0.6v0.6h-0.6zM68.1 534.7h0.6v0.6h-0.6zM65.1 518.0h0.6v0.6h-0.6zM68.1 524.9h0.6v0.6h-0.6zM65.8 528.4h0.6v0.6h-0.6zM65.0 525.4h0.6v0.6h-0.6zM65.4 530.3h0.6v0.6h-0.6zM66.0 541.4h0.6v0.6h-0.6zM65.3 526.9h0.6v0.6h-0.6zM65.7 526.1h0.6v0.6h-0.6zM65.2 520.7h0.6v0.6h-0.6zM65.7 512.4h0.6v0.6h-0.6zM66.2 524.5h0.6v0.6h-0.6zM65.1 513.8h0.6v0.6h-0.6zM66.5 512.1h0.6v0.6h-0.6zM65.9 522.4h0.6v0.6h-0.6zM65.1 525.0h0.6v0.6h-0.6zM65.1 512.5h0.6v0.6h-0.6zM65.9 514.6h0.6v0.6h-0.6zM65.1 532.0h0.6v0.6h-0.6zM65.2 531.9h0.6v0.6h-0.6zM66.6 520.0h0.6v0.6h-0.6zM65.9 532.0h0.6v0.6h-0.6zM66.7 534.5h0.6v0.6h-0.6zM66.3 528.3h0.6v0.6h-0.6zM65.5 520.2h0.6v0.6h-0.6zM66.2 518.4h0.6v0.6h-0.6zM67.4 513.9h0.6v0.6h-0.6zM65.4 516.8h0.6v0.6h-0.6zM67.0 527.0h0.6v0.6h-0.6zM65.1 537.3h0.6v0.6h-0.6zM65.2 520.2h0.6v0.6h-0.6zM65.3 513.3h0.6v0.6h-0.6zM65.1 517.6h0.6v0.6h-0.6zM66.3 521.1h0.6v0.6h-0.6zM65.8 539.4h0.6v0.6h-0.6zM65.2 541.2h0.6v0.6h-0.6zM65.0 539.2h0.6v0.6h-0.6zM65.7 521.0h0.6v0.6h-0.6zM65.3 514.8h0.6v0.6h-0.6zM66.3 524.6h0.6v0.6h-0.6zM65.8 512.5h0.6v0.6h-0.6zM65.6 523.1h0.6v0.6h-0.6zM65.8 537.2h0.6v0.6h-0.6zM65.7 517.8h0.6v0.6h-0.6zM65.4 513.3h0.6v0.6h-0.6zM66.5 539.7h0.6v0.6h-0.6zM65.6 532.5h0.6v0.6h-0.6zM66.5 525.4h0.6v0.6h-0.6zM65.4 536.5h0.6v0.6h-0.6zM65.6 531.2h0.6v0.6h-0.6zM65.6 534.4h0.6v0.6h-0.6zM65.4 538.6h0.6v0.6h-0.6zM68.2 533.7h0.6v0.6h-0.6zM66.5 529.1h0.6v0.6h-0.6zM65.4 529.7h0.6v0.6h-0.6zM66.9 536.6h0.6v0.6h-0.6zM65.8 522.5h0.6v0.6h-0.6zM66.3 531.7h0.6v0.6h-0.6zM66.0 520.2h0.6v0.6h-0.6zM65.3 539.1h0.6v0.6h-0.6zM67.0 517.2h0.6v0.6h-0.6zM66.9 518.1h0.6v0.6h-0.6zM65.4 527.6h0.6v0.6h-0.6zM65.6 540.6h0.6v0.6h-0.6zM66.9 532.9h0.6v0.6h-0.6zM65.4 532.3h0.6v0.6h-0.6zM65.2 532.9h0.6v0.6h-0.6zM66.3 520.1h0.6v0.6h-0.6zM65.1 534.9h0.6v0.6h-0.6zM66.0 524.2h0.6v0.6h-0.6zM65.8 535.1h0.6v0.6h-0.6zM65.5 523.6h0.6v0.6h-0.6zM65.5 536.1h0.6v0.6h-0.6zM65.2 530.2h0.6v0.6h-0.6zM65.2 523.0h0.6v0.6h-0.6zM65.7 541.5h0.6v0.6h-0.6zM65.4 534.7h0.6v0.6h-0.6zM65.0 512.5h0.6v0.6h-0.6zM65.3 527.8h0.6v0.6h-0.6zM65.0 518.9h0.6v0.6h-0.6zM65.4 533.3h0.6v0.6h-0.6zM65.8 520.0h0.6v0.6h-0.6zM66.1 512.1h0.6v0.6h-0.6zM65.6 519.8h0.6v0.6h-0.6zM67.6 528.0h0.6v0.6h-0.6zM65.3 523.9h0.6v0.6h-0.6zM65.1 537.3h0.6v0.6h-0.6zM65.2 541.2h0.6v0.6h-0.6zM65.1 528.5h0.6v0.6h-0.6zM66.2 528.3h0.6v0.6h-0.6zM65.0 522.5h0.6v0.6h-0.6zM65.4 523.0h0.6v0.6h-0.6zM65.7 532.8h0.6v0.6h-0.6zM65.6 534.3h0.6v0.6h-0.6zM66.0 526.8h0.6v0.6h-0.6zM65.6 514.6h0.6v0.6h-0.6zM65.2 516.9h0.6v0.6h-0.6zM65.2 521.0h0.6v0.6h-0.6zM66.0 531.8h0.6v0.6h-0.6zM65.1 518.2h0.6v0.6h-0.6zM65.1 513.4h0.6v0.6h-0.6zM65.1 522.3h0.6v0.6h-0.6zM65.3 531.3h0.6v0.6h-0.6zM65.0 531.6h0.6v0.6h-0.6zM65.4 538.5h0.6v0.6h-0.6zM65.1 515.9h0.6v0.6h-0.6zM65.9 527.4h0.6v0.6h-0.6zM66.1 521.2h0.6v0.6h-0.6zM67.0 535.8h0.6v0.6h-0.6zM66.0 520.9h0.6v0.6h-0.6zM65.7 538.9h0.6v0.6h-0.6zM65.6 539.5h0.6v0.6h-0.6zM65.1 512.9h0.6v0.6h-0.6zM65.3 534.6h0.6v0.6h-0.6zM65.2 515.1h0.6v0.6h-0.6zM65.4 537.7h0.6v0.6h-0.6zM66.2 526.9h0.6v0.6h-0.6zM65.0 536.0h0.6v0.6h-0.6zM65.1 521.2h0.6v0.6h-0.6zM67.4 523.2h0.6v0.6h-0.6zM66.7 519.6h0.6v0.6h-0.6zM65.1 516.2h0.6v0.6h-0.6zM65.3 520.5h0.6v0.6h-0.6zM65.5 512.9h0.6v0.6h-0.6zM65.6 519.6h0.6v0.6h-0.6zM65.5 528.2h0.6v0.6h-0.6zM65.5 513.1h0.6v0.6h-0.6zM65.8 538.4h0.6v0.6h-0.6zM66.1 513.6h0.6v0.6h-0.6zM65.2 540.6h0.6v0.6h-0.6zM65.7 535.9h0.6v0.6h-0.6zM65.0 542.2h0.6v0.6h-0.6zM65.1 513.2h0.6v0.6h-0.6zM66.6 517.6h0.6v0.6h-0.6zM65.5 514.0h0.6v0.6h-0.6zM66.4 531.8h0.6v0.6h-0.6zM65.0 540.5h0.6v0.6h-0.6zM65.4 540.4h0.6v0.6h-0.6zM65.6 518.2h0.6v0.6h-0.6zM66.7 524.4h0.6v0.6h-0.6zM66.3 517.5h0.6v0.6h-0.6zM65.5 517.6h0.6v0.6h-0.6zM65.4 541.2h0.6v0.6h-0.6zM65.3 533.7h0.6v0.6h-0.6zM65.8 513.3h0.6v0.6h-0.6zM65.1 531.4h0.6v0.6h-0.6zM65.1 515.9h0.6v0.6h-0.6zM67.3 534.3h0.6v0.6h-0.6zM65.2 528.4h0.6v0.6h-0.6zM65.6 526.2h0.6v0.6h-0.6zM66.0 533.3h0.6v0.6h-0.6zM65.7 516.7h0.6v0.6h-0.6zM67.2 521.1h0.6v0.6h-0.6zM67.3 541.9h0.6v0.6h-0.6zM66.8 537.1h0.6v0.6h-0.6zM65.5 519.7h0.6v0.6h-0.6zM65.7 534.5h0.6v0.6h-0.6zM66.5 517.5h0.6v0.6h-0.6zM65.2 538.4h0.6v0.6h-0.6zM65.1 532.4h0.6v0.6h-0.6zM65.4 531.7h0.6v0.6h-0.6zM66.4 535.6h0.6v0.6h-0.6zM65.6 519.8h0.6v0.6h-0.6zM65.5 518.9h0.6v0.6h-0.6zM65.3 539.6h0.6v0.6h-0.6zM65.1 538.1h0.6v0.6h-0.6zM66.2 527.1h0.6v0.6h-0.6zM65.3 528.5h0.6v0.6h-0.6zM66.6 519.1h0.6v0.6h-0.6zM65.9 519.0h0.6v0.6h-0.6zM65.9 517.4h0.6v0.6h-0.6zM65.8 518.3h0.6v0.6h-0.6zM66.9 517.6h0.6v0.6h-0.6zM65.2 521.7h0.6v0.6h-0.6zM66.2 539.9h0.6v0.6h-0.6zM65.2 518.9h0.6v0.6h-0.6zM65.2 521.9h0.6v0.6h-0.6zM65.0 514.0h0.6v0.6h-0.6zM65.9 538.0h0.6v0.6h-0.6zM65.6 542.2h0.6v0.6h-0.6zM65.1 542.6h0.6v0.6h-0.6zM66.1 520.5h0.6v0.6h-0.6zM65.6 521.9h0.6v0.6h-0.6zM65.5 519.7h0.6v0.6h-0.6zM65.6 529.6h0.6v0.6h-0.6zM65.9 521.4h0.6v0.6h-0.6zM66.2 530.6h0.6v0.6h-0.6zM65.2 529.8h0.6v0.6h-0.6zM65.4 530.5h0.6v0.6h-0.6zM65.4 521.6h0.6v0.6h-0.6zM65.3 515.0h0.6v0.6h-0.6zM65.3 532.7h0.6v0.6h-0.6zM65.5 531.9h0.6v0.6h-0.6zM65.2 529.6h0.6v0.6h-0.6zM65.5 523.3h0.6v0.6h-0.6zM65.4 515.2h0.6v0.6h-0.6zM66.1 533.2h0.6v0.6h-0.6zM65.6 530.5h0.6v0.6h-0.6zM65.4 541.5h0.6v0.6h-0.6zM67.0 536.1h0.6v0.6h-0.6zM65.1 512.9h0.6v0.6h-0.6zM66.4 518.8h0.6v0.6h-0.6zM65.9 539.0h0.6v0.6h-0.6zM65.8 528.2h0.6v0.6h-0.6zM65.3 541.5h0.6v0.6h-0.6zM65.8 527.1h0.6v0.6h-0.6zM65.5 520.2h0.6v0.6h-0.6zM65.0 541.4h0.6v0.6h-0.6zM65.9 531.6h0.6v0.6h-0.6zM65.6 529.4h0.6v0.6h-0.6zM58.9 529.3h0.6v0.6h-0.6zM59.0 507.8h0.6v0.6h-0.6zM59.0 522.6h0.6v0.6h-0.6zM58.7 527.5h0.6v0.6h-0.6zM58.8 523.3h0.6v0.6h-0.6zM59.0 498.9h0.6v0.6h-0.6zM58.0 524.3h0.6v0.6h-0.6zM58.6 500.7h0.6v0.6h-0.6zM58.8 530.5h0.6v0.6h-0.6zM59.0 519.5h0.6v0.6h-0.6zM59.1 508.7h0.6v0.6h-0.6zM59.1 499.1h0.6v0.6h-0.6zM58.8 514.3h0.6v0.6h-0.6zM58.3 541.6h0.6v0.6h-0.6zM59.1 513.5h0.6v0.6h-0.6zM58.8 500.9h0.6v0.6h-0.6zM58.9 498.6h0.6v0.6h-0.6zM59.1 537.2h0.6v0.6h-0.6zM58.7 529.3h0.6v0.6h-0.6zM58.6 517.1h0.6v0.6h-0.6zM58.6 508.0h0.6v0.6h-0.6zM58.8 506.3h0.6v0.6h-0.6zM58.5 510.3h0.6v0.6h-0.6zM58.6 505.0h0.6v0.6h-0.6zM58.9 529.8h0.6v0.6h-0.6zM58.6 515.5h0.6v0.6h-0.6zM58.9 501.2h0.6v0.6h-0.6zM58.8 502.8h0.6v0.6h-0.6zM58.5 529.3h0.6v0.6h-0.6zM58.9 528.3h0.6v0.6h-0.6zM59.1 514.3h0.6v0.6h-0.6zM59.1 512.6h0.6v0.6h-0.6zM58.8 498.8h0.6v0.6h-0.6zM58.7 524.2h0.6v0.6h-0.6zM58.7 506.6h0.6v0.6h-0.6zM58.7 525.7h0.6v0.6h-0.6zM58.3 537.8h0.6v0.6h-0.6zM59.0 538.7h0.6v0.6h-0.6zM58.4 525.7h0.6v0.6h-0.6zM58.9 511.1h0.6v0.6h-0.6zM59.0 537.9h0.6v0.6h-0.6zM58.9 498.9h0.6v0.6h-0.6zM58.8 515.0h0.6v0.6h-0.6zM59.0 501.7h0.6v0.6h-0.6zM58.7 536.5h0.6v0.6h-0.6zM59.0 505.9h0.6v0.6h-0.6zM58.7 509.9h0.6v0.6h-0.6zM59.0 498.8h0.6v0.6h-0.6zM59.0 519.5h0.6v0.6h-0.6zM59.1 533.9h0.6v0.6h-0.6zM58.1 525.0h0.6v0.6h-0.6zM58.4 509.2h0.6v0.6h-0.6zM58.9 525.9h0.6v0.6h-0.6zM58.7 502.3h0.6v0.6h-0.6zM58.5 497.8h0.6v0.6h-0.6zM59.1 522.0h0.6v0.6h-0.6zM59.1 528.5h0.6v0.6h-0.6zM59.0 530.1h0.6v0.6h-0.6zM59.1 525.1h0.6v0.6h-0.6zM58.8 540.7h0.6v0.6h-0.6zM59.0 498.8h0.6v0.6h-0.6zM58.4 526.0h0.6v0.6h-0.6zM58.7 530.8h0.6v0.6h-0.6zM58.4 509.7h0.6v0.6h-0.6zM58.7 508.5h0.6v0.6h-0.6zM58.6 512.8h0.6v0.6h-0.6zM58.7 512.9h0.6v0.6h-0.6zM58.9 521.8h0.6v0.6h-0.6zM58.5 521.9h0.6v0.6h-0.6zM58.7 513.0h0.6v0.6h-0.6zM58.6 518.4h0.6v0.6h-0.6zM58.5 497.1h0.6v0.6h-0.6zM58.8 527.7h0.6v0.6h-0.6zM58.9 497.5h0.6v0.6h-0.6zM59.0 500.9h0.6v0.6h-0.6zM59.0 520.7h0.6v0.6h-0.6zM59.0 514.2h0.6v0.6h-0.6zM59.1 520.4h0.6v0.6h-0.6zM58.6 535.0h0.6v0.6h-0.6zM58.9 539.1h0.6v0.6h-0.6zM59.0 505.7h0.6v0.6h-0.6zM59.1 515.2h0.6v0.6h-0.6zM59.0 524.9h0.6v0.6h-0.6zM57.9 514.2h0.6v0.6h-0.6zM58.8 499.4h0.6v0.6h-0.6zM58.9 525.2h0.6v0.6h-0.6zM59.0 504.8h0.6v0.6h-0.6zM58.8 529.3h0.6v0.6h-0.6zM58.4 498.6h0.6v0.6h-0.6zM59.0 519.7h0.6v0.6h-0.6zM58.6 515.7h0.6v0.6h-0.6zM58.8 503.5h0.6v0.6h-0.6zM58.2 512.4h0.6v0.6h-0.6zM58.9 508.1h0.6v0.6h-0.6zM58.8 516.4h0.6v0.6h-0.6zM58.9 516.0h0.6v0.6h-0.6zM58.3 498.2h0.6v0.6h-0.6zM58.3 517.3h0.6v0.6h-0.6zM58.4 531.0h0.6v0.6h-0.6zM59.0 509.0h0.6v0.6h-0.6zM59.0 528.8h0.6v0.6h-0.6zM58.9 541.3h0.6v0.6h-0.6zM59.0 534.5h0.6v0.6h-0.6zM58.9 524.4h0.6v0.6h-0.6zM59.1 538.2h0.6v0.6h-0.6zM58.4 513.1h0.6v0.6h-0.6zM58.7 514.4h0.6v0.6h-0.6zM58.7 517.0h0.6v0.6h-0.6zM58.7 535.0h0.6v0.6h-0.6zM58.6 535.3h0.6v0.6h-0.6zM59.0 511.1h0.6v0.6h-0.6zM59.1 511.3h0.6v0.6h-0.6zM58.9 509.2h0.6v0.6h-0.6zM59.0 531.7h0.6v0.6h-0.6zM58.9 535.3h0.6v0.6h-0.6zM58.6 512.8h0.6v0.6h-0.6zM59.0 529.3h0.6v0.6h-0.6zM59.0 530.4h0.6v0.6h-0.6zM59.1 536.8h0.6v0.6h-0.6zM58.9 502.0h0.6v0.6h-0.6z" fill="#4055aa" fill-opacity="0.8"/>
<path d="M59.8 508 L60.1 538.5 L62.6 538.5 L62.2 512 L61.4 508Z" fill="#62b4f2"/>
<ellipse cx="61.9" cy="538" rx="1.3" ry="3.0" fill="#a8d852"/>
<ellipse cx="78.7" cy="501.7" rx="19.7" ry="21.2" fill="none" stroke="#222" stroke-width="0.9" transform="rotate(-20 78.7 501.7)"/>
<line x1="98.3" y1="495.7" x2="133" y2="495.7" stroke="#111" stroke-width="1" />
<path d="M132.4 492.6 L138.4 495.7 L132.4 498.8Z" fill="#000"/>
<rect x="39.6" y="472.4" width="91" height="91.4" fill="none" stroke="#8c8c8c" stroke-width="0.7" />
<path d="M39.6 472.4V563.8H130.6" fill="none" stroke="#444" stroke-width="0.9"/>
<line x1="37.4" y1="481.4" x2="39.6" y2="481.4" stroke="#444" stroke-width="0.8" />
<text x="36" y="484.8" font-size="8.8" text-anchor="end" fill="#1a1a1a">10<tspan dy="-2.8" font-size="6">5</tspan></text>
<line x1="37.4" y1="503" x2="39.6" y2="503" stroke="#444" stroke-width="0.8" />
<text x="36" y="506.4" font-size="8.8" text-anchor="end" fill="#1a1a1a">10<tspan dy="-2.8" font-size="6">4</tspan></text>
<line x1="37.4" y1="527.5" x2="39.6" y2="527.5" stroke="#444" stroke-width="0.8" />
<text x="36" y="530.9" font-size="8.8" text-anchor="end" fill="#1a1a1a">10<tspan dy="-2.8" font-size="6">3</tspan></text>
<line x1="37.4" y1="542.5" x2="39.6" y2="542.5" stroke="#444" stroke-width="0.8" />
<text x="32.9" y="545.6" font-size="8.8" text-anchor="end" fill="#1a1a1a">0</text>
<line x1="37.4" y1="558.8" x2="39.6" y2="558.8" stroke="#444" stroke-width="0.8" />
<text x="36" y="562.2" font-size="8.8" text-anchor="end" fill="#1a1a1a">–10<tspan dy="-2.8" font-size="6">3</tspan></text>
<line x1="38.4" y1="496.5" x2="39.6" y2="496.5" stroke="#444" stroke-width="0.5" />
<line x1="38.4" y1="492.69" x2="39.6" y2="492.69" stroke="#444" stroke-width="0.5" />
<line x1="38.4" y1="490" x2="39.6" y2="490" stroke="#444" stroke-width="0.5" />
<line x1="38.4" y1="487.9" x2="39.6" y2="487.9" stroke="#444" stroke-width="0.5" />
<line x1="38.4" y1="486.19" x2="39.6" y2="486.19" stroke="#444" stroke-width="0.5" />
<line x1="38.4" y1="484.75" x2="39.6" y2="484.75" stroke="#444" stroke-width="0.5" />
<line x1="38.4" y1="483.49" x2="39.6" y2="483.49" stroke="#444" stroke-width="0.5" />
<line x1="38.4" y1="482.39" x2="39.6" y2="482.39" stroke="#444" stroke-width="0.5" />
<line x1="38.4" y1="520.12" x2="39.6" y2="520.12" stroke="#444" stroke-width="0.5" />
<line x1="38.4" y1="515.81" x2="39.6" y2="515.81" stroke="#444" stroke-width="0.5" />
<line x1="38.4" y1="512.75" x2="39.6" y2="512.75" stroke="#444" stroke-width="0.5" />
<line x1="38.4" y1="510.38" x2="39.6" y2="510.38" stroke="#444" stroke-width="0.5" />
<line x1="38.4" y1="508.44" x2="39.6" y2="508.44" stroke="#444" stroke-width="0.5" />
<line x1="38.4" y1="506.8" x2="39.6" y2="506.8" stroke="#444" stroke-width="0.5" />
<line x1="38.4" y1="505.37" x2="39.6" y2="505.37" stroke="#444" stroke-width="0.5" />
<line x1="38.4" y1="504.12" x2="39.6" y2="504.12" stroke="#444" stroke-width="0.5" />
<line x1="38.4" y1="537.46" x2="39.6" y2="537.46" stroke="#444" stroke-width="0.5" />
<line x1="38.4" y1="547.98" x2="39.6" y2="547.98" stroke="#444" stroke-width="0.5" />
<line x1="38.4" y1="534.95" x2="39.6" y2="534.95" stroke="#444" stroke-width="0.5" />
<line x1="38.4" y1="550.7" x2="39.6" y2="550.7" stroke="#444" stroke-width="0.5" />
<line x1="38.4" y1="533.17" x2="39.6" y2="533.17" stroke="#444" stroke-width="0.5" />
<line x1="38.4" y1="552.64" x2="39.6" y2="552.64" stroke="#444" stroke-width="0.5" />
<line x1="38.4" y1="531.79" x2="39.6" y2="531.79" stroke="#444" stroke-width="0.5" />
<line x1="38.4" y1="554.14" x2="39.6" y2="554.14" stroke="#444" stroke-width="0.5" />
<line x1="38.4" y1="530.66" x2="39.6" y2="530.66" stroke="#444" stroke-width="0.5" />
<line x1="38.4" y1="555.36" x2="39.6" y2="555.36" stroke="#444" stroke-width="0.5" />
<line x1="38.4" y1="529.71" x2="39.6" y2="529.71" stroke="#444" stroke-width="0.5" />
<line x1="38.4" y1="556.4" x2="39.6" y2="556.4" stroke="#444" stroke-width="0.5" />
<line x1="38.4" y1="528.88" x2="39.6" y2="528.88" stroke="#444" stroke-width="0.5" />
<line x1="38.4" y1="557.3" x2="39.6" y2="557.3" stroke="#444" stroke-width="0.5" />
<line x1="38.4" y1="528.15" x2="39.6" y2="528.15" stroke="#444" stroke-width="0.5" />
<line x1="38.4" y1="558.09" x2="39.6" y2="558.09" stroke="#444" stroke-width="0.5" />
<line x1="37.2" y1="542.9" x2="39.6" y2="542.9" stroke="#111" stroke-width="3.4" />
<line x1="44.6" y1="563.8" x2="44.6" y2="566" stroke="#444" stroke-width="0.8" />
<text x="45.8" y="574.3" font-size="8.3" text-anchor="middle" fill="#1a1a1a">–10<tspan dy="-2.8" font-size="5.64">3</tspan></text>
<line x1="59.8" y1="563.8" x2="59.8" y2="566" stroke="#444" stroke-width="0.8" />
<text x="61.3" y="574.3" font-size="8.3" text-anchor="middle" fill="#1a1a1a">0</text>
<line x1="74.7" y1="563.8" x2="74.7" y2="566" stroke="#444" stroke-width="0.8" />
<text x="76.6" y="574.3" font-size="8.3" text-anchor="middle" fill="#1a1a1a">10<tspan dy="-2.8" font-size="5.64">3</tspan></text>
<line x1="99.6" y1="563.8" x2="99.6" y2="566" stroke="#444" stroke-width="0.8" />
<text x="101" y="574.3" font-size="8.3" text-anchor="middle" fill="#1a1a1a">10<tspan dy="-2.8" font-size="5.64">4</tspan></text>
<line x1="121.8" y1="563.8" x2="121.8" y2="566" stroke="#444" stroke-width="0.8" />
<text x="123" y="574.3" font-size="8.3" text-anchor="middle" fill="#1a1a1a">10<tspan dy="-2.8" font-size="5.64">5</tspan></text>
<line x1="82.2" y1="563.8" x2="82.2" y2="565" stroke="#444" stroke-width="0.5" />
<line x1="86.58" y1="563.8" x2="86.58" y2="565" stroke="#444" stroke-width="0.5" />
<line x1="89.69" y1="563.8" x2="89.69" y2="565" stroke="#444" stroke-width="0.5" />
<line x1="92.1" y1="563.8" x2="92.1" y2="565" stroke="#444" stroke-width="0.5" />
<line x1="94.08" y1="563.8" x2="94.08" y2="565" stroke="#444" stroke-width="0.5" />
<line x1="95.74" y1="563.8" x2="95.74" y2="565" stroke="#444" stroke-width="0.5" />
<line x1="97.19" y1="563.8" x2="97.19" y2="565" stroke="#444" stroke-width="0.5" />
<line x1="98.46" y1="563.8" x2="98.46" y2="565" stroke="#444" stroke-width="0.5" />
<line x1="106.28" y1="563.8" x2="106.28" y2="565" stroke="#444" stroke-width="0.5" />
<line x1="110.19" y1="563.8" x2="110.19" y2="565" stroke="#444" stroke-width="0.5" />
<line x1="112.97" y1="563.8" x2="112.97" y2="565" stroke="#444" stroke-width="0.5" />
<line x1="115.12" y1="563.8" x2="115.12" y2="565" stroke="#444" stroke-width="0.5" />
<line x1="116.87" y1="563.8" x2="116.87" y2="565" stroke="#444" stroke-width="0.5" />
<line x1="118.36" y1="563.8" x2="118.36" y2="565" stroke="#444" stroke-width="0.5" />
<line x1="119.65" y1="563.8" x2="119.65" y2="565" stroke="#444" stroke-width="0.5" />
<line x1="120.78" y1="563.8" x2="120.78" y2="565" stroke="#444" stroke-width="0.5" />
<line x1="64.81" y1="563.8" x2="64.81" y2="565" stroke="#444" stroke-width="0.5" />
<line x1="54.69" y1="563.8" x2="54.69" y2="565" stroke="#444" stroke-width="0.5" />
<line x1="67.3" y1="563.8" x2="67.3" y2="565" stroke="#444" stroke-width="0.5" />
<line x1="52.15" y1="563.8" x2="52.15" y2="565" stroke="#444" stroke-width="0.5" />
<line x1="69.07" y1="563.8" x2="69.07" y2="565" stroke="#444" stroke-width="0.5" />
<line x1="50.35" y1="563.8" x2="50.35" y2="565" stroke="#444" stroke-width="0.5" />
<line x1="70.44" y1="563.8" x2="70.44" y2="565" stroke="#444" stroke-width="0.5" />
<line x1="48.95" y1="563.8" x2="48.95" y2="565" stroke="#444" stroke-width="0.5" />
<line x1="71.56" y1="563.8" x2="71.56" y2="565" stroke="#444" stroke-width="0.5" />
<line x1="47.8" y1="563.8" x2="47.8" y2="565" stroke="#444" stroke-width="0.5" />
<line x1="72.51" y1="563.8" x2="72.51" y2="565" stroke="#444" stroke-width="0.5" />
<line x1="46.84" y1="563.8" x2="46.84" y2="565" stroke="#444" stroke-width="0.5" />
<line x1="73.33" y1="563.8" x2="73.33" y2="565" stroke="#444" stroke-width="0.5" />
<line x1="46" y1="563.8" x2="46" y2="565" stroke="#444" stroke-width="0.5" />
<line x1="74.05" y1="563.8" x2="74.05" y2="565" stroke="#444" stroke-width="0.5" />
<line x1="45.26" y1="563.8" x2="45.26" y2="565" stroke="#444" stroke-width="0.5" />
<line x1="59.8" y1="563.8" x2="59.8" y2="566" stroke="#111" stroke-width="3.8" />
<text x="16" y="517" font-size="8.8" text-anchor="middle" fill="#1a1a1a" transform="rotate(-90 16 517)">CD38-BV421</text>
<text x="83.8" y="585.6" font-size="8.8" text-anchor="middle" fill="#1a1a1a">CD138-PerCP-Cy5.5</text>
<path d="M192.02 453.8C192.36 453.34 193.43 452.49 194.06 451.03C194.68 449.58 195.19 448.34 195.76 445.08C196.33 441.82 196.95 436.29 197.46 431.47C197.97 426.64 198.4 421.54 198.82 416.15C199.25 410.76 199.64 404.24 200.01 399.14C200.38 394.03 200.72 389.35 201.03 385.52C201.35 381.69 201.6 378.49 201.88 376.16C202.17 373.84 202.51 372.42 202.74 371.57C202.96 370.72 203.02 370.58 203.25 371.06C203.47 371.54 203.78 372.9 204.1 374.46C204.41 376.02 204.78 378.29 205.12 380.42C205.46 382.55 205.8 384.81 206.14 387.22C206.48 389.64 206.85 392.33 207.16 394.88C207.47 397.43 207.7 399.28 208.01 402.54C208.32 405.8 208.69 410.76 209.03 414.45C209.37 418.14 209.71 421.54 210.05 424.66C210.39 427.78 210.7 430.61 211.07 433.17C211.44 435.72 211.87 438.07 212.26 439.97C212.66 441.87 212.97 443.15 213.45 444.57C213.94 445.98 214.53 447.32 215.16 448.48C215.78 449.64 216.4 450.75 217.2 451.54C217.99 452.34 218.96 452.87 219.92 453.24C220.89 453.62 222.47 453.71 222.98 453.8Z" fill="#ee7171" fill-opacity="0.6" stroke="#dc7070" stroke-width="0.7" stroke-linejoin="round"/>
<path d="M189.97 453.8C190.46 453.2 192.19 451.92 192.87 450.18C193.55 448.44 193.69 447.06 194.06 443.38C194.43 439.69 194.74 434.02 195.08 428.06C195.42 422.11 195.76 414.17 196.1 407.64C196.44 401.12 196.81 394.17 197.12 388.93C197.43 383.68 197.72 379.14 197.97 376.16C198.23 373.19 198.4 370.92 198.65 371.06C198.91 371.2 199.19 373.19 199.5 377.02C199.81 380.84 200.18 388.36 200.52 394.03C200.86 399.7 201.2 405.37 201.54 411.05C201.88 416.72 202.22 423.24 202.57 428.06C202.91 432.88 203.22 436.71 203.59 439.97C203.95 443.23 204.29 445.64 204.78 447.63C205.26 449.61 205.77 450.86 206.48 451.88C207.19 452.91 208.61 453.48 209.03 453.8Z" fill="#507ad5" fill-opacity="0.6" stroke="#5f82ca" stroke-width="0.7" stroke-linejoin="round"/>
<rect x="160.8" y="362.4" width="91.7" height="91.4" fill="none" stroke="#8c8c8c" stroke-width="0.7" />
<path d="M160.8 362.4V453.8H252.5" fill="none" stroke="#444" stroke-width="0.9"/>
<line x1="158.8" y1="367" x2="160.8" y2="367" stroke="#444" stroke-width="0.8" />
<text x="155.5" y="370.1" font-size="8.8" text-anchor="end" fill="#1a1a1a">100</text>
<line x1="159.7" y1="371.34" x2="160.8" y2="371.34" stroke="#444" stroke-width="0.6" />
<line x1="159.7" y1="375.68" x2="160.8" y2="375.68" stroke="#444" stroke-width="0.6" />
<line x1="159.7" y1="380.02" x2="160.8" y2="380.02" stroke="#444" stroke-width="0.6" />
<line x1="158.8" y1="384.36" x2="160.8" y2="384.36" stroke="#444" stroke-width="0.8" />
<text x="155.5" y="387.46" font-size="8.8" text-anchor="end" fill="#1a1a1a">80</text>
<line x1="159.7" y1="388.7" x2="160.8" y2="388.7" stroke="#444" stroke-width="0.6" />
<line x1="159.7" y1="393.04" x2="160.8" y2="393.04" stroke="#444" stroke-width="0.6" />
<line x1="159.7" y1="397.38" x2="160.8" y2="397.38" stroke="#444" stroke-width="0.6" />
<line x1="158.8" y1="401.72" x2="160.8" y2="401.72" stroke="#444" stroke-width="0.8" />
<text x="155.5" y="404.82" font-size="8.8" text-anchor="end" fill="#1a1a1a">60</text>
<line x1="159.7" y1="406.06" x2="160.8" y2="406.06" stroke="#444" stroke-width="0.6" />
<line x1="159.7" y1="410.4" x2="160.8" y2="410.4" stroke="#444" stroke-width="0.6" />
<line x1="159.7" y1="414.74" x2="160.8" y2="414.74" stroke="#444" stroke-width="0.6" />
<line x1="158.8" y1="419.08" x2="160.8" y2="419.08" stroke="#444" stroke-width="0.8" />
<text x="155.5" y="422.18" font-size="8.8" text-anchor="end" fill="#1a1a1a">40</text>
<line x1="159.7" y1="423.42" x2="160.8" y2="423.42" stroke="#444" stroke-width="0.6" />
<line x1="159.7" y1="427.76" x2="160.8" y2="427.76" stroke="#444" stroke-width="0.6" />
<line x1="159.7" y1="432.1" x2="160.8" y2="432.1" stroke="#444" stroke-width="0.6" />
<line x1="158.8" y1="436.44" x2="160.8" y2="436.44" stroke="#444" stroke-width="0.8" />
<text x="155.5" y="439.54" font-size="8.8" text-anchor="end" fill="#1a1a1a">20</text>
<line x1="159.7" y1="440.78" x2="160.8" y2="440.78" stroke="#444" stroke-width="0.6" />
<line x1="159.7" y1="445.12" x2="160.8" y2="445.12" stroke="#444" stroke-width="0.6" />
<line x1="159.7" y1="449.46" x2="160.8" y2="449.46" stroke="#444" stroke-width="0.6" />
<line x1="158.8" y1="453.8" x2="160.8" y2="453.8" stroke="#444" stroke-width="0.8" />
<text x="155.5" y="456.9" font-size="8.8" text-anchor="end" fill="#1a1a1a">0</text>
<line x1="170.5" y1="453.8" x2="170.5" y2="455.8" stroke="#444" stroke-width="0.8" />
<text x="170.5" y="466" font-size="8.8" text-anchor="middle" fill="#1a1a1a">10<tspan dy="-2.8" font-size="5.98">1</tspan></text>
<line x1="189.2" y1="453.8" x2="189.2" y2="455.8" stroke="#444" stroke-width="0.8" />
<text x="189.2" y="466" font-size="8.8" text-anchor="middle" fill="#1a1a1a">10<tspan dy="-2.8" font-size="5.98">2</tspan></text>
<line x1="207.2" y1="453.8" x2="207.2" y2="455.8" stroke="#444" stroke-width="0.8" />
<text x="207.2" y="466" font-size="8.8" text-anchor="middle" fill="#1a1a1a">10<tspan dy="-2.8" font-size="5.98">3</tspan></text>
<line x1="226.2" y1="453.8" x2="226.2" y2="455.8" stroke="#444" stroke-width="0.8" />
<text x="226.2" y="466" font-size="8.8" text-anchor="middle" fill="#1a1a1a">10<tspan dy="-2.8" font-size="5.98">4</tspan></text>
<line x1="243.8" y1="453.8" x2="243.8" y2="455.8" stroke="#444" stroke-width="0.8" />
<text x="243.8" y="466" font-size="8.8" text-anchor="middle" fill="#1a1a1a">10<tspan dy="-2.8" font-size="5.98">5</tspan></text>
<line x1="163.21" y1="453.8" x2="163.21" y2="454.9" stroke="#444" stroke-width="0.5" />
<line x1="164.98" y1="453.8" x2="164.98" y2="454.9" stroke="#444" stroke-width="0.5" />
<line x1="166.43" y1="453.8" x2="166.43" y2="454.9" stroke="#444" stroke-width="0.5" />
<line x1="167.66" y1="453.8" x2="167.66" y2="454.9" stroke="#444" stroke-width="0.5" />
<line x1="168.72" y1="453.8" x2="168.72" y2="454.9" stroke="#444" stroke-width="0.5" />
<line x1="169.66" y1="453.8" x2="169.66" y2="454.9" stroke="#444" stroke-width="0.5" />
<line x1="176.02" y1="453.8" x2="176.02" y2="454.9" stroke="#444" stroke-width="0.5" />
<line x1="179.24" y1="453.8" x2="179.24" y2="454.9" stroke="#444" stroke-width="0.5" />
<line x1="181.53" y1="453.8" x2="181.53" y2="454.9" stroke="#444" stroke-width="0.5" />
<line x1="183.31" y1="453.8" x2="183.31" y2="454.9" stroke="#444" stroke-width="0.5" />
<line x1="184.76" y1="453.8" x2="184.76" y2="454.9" stroke="#444" stroke-width="0.5" />
<line x1="185.99" y1="453.8" x2="185.99" y2="454.9" stroke="#444" stroke-width="0.5" />
<line x1="187.05" y1="453.8" x2="187.05" y2="454.9" stroke="#444" stroke-width="0.5" />
<line x1="187.99" y1="453.8" x2="187.99" y2="454.9" stroke="#444" stroke-width="0.5" />
<line x1="194.34" y1="453.8" x2="194.34" y2="454.9" stroke="#444" stroke-width="0.5" />
<line x1="197.57" y1="453.8" x2="197.57" y2="454.9" stroke="#444" stroke-width="0.5" />
<line x1="199.86" y1="453.8" x2="199.86" y2="454.9" stroke="#444" stroke-width="0.5" />
<line x1="201.63" y1="453.8" x2="201.63" y2="454.9" stroke="#444" stroke-width="0.5" />
<line x1="203.08" y1="453.8" x2="203.08" y2="454.9" stroke="#444" stroke-width="0.5" />
<line x1="204.31" y1="453.8" x2="204.31" y2="454.9" stroke="#444" stroke-width="0.5" />
<line x1="205.37" y1="453.8" x2="205.37" y2="454.9" stroke="#444" stroke-width="0.5" />
<line x1="206.31" y1="453.8" x2="206.31" y2="454.9" stroke="#444" stroke-width="0.5" />
<line x1="212.67" y1="453.8" x2="212.67" y2="454.9" stroke="#444" stroke-width="0.5" />
<line x1="215.89" y1="453.8" x2="215.89" y2="454.9" stroke="#444" stroke-width="0.5" />
<line x1="218.18" y1="453.8" x2="218.18" y2="454.9" stroke="#444" stroke-width="0.5" />
<line x1="219.96" y1="453.8" x2="219.96" y2="454.9" stroke="#444" stroke-width="0.5" />
<line x1="221.41" y1="453.8" x2="221.41" y2="454.9" stroke="#444" stroke-width="0.5" />
<line x1="222.64" y1="453.8" x2="222.64" y2="454.9" stroke="#444" stroke-width="0.5" />
<line x1="223.7" y1="453.8" x2="223.7" y2="454.9" stroke="#444" stroke-width="0.5" />
<line x1="224.64" y1="453.8" x2="224.64" y2="454.9" stroke="#444" stroke-width="0.5" />
<line x1="230.99" y1="453.8" x2="230.99" y2="454.9" stroke="#444" stroke-width="0.5" />
<line x1="234.22" y1="453.8" x2="234.22" y2="454.9" stroke="#444" stroke-width="0.5" />
<line x1="236.51" y1="453.8" x2="236.51" y2="454.9" stroke="#444" stroke-width="0.5" />
<line x1="238.28" y1="453.8" x2="238.28" y2="454.9" stroke="#444" stroke-width="0.5" />
<line x1="239.73" y1="453.8" x2="239.73" y2="454.9" stroke="#444" stroke-width="0.5" />
<line x1="240.96" y1="453.8" x2="240.96" y2="454.9" stroke="#444" stroke-width="0.5" />
<line x1="242.02" y1="453.8" x2="242.02" y2="454.9" stroke="#444" stroke-width="0.5" />
<line x1="242.96" y1="453.8" x2="242.96" y2="454.9" stroke="#444" stroke-width="0.5" />
<line x1="249.32" y1="453.8" x2="249.32" y2="454.9" stroke="#444" stroke-width="0.5" />
<path d="M204.86 563.4C205.15 563 206 561.76 206.56 560.99C207.13 560.22 207.78 559.06 208.27 558.78C208.75 558.49 209.09 559.63 209.46 559.29C209.82 558.95 210.11 558.29 210.48 556.73C210.84 555.18 211.27 552.77 211.67 549.93C212.06 547.1 212.46 543.7 212.86 539.73C213.25 535.76 213.65 530.66 214.05 526.12C214.44 521.59 214.84 517.05 215.24 512.52C215.63 507.98 216.03 503.02 216.43 498.91C216.83 494.8 217.22 490.98 217.62 487.86C218.02 484.74 218.47 481.82 218.81 480.2C219.15 478.59 219.38 478.22 219.66 478.16C219.94 478.11 220.2 478.53 220.51 479.86C220.82 481.2 221.16 483.27 221.53 486.16C221.9 489.05 222.32 493.1 222.72 497.21C223.12 501.32 223.51 506.28 223.91 510.82C224.31 515.35 224.71 520.03 225.1 524.42C225.5 528.82 225.9 533.35 226.29 537.18C226.69 541 227.09 544.55 227.48 547.38C227.88 550.22 228.25 552.26 228.67 554.18C229.1 556.11 229.55 557.67 230.03 558.95C230.52 560.22 230.94 561.09 231.56 561.84C232.19 562.58 233.41 563.14 233.78 563.4Z" fill="#ee7171" fill-opacity="0.6" stroke="#dc7070" stroke-width="0.7" stroke-linejoin="round"/>
<path d="M180.2 563.4C180.91 563.14 183.32 562.52 184.46 561.84C185.59 561.15 186.24 560.56 187.01 559.29C187.77 558.01 188.42 556.59 189.05 554.18C189.67 551.77 190.24 548.37 190.75 544.83C191.26 541.29 191.68 537.18 192.11 532.93C192.53 528.67 192.93 523.85 193.3 519.32C193.67 514.78 193.98 510.25 194.32 505.71C194.66 501.18 195.03 495.94 195.34 492.11C195.65 488.28 195.94 485.08 196.19 482.76C196.45 480.43 196.62 478.16 196.87 478.16C197.13 478.16 197.44 480.15 197.72 482.76C198 485.36 198.26 489.42 198.57 493.81C198.88 498.2 199.25 503.73 199.59 509.12C199.93 514.5 200.27 520.74 200.61 526.12C200.95 531.51 201.29 537.04 201.63 541.43C201.97 545.82 202.31 549.65 202.65 552.48C202.99 555.32 203.3 556.93 203.67 558.44C204.04 559.94 204.38 560.67 204.86 561.5C205.35 562.32 206.28 563.08 206.56 563.4Z" fill="#507ad5" fill-opacity="0.6" stroke="#5f82ca" stroke-width="0.7" stroke-linejoin="round"/>
<rect x="160.8" y="472.4" width="91.7" height="91" fill="none" stroke="#8c8c8c" stroke-width="0.7" />
<path d="M160.8 472.4V563.4H252.5" fill="none" stroke="#444" stroke-width="0.9"/>
<line x1="158.8" y1="477" x2="160.8" y2="477" stroke="#444" stroke-width="0.8" />
<text x="155.5" y="480.1" font-size="8.8" text-anchor="end" fill="#1a1a1a">100</text>
<line x1="159.7" y1="481.32" x2="160.8" y2="481.32" stroke="#444" stroke-width="0.6" />
<line x1="159.7" y1="485.64" x2="160.8" y2="485.64" stroke="#444" stroke-width="0.6" />
<line x1="159.7" y1="489.96" x2="160.8" y2="489.96" stroke="#444" stroke-width="0.6" />
<line x1="158.8" y1="494.28" x2="160.8" y2="494.28" stroke="#444" stroke-width="0.8" />
<text x="155.5" y="497.38" font-size="8.8" text-anchor="end" fill="#1a1a1a">80</text>
<line x1="159.7" y1="498.6" x2="160.8" y2="498.6" stroke="#444" stroke-width="0.6" />
<line x1="159.7" y1="502.92" x2="160.8" y2="502.92" stroke="#444" stroke-width="0.6" />
<line x1="159.7" y1="507.24" x2="160.8" y2="507.24" stroke="#444" stroke-width="0.6" />
<line x1="158.8" y1="511.56" x2="160.8" y2="511.56" stroke="#444" stroke-width="0.8" />
<text x="155.5" y="514.66" font-size="8.8" text-anchor="end" fill="#1a1a1a">60</text>
<line x1="159.7" y1="515.88" x2="160.8" y2="515.88" stroke="#444" stroke-width="0.6" />
<line x1="159.7" y1="520.2" x2="160.8" y2="520.2" stroke="#444" stroke-width="0.6" />
<line x1="159.7" y1="524.52" x2="160.8" y2="524.52" stroke="#444" stroke-width="0.6" />
<line x1="158.8" y1="528.84" x2="160.8" y2="528.84" stroke="#444" stroke-width="0.8" />
<text x="155.5" y="531.94" font-size="8.8" text-anchor="end" fill="#1a1a1a">40</text>
<line x1="159.7" y1="533.16" x2="160.8" y2="533.16" stroke="#444" stroke-width="0.6" />
<line x1="159.7" y1="537.48" x2="160.8" y2="537.48" stroke="#444" stroke-width="0.6" />
<line x1="159.7" y1="541.8" x2="160.8" y2="541.8" stroke="#444" stroke-width="0.6" />
<line x1="158.8" y1="546.12" x2="160.8" y2="546.12" stroke="#444" stroke-width="0.8" />
<text x="155.5" y="549.22" font-size="8.8" text-anchor="end" fill="#1a1a1a">20</text>
<line x1="159.7" y1="550.44" x2="160.8" y2="550.44" stroke="#444" stroke-width="0.6" />
<line x1="159.7" y1="554.76" x2="160.8" y2="554.76" stroke="#444" stroke-width="0.6" />
<line x1="159.7" y1="559.08" x2="160.8" y2="559.08" stroke="#444" stroke-width="0.6" />
<line x1="158.8" y1="563.4" x2="160.8" y2="563.4" stroke="#444" stroke-width="0.8" />
<text x="155.5" y="566.5" font-size="8.8" text-anchor="end" fill="#1a1a1a">0</text>
<line x1="170.5" y1="563.4" x2="170.5" y2="565.4" stroke="#444" stroke-width="0.8" />
<text x="170.5" y="574.3" font-size="8.8" text-anchor="middle" fill="#1a1a1a">10<tspan dy="-2.8" font-size="5.98">1</tspan></text>
<line x1="189.2" y1="563.4" x2="189.2" y2="565.4" stroke="#444" stroke-width="0.8" />
<text x="189.2" y="574.3" font-size="8.8" text-anchor="middle" fill="#1a1a1a">10<tspan dy="-2.8" font-size="5.98">2</tspan></text>
<line x1="207.2" y1="563.4" x2="207.2" y2="565.4" stroke="#444" stroke-width="0.8" />
<text x="207.2" y="574.3" font-size="8.8" text-anchor="middle" fill="#1a1a1a">10<tspan dy="-2.8" font-size="5.98">3</tspan></text>
<line x1="226.2" y1="563.4" x2="226.2" y2="565.4" stroke="#444" stroke-width="0.8" />
<text x="226.2" y="574.3" font-size="8.8" text-anchor="middle" fill="#1a1a1a">10<tspan dy="-2.8" font-size="5.98">4</tspan></text>
<line x1="243.8" y1="563.4" x2="243.8" y2="565.4" stroke="#444" stroke-width="0.8" />
<text x="243.8" y="574.3" font-size="8.8" text-anchor="middle" fill="#1a1a1a">10<tspan dy="-2.8" font-size="5.98">5</tspan></text>
<line x1="163.21" y1="563.4" x2="163.21" y2="564.5" stroke="#444" stroke-width="0.5" />
<line x1="164.98" y1="563.4" x2="164.98" y2="564.5" stroke="#444" stroke-width="0.5" />
<line x1="166.43" y1="563.4" x2="166.43" y2="564.5" stroke="#444" stroke-width="0.5" />
<line x1="167.66" y1="563.4" x2="167.66" y2="564.5" stroke="#444" stroke-width="0.5" />
<line x1="168.72" y1="563.4" x2="168.72" y2="564.5" stroke="#444" stroke-width="0.5" />
<line x1="169.66" y1="563.4" x2="169.66" y2="564.5" stroke="#444" stroke-width="0.5" />
<line x1="176.02" y1="563.4" x2="176.02" y2="564.5" stroke="#444" stroke-width="0.5" />
<line x1="179.24" y1="563.4" x2="179.24" y2="564.5" stroke="#444" stroke-width="0.5" />
<line x1="181.53" y1="563.4" x2="181.53" y2="564.5" stroke="#444" stroke-width="0.5" />
<line x1="183.31" y1="563.4" x2="183.31" y2="564.5" stroke="#444" stroke-width="0.5" />
<line x1="184.76" y1="563.4" x2="184.76" y2="564.5" stroke="#444" stroke-width="0.5" />
<line x1="185.99" y1="563.4" x2="185.99" y2="564.5" stroke="#444" stroke-width="0.5" />
<line x1="187.05" y1="563.4" x2="187.05" y2="564.5" stroke="#444" stroke-width="0.5" />
<line x1="187.99" y1="563.4" x2="187.99" y2="564.5" stroke="#444" stroke-width="0.5" />
<line x1="194.34" y1="563.4" x2="194.34" y2="564.5" stroke="#444" stroke-width="0.5" />
<line x1="197.57" y1="563.4" x2="197.57" y2="564.5" stroke="#444" stroke-width="0.5" />
<line x1="199.86" y1="563.4" x2="199.86" y2="564.5" stroke="#444" stroke-width="0.5" />
<line x1="201.63" y1="563.4" x2="201.63" y2="564.5" stroke="#444" stroke-width="0.5" />
<line x1="203.08" y1="563.4" x2="203.08" y2="564.5" stroke="#444" stroke-width="0.5" />
<line x1="204.31" y1="563.4" x2="204.31" y2="564.5" stroke="#444" stroke-width="0.5" />
<line x1="205.37" y1="563.4" x2="205.37" y2="564.5" stroke="#444" stroke-width="0.5" />
<line x1="206.31" y1="563.4" x2="206.31" y2="564.5" stroke="#444" stroke-width="0.5" />
<line x1="212.67" y1="563.4" x2="212.67" y2="564.5" stroke="#444" stroke-width="0.5" />
<line x1="215.89" y1="563.4" x2="215.89" y2="564.5" stroke="#444" stroke-width="0.5" />
<line x1="218.18" y1="563.4" x2="218.18" y2="564.5" stroke="#444" stroke-width="0.5" />
<line x1="219.96" y1="563.4" x2="219.96" y2="564.5" stroke="#444" stroke-width="0.5" />
<line x1="221.41" y1="563.4" x2="221.41" y2="564.5" stroke="#444" stroke-width="0.5" />
<line x1="222.64" y1="563.4" x2="222.64" y2="564.5" stroke="#444" stroke-width="0.5" />
<line x1="223.7" y1="563.4" x2="223.7" y2="564.5" stroke="#444" stroke-width="0.5" />
<line x1="224.64" y1="563.4" x2="224.64" y2="564.5" stroke="#444" stroke-width="0.5" />
<line x1="230.99" y1="563.4" x2="230.99" y2="564.5" stroke="#444" stroke-width="0.5" />
<line x1="234.22" y1="563.4" x2="234.22" y2="564.5" stroke="#444" stroke-width="0.5" />
<line x1="236.51" y1="563.4" x2="236.51" y2="564.5" stroke="#444" stroke-width="0.5" />
<line x1="238.28" y1="563.4" x2="238.28" y2="564.5" stroke="#444" stroke-width="0.5" />
<line x1="239.73" y1="563.4" x2="239.73" y2="564.5" stroke="#444" stroke-width="0.5" />
<line x1="240.96" y1="563.4" x2="240.96" y2="564.5" stroke="#444" stroke-width="0.5" />
<line x1="242.02" y1="563.4" x2="242.02" y2="564.5" stroke="#444" stroke-width="0.5" />
<line x1="242.96" y1="563.4" x2="242.96" y2="564.5" stroke="#444" stroke-width="0.5" />
<line x1="249.32" y1="563.4" x2="249.32" y2="564.5" stroke="#444" stroke-width="0.5" />
<text x="204" y="585.8" font-size="8.8" text-anchor="middle" fill="#1a1a1a">BCMA-PE</text>
<text x="0.4" y="364.5" font-size="10.7" text-anchor="start" fill="#000" font-weight="bold">B</text>
<path d="M344.82 454.5C345.25 454.13 346.65 453.24 347.38 452.25C348.11 451.27 348.66 450.28 349.21 448.6C349.76 446.93 350.24 444.79 350.67 442.21C351.1 439.62 351.4 436.27 351.77 433.07C352.13 429.88 352.5 425.77 352.86 423.03C353.23 420.28 353.56 418.31 353.96 416.63C354.35 414.96 354.81 414.04 355.24 412.98C355.66 411.91 356.12 411.3 356.52 410.24C356.91 409.17 357.28 408.01 357.61 406.58C357.95 405.15 358.22 402.78 358.53 401.65C358.83 400.52 359.13 400.01 359.44 399.82C359.74 399.64 360.08 399.58 360.35 400.56C360.63 401.53 360.84 403.75 361.08 405.67C361.33 407.59 361.54 409.93 361.81 412.06C362.09 414.2 362.39 416.48 362.73 418.46C363.06 420.44 363.46 422.26 363.82 423.94C364.19 425.61 364.55 427.44 364.92 428.51C365.28 429.57 365.65 429.42 366.02 430.33C366.38 431.25 366.75 432.46 367.11 433.99C367.48 435.51 367.84 437.79 368.21 439.47C368.57 441.14 368.88 442.51 369.3 444.03C369.73 445.56 370.22 447.23 370.77 448.6C371.31 449.97 371.98 451.34 372.59 452.25C373.2 453.17 373.75 453.71 374.42 454.08C375.09 454.46 376.25 454.43 376.61 454.5Z" fill="#ee7171" fill-opacity="0.6" stroke="#dc7070" stroke-width="0.7" stroke-linejoin="round"/>
<path d="M323.27 454.5C324.18 454.28 327.23 453.63 328.75 453.17C330.27 452.7 331.34 452.32 332.4 451.71C333.47 451.1 334.47 450.49 335.14 449.51C335.81 448.54 336.03 446.93 336.42 445.86C336.82 444.79 337.12 443.73 337.52 443.12C337.91 442.51 338.37 442.66 338.8 442.21C339.22 441.75 339.68 441.45 340.07 440.38C340.47 439.31 340.78 437.94 341.17 435.81C341.57 433.68 342.02 431.09 342.45 427.59C342.88 424.09 343.33 419.37 343.73 414.8C344.12 410.24 344.49 404.45 344.82 400.19C345.16 395.93 345.43 392.03 345.74 389.23C346.04 386.43 346.35 384.14 346.65 383.38C346.96 382.62 347.26 383.54 347.56 384.66C347.87 385.79 348.17 387.86 348.48 390.14C348.78 392.43 349.09 395.17 349.39 398.36C349.7 401.56 349.97 405.37 350.31 409.32C350.64 413.28 351.04 417.85 351.4 422.11C351.77 426.37 352.13 431.25 352.5 434.9C352.86 438.55 353.23 441.45 353.59 444.03C353.96 446.62 354.26 448.84 354.69 450.43C355.12 452.01 355.6 452.85 356.15 453.53C356.7 454.21 357.67 454.34 357.98 454.5Z" fill="#507ad5" fill-opacity="0.6" stroke="#5f82ca" stroke-width="0.7" stroke-linejoin="round"/>
<rect x="307.3" y="364" width="90.9" height="90.5" fill="none" stroke="#8c8c8c" stroke-width="0.7" />
<path d="M307.3 364V454.5H398.2" fill="none" stroke="#444" stroke-width="0.9"/>
<line x1="305.3" y1="368.6" x2="307.3" y2="368.6" stroke="#444" stroke-width="0.8" />
<text x="302.4" y="371.7" font-size="8.8" text-anchor="end" fill="#1a1a1a">100</text>
<line x1="306.2" y1="372.9" x2="307.3" y2="372.9" stroke="#444" stroke-width="0.6" />
<line x1="306.2" y1="377.19" x2="307.3" y2="377.19" stroke="#444" stroke-width="0.6" />
<line x1="306.2" y1="381.49" x2="307.3" y2="381.49" stroke="#444" stroke-width="0.6" />
<line x1="305.3" y1="385.78" x2="307.3" y2="385.78" stroke="#444" stroke-width="0.8" />
<text x="302.4" y="388.88" font-size="8.8" text-anchor="end" fill="#1a1a1a">80</text>
<line x1="306.2" y1="390.08" x2="307.3" y2="390.08" stroke="#444" stroke-width="0.6" />
<line x1="306.2" y1="394.37" x2="307.3" y2="394.37" stroke="#444" stroke-width="0.6" />
<line x1="306.2" y1="398.67" x2="307.3" y2="398.67" stroke="#444" stroke-width="0.6" />
<line x1="305.3" y1="402.96" x2="307.3" y2="402.96" stroke="#444" stroke-width="0.8" />
<text x="302.4" y="406.06" font-size="8.8" text-anchor="end" fill="#1a1a1a">60</text>
<line x1="306.2" y1="407.26" x2="307.3" y2="407.26" stroke="#444" stroke-width="0.6" />
<line x1="306.2" y1="411.55" x2="307.3" y2="411.55" stroke="#444" stroke-width="0.6" />
<line x1="306.2" y1="415.85" x2="307.3" y2="415.85" stroke="#444" stroke-width="0.6" />
<line x1="305.3" y1="420.14" x2="307.3" y2="420.14" stroke="#444" stroke-width="0.8" />
<text x="302.4" y="423.24" font-size="8.8" text-anchor="end" fill="#1a1a1a">40</text>
<line x1="306.2" y1="424.44" x2="307.3" y2="424.44" stroke="#444" stroke-width="0.6" />
<line x1="306.2" y1="428.73" x2="307.3" y2="428.73" stroke="#444" stroke-width="0.6" />
<line x1="306.2" y1="433.02" x2="307.3" y2="433.02" stroke="#444" stroke-width="0.6" />
<line x1="305.3" y1="437.32" x2="307.3" y2="437.32" stroke="#444" stroke-width="0.8" />
<text x="302.4" y="440.42" font-size="8.8" text-anchor="end" fill="#1a1a1a">20</text>
<line x1="306.2" y1="441.62" x2="307.3" y2="441.62" stroke="#444" stroke-width="0.6" />
<line x1="306.2" y1="445.91" x2="307.3" y2="445.91" stroke="#444" stroke-width="0.6" />
<line x1="306.2" y1="450.2" x2="307.3" y2="450.2" stroke="#444" stroke-width="0.6" />
<line x1="305.3" y1="454.5" x2="307.3" y2="454.5" stroke="#444" stroke-width="0.8" />
<text x="302.4" y="457.6" font-size="8.8" text-anchor="end" fill="#1a1a1a">0</text>
<line x1="318.2" y1="454.5" x2="318.2" y2="456.5" stroke="#444" stroke-width="0.8" />
<text x="318.2" y="466" font-size="8.8" text-anchor="middle" fill="#1a1a1a">10<tspan dy="-2.8" font-size="5.98">1</tspan></text>
<line x1="336.3" y1="454.5" x2="336.3" y2="456.5" stroke="#444" stroke-width="0.8" />
<text x="336.3" y="466" font-size="8.8" text-anchor="middle" fill="#1a1a1a">10<tspan dy="-2.8" font-size="5.98">2</tspan></text>
<line x1="354.5" y1="454.5" x2="354.5" y2="456.5" stroke="#444" stroke-width="0.8" />
<text x="354.5" y="466" font-size="8.8" text-anchor="middle" fill="#1a1a1a">10<tspan dy="-2.8" font-size="5.98">3</tspan></text>
<line x1="373" y1="454.5" x2="373" y2="456.5" stroke="#444" stroke-width="0.8" />
<text x="373" y="466" font-size="8.8" text-anchor="middle" fill="#1a1a1a">10<tspan dy="-2.8" font-size="5.98">4</tspan></text>
<line x1="392.2" y1="454.5" x2="392.2" y2="456.5" stroke="#444" stroke-width="0.8" />
<text x="392.2" y="466" font-size="8.8" text-anchor="middle" fill="#1a1a1a">10<tspan dy="-2.8" font-size="5.98">5</tspan></text>
<line x1="308.53" y1="454.5" x2="308.53" y2="455.6" stroke="#444" stroke-width="0.5" />
<line x1="310.84" y1="454.5" x2="310.84" y2="455.6" stroke="#444" stroke-width="0.5" />
<line x1="312.63" y1="454.5" x2="312.63" y2="455.6" stroke="#444" stroke-width="0.5" />
<line x1="314.1" y1="454.5" x2="314.1" y2="455.6" stroke="#444" stroke-width="0.5" />
<line x1="315.33" y1="454.5" x2="315.33" y2="455.6" stroke="#444" stroke-width="0.5" />
<line x1="316.41" y1="454.5" x2="316.41" y2="455.6" stroke="#444" stroke-width="0.5" />
<line x1="317.35" y1="454.5" x2="317.35" y2="455.6" stroke="#444" stroke-width="0.5" />
<line x1="323.77" y1="454.5" x2="323.77" y2="455.6" stroke="#444" stroke-width="0.5" />
<line x1="327.03" y1="454.5" x2="327.03" y2="455.6" stroke="#444" stroke-width="0.5" />
<line x1="329.34" y1="454.5" x2="329.34" y2="455.6" stroke="#444" stroke-width="0.5" />
<line x1="331.13" y1="454.5" x2="331.13" y2="455.6" stroke="#444" stroke-width="0.5" />
<line x1="332.6" y1="454.5" x2="332.6" y2="455.6" stroke="#444" stroke-width="0.5" />
<line x1="333.83" y1="454.5" x2="333.83" y2="455.6" stroke="#444" stroke-width="0.5" />
<line x1="334.91" y1="454.5" x2="334.91" y2="455.6" stroke="#444" stroke-width="0.5" />
<line x1="335.85" y1="454.5" x2="335.85" y2="455.6" stroke="#444" stroke-width="0.5" />
<line x1="342.27" y1="454.5" x2="342.27" y2="455.6" stroke="#444" stroke-width="0.5" />
<line x1="345.53" y1="454.5" x2="345.53" y2="455.6" stroke="#444" stroke-width="0.5" />
<line x1="347.84" y1="454.5" x2="347.84" y2="455.6" stroke="#444" stroke-width="0.5" />
<line x1="349.63" y1="454.5" x2="349.63" y2="455.6" stroke="#444" stroke-width="0.5" />
<line x1="351.1" y1="454.5" x2="351.1" y2="455.6" stroke="#444" stroke-width="0.5" />
<line x1="352.33" y1="454.5" x2="352.33" y2="455.6" stroke="#444" stroke-width="0.5" />
<line x1="353.41" y1="454.5" x2="353.41" y2="455.6" stroke="#444" stroke-width="0.5" />
<line x1="354.35" y1="454.5" x2="354.35" y2="455.6" stroke="#444" stroke-width="0.5" />
<line x1="360.77" y1="454.5" x2="360.77" y2="455.6" stroke="#444" stroke-width="0.5" />
<line x1="364.03" y1="454.5" x2="364.03" y2="455.6" stroke="#444" stroke-width="0.5" />
<line x1="366.34" y1="454.5" x2="366.34" y2="455.6" stroke="#444" stroke-width="0.5" />
<line x1="368.13" y1="454.5" x2="368.13" y2="455.6" stroke="#444" stroke-width="0.5" />
<line x1="369.6" y1="454.5" x2="369.6" y2="455.6" stroke="#444" stroke-width="0.5" />
<line x1="370.83" y1="454.5" x2="370.83" y2="455.6" stroke="#444" stroke-width="0.5" />
<line x1="371.91" y1="454.5" x2="371.91" y2="455.6" stroke="#444" stroke-width="0.5" />
<line x1="372.85" y1="454.5" x2="372.85" y2="455.6" stroke="#444" stroke-width="0.5" />
<line x1="379.27" y1="454.5" x2="379.27" y2="455.6" stroke="#444" stroke-width="0.5" />
<line x1="382.53" y1="454.5" x2="382.53" y2="455.6" stroke="#444" stroke-width="0.5" />
<line x1="384.84" y1="454.5" x2="384.84" y2="455.6" stroke="#444" stroke-width="0.5" />
<line x1="386.63" y1="454.5" x2="386.63" y2="455.6" stroke="#444" stroke-width="0.5" />
<line x1="388.1" y1="454.5" x2="388.1" y2="455.6" stroke="#444" stroke-width="0.5" />
<line x1="389.33" y1="454.5" x2="389.33" y2="455.6" stroke="#444" stroke-width="0.5" />
<line x1="390.41" y1="454.5" x2="390.41" y2="455.6" stroke="#444" stroke-width="0.5" />
<line x1="391.35" y1="454.5" x2="391.35" y2="455.6" stroke="#444" stroke-width="0.5" />
<text x="352.2" y="360.4" font-size="8.8" text-anchor="middle" fill="#1a1a1a">Pretreatment</text>
<text x="273.8" y="403.4" font-size="8.8" text-anchor="middle" fill="#1a1a1a">Subject</text>
<text x="273.8" y="412.6" font-size="8.8" text-anchor="middle" fill="#1a1a1a">09</text>
<path d="M347.93 563.8C348.23 563.39 349.21 562.66 349.76 561.34C350.31 560.02 350.76 558.3 351.22 555.86C351.68 553.42 352.07 550.38 352.5 546.73C352.92 543.07 353.35 538.51 353.78 533.94C354.2 529.37 354.63 524.2 355.05 519.32C355.48 514.45 355.91 509.28 356.33 504.71C356.76 500.14 357.19 495.58 357.61 491.92C358.04 488.27 358.46 484.98 358.89 482.79C359.32 480.6 359.77 479.53 360.17 478.77C360.57 478.01 360.9 478.01 361.27 478.22C361.63 478.43 362 478.68 362.36 480.05C362.73 481.42 363.09 483.55 363.46 486.44C363.82 489.33 364.19 493.44 364.55 497.4C364.92 501.36 365.28 505.62 365.65 510.19C366.02 514.76 366.38 520.24 366.75 524.8C367.11 529.37 367.48 533.63 367.84 537.59C368.21 541.55 368.54 545.36 368.94 548.55C369.33 551.75 369.76 554.64 370.22 556.77C370.67 558.91 371.13 560.24 371.68 561.34C372.23 562.44 372.9 562.94 373.51 563.35C374.11 563.76 375.03 563.73 375.33 563.8Z" fill="#ee7171" fill-opacity="0.6" stroke="#dc7070" stroke-width="0.7" stroke-linejoin="round"/>
<path d="M319.61 563.8C320.53 563.63 323.57 563.36 325.09 562.8C326.62 562.24 327.68 561.58 328.75 560.43C329.81 559.27 330.67 557.84 331.49 555.86C332.31 553.88 333.01 551.6 333.68 548.55C334.35 545.51 334.93 541.85 335.51 537.59C336.09 533.33 336.63 528.15 337.15 522.98C337.67 517.8 338.16 511.71 338.61 506.54C339.07 501.36 339.5 496.03 339.89 491.92C340.29 487.81 340.62 484.16 340.99 481.87C341.35 479.59 341.75 478.22 342.08 478.22C342.42 478.22 342.69 479.29 343 481.87C343.3 484.46 343.61 489.03 343.91 493.75C344.22 498.47 344.52 504.71 344.82 510.19C345.13 515.67 345.43 521.46 345.74 526.63C346.04 531.81 346.35 536.98 346.65 541.25C346.96 545.51 347.26 549.16 347.56 552.21C347.87 555.25 348.14 557.75 348.48 559.51C348.81 561.28 349.15 562.09 349.57 562.8C350 563.52 350.79 563.63 351.04 563.8Z" fill="#507ad5" fill-opacity="0.6" stroke="#5f82ca" stroke-width="0.7" stroke-linejoin="round"/>
<rect x="307.3" y="473.6" width="90.9" height="90.2" fill="none" stroke="#8c8c8c" stroke-width="0.7" />
<path d="M307.3 473.6V563.8H398.2" fill="none" stroke="#444" stroke-width="0.9"/>
<line x1="305.3" y1="478.2" x2="307.3" y2="478.2" stroke="#444" stroke-width="0.8" />
<text x="302.4" y="481.3" font-size="8.8" text-anchor="end" fill="#1a1a1a">100</text>
<line x1="306.2" y1="482.48" x2="307.3" y2="482.48" stroke="#444" stroke-width="0.6" />
<line x1="306.2" y1="486.76" x2="307.3" y2="486.76" stroke="#444" stroke-width="0.6" />
<line x1="306.2" y1="491.04" x2="307.3" y2="491.04" stroke="#444" stroke-width="0.6" />
<line x1="305.3" y1="495.32" x2="307.3" y2="495.32" stroke="#444" stroke-width="0.8" />
<text x="302.4" y="498.42" font-size="8.8" text-anchor="end" fill="#1a1a1a">80</text>
<line x1="306.2" y1="499.6" x2="307.3" y2="499.6" stroke="#444" stroke-width="0.6" />
<line x1="306.2" y1="503.88" x2="307.3" y2="503.88" stroke="#444" stroke-width="0.6" />
<line x1="306.2" y1="508.16" x2="307.3" y2="508.16" stroke="#444" stroke-width="0.6" />
<line x1="305.3" y1="512.44" x2="307.3" y2="512.44" stroke="#444" stroke-width="0.8" />
<text x="302.4" y="515.54" font-size="8.8" text-anchor="end" fill="#1a1a1a">60</text>
<line x1="306.2" y1="516.72" x2="307.3" y2="516.72" stroke="#444" stroke-width="0.6" />
<line x1="306.2" y1="521" x2="307.3" y2="521" stroke="#444" stroke-width="0.6" />
<line x1="306.2" y1="525.28" x2="307.3" y2="525.28" stroke="#444" stroke-width="0.6" />
<line x1="305.3" y1="529.56" x2="307.3" y2="529.56" stroke="#444" stroke-width="0.8" />
<text x="302.4" y="532.66" font-size="8.8" text-anchor="end" fill="#1a1a1a">40</text>
<line x1="306.2" y1="533.84" x2="307.3" y2="533.84" stroke="#444" stroke-width="0.6" />
<line x1="306.2" y1="538.12" x2="307.3" y2="538.12" stroke="#444" stroke-width="0.6" />
<line x1="306.2" y1="542.4" x2="307.3" y2="542.4" stroke="#444" stroke-width="0.6" />
<line x1="305.3" y1="546.68" x2="307.3" y2="546.68" stroke="#444" stroke-width="0.8" />
<text x="302.4" y="549.78" font-size="8.8" text-anchor="end" fill="#1a1a1a">20</text>
<line x1="306.2" y1="550.96" x2="307.3" y2="550.96" stroke="#444" stroke-width="0.6" />
<line x1="306.2" y1="555.24" x2="307.3" y2="555.24" stroke="#444" stroke-width="0.6" />
<line x1="306.2" y1="559.52" x2="307.3" y2="559.52" stroke="#444" stroke-width="0.6" />
<line x1="305.3" y1="563.8" x2="307.3" y2="563.8" stroke="#444" stroke-width="0.8" />
<text x="302.4" y="566.9" font-size="8.8" text-anchor="end" fill="#1a1a1a">0</text>
<line x1="318.2" y1="563.8" x2="318.2" y2="565.8" stroke="#444" stroke-width="0.8" />
<text x="318.2" y="574.3" font-size="8.8" text-anchor="middle" fill="#1a1a1a">10<tspan dy="-2.8" font-size="5.98">1</tspan></text>
<line x1="336.3" y1="563.8" x2="336.3" y2="565.8" stroke="#444" stroke-width="0.8" />
<text x="336.3" y="574.3" font-size="8.8" text-anchor="middle" fill="#1a1a1a">10<tspan dy="-2.8" font-size="5.98">2</tspan></text>
<line x1="354.5" y1="563.8" x2="354.5" y2="565.8" stroke="#444" stroke-width="0.8" />
<text x="354.5" y="574.3" font-size="8.8" text-anchor="middle" fill="#1a1a1a">10<tspan dy="-2.8" font-size="5.98">3</tspan></text>
<line x1="373" y1="563.8" x2="373" y2="565.8" stroke="#444" stroke-width="0.8" />
<text x="373" y="574.3" font-size="8.8" text-anchor="middle" fill="#1a1a1a">10<tspan dy="-2.8" font-size="5.98">4</tspan></text>
<line x1="392.2" y1="563.8" x2="392.2" y2="565.8" stroke="#444" stroke-width="0.8" />
<text x="392.2" y="574.3" font-size="8.8" text-anchor="middle" fill="#1a1a1a">10<tspan dy="-2.8" font-size="5.98">5</tspan></text>
<line x1="308.53" y1="563.8" x2="308.53" y2="564.9" stroke="#444" stroke-width="0.5" />
<line x1="310.84" y1="563.8" x2="310.84" y2="564.9" stroke="#444" stroke-width="0.5" />
<line x1="312.63" y1="563.8" x2="312.63" y2="564.9" stroke="#444" stroke-width="0.5" />
<line x1="314.1" y1="563.8" x2="314.1" y2="564.9" stroke="#444" stroke-width="0.5" />
<line x1="315.33" y1="563.8" x2="315.33" y2="564.9" stroke="#444" stroke-width="0.5" />
<line x1="316.41" y1="563.8" x2="316.41" y2="564.9" stroke="#444" stroke-width="0.5" />
<line x1="317.35" y1="563.8" x2="317.35" y2="564.9" stroke="#444" stroke-width="0.5" />
<line x1="323.77" y1="563.8" x2="323.77" y2="564.9" stroke="#444" stroke-width="0.5" />
<line x1="327.03" y1="563.8" x2="327.03" y2="564.9" stroke="#444" stroke-width="0.5" />
<line x1="329.34" y1="563.8" x2="329.34" y2="564.9" stroke="#444" stroke-width="0.5" />
<line x1="331.13" y1="563.8" x2="331.13" y2="564.9" stroke="#444" stroke-width="0.5" />
<line x1="332.6" y1="563.8" x2="332.6" y2="564.9" stroke="#444" stroke-width="0.5" />
<line x1="333.83" y1="563.8" x2="333.83" y2="564.9" stroke="#444" stroke-width="0.5" />
<line x1="334.91" y1="563.8" x2="334.91" y2="564.9" stroke="#444" stroke-width="0.5" />
<line x1="335.85" y1="563.8" x2="335.85" y2="564.9" stroke="#444" stroke-width="0.5" />
<line x1="342.27" y1="563.8" x2="342.27" y2="564.9" stroke="#444" stroke-width="0.5" />
<line x1="345.53" y1="563.8" x2="345.53" y2="564.9" stroke="#444" stroke-width="0.5" />
<line x1="347.84" y1="563.8" x2="347.84" y2="564.9" stroke="#444" stroke-width="0.5" />
<line x1="349.63" y1="563.8" x2="349.63" y2="564.9" stroke="#444" stroke-width="0.5" />
<line x1="351.1" y1="563.8" x2="351.1" y2="564.9" stroke="#444" stroke-width="0.5" />
<line x1="352.33" y1="563.8" x2="352.33" y2="564.9" stroke="#444" stroke-width="0.5" />
<line x1="353.41" y1="563.8" x2="353.41" y2="564.9" stroke="#444" stroke-width="0.5" />
<line x1="354.35" y1="563.8" x2="354.35" y2="564.9" stroke="#444" stroke-width="0.5" />
<line x1="360.77" y1="563.8" x2="360.77" y2="564.9" stroke="#444" stroke-width="0.5" />
<line x1="364.03" y1="563.8" x2="364.03" y2="564.9" stroke="#444" stroke-width="0.5" />
<line x1="366.34" y1="563.8" x2="366.34" y2="564.9" stroke="#444" stroke-width="0.5" />
<line x1="368.13" y1="563.8" x2="368.13" y2="564.9" stroke="#444" stroke-width="0.5" />
<line x1="369.6" y1="563.8" x2="369.6" y2="564.9" stroke="#444" stroke-width="0.5" />
<line x1="370.83" y1="563.8" x2="370.83" y2="564.9" stroke="#444" stroke-width="0.5" />
<line x1="371.91" y1="563.8" x2="371.91" y2="564.9" stroke="#444" stroke-width="0.5" />
<line x1="372.85" y1="563.8" x2="372.85" y2="564.9" stroke="#444" stroke-width="0.5" />
<line x1="379.27" y1="563.8" x2="379.27" y2="564.9" stroke="#444" stroke-width="0.5" />
<line x1="382.53" y1="563.8" x2="382.53" y2="564.9" stroke="#444" stroke-width="0.5" />
<line x1="384.84" y1="563.8" x2="384.84" y2="564.9" stroke="#444" stroke-width="0.5" />
<line x1="386.63" y1="563.8" x2="386.63" y2="564.9" stroke="#444" stroke-width="0.5" />
<line x1="388.1" y1="563.8" x2="388.1" y2="564.9" stroke="#444" stroke-width="0.5" />
<line x1="389.33" y1="563.8" x2="389.33" y2="564.9" stroke="#444" stroke-width="0.5" />
<line x1="390.41" y1="563.8" x2="390.41" y2="564.9" stroke="#444" stroke-width="0.5" />
<line x1="391.35" y1="563.8" x2="391.35" y2="564.9" stroke="#444" stroke-width="0.5" />
<text x="352.2" y="585.6" font-size="8.8" text-anchor="middle" fill="#1a1a1a">BCMA-PE</text>
<text x="273.8" y="516.6" font-size="8.8" text-anchor="middle" fill="#1a1a1a">Subject</text>
<text x="273.8" y="525.8" font-size="8.8" text-anchor="middle" fill="#1a1a1a">11</text>
<path d="M425.19 454.5C425.22 450.93 425.25 436.89 425.37 433.07C425.5 429.26 425.71 431 425.92 431.61C426.14 432.22 426.41 434.35 426.65 436.73C426.9 439.1 427.14 443.27 427.38 445.86C427.63 448.45 427.81 450.85 428.12 452.25C428.42 453.65 428.24 453.89 429.21 454.26C430.19 454.5 431.34 454.47 433.96 454.5C436.58 454.5 442.18 454.5 444.92 454.45C447.66 454.29 449.03 454.05 450.4 453.53C451.77 453.02 452.29 452.32 453.14 451.34C454 450.37 454.82 449.06 455.52 447.69C456.22 446.32 456.74 444.95 457.34 443.12C457.95 441.29 458.59 439.01 459.17 436.73C459.75 434.44 460.3 431.85 460.82 429.42C461.33 426.98 461.82 424.09 462.28 422.11C462.73 420.13 463.16 418.58 463.56 417.54C463.95 416.51 464.29 415.9 464.65 415.9C465.02 415.9 465.38 416.36 465.75 417.54C466.11 418.73 466.45 420.74 466.84 423.03C467.24 425.31 467.67 428.66 468.12 431.25C468.58 433.83 469.1 436.27 469.58 438.55C470.07 440.84 470.53 443.12 471.05 444.95C471.56 446.77 472.02 448.2 472.69 449.51C473.36 450.82 474.21 452.01 475.06 452.8C475.92 453.59 476.89 453.98 477.8 454.26C478.72 454.5 480.09 454.46 480.54 454.5Z" fill="#ee7171" fill-opacity="0.6" stroke="#dc7070" stroke-width="0.7" stroke-linejoin="round"/>
<path d="M425.19 454.5C425.28 453.97 425.5 451.5 425.74 451.34C425.98 451.18 426.2 453.01 426.65 453.53C427.11 454.06 427.57 454.35 428.48 454.5C429.39 454.5 431.07 454.5 432.13 454.45C433.2 454.22 433.96 453.26 434.87 453.17C435.79 453.08 436.55 453.99 437.61 453.9C438.68 453.81 440.05 453.05 441.27 452.62C442.49 452.19 443.86 451.8 444.92 451.34C445.99 450.88 446.9 450.28 447.66 449.88C448.42 449.48 448.97 448.97 449.49 448.97C450.01 448.97 450.31 449.48 450.77 449.88C451.22 450.28 451.74 451.46 452.23 451.34C452.72 451.22 453.2 450.12 453.69 449.15C454.18 448.17 454.7 446.44 455.15 445.5C455.61 444.55 456 443.42 456.43 443.49C456.86 443.55 457.25 444.92 457.71 445.86C458.17 446.8 458.71 448.48 459.17 449.15C459.63 449.82 460.02 450.12 460.45 449.88C460.88 449.64 461.27 448.81 461.73 447.69C462.19 446.56 462.7 444.64 463.19 443.12C463.68 441.6 464.19 439.62 464.65 438.55C465.11 437.49 465.53 436.73 465.93 436.73C466.33 436.73 466.66 437.49 467.03 438.55C467.39 439.62 467.73 441.45 468.12 443.12C468.52 444.79 468.94 447.08 469.4 448.6C469.86 450.12 470.31 451.34 470.86 452.25C471.41 453.17 471.99 453.71 472.69 454.08C473.39 454.46 474.67 454.43 475.06 454.5Z" fill="#507ad5" fill-opacity="0.6" stroke="#5f82ca" stroke-width="0.7" stroke-linejoin="round"/>
<rect x="425.2" y="364" width="90.6" height="90.5" fill="none" stroke="#8c8c8c" stroke-width="0.7" />
<path d="M425.2 364V454.5H515.8" fill="none" stroke="#444" stroke-width="0.9"/>
<line x1="423.2" y1="368.6" x2="425.2" y2="368.6" stroke="#444" stroke-width="0.8" />
<text x="420.4" y="371.7" font-size="8.8" text-anchor="end" fill="#1a1a1a">100</text>
<line x1="424.1" y1="372.9" x2="425.2" y2="372.9" stroke="#444" stroke-width="0.6" />
<line x1="424.1" y1="377.19" x2="425.2" y2="377.19" stroke="#444" stroke-width="0.6" />
<line x1="424.1" y1="381.49" x2="425.2" y2="381.49" stroke="#444" stroke-width="0.6" />
<line x1="423.2" y1="385.78" x2="425.2" y2="385.78" stroke="#444" stroke-width="0.8" />
<text x="420.4" y="388.88" font-size="8.8" text-anchor="end" fill="#1a1a1a">80</text>
<line x1="424.1" y1="390.08" x2="425.2" y2="390.08" stroke="#444" stroke-width="0.6" />
<line x1="424.1" y1="394.37" x2="425.2" y2="394.37" stroke="#444" stroke-width="0.6" />
<line x1="424.1" y1="398.67" x2="425.2" y2="398.67" stroke="#444" stroke-width="0.6" />
<line x1="423.2" y1="402.96" x2="425.2" y2="402.96" stroke="#444" stroke-width="0.8" />
<text x="420.4" y="406.06" font-size="8.8" text-anchor="end" fill="#1a1a1a">60</text>
<line x1="424.1" y1="407.26" x2="425.2" y2="407.26" stroke="#444" stroke-width="0.6" />
<line x1="424.1" y1="411.55" x2="425.2" y2="411.55" stroke="#444" stroke-width="0.6" />
<line x1="424.1" y1="415.85" x2="425.2" y2="415.85" stroke="#444" stroke-width="0.6" />
<line x1="423.2" y1="420.14" x2="425.2" y2="420.14" stroke="#444" stroke-width="0.8" />
<text x="420.4" y="423.24" font-size="8.8" text-anchor="end" fill="#1a1a1a">40</text>
<line x1="424.1" y1="424.44" x2="425.2" y2="424.44" stroke="#444" stroke-width="0.6" />
<line x1="424.1" y1="428.73" x2="425.2" y2="428.73" stroke="#444" stroke-width="0.6" />
<line x1="424.1" y1="433.02" x2="425.2" y2="433.02" stroke="#444" stroke-width="0.6" />
<line x1="423.2" y1="437.32" x2="425.2" y2="437.32" stroke="#444" stroke-width="0.8" />
<text x="420.4" y="440.42" font-size="8.8" text-anchor="end" fill="#1a1a1a">20</text>
<line x1="424.1" y1="441.62" x2="425.2" y2="441.62" stroke="#444" stroke-width="0.6" />
<line x1="424.1" y1="445.91" x2="425.2" y2="445.91" stroke="#444" stroke-width="0.6" />
<line x1="424.1" y1="450.2" x2="425.2" y2="450.2" stroke="#444" stroke-width="0.6" />
<line x1="423.2" y1="454.5" x2="425.2" y2="454.5" stroke="#444" stroke-width="0.8" />
<text x="420.4" y="457.6" font-size="8.8" text-anchor="end" fill="#1a1a1a">0</text>
<line x1="435" y1="454.5" x2="435" y2="456.5" stroke="#444" stroke-width="0.8" />
<text x="435" y="466" font-size="8.8" text-anchor="middle" fill="#1a1a1a">10<tspan dy="-2.8" font-size="5.98">1</tspan></text>
<line x1="453.8" y1="454.5" x2="453.8" y2="456.5" stroke="#444" stroke-width="0.8" />
<text x="453.8" y="466" font-size="8.8" text-anchor="middle" fill="#1a1a1a">10<tspan dy="-2.8" font-size="5.98">2</tspan></text>
<line x1="471.4" y1="454.5" x2="471.4" y2="456.5" stroke="#444" stroke-width="0.8" />
<text x="471.4" y="466" font-size="8.8" text-anchor="middle" fill="#1a1a1a">10<tspan dy="-2.8" font-size="5.98">3</tspan></text>
<line x1="491.4" y1="454.5" x2="491.4" y2="456.5" stroke="#444" stroke-width="0.8" />
<text x="491.4" y="466" font-size="8.8" text-anchor="middle" fill="#1a1a1a">10<tspan dy="-2.8" font-size="5.98">4</tspan></text>
<line x1="508.9" y1="454.5" x2="508.9" y2="456.5" stroke="#444" stroke-width="0.8" />
<text x="508.9" y="466" font-size="8.8" text-anchor="middle" fill="#1a1a1a">10<tspan dy="-2.8" font-size="5.98">5</tspan></text>
<line x1="427.65" y1="454.5" x2="427.65" y2="455.6" stroke="#444" stroke-width="0.5" />
<line x1="429.44" y1="454.5" x2="429.44" y2="455.6" stroke="#444" stroke-width="0.5" />
<line x1="430.9" y1="454.5" x2="430.9" y2="455.6" stroke="#444" stroke-width="0.5" />
<line x1="432.14" y1="454.5" x2="432.14" y2="455.6" stroke="#444" stroke-width="0.5" />
<line x1="433.21" y1="454.5" x2="433.21" y2="455.6" stroke="#444" stroke-width="0.5" />
<line x1="434.15" y1="454.5" x2="434.15" y2="455.6" stroke="#444" stroke-width="0.5" />
<line x1="440.56" y1="454.5" x2="440.56" y2="455.6" stroke="#444" stroke-width="0.5" />
<line x1="443.81" y1="454.5" x2="443.81" y2="455.6" stroke="#444" stroke-width="0.5" />
<line x1="446.12" y1="454.5" x2="446.12" y2="455.6" stroke="#444" stroke-width="0.5" />
<line x1="447.91" y1="454.5" x2="447.91" y2="455.6" stroke="#444" stroke-width="0.5" />
<line x1="449.38" y1="454.5" x2="449.38" y2="455.6" stroke="#444" stroke-width="0.5" />
<line x1="450.61" y1="454.5" x2="450.61" y2="455.6" stroke="#444" stroke-width="0.5" />
<line x1="451.68" y1="454.5" x2="451.68" y2="455.6" stroke="#444" stroke-width="0.5" />
<line x1="452.63" y1="454.5" x2="452.63" y2="455.6" stroke="#444" stroke-width="0.5" />
<line x1="459.04" y1="454.5" x2="459.04" y2="455.6" stroke="#444" stroke-width="0.5" />
<line x1="462.29" y1="454.5" x2="462.29" y2="455.6" stroke="#444" stroke-width="0.5" />
<line x1="464.6" y1="454.5" x2="464.6" y2="455.6" stroke="#444" stroke-width="0.5" />
<line x1="466.39" y1="454.5" x2="466.39" y2="455.6" stroke="#444" stroke-width="0.5" />
<line x1="467.85" y1="454.5" x2="467.85" y2="455.6" stroke="#444" stroke-width="0.5" />
<line x1="469.09" y1="454.5" x2="469.09" y2="455.6" stroke="#444" stroke-width="0.5" />
<line x1="470.16" y1="454.5" x2="470.16" y2="455.6" stroke="#444" stroke-width="0.5" />
<line x1="471.1" y1="454.5" x2="471.1" y2="455.6" stroke="#444" stroke-width="0.5" />
<line x1="477.51" y1="454.5" x2="477.51" y2="455.6" stroke="#444" stroke-width="0.5" />
<line x1="480.76" y1="454.5" x2="480.76" y2="455.6" stroke="#444" stroke-width="0.5" />
<line x1="483.07" y1="454.5" x2="483.07" y2="455.6" stroke="#444" stroke-width="0.5" />
<line x1="484.86" y1="454.5" x2="484.86" y2="455.6" stroke="#444" stroke-width="0.5" />
<line x1="486.33" y1="454.5" x2="486.33" y2="455.6" stroke="#444" stroke-width="0.5" />
<line x1="487.56" y1="454.5" x2="487.56" y2="455.6" stroke="#444" stroke-width="0.5" />
<line x1="488.63" y1="454.5" x2="488.63" y2="455.6" stroke="#444" stroke-width="0.5" />
<line x1="489.58" y1="454.5" x2="489.58" y2="455.6" stroke="#444" stroke-width="0.5" />
<line x1="495.99" y1="454.5" x2="495.99" y2="455.6" stroke="#444" stroke-width="0.5" />
<line x1="499.24" y1="454.5" x2="499.24" y2="455.6" stroke="#444" stroke-width="0.5" />
<line x1="501.55" y1="454.5" x2="501.55" y2="455.6" stroke="#444" stroke-width="0.5" />
<line x1="503.34" y1="454.5" x2="503.34" y2="455.6" stroke="#444" stroke-width="0.5" />
<line x1="504.8" y1="454.5" x2="504.8" y2="455.6" stroke="#444" stroke-width="0.5" />
<line x1="506.04" y1="454.5" x2="506.04" y2="455.6" stroke="#444" stroke-width="0.5" />
<line x1="507.11" y1="454.5" x2="507.11" y2="455.6" stroke="#444" stroke-width="0.5" />
<line x1="508.05" y1="454.5" x2="508.05" y2="455.6" stroke="#444" stroke-width="0.5" />
<line x1="514.46" y1="454.5" x2="514.46" y2="455.6" stroke="#444" stroke-width="0.5" />
<text x="470.5" y="360.6" font-size="8.8" text-anchor="middle" fill="#1a1a1a">Day 7–10</text>
<path d="M452.23 563.8C452.69 563.39 454.12 562.66 454.97 561.34C455.82 560.02 456.64 558.3 457.34 555.86C458.04 553.42 458.62 550.38 459.17 546.73C459.72 543.07 460.18 538.51 460.63 533.94C461.09 529.37 461.52 524.2 461.91 519.32C462.31 514.45 462.67 509.28 463.01 504.71C463.34 500.14 463.62 495.73 463.92 491.92C464.23 488.12 464.53 484.16 464.83 481.87C465.14 479.59 465.44 478.37 465.75 478.22C466.05 478.07 466.33 478.98 466.66 480.96C467 482.94 467.36 486.44 467.76 490.09C468.15 493.75 468.58 498.32 469.04 502.88C469.49 507.45 470.01 512.93 470.5 517.5C470.98 522.06 471.44 526.17 471.96 530.28C472.48 534.4 473.02 538.66 473.6 542.16C474.18 545.66 474.79 548.71 475.43 551.29C476.07 553.88 476.74 556.01 477.44 557.69C478.14 559.36 478.81 560.43 479.63 561.34C480.45 562.25 481.31 562.76 482.37 563.17C483.44 563.58 485.42 563.69 486.03 563.8Z" fill="#ee7171" fill-opacity="0.6" stroke="#dc7070" stroke-width="0.7" stroke-linejoin="round"/>
<path d="M434.87 563.8C435.79 563.63 438.83 563.36 440.35 562.8C441.88 562.24 442.94 561.58 444.01 560.43C445.07 559.27 445.9 557.84 446.75 555.86C447.6 553.88 448.39 551.6 449.12 548.55C449.85 545.51 450.52 541.55 451.13 537.59C451.74 533.63 452.26 529.37 452.78 524.8C453.29 520.24 453.78 514.76 454.24 510.19C454.7 505.62 455.09 501.36 455.52 497.4C455.94 493.44 456.37 489.43 456.8 486.44C457.22 483.46 457.68 480.87 458.07 479.5C458.47 478.13 458.81 477.98 459.17 478.22C459.54 478.46 459.93 478.98 460.27 480.96C460.6 482.94 460.88 486.14 461.18 490.09C461.48 494.05 461.79 499.53 462.09 504.71C462.4 509.89 462.7 515.67 463.01 521.15C463.31 526.63 463.62 532.72 463.92 537.59C464.23 542.46 464.53 546.88 464.83 550.38C465.14 553.88 465.41 556.62 465.75 558.6C466.08 560.58 466.42 561.39 466.84 562.25C467.27 563.12 468.06 563.54 468.31 563.8Z" fill="#507ad5" fill-opacity="0.6" stroke="#5f82ca" stroke-width="0.7" stroke-linejoin="round"/>
<rect x="425.2" y="473.6" width="90.6" height="90.2" fill="none" stroke="#8c8c8c" stroke-width="0.7" />
<path d="M425.2 473.6V563.8H515.8" fill="none" stroke="#444" stroke-width="0.9"/>
<line x1="423.2" y1="478.2" x2="425.2" y2="478.2" stroke="#444" stroke-width="0.8" />
<text x="420.4" y="481.3" font-size="8.8" text-anchor="end" fill="#1a1a1a">100</text>
<line x1="424.1" y1="482.48" x2="425.2" y2="482.48" stroke="#444" stroke-width="0.6" />
<line x1="424.1" y1="486.76" x2="425.2" y2="486.76" stroke="#444" stroke-width="0.6" />
<line x1="424.1" y1="491.04" x2="425.2" y2="491.04" stroke="#444" stroke-width="0.6" />
<line x1="423.2" y1="495.32" x2="425.2" y2="495.32" stroke="#444" stroke-width="0.8" />
<text x="420.4" y="498.42" font-size="8.8" text-anchor="end" fill="#1a1a1a">80</text>
<line x1="424.1" y1="499.6" x2="425.2" y2="499.6" stroke="#444" stroke-width="0.6" />
<line x1="424.1" y1="503.88" x2="425.2" y2="503.88" stroke="#444" stroke-width="0.6" />
<line x1="424.1" y1="508.16" x2="425.2" y2="508.16" stroke="#444" stroke-width="0.6" />
<line x1="423.2" y1="512.44" x2="425.2" y2="512.44" stroke="#444" stroke-width="0.8" />
<text x="420.4" y="515.54" font-size="8.8" text-anchor="end" fill="#1a1a1a">60</text>
<line x1="424.1" y1="516.72" x2="425.2" y2="516.72" stroke="#444" stroke-width="0.6" />
<line x1="424.1" y1="521" x2="425.2" y2="521" stroke="#444" stroke-width="0.6" />
<line x1="424.1" y1="525.28" x2="425.2" y2="525.28" stroke="#444" stroke-width="0.6" />
<line x1="423.2" y1="529.56" x2="425.2" y2="529.56" stroke="#444" stroke-width="0.8" />
<text x="420.4" y="532.66" font-size="8.8" text-anchor="end" fill="#1a1a1a">40</text>
<line x1="424.1" y1="533.84" x2="425.2" y2="533.84" stroke="#444" stroke-width="0.6" />
<line x1="424.1" y1="538.12" x2="425.2" y2="538.12" stroke="#444" stroke-width="0.6" />
<line x1="424.1" y1="542.4" x2="425.2" y2="542.4" stroke="#444" stroke-width="0.6" />
<line x1="423.2" y1="546.68" x2="425.2" y2="546.68" stroke="#444" stroke-width="0.8" />
<text x="420.4" y="549.78" font-size="8.8" text-anchor="end" fill="#1a1a1a">20</text>
<line x1="424.1" y1="550.96" x2="425.2" y2="550.96" stroke="#444" stroke-width="0.6" />
<line x1="424.1" y1="555.24" x2="425.2" y2="555.24" stroke="#444" stroke-width="0.6" />
<line x1="424.1" y1="559.52" x2="425.2" y2="559.52" stroke="#444" stroke-width="0.6" />
<line x1="423.2" y1="563.8" x2="425.2" y2="563.8" stroke="#444" stroke-width="0.8" />
<text x="420.4" y="566.9" font-size="8.8" text-anchor="end" fill="#1a1a1a">0</text>
<line x1="435" y1="563.8" x2="435" y2="565.8" stroke="#444" stroke-width="0.8" />
<text x="435" y="574.3" font-size="8.8" text-anchor="middle" fill="#1a1a1a">10<tspan dy="-2.8" font-size="5.98">1</tspan></text>
<line x1="453.8" y1="563.8" x2="453.8" y2="565.8" stroke="#444" stroke-width="0.8" />
<text x="453.8" y="574.3" font-size="8.8" text-anchor="middle" fill="#1a1a1a">10<tspan dy="-2.8" font-size="5.98">2</tspan></text>
<line x1="471.4" y1="563.8" x2="471.4" y2="565.8" stroke="#444" stroke-width="0.8" />
<text x="471.4" y="574.3" font-size="8.8" text-anchor="middle" fill="#1a1a1a">10<tspan dy="-2.8" font-size="5.98">3</tspan></text>
<line x1="491.4" y1="563.8" x2="491.4" y2="565.8" stroke="#444" stroke-width="0.8" />
<text x="491.4" y="574.3" font-size="8.8" text-anchor="middle" fill="#1a1a1a">10<tspan dy="-2.8" font-size="5.98">4</tspan></text>
<line x1="508.9" y1="563.8" x2="508.9" y2="565.8" stroke="#444" stroke-width="0.8" />
<text x="508.9" y="574.3" font-size="8.8" text-anchor="middle" fill="#1a1a1a">10<tspan dy="-2.8" font-size="5.98">5</tspan></text>
<line x1="427.65" y1="563.8" x2="427.65" y2="564.9" stroke="#444" stroke-width="0.5" />
<line x1="429.44" y1="563.8" x2="429.44" y2="564.9" stroke="#444" stroke-width="0.5" />
<line x1="430.9" y1="563.8" x2="430.9" y2="564.9" stroke="#444" stroke-width="0.5" />
<line x1="432.14" y1="563.8" x2="432.14" y2="564.9" stroke="#444" stroke-width="0.5" />
<line x1="433.21" y1="563.8" x2="433.21" y2="564.9" stroke="#444" stroke-width="0.5" />
<line x1="434.15" y1="563.8" x2="434.15" y2="564.9" stroke="#444" stroke-width="0.5" />
<line x1="440.56" y1="563.8" x2="440.56" y2="564.9" stroke="#444" stroke-width="0.5" />
<line x1="443.81" y1="563.8" x2="443.81" y2="564.9" stroke="#444" stroke-width="0.5" />
<line x1="446.12" y1="563.8" x2="446.12" y2="564.9" stroke="#444" stroke-width="0.5" />
<line x1="447.91" y1="563.8" x2="447.91" y2="564.9" stroke="#444" stroke-width="0.5" />
<line x1="449.38" y1="563.8" x2="449.38" y2="564.9" stroke="#444" stroke-width="0.5" />
<line x1="450.61" y1="563.8" x2="450.61" y2="564.9" stroke="#444" stroke-width="0.5" />
<line x1="451.68" y1="563.8" x2="451.68" y2="564.9" stroke="#444" stroke-width="0.5" />
<line x1="452.63" y1="563.8" x2="452.63" y2="564.9" stroke="#444" stroke-width="0.5" />
<line x1="459.04" y1="563.8" x2="459.04" y2="564.9" stroke="#444" stroke-width="0.5" />
<line x1="462.29" y1="563.8" x2="462.29" y2="564.9" stroke="#444" stroke-width="0.5" />
<line x1="464.6" y1="563.8" x2="464.6" y2="564.9" stroke="#444" stroke-width="0.5" />
<line x1="466.39" y1="563.8" x2="466.39" y2="564.9" stroke="#444" stroke-width="0.5" />
<line x1="467.85" y1="563.8" x2="467.85" y2="564.9" stroke="#444" stroke-width="0.5" />
<line x1="469.09" y1="563.8" x2="469.09" y2="564.9" stroke="#444" stroke-width="0.5" />
<line x1="470.16" y1="563.8" x2="470.16" y2="564.9" stroke="#444" stroke-width="0.5" />
<line x1="471.1" y1="563.8" x2="471.1" y2="564.9" stroke="#444" stroke-width="0.5" />
<line x1="477.51" y1="563.8" x2="477.51" y2="564.9" stroke="#444" stroke-width="0.5" />
<line x1="480.76" y1="563.8" x2="480.76" y2="564.9" stroke="#444" stroke-width="0.5" />
<line x1="483.07" y1="563.8" x2="483.07" y2="564.9" stroke="#444" stroke-width="0.5" />
<line x1="484.86" y1="563.8" x2="484.86" y2="564.9" stroke="#444" stroke-width="0.5" />
<line x1="486.33" y1="563.8" x2="486.33" y2="564.9" stroke="#444" stroke-width="0.5" />
<line x1="487.56" y1="563.8" x2="487.56" y2="564.9" stroke="#444" stroke-width="0.5" />
<line x1="488.63" y1="563.8" x2="488.63" y2="564.9" stroke="#444" stroke-width="0.5" />
<line x1="489.58" y1="563.8" x2="489.58" y2="564.9" stroke="#444" stroke-width="0.5" />
<line x1="495.99" y1="563.8" x2="495.99" y2="564.9" stroke="#444" stroke-width="0.5" />
<line x1="499.24" y1="563.8" x2="499.24" y2="564.9" stroke="#444" stroke-width="0.5" />
<line x1="501.55" y1="563.8" x2="501.55" y2="564.9" stroke="#444" stroke-width="0.5" />
<line x1="503.34" y1="563.8" x2="503.34" y2="564.9" stroke="#444" stroke-width="0.5" />
<line x1="504.8" y1="563.8" x2="504.8" y2="564.9" stroke="#444" stroke-width="0.5" />
<line x1="506.04" y1="563.8" x2="506.04" y2="564.9" stroke="#444" stroke-width="0.5" />
<line x1="507.11" y1="563.8" x2="507.11" y2="564.9" stroke="#444" stroke-width="0.5" />
<line x1="508.05" y1="563.8" x2="508.05" y2="564.9" stroke="#444" stroke-width="0.5" />
<line x1="514.46" y1="563.8" x2="514.46" y2="564.9" stroke="#444" stroke-width="0.5" />
<text x="470.6" y="585.6" font-size="8.8" text-anchor="middle" fill="#1a1a1a">BCMA-PE</text>
<text x="262" y="364.5" font-size="10.7" text-anchor="start" fill="#000" font-weight="bold">F</text>
</svg>
</body></html>
